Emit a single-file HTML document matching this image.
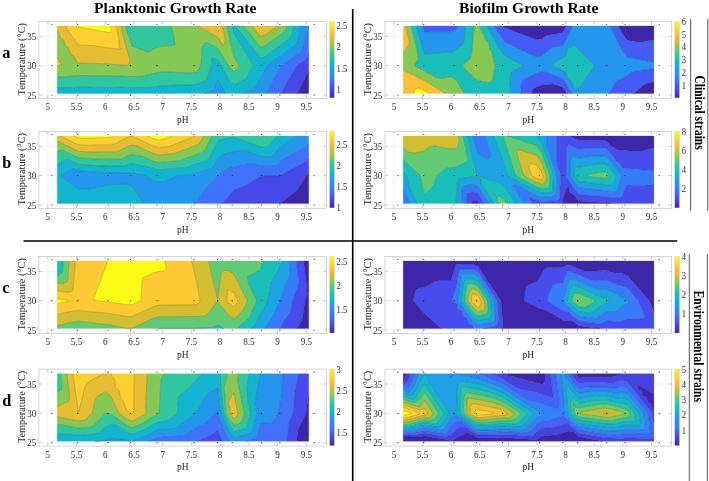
<!DOCTYPE html>
<html><head><meta charset="utf-8"><title>Growth rate contour figure</title>
<style>html,body{margin:0;padding:0;background:#fff}svg{display:block}</style></head>
<body>
<svg width="709" height="481" viewBox="0 0 709 481" font-family="'Liberation Serif', serif">
<rect width="709" height="481" fill="#fff"/>
<defs><linearGradient id="pg" x1="0" y1="1" x2="0" y2="0"><stop offset="0.0000" stop-color="#3e26a8"/><stop offset="0.0357" stop-color="#4131c1"/><stop offset="0.0714" stop-color="#453cd9"/><stop offset="0.1071" stop-color="#4647e7"/><stop offset="0.1429" stop-color="#4852f4"/><stop offset="0.1786" stop-color="#4460f9"/><stop offset="0.2143" stop-color="#416efe"/><stop offset="0.2500" stop-color="#377afa"/><stop offset="0.2857" stop-color="#2e87f7"/><stop offset="0.3214" stop-color="#2792ef"/><stop offset="0.3571" stop-color="#219de8"/><stop offset="0.3929" stop-color="#19a7df"/><stop offset="0.4286" stop-color="#12b1d6"/><stop offset="0.4643" stop-color="#16b8c8"/><stop offset="0.5000" stop-color="#1abeb9"/><stop offset="0.5357" stop-color="#28c3a8"/><stop offset="0.5714" stop-color="#37c897"/><stop offset="0.6071" stop-color="#54c97e"/><stop offset="0.6429" stop-color="#70cb66"/><stop offset="0.6786" stop-color="#91c74e"/><stop offset="0.7143" stop-color="#b3c437"/><stop offset="0.7500" stop-color="#d2bf31"/><stop offset="0.7857" stop-color="#eabb33"/><stop offset="0.8214" stop-color="#f7be36"/><stop offset="0.8571" stop-color="#fec338"/><stop offset="0.8929" stop-color="#fdd130"/><stop offset="0.9286" stop-color="#fbde29"/><stop offset="0.9643" stop-color="#faec1f"/><stop offset="1.0000" stop-color="#f9fb15"/></linearGradient></defs>
<path d="M47.8 21.6V97.9M76.5 21.6V97.9M105.3 21.6V97.9M134.0 21.6V97.9M162.7 21.6V97.9M191.4 21.6V97.9M220.1 21.6V97.9M248.9 21.6V97.9M277.6 21.6V97.9M306.3 21.6V97.9M39.2 95.0H326.4M39.2 65.6H326.4M39.2 36.3H326.4" stroke="#e6e6e6" stroke-width="0.5" fill="none"/>
<path fill="#3e26a8" stroke="#3e26a8" stroke-width="0.3" fill-rule="evenodd" d="M296.9 93.5L298.0 93.5L303.3 93.5L308.7 93.5L308.7 92.1L308.7 90.7L308.7 89.2L308.7 87.8L308.7 86.3L308.7 84.9L308.7 83.5L308.7 82.0L308.7 80.6L308.7 79.2L308.7 77.7L308.7 76.3L308.7 74.8L308.7 73.4L308.7 72.0L308.7 71.1L308.3 72.0L307.5 73.4L306.8 74.8L306.0 76.3L305.2 77.7L304.5 79.2L303.7 80.6L303.3 81.3L303.0 82.0L302.2 83.5L301.4 84.9L300.7 86.3L299.9 87.8L299.2 89.2L298.4 90.7L298.0 91.5L297.7 92.1Z"/>
<path fill="#4648e8" stroke="#4648e8" stroke-width="0.3" fill-rule="evenodd" d="M280.7 93.5L281.9 93.5L287.3 93.5L292.6 93.5L296.9 93.5L297.7 92.1L298.0 91.5L298.4 90.7L299.2 89.2L299.9 87.8L300.7 86.3L301.4 84.9L302.2 83.5L303.0 82.0L303.3 81.3L303.7 80.6L304.5 79.2L305.2 77.7L306.0 76.3L306.8 74.8L307.5 73.4L308.3 72.0L308.7 71.1L308.7 70.5L308.7 69.1L308.7 67.7L308.7 66.2L308.7 64.8L308.7 63.3L308.7 61.9L308.7 60.5L308.7 59.0L308.7 57.6L308.7 56.2L308.7 54.7L308.7 53.9L308.4 54.7L307.9 56.2L307.1 57.6L306.0 59.0L304.0 60.5L303.3 60.9L301.9 61.9L299.9 63.3L298.0 64.6L297.8 64.8L296.2 66.2L295.4 67.7L294.6 69.1L293.8 70.5L293.0 72.0L292.6 72.5L292.1 73.4L291.3 74.8L290.5 76.3L289.7 77.7L288.9 79.2L288.1 80.6L287.3 81.9L287.2 82.0L286.4 83.5L285.6 84.9L284.8 86.3L284.0 87.8L283.2 89.2L282.3 90.7L281.9 91.3L281.5 92.1Z"/>
<path fill="#3f71fd" stroke="#3f71fd" stroke-width="0.3" fill-rule="evenodd" d="M266.0 93.5L271.2 93.5L276.6 93.5L280.7 93.5L281.5 92.1L281.9 91.3L282.3 90.7L283.2 89.2L284.0 87.8L284.8 86.3L285.6 84.9L286.4 83.5L287.2 82.0L287.3 81.9L288.1 80.6L288.9 79.2L289.7 77.7L290.5 76.3L291.3 74.8L292.1 73.4L292.6 72.5L293.0 72.0L293.8 70.5L294.6 69.1L295.4 67.7L296.2 66.2L297.8 64.8L298.0 64.6L299.9 63.3L301.9 61.9L303.3 60.9L304.0 60.5L306.0 59.0L307.1 57.6L307.9 56.2L308.4 54.7L308.7 53.9L308.7 53.3L308.7 51.8L308.7 50.4L308.7 49.0L308.7 47.5L308.7 46.1L308.7 44.7L308.7 43.2L308.7 41.8L308.7 40.3L308.7 38.9L308.7 37.5L308.7 36.0L308.7 34.6L308.7 33.2L308.7 31.7L308.7 30.3L308.7 28.8L308.7 27.4L308.7 26.0L308.6 26.0L308.2 27.4L307.9 28.8L307.5 30.3L307.1 31.7L306.7 33.2L306.4 34.6L306.0 36.0L305.6 37.5L305.3 38.9L304.9 40.3L304.5 41.8L304.2 43.2L303.8 44.7L303.4 46.1L303.3 46.4L303.0 47.5L302.5 49.0L301.8 50.4L300.8 51.8L299.2 53.3L298.0 54.1L297.1 54.7L295.0 56.2L293.0 57.6L292.6 57.8L290.9 59.0L288.8 60.5L287.3 61.5L286.7 61.9L284.7 63.3L282.6 64.8L281.9 65.4L281.1 66.2L280.3 67.7L279.5 69.1L278.7 70.5L278.0 72.0L277.2 73.4L276.6 74.5L276.4 74.8L275.6 76.3L274.9 77.7L274.1 79.2L273.4 80.6L272.6 82.0L271.8 83.5L271.2 84.4L271.0 84.9L270.1 86.3L269.3 87.8L268.5 89.2L267.7 90.7L266.8 92.1Z"/>
<path fill="#2596ed" stroke="#2596ed" stroke-width="0.3" fill-rule="evenodd" d="M204.7 93.5L207.0 93.5L212.4 93.5L217.7 93.5L223.1 93.5L225.9 93.5L225.0 92.1L224.1 90.7L223.3 89.2L223.1 88.8L222.4 87.8L221.6 86.3L220.7 84.9L219.9 83.5L219.0 82.0L218.2 80.6L217.7 79.8L217.4 80.6L216.9 82.0L216.4 83.5L215.8 84.9L215.3 86.3L214.7 87.8L213.9 89.2L212.5 90.7L212.4 90.7L208.6 92.1L207.0 92.7ZM243.6 93.5L244.5 93.5L249.8 93.5L255.2 93.5L260.5 93.5L265.9 93.5L266.0 93.5L266.8 92.1L267.7 90.7L268.5 89.2L269.3 87.8L270.1 86.3L271.0 84.9L271.2 84.4L271.8 83.5L272.6 82.0L273.4 80.6L274.1 79.2L274.9 77.7L275.6 76.3L276.4 74.8L276.6 74.5L277.2 73.4L278.0 72.0L278.7 70.5L279.5 69.1L280.3 67.7L281.1 66.2L281.9 65.4L282.6 64.8L284.7 63.3L286.7 61.9L287.3 61.5L288.8 60.5L290.9 59.0L292.6 57.8L293.0 57.6L295.0 56.2L297.1 54.7L298.0 54.1L299.2 53.3L300.8 51.8L301.8 50.4L302.5 49.0L303.0 47.5L303.3 46.4L303.4 46.1L303.8 44.7L304.2 43.2L304.5 41.8L304.9 40.3L305.3 38.9L305.6 37.5L306.0 36.0L306.4 34.6L306.7 33.2L307.1 31.7L307.5 30.3L307.9 28.8L308.2 27.4L308.6 26.0L303.3 26.0L301.3 26.0L301.0 27.4L300.6 28.8L300.2 30.3L299.8 31.7L299.5 33.2L299.1 34.6L298.7 36.0L298.4 37.5L298.0 38.9L298.0 38.9L297.6 40.3L297.1 41.8L296.5 43.2L295.6 44.7L294.3 46.1L292.6 47.3L292.3 47.5L290.2 49.0L288.1 50.4L287.3 51.0L286.1 51.8L284.0 53.3L281.9 54.7L281.9 54.7L279.9 56.2L277.9 57.6L276.6 58.5L275.9 59.0L274.0 60.5L272.1 61.9L271.2 62.5L270.2 63.3L268.3 64.8L266.8 66.2L266.1 67.7L265.9 68.0L265.3 69.1L264.5 70.5L263.7 72.0L262.9 73.4L262.1 74.8L261.3 76.3L260.5 77.6L260.5 77.7L259.7 79.2L258.9 80.6L258.1 82.0L257.3 83.5L256.5 84.9L255.7 86.3L255.2 87.4L254.8 87.8L252.6 89.2L249.8 90.5L249.6 90.7L246.6 92.1L244.5 93.1Z"/>
<path fill="#13b4d0" stroke="#13b4d0" stroke-width="0.3" fill-rule="evenodd" d="M57.2 93.5L62.5 93.5L67.9 93.5L73.2 93.5L78.6 93.5L83.9 93.5L89.3 93.5L94.6 93.5L100.0 93.5L105.3 93.5L110.7 93.5L116.1 93.5L121.4 93.5L126.8 93.5L132.1 93.5L137.5 93.5L142.8 93.5L148.2 93.5L153.5 93.5L158.9 93.5L164.2 93.5L169.6 93.5L174.9 93.5L180.3 93.5L185.6 93.5L191.0 93.5L196.3 93.5L201.7 93.5L204.7 93.5L207.0 92.7L208.6 92.1L212.4 90.7L212.5 90.7L213.9 89.2L214.7 87.8L215.3 86.3L215.8 84.9L216.4 83.5L216.9 82.0L217.4 80.6L217.7 79.8L218.2 80.6L219.0 82.0L219.9 83.5L220.7 84.9L221.6 86.3L222.4 87.8L223.1 88.8L223.3 89.2L224.1 90.7L225.0 92.1L225.9 93.5L228.4 93.5L233.8 93.5L239.1 93.5L243.6 93.5L244.5 93.1L246.6 92.1L249.6 90.7L249.8 90.5L252.6 89.2L254.8 87.8L255.2 87.4L255.7 86.3L256.5 84.9L257.3 83.5L258.1 82.0L258.9 80.6L259.7 79.2L260.5 77.7L260.5 77.6L261.3 76.3L262.1 74.8L262.9 73.4L263.7 72.0L264.5 70.5L265.3 69.1L265.9 68.0L266.1 67.7L266.8 66.2L268.3 64.8L270.2 63.3L271.2 62.5L272.1 61.9L274.0 60.5L275.9 59.0L276.6 58.5L277.9 57.6L279.9 56.2L281.9 54.7L281.9 54.7L284.0 53.3L286.1 51.8L287.3 51.0L288.1 50.4L290.2 49.0L292.3 47.5L292.6 47.3L294.3 46.1L295.6 44.7L296.5 43.2L297.1 41.8L297.6 40.3L298.0 38.9L298.0 38.9L298.4 37.5L298.7 36.0L299.1 34.6L299.5 33.2L299.8 31.7L300.2 30.3L300.6 28.8L301.0 27.4L301.3 26.0L298.0 26.0L294.0 26.0L293.7 27.4L293.3 28.8L292.9 30.3L292.6 31.4L292.6 31.7L292.2 33.2L291.8 34.6L291.2 36.0L290.4 37.5L289.2 38.9L287.5 40.3L287.3 40.5L285.4 41.8L283.3 43.2L281.9 44.2L281.3 44.7L279.2 46.1L277.2 47.5L276.6 48.0L275.2 49.0L273.2 50.4L271.3 51.8L271.2 51.9L269.4 53.3L267.5 54.7L265.9 55.9L265.2 56.2L261.6 57.6L260.5 58.0L260.2 57.6L259.1 56.2L258.0 54.7L256.8 53.3L255.7 51.8L255.2 51.2L254.4 50.4L253.5 49.0L252.3 47.5L251.2 46.1L250.1 44.7L249.8 44.4L248.5 43.2L247.8 41.8L246.7 40.3L245.6 38.9L244.5 37.5L244.3 37.5L242.6 36.0L242.0 34.6L241.1 33.2L239.9 31.7L239.1 30.7L237.8 30.3L236.5 28.8L236.1 27.4L235.4 26.0L233.8 26.0L232.6 26.0L232.5 27.4L232.8 28.8L233.1 30.3L233.5 31.7L233.8 33.1L233.9 33.2L234.7 34.6L235.5 36.0L236.4 37.5L237.3 38.9L238.1 40.3L239.0 41.8L239.1 42.1L239.8 43.2L240.7 44.7L241.5 46.1L242.4 47.5L243.2 49.0L244.1 50.4L244.5 51.1L244.9 51.8L245.8 53.3L246.6 54.7L247.5 56.2L248.4 57.6L249.2 59.0L249.8 60.1L250.1 60.5L250.9 61.9L251.8 63.3L252.6 64.8L252.8 66.2L252.0 67.7L251.2 69.1L250.4 70.5L249.8 71.6L249.7 72.0L248.9 73.4L248.1 74.8L247.3 76.3L246.5 77.7L245.2 79.2L244.5 79.8L242.7 80.6L239.7 82.0L239.1 82.3L236.7 83.5L233.8 84.9L232.6 83.5L231.4 82.0L230.1 80.6L228.9 79.2L228.4 78.6L227.9 77.7L227.2 76.3L226.4 74.8L225.7 73.4L224.9 72.0L224.1 70.5L223.3 69.1L223.1 68.6L222.5 67.7L221.8 66.2L220.9 64.8L220.0 63.3L219.1 61.9L218.2 60.5L217.7 59.7L213.8 59.0L212.6 57.6L212.4 57.3L212.3 57.6L212.1 59.0L212.0 60.5L211.9 61.9L211.7 63.3L211.6 64.8L211.3 66.2L210.8 67.7L210.3 69.1L209.8 70.5L209.3 72.0L208.8 73.4L208.3 74.8L207.7 76.3L207.2 77.7L207.0 78.3L206.5 79.2L205.2 80.6L202.7 82.0L201.7 82.4L198.7 83.5L196.3 84.3L192.3 84.9L191.0 85.1L185.6 84.9L185.5 84.9L180.3 84.8L178.5 84.9L174.9 85.1L169.6 85.4L164.2 85.7L158.9 86.0L157.0 86.3L153.5 87.0L148.2 87.7L142.8 87.6L137.5 87.5L132.1 87.4L126.8 87.2L121.4 87.1L116.1 87.3L110.7 87.4L105.3 87.4L100.0 87.3L94.6 87.2L89.3 87.1L83.9 87.0L78.6 86.9L73.2 87.4L67.9 87.6L62.5 87.6L57.2 87.6L57.2 87.8L57.2 89.2L57.2 90.7L57.2 92.1Z"/>
<path fill="#31c69e" stroke="#31c69e" stroke-width="0.3" fill-rule="evenodd" d="M57.2 86.3L57.2 87.6L62.5 87.6L67.9 87.6L73.2 87.4L78.6 86.9L83.9 87.0L89.3 87.1L94.6 87.2L100.0 87.3L105.3 87.4L110.7 87.4L116.1 87.3L121.4 87.1L126.8 87.2L132.1 87.4L137.5 87.5L142.8 87.6L148.2 87.7L153.5 87.0L157.0 86.3L158.9 86.0L164.2 85.7L169.6 85.4L174.9 85.1L178.5 84.9L180.3 84.8L185.5 84.9L185.6 84.9L191.0 85.1L192.3 84.9L196.3 84.3L198.7 83.5L201.7 82.4L202.7 82.0L205.2 80.6L206.5 79.2L207.0 78.3L207.2 77.7L207.7 76.3L208.3 74.8L208.8 73.4L209.3 72.0L209.8 70.5L210.3 69.1L210.8 67.7L211.3 66.2L211.6 64.8L211.7 63.3L211.9 61.9L212.0 60.5L212.1 59.0L212.3 57.6L212.4 57.3L212.6 57.6L213.8 59.0L217.7 59.7L218.2 60.5L219.1 61.9L220.0 63.3L220.9 64.8L221.8 66.2L222.5 67.7L223.1 68.6L223.3 69.1L224.1 70.5L224.9 72.0L225.7 73.4L226.4 74.8L227.2 76.3L227.9 77.7L228.4 78.6L228.9 79.2L230.1 80.6L231.4 82.0L232.6 83.5L233.8 84.9L236.7 83.5L239.1 82.3L239.7 82.0L242.7 80.6L244.5 79.8L245.2 79.2L246.5 77.7L247.3 76.3L248.1 74.8L248.9 73.4L249.7 72.0L249.8 71.6L250.4 70.5L251.2 69.1L252.0 67.7L252.8 66.2L252.6 64.8L251.8 63.3L250.9 61.9L250.1 60.5L249.8 60.1L249.2 59.0L248.4 57.6L247.5 56.2L246.6 54.7L245.8 53.3L244.9 51.8L244.5 51.1L244.1 50.4L243.2 49.0L242.4 47.5L241.5 46.1L240.7 44.7L239.8 43.2L239.1 42.1L239.0 41.8L238.1 40.3L237.3 38.9L236.4 37.5L235.5 36.0L234.7 34.6L233.9 33.2L233.8 33.1L233.5 31.7L233.1 30.3L232.8 28.8L232.5 27.4L232.6 26.0L228.4 26.0L227.0 26.0L227.3 27.4L227.5 28.8L227.8 30.3L228.1 31.7L228.3 33.2L228.4 33.6L228.7 34.6L229.0 36.0L229.3 37.5L229.7 38.9L230.0 40.3L230.3 41.8L230.7 43.2L231.0 44.7L231.3 46.1L231.7 47.5L232.0 49.0L232.3 50.4L232.7 51.8L233.0 53.3L233.4 54.7L233.7 56.2L233.8 56.5L234.4 57.6L235.3 59.0L236.1 60.5L237.0 61.9L237.8 63.3L238.7 64.8L238.8 66.2L238.0 67.7L236.9 69.1L235.3 70.5L233.8 71.5L232.9 70.5L231.7 69.1L230.5 67.7L229.3 66.2L228.4 65.3L228.1 64.8L227.2 63.3L226.3 61.9L225.4 60.5L224.4 59.0L223.5 57.6L223.1 56.9L222.6 56.2L221.7 54.7L220.8 53.3L219.9 51.8L219.0 50.4L218.1 49.0L217.7 48.4L216.2 47.5L213.7 46.1L212.4 45.3L211.2 44.7L208.5 43.2L207.0 42.4L204.6 43.2L203.2 44.7L202.6 46.1L202.3 47.5L202.1 49.0L202.0 50.4L201.9 51.8L201.7 53.3L201.7 53.8L201.6 54.7L201.5 56.2L201.3 57.6L201.2 59.0L201.1 60.5L200.9 61.9L200.8 63.3L200.7 64.8L200.4 66.2L199.9 67.7L199.2 69.1L198.1 70.5L196.5 72.0L196.3 72.1L191.0 72.9L185.6 72.7L180.3 72.5L174.9 72.3L169.6 72.1L164.2 72.0L158.9 72.3L153.5 73.3L153.2 73.4L148.2 74.7L147.7 74.8L142.8 76.1L141.2 76.3L137.5 76.6L132.1 76.5L126.8 76.3L126.2 76.3L121.4 76.0L116.1 75.8L110.7 75.9L105.3 75.9L100.0 75.8L94.6 75.7L89.3 75.6L83.9 75.5L78.6 75.4L73.2 75.9L69.8 76.3L67.9 76.5L62.5 77.1L57.2 77.1L57.2 77.7L57.2 79.2L57.2 80.6L57.2 82.0L57.2 83.5L57.2 84.9ZM260.2 57.6L260.5 58.0L261.6 57.6L265.2 56.2L265.9 55.9L267.5 54.7L269.4 53.3L271.2 51.9L271.3 51.8L273.2 50.4L275.2 49.0L276.6 48.0L277.2 47.5L279.2 46.1L281.3 44.7L281.9 44.2L283.3 43.2L285.4 41.8L287.3 40.5L287.5 40.3L289.2 38.9L290.4 37.5L291.2 36.0L291.8 34.6L292.2 33.2L292.6 31.7L292.6 31.4L292.9 30.3L293.3 28.8L293.7 27.4L294.0 26.0L292.6 26.0L287.3 26.0L286.8 26.0L286.4 27.4L285.8 28.8L285.1 30.3L284.1 31.7L282.6 33.2L281.9 33.6L280.6 34.6L278.6 36.0L276.6 37.4L276.5 37.5L274.5 38.9L272.5 40.3L271.2 41.3L270.5 41.8L268.6 43.2L266.6 44.7L265.9 45.2L263.7 46.1L260.5 47.3L259.6 46.1L258.4 44.7L257.3 43.2L256.2 41.8L255.2 40.5L255.1 40.3L253.9 38.9L252.8 37.5L251.7 36.0L250.6 34.6L249.8 33.7L249.4 33.2L248.3 31.7L247.2 30.3L246.0 28.8L244.9 27.4L244.5 26.9L243.8 26.0L239.1 26.0L235.4 26.0L236.1 27.4L236.5 28.8L237.8 30.3L239.1 30.7L239.9 31.7L241.1 33.2L242.0 34.6L242.6 36.0L244.3 37.5L244.5 37.5L245.6 38.9L246.7 40.3L247.8 41.8L248.5 43.2L249.8 44.4L250.1 44.7L251.2 46.1L252.3 47.5L253.5 49.0L254.4 50.4L255.2 51.2L255.7 51.8L256.8 53.3L258.0 54.7L259.1 56.2ZM147.2 51.8L148.2 52.2L149.2 51.8L151.5 50.4L153.5 49.1L153.9 49.0L157.1 47.5L158.9 46.8L164.2 46.2L165.4 46.1L169.6 45.7L174.9 45.1L175.2 44.7L175.1 43.2L174.9 42.3L174.7 41.8L174.4 40.3L174.2 38.9L173.9 37.5L173.6 36.0L173.3 34.6L173.0 33.2L172.8 31.7L172.5 30.3L172.2 28.8L171.9 27.4L171.6 26.0L169.6 26.0L164.2 26.0L158.9 26.0L153.5 26.0L148.2 26.0L142.8 26.0L137.5 26.0L132.1 26.0L126.8 26.0L125.7 26.0L126.1 27.4L126.4 28.8L126.8 30.2L126.8 30.3L127.3 31.7L127.7 33.2L128.2 34.6L128.7 36.0L129.2 37.5L129.7 38.9L130.2 40.3L130.6 41.8L131.1 43.2L131.6 44.7L132.1 46.1L132.1 46.2L135.7 47.5L137.5 48.2L139.5 49.0L142.8 50.2L143.5 50.4Z"/>
<path fill="#86c856" stroke="#86c856" stroke-width="0.3" fill-rule="evenodd" d="M57.2 76.3L57.2 77.1L62.5 77.1L67.9 76.5L69.8 76.3L73.2 75.9L78.6 75.4L83.9 75.5L89.3 75.6L94.6 75.7L100.0 75.8L105.3 75.9L110.7 75.9L116.1 75.8L121.4 76.0L126.2 76.3L126.8 76.3L132.1 76.5L137.5 76.6L141.2 76.3L142.8 76.1L147.7 74.8L148.2 74.7L153.2 73.4L153.5 73.3L158.9 72.3L164.2 72.0L169.6 72.1L174.9 72.3L180.3 72.5L185.6 72.7L191.0 72.9L196.3 72.1L196.5 72.0L198.1 70.5L199.2 69.1L199.9 67.7L200.4 66.2L200.7 64.8L200.8 63.3L200.9 61.9L201.1 60.5L201.2 59.0L201.3 57.6L201.5 56.2L201.6 54.7L201.7 53.8L201.7 53.3L201.9 51.8L202.0 50.4L202.1 49.0L202.3 47.5L202.6 46.1L203.2 44.7L204.6 43.2L207.0 42.4L208.5 43.2L211.2 44.7L212.4 45.3L213.7 46.1L216.2 47.5L217.7 48.4L218.1 49.0L219.0 50.4L219.9 51.8L220.8 53.3L221.7 54.7L222.6 56.2L223.1 56.9L223.5 57.6L224.4 59.0L225.4 60.5L226.3 61.9L227.2 63.3L228.1 64.8L228.4 65.3L229.3 66.2L230.5 67.7L231.7 69.1L232.9 70.5L233.8 71.5L235.3 70.5L236.9 69.1L238.0 67.7L238.8 66.2L238.7 64.8L237.8 63.3L237.0 61.9L236.1 60.5L235.3 59.0L234.4 57.6L233.8 56.5L233.7 56.2L233.4 54.7L233.0 53.3L232.7 51.8L232.3 50.4L232.0 49.0L231.7 47.5L231.3 46.1L231.0 44.7L230.7 43.2L230.3 41.8L230.0 40.3L229.7 38.9L229.3 37.5L229.0 36.0L228.7 34.6L228.4 33.6L228.3 33.2L228.1 31.7L227.8 30.3L227.5 28.8L227.3 27.4L227.0 26.0L223.1 26.0L222.6 26.0L222.8 27.4L223.1 28.4L223.2 28.8L223.4 30.3L223.7 31.7L224.0 33.2L224.2 34.6L224.5 36.0L224.8 37.5L225.0 38.9L225.2 40.3L224.9 41.8L224.5 43.2L223.8 44.7L223.1 45.6L222.5 44.7L221.6 43.2L220.6 41.8L219.7 40.3L219.1 38.9L218.0 37.5L217.7 37.2L215.7 36.0L213.3 34.6L212.4 34.1L210.7 33.2L208.1 31.7L207.0 31.1L205.5 30.3L202.9 28.8L201.7 28.2L200.3 27.4L197.6 26.0L196.3 26.0L191.0 26.0L185.6 26.0L180.3 26.0L174.9 26.0L171.6 26.0L171.9 27.4L172.2 28.8L172.5 30.3L172.8 31.7L173.0 33.2L173.3 34.6L173.6 36.0L173.9 37.5L174.2 38.9L174.4 40.3L174.7 41.8L174.9 42.3L175.1 43.2L175.2 44.7L174.9 45.1L169.6 45.7L165.4 46.1L164.2 46.2L158.9 46.8L157.1 47.5L153.9 49.0L153.5 49.1L151.5 50.4L149.2 51.8L148.2 52.2L147.2 51.8L143.5 50.4L142.8 50.2L139.5 49.0L137.5 48.2L135.7 47.5L132.1 46.2L132.1 46.1L131.6 44.7L131.1 43.2L130.6 41.8L130.2 40.3L129.7 38.9L129.2 37.5L128.7 36.0L128.2 34.6L127.7 33.2L127.3 31.7L126.8 30.3L126.8 30.2L126.4 28.8L126.1 27.4L125.7 26.0L121.4 26.0L120.8 26.0L121.1 27.4L121.4 28.5L121.5 28.8L121.8 30.3L122.2 31.7L122.6 33.2L122.9 34.6L123.3 36.0L123.6 37.5L124.0 38.9L124.3 40.3L124.7 41.8L125.0 43.2L125.4 44.7L125.7 46.1L126.1 47.5L126.4 49.0L126.8 50.3L126.8 50.4L127.3 51.8L127.8 53.3L128.3 54.7L128.7 56.2L129.2 57.6L129.6 59.0L129.5 60.5L129.4 61.9L129.3 63.3L128.6 64.8L126.8 65.3L121.4 64.9L118.6 64.8L116.1 64.6L110.7 64.2L105.3 63.8L100.0 63.6L94.6 63.4L91.4 63.3L89.3 63.3L83.9 63.1L78.6 63.0L76.9 61.9L75.9 60.5L75.4 59.0L74.5 57.6L73.4 56.2L73.2 55.9L71.3 54.7L70.4 53.3L69.9 51.8L69.6 50.4L68.8 49.0L67.9 47.5L67.9 47.5L65.7 46.1L64.9 44.7L64.4 43.2L64.2 41.8L63.4 40.3L62.5 39.0L62.2 38.9L60.2 37.5L59.4 36.0L59.0 34.6L58.8 33.2L57.9 31.7L57.2 30.6L57.2 31.7L57.2 33.2L57.2 34.6L57.2 36.0L57.2 37.5L57.2 38.9L57.2 40.3L57.2 41.8L57.2 43.2L57.2 44.7L57.2 46.1L57.2 47.5L57.2 49.0L57.2 50.4L57.2 51.8L57.2 53.3L57.2 54.7L57.2 56.2L57.2 57.2L57.4 57.6L58.3 59.0L59.1 60.5L60.0 61.9L60.8 63.3L61.7 64.8L57.2 66.1L57.2 66.2L57.2 67.7L57.2 69.1L57.2 70.5L57.2 72.0L57.2 73.4L57.2 74.8ZM259.6 46.1L260.5 47.3L263.7 46.1L265.9 45.2L266.6 44.7L268.6 43.2L270.5 41.8L271.2 41.3L272.5 40.3L274.5 38.9L276.5 37.5L276.6 37.4L278.6 36.0L280.6 34.6L281.9 33.6L282.6 33.2L284.1 31.7L285.1 30.3L285.8 28.8L286.4 27.4L286.8 26.0L281.9 26.0L277.7 26.0L276.6 26.9L275.9 27.4L273.9 28.8L271.8 30.3L271.2 30.7L269.8 31.7L267.8 33.2L265.9 34.6L265.8 34.6L262.1 36.0L260.5 36.7L260.0 36.0L258.9 34.6L257.8 33.2L256.7 31.7L255.5 30.3L255.2 29.8L254.4 28.8L253.3 27.4L252.2 26.0L249.8 26.0L244.5 26.0L243.8 26.0L244.5 26.9L244.9 27.4L246.0 28.8L247.2 30.3L248.3 31.7L249.4 33.2L249.8 33.7L250.6 34.6L251.7 36.0L252.8 37.5L253.9 38.9L255.1 40.3L255.2 40.5L256.2 41.8L257.3 43.2L258.4 44.7Z"/>
<path fill="#e5bc32" stroke="#e5bc32" stroke-width="0.3" fill-rule="evenodd" d="M57.2 64.8L57.2 66.1L61.7 64.8L60.8 63.3L60.0 61.9L59.1 60.5L58.3 59.0L57.4 57.6L57.2 57.2L57.2 57.6L57.2 59.0L57.2 60.5L57.2 61.9L57.2 63.3ZM118.6 64.8L121.4 64.9L126.8 65.3L128.6 64.8L129.3 63.3L129.4 61.9L129.5 60.5L129.6 59.0L129.2 57.6L128.7 56.2L128.3 54.7L127.8 53.3L127.3 51.8L126.8 50.4L126.8 50.3L126.4 49.0L126.1 47.5L125.7 46.1L125.4 44.7L125.0 43.2L124.7 41.8L124.3 40.3L124.0 38.9L123.6 37.5L123.3 36.0L122.9 34.6L122.6 33.2L122.2 31.7L121.8 30.3L121.5 28.8L121.4 28.5L121.1 27.4L120.8 26.0L116.1 26.0L115.9 26.0L116.1 26.7L116.2 27.4L116.6 28.8L116.9 30.3L117.3 31.7L117.6 33.2L118.0 34.6L118.3 36.0L118.7 37.5L119.0 38.9L119.1 40.3L119.1 41.8L119.1 43.2L119.1 44.7L119.2 46.1L119.4 47.5L121.4 48.7L121.5 49.0L121.4 49.2L118.5 49.0L116.1 48.8L110.7 48.4L105.3 47.7L104.2 47.5L100.0 46.8L96.3 46.1L94.6 45.8L89.3 45.4L83.9 45.3L78.6 45.1L78.3 44.7L77.2 43.2L76.1 41.8L75.0 40.3L73.9 38.9L73.2 38.1L72.9 37.5L72.0 36.0L71.0 34.6L70.1 33.2L69.2 31.7L68.3 30.3L67.9 29.6L67.4 28.8L66.5 27.4L65.6 26.0L62.5 26.0L57.2 26.0L57.2 27.4L57.2 28.8L57.2 30.3L57.2 30.6L57.9 31.7L58.8 33.2L59.0 34.6L59.4 36.0L60.2 37.5L62.2 38.9L62.5 39.0L63.4 40.3L64.2 41.8L64.4 43.2L64.9 44.7L65.7 46.1L67.9 47.5L67.9 47.5L68.8 49.0L69.6 50.4L69.9 51.8L70.4 53.3L71.3 54.7L73.2 55.9L73.4 56.2L74.5 57.6L75.4 59.0L75.9 60.5L76.9 61.9L78.6 63.0L83.9 63.1L89.3 63.3L91.4 63.3L94.6 63.4L100.0 63.6L105.3 63.8L110.7 64.2L116.1 64.6ZM222.5 44.7L223.1 45.6L223.8 44.7L224.5 43.2L224.9 41.8L225.2 40.3L225.0 38.9L224.8 37.5L224.5 36.0L224.2 34.6L224.0 33.2L223.7 31.7L223.4 30.3L223.2 28.8L223.1 28.4L222.8 27.4L222.6 26.0L217.7 26.0L212.4 26.0L207.0 26.0L201.7 26.0L197.6 26.0L200.3 27.4L201.7 28.2L202.9 28.8L205.5 30.3L207.0 31.1L208.1 31.7L210.7 33.2L212.4 34.1L213.3 34.6L215.7 36.0L217.7 37.2L218.0 37.5L219.1 38.9L219.7 40.3L220.6 41.8L221.6 43.2ZM260.0 36.0L260.5 36.7L262.1 36.0L265.8 34.6L265.9 34.6L267.8 33.2L269.8 31.7L271.2 30.7L271.8 30.3L273.9 28.8L275.9 27.4L276.6 26.9L277.7 26.0L276.6 26.0L271.2 26.0L265.9 26.0L260.6 26.0L260.5 26.0L260.5 26.0L255.2 26.0L252.2 26.0L253.3 27.4L254.4 28.8L255.2 29.8L255.5 30.3L256.7 31.7L257.8 33.2L258.9 34.6Z"/>
<path fill="#fdcf31" stroke="#fdcf31" stroke-width="0.3" fill-rule="evenodd" d="M118.5 49.0L121.4 49.2L121.5 49.0L121.4 48.7L119.4 47.5L119.2 46.1L119.1 44.7L119.1 43.2L119.1 41.8L119.1 40.3L119.0 38.9L118.7 37.5L118.3 36.0L118.0 34.6L117.6 33.2L117.3 31.7L116.9 30.3L116.6 28.8L116.2 27.4L116.1 26.7L115.9 26.0L110.9 26.0L111.3 27.4L111.6 28.8L111.5 30.3L111.1 31.7L110.7 32.6L105.3 31.9L104.2 31.7L100.0 31.0L96.3 30.3L94.6 30.0L89.3 29.0L88.4 28.8L83.9 28.0L79.6 27.4L78.6 27.2L77.6 26.0L73.2 26.0L67.9 26.0L65.6 26.0L66.5 27.4L67.4 28.8L67.9 29.6L68.3 30.3L69.2 31.7L70.1 33.2L71.0 34.6L72.0 36.0L72.9 37.5L73.2 38.1L73.9 38.9L75.0 40.3L76.1 41.8L77.2 43.2L78.3 44.7L78.6 45.1L83.9 45.3L89.3 45.4L94.6 45.8L96.3 46.1L100.0 46.8L104.2 47.5L105.3 47.7L110.7 48.4L116.1 48.8ZM260.5 26.0L260.5 26.0L260.6 26.0L260.5 26.0Z"/>
<path fill="#f9fb15" stroke="#f9fb15" stroke-width="0.3" fill-rule="evenodd" d="M104.2 31.7L105.3 31.9L110.7 32.6L111.1 31.7L111.5 30.3L111.6 28.8L111.3 27.4L110.9 26.0L110.7 26.0L105.3 26.0L100.0 26.0L94.6 26.0L89.3 26.0L83.9 26.0L78.6 26.0L77.6 26.0L78.6 27.2L79.6 27.4L83.9 28.0L88.4 28.8L89.3 29.0L94.6 30.0L96.3 30.3L100.0 31.0Z"/>
<path fill="none" stroke="#1a1a1a" stroke-opacity="0.6" stroke-width="0.35" stroke-linejoin="round" d="M296.9 93.5L297.7 92.1L298.0 91.5L298.4 90.7L299.2 89.2L299.9 87.8L300.7 86.3L301.4 84.9L302.2 83.5L303.0 82.0L303.3 81.3L303.7 80.6L304.5 79.2L305.2 77.7L306.0 76.3L306.8 74.8L307.5 73.4L308.3 72.0L308.7 71.1M280.7 93.5L281.5 92.1L281.9 91.3L282.3 90.7L283.2 89.2L284.0 87.8L284.8 86.3L285.6 84.9L286.4 83.5L287.2 82.0L287.3 81.9L288.1 80.6L288.9 79.2L289.7 77.7L290.5 76.3L291.3 74.8L292.1 73.4L292.6 72.5L293.0 72.0L293.8 70.5L294.6 69.1L295.4 67.7L296.2 66.2L297.8 64.8L298.0 64.6L299.9 63.3L301.9 61.9L303.3 60.9L304.0 60.5L306.0 59.0L307.1 57.6L307.9 56.2L308.4 54.7L308.7 53.9M266.0 93.5L266.8 92.1L267.7 90.7L268.5 89.2L269.3 87.8L270.1 86.3L271.0 84.9L271.2 84.4L271.8 83.5L272.6 82.0L273.4 80.6L274.1 79.2L274.9 77.7L275.6 76.3L276.4 74.8L276.6 74.5L277.2 73.4L278.0 72.0L278.7 70.5L279.5 69.1L280.3 67.7L281.1 66.2L281.9 65.4L282.6 64.8L284.7 63.3L286.7 61.9L287.3 61.5L288.8 60.5L290.9 59.0L292.6 57.8L293.0 57.6L295.0 56.2L297.1 54.7L298.0 54.1L299.2 53.3L300.8 51.8L301.8 50.4L302.5 49.0L303.0 47.5L303.3 46.4L303.4 46.1L303.8 44.7L304.2 43.2L304.5 41.8L304.9 40.3L305.3 38.9L305.6 37.5L306.0 36.0L306.4 34.6L306.7 33.2L307.1 31.7L307.5 30.3L307.9 28.8L308.2 27.4L308.6 26.0M204.7 93.5L207.0 92.7L208.6 92.1L212.4 90.7L212.5 90.7L213.9 89.2L214.7 87.8L215.3 86.3L215.8 84.9L216.4 83.5L216.9 82.0L217.4 80.6L217.7 79.8L218.2 80.6L219.0 82.0L219.9 83.5L220.7 84.9L221.6 86.3L222.4 87.8L223.1 88.8L223.3 89.2L224.1 90.7L225.0 92.1L225.9 93.5M243.6 93.5L244.5 93.1L246.6 92.1L249.6 90.7L249.8 90.5L252.6 89.2L254.8 87.8L255.2 87.4L255.7 86.3L256.5 84.9L257.3 83.5L258.1 82.0L258.9 80.6L259.7 79.2L260.5 77.7L260.5 77.6L261.3 76.3L262.1 74.8L262.9 73.4L263.7 72.0L264.5 70.5L265.3 69.1L265.9 68.0L266.1 67.7L266.8 66.2L268.3 64.8L270.2 63.3L271.2 62.5L272.1 61.9L274.0 60.5L275.9 59.0L276.6 58.5L277.9 57.6L279.9 56.2L281.9 54.7L281.9 54.7L284.0 53.3L286.1 51.8L287.3 51.0L288.1 50.4L290.2 49.0L292.3 47.5L292.6 47.3L294.3 46.1L295.6 44.7L296.5 43.2L297.1 41.8L297.6 40.3L298.0 38.9L298.0 38.9L298.4 37.5L298.7 36.0L299.1 34.6L299.5 33.2L299.8 31.7L300.2 30.3L300.6 28.8L301.0 27.4L301.3 26.0M57.2 87.6L62.5 87.6L67.9 87.6L73.2 87.4L78.6 86.9L83.9 87.0L89.3 87.1L94.6 87.2L100.0 87.3L105.3 87.4L110.7 87.4L116.1 87.3L121.4 87.1L126.8 87.2L132.1 87.4L137.5 87.5L142.8 87.6L148.2 87.7L153.5 87.0L157.0 86.3L158.9 86.0L164.2 85.7L169.6 85.4L174.9 85.1L178.5 84.9L180.3 84.8L185.5 84.9L185.6 84.9L191.0 85.1L192.3 84.9L196.3 84.3L198.7 83.5L201.7 82.4L202.7 82.0L205.2 80.6L206.5 79.2L207.0 78.3L207.2 77.7L207.7 76.3L208.3 74.8L208.8 73.4L209.3 72.0L209.8 70.5L210.3 69.1L210.8 67.7L211.3 66.2L211.6 64.8L211.7 63.3L211.9 61.9L212.0 60.5L212.1 59.0L212.3 57.6L212.4 57.3L212.6 57.6L213.8 59.0L217.7 59.7L218.2 60.5L219.1 61.9L220.0 63.3L220.9 64.8L221.8 66.2L222.5 67.7L223.1 68.6L223.3 69.1L224.1 70.5L224.9 72.0L225.7 73.4L226.4 74.8L227.2 76.3L227.9 77.7L228.4 78.6L228.9 79.2L230.1 80.6L231.4 82.0L232.6 83.5L233.8 84.9L236.7 83.5L239.1 82.3L239.7 82.0L242.7 80.6L244.5 79.8L245.2 79.2L246.5 77.7L247.3 76.3L248.1 74.8L248.9 73.4L249.7 72.0L249.8 71.6L250.4 70.5L251.2 69.1L252.0 67.7L252.8 66.2L252.6 64.8L251.8 63.3L250.9 61.9L250.1 60.5L249.8 60.1L249.2 59.0L248.4 57.6L247.5 56.2L246.6 54.7L245.8 53.3L244.9 51.8L244.5 51.1L244.1 50.4L243.2 49.0L242.4 47.5L241.5 46.1L240.7 44.7L239.8 43.2L239.1 42.1L239.0 41.8L238.1 40.3L237.3 38.9L236.4 37.5L235.5 36.0L234.7 34.6L233.9 33.2L233.8 33.1L233.5 31.7L233.1 30.3L232.8 28.8L232.5 27.4L232.6 26.0M235.4 26.0L236.1 27.4L236.5 28.8L237.8 30.3L239.1 30.7L239.9 31.7L241.1 33.2L242.0 34.6L242.6 36.0L244.3 37.5L244.5 37.5L245.6 38.9L246.7 40.3L247.8 41.8L248.5 43.2L249.8 44.4L250.1 44.7L251.2 46.1L252.3 47.5L253.5 49.0L254.4 50.4L255.2 51.2L255.7 51.8L256.8 53.3L258.0 54.7L259.1 56.2L260.2 57.6L260.5 58.0L261.6 57.6L265.2 56.2L265.9 55.9L267.5 54.7L269.4 53.3L271.2 51.9L271.3 51.8L273.2 50.4L275.2 49.0L276.6 48.0L277.2 47.5L279.2 46.1L281.3 44.7L281.9 44.2L283.3 43.2L285.4 41.8L287.3 40.5L287.5 40.3L289.2 38.9L290.4 37.5L291.2 36.0L291.8 34.6L292.2 33.2L292.6 31.7L292.6 31.4L292.9 30.3L293.3 28.8L293.7 27.4L294.0 26.0M57.2 77.1L62.5 77.1L67.9 76.5L69.8 76.3L73.2 75.9L78.6 75.4L83.9 75.5L89.3 75.6L94.6 75.7L100.0 75.8L105.3 75.9L110.7 75.9L116.1 75.8L121.4 76.0L126.2 76.3L126.8 76.3L132.1 76.5L137.5 76.6L141.2 76.3L142.8 76.1L147.7 74.8L148.2 74.7L153.2 73.4L153.5 73.3L158.9 72.3L164.2 72.0L169.6 72.1L174.9 72.3L180.3 72.5L185.6 72.7L191.0 72.9L196.3 72.1L196.5 72.0L198.1 70.5L199.2 69.1L199.9 67.7L200.4 66.2L200.7 64.8L200.8 63.3L200.9 61.9L201.1 60.5L201.2 59.0L201.3 57.6L201.5 56.2L201.6 54.7L201.7 53.8L201.7 53.3L201.9 51.8L202.0 50.4L202.1 49.0L202.3 47.5L202.6 46.1L203.2 44.7L204.6 43.2L207.0 42.4L208.5 43.2L211.2 44.7L212.4 45.3L213.7 46.1L216.2 47.5L217.7 48.4L218.1 49.0L219.0 50.4L219.9 51.8L220.8 53.3L221.7 54.7L222.6 56.2L223.1 56.9L223.5 57.6L224.4 59.0L225.4 60.5L226.3 61.9L227.2 63.3L228.1 64.8L228.4 65.3L229.3 66.2L230.5 67.7L231.7 69.1L232.9 70.5L233.8 71.5L235.3 70.5L236.9 69.1L238.0 67.7L238.8 66.2L238.7 64.8L237.8 63.3L237.0 61.9L236.1 60.5L235.3 59.0L234.4 57.6L233.8 56.5L233.7 56.2L233.4 54.7L233.0 53.3L232.7 51.8L232.3 50.4L232.0 49.0L231.7 47.5L231.3 46.1L231.0 44.7L230.7 43.2L230.3 41.8L230.0 40.3L229.7 38.9L229.3 37.5L229.0 36.0L228.7 34.6L228.4 33.6L228.3 33.2L228.1 31.7L227.8 30.3L227.5 28.8L227.3 27.4L227.0 26.0M171.6 26.0L171.9 27.4L172.2 28.8L172.5 30.3L172.8 31.7L173.0 33.2L173.3 34.6L173.6 36.0L173.9 37.5L174.2 38.9L174.4 40.3L174.7 41.8L174.9 42.3L175.1 43.2L175.2 44.7L174.9 45.1L169.6 45.7L165.4 46.1L164.2 46.2L158.9 46.8L157.1 47.5L153.9 49.0L153.5 49.1L151.5 50.4L149.2 51.8L148.2 52.2L147.2 51.8L143.5 50.4L142.8 50.2L139.5 49.0L137.5 48.2L135.7 47.5L132.1 46.2L132.1 46.1L131.6 44.7L131.1 43.2L130.6 41.8L130.2 40.3L129.7 38.9L129.2 37.5L128.7 36.0L128.2 34.6L127.7 33.2L127.3 31.7L126.8 30.3L126.8 30.2L126.4 28.8L126.1 27.4L125.7 26.0M243.8 26.0L244.5 26.9L244.9 27.4L246.0 28.8L247.2 30.3L248.3 31.7L249.4 33.2L249.8 33.7L250.6 34.6L251.7 36.0L252.8 37.5L253.9 38.9L255.1 40.3L255.2 40.5L256.2 41.8L257.3 43.2L258.4 44.7L259.6 46.1L260.5 47.3L263.7 46.1L265.9 45.2L266.6 44.7L268.6 43.2L270.5 41.8L271.2 41.3L272.5 40.3L274.5 38.9L276.5 37.5L276.6 37.4L278.6 36.0L280.6 34.6L281.9 33.6L282.6 33.2L284.1 31.7L285.1 30.3L285.8 28.8L286.4 27.4L286.8 26.0M57.2 66.1L61.7 64.8L60.8 63.3L60.0 61.9L59.1 60.5L58.3 59.0L57.4 57.6L57.2 57.2M57.2 30.6L57.9 31.7L58.8 33.2L59.0 34.6L59.4 36.0L60.2 37.5L62.2 38.9L62.5 39.0L63.4 40.3L64.2 41.8L64.4 43.2L64.9 44.7L65.7 46.1L67.9 47.5L67.9 47.5L68.8 49.0L69.6 50.4L69.9 51.8L70.4 53.3L71.3 54.7L73.2 55.9L73.4 56.2L74.5 57.6L75.4 59.0L75.9 60.5L76.9 61.9L78.6 63.0L83.9 63.1L89.3 63.3L91.4 63.3L94.6 63.4L100.0 63.6L105.3 63.8L110.7 64.2L116.1 64.6L118.6 64.8L121.4 64.9L126.8 65.3L128.6 64.8L129.3 63.3L129.4 61.9L129.5 60.5L129.6 59.0L129.2 57.6L128.7 56.2L128.3 54.7L127.8 53.3L127.3 51.8L126.8 50.4L126.8 50.3L126.4 49.0L126.1 47.5L125.7 46.1L125.4 44.7L125.0 43.2L124.7 41.8L124.3 40.3L124.0 38.9L123.6 37.5L123.3 36.0L122.9 34.6L122.6 33.2L122.2 31.7L121.8 30.3L121.5 28.8L121.4 28.5L121.1 27.4L120.8 26.0M197.6 26.0L200.3 27.4L201.7 28.2L202.9 28.8L205.5 30.3L207.0 31.1L208.1 31.7L210.7 33.2L212.4 34.1L213.3 34.6L215.7 36.0L217.7 37.2L218.0 37.5L219.1 38.9L219.7 40.3L220.6 41.8L221.6 43.2L222.5 44.7L223.1 45.6L223.8 44.7L224.5 43.2L224.9 41.8L225.2 40.3L225.0 38.9L224.8 37.5L224.5 36.0L224.2 34.6L224.0 33.2L223.7 31.7L223.4 30.3L223.2 28.8L223.1 28.4L222.8 27.4L222.6 26.0M252.2 26.0L253.3 27.4L254.4 28.8L255.2 29.8L255.5 30.3L256.7 31.7L257.8 33.2L258.9 34.6L260.0 36.0L260.5 36.7L262.1 36.0L265.8 34.6L265.9 34.6L267.8 33.2L269.8 31.7L271.2 30.7L271.8 30.3L273.9 28.8L275.9 27.4L276.6 26.9L277.7 26.0M65.6 26.0L66.5 27.4L67.4 28.8L67.9 29.6L68.3 30.3L69.2 31.7L70.1 33.2L71.0 34.6L72.0 36.0L72.9 37.5L73.2 38.1L73.9 38.9L75.0 40.3L76.1 41.8L77.2 43.2L78.3 44.7L78.6 45.1L83.9 45.3L89.3 45.4L94.6 45.8L96.3 46.1L100.0 46.8L104.2 47.5L105.3 47.7L110.7 48.4L116.1 48.8L118.5 49.0L121.4 49.2L121.5 49.0L121.4 48.7L119.4 47.5L119.2 46.1L119.1 44.7L119.1 43.2L119.1 41.8L119.1 40.3L119.0 38.9L118.7 37.5L118.3 36.0L118.0 34.6L117.6 33.2L117.3 31.7L116.9 30.3L116.6 28.8L116.2 27.4L116.1 26.7L115.9 26.0M260.5 26.0L260.5 26.0L260.6 26.0M77.6 26.0L78.6 27.2L79.6 27.4L83.9 28.0L88.4 28.8L89.3 29.0L94.6 30.0L96.3 30.3L100.0 31.0L104.2 31.7L105.3 31.9L110.7 32.6L111.1 31.7L111.5 30.3L111.6 28.8L111.3 27.4L110.9 26.0"/>
<rect x="38.9" y="21.4" width="287.7" height="77.0" fill="none" stroke="#c4c4c4" stroke-width="0.7"/>
<path d="M47.8 97.9v-2.5M47.8 21.6v2.5M76.5 97.9v-2.5M76.5 21.6v2.5M105.3 97.9v-2.5M105.3 21.6v2.5M134.0 97.9v-2.5M134.0 21.6v2.5M162.7 97.9v-2.5M162.7 21.6v2.5M191.4 97.9v-2.5M191.4 21.6v2.5M220.1 97.9v-2.5M220.1 21.6v2.5M248.9 97.9v-2.5M248.9 21.6v2.5M277.6 97.9v-2.5M277.6 21.6v2.5M306.3 97.9v-2.5M306.3 21.6v2.5M39.2 95.0h2.5M326.4 95.0h-2.5M39.2 65.6h2.5M326.4 65.6h-2.5M39.2 36.3h2.5M326.4 36.3h-2.5" stroke="#9a9a9a" stroke-width="0.5" fill="none"/>
<g fill="#222"><circle cx="51.8" cy="95.0" r="0.6"/><circle cx="77.7" cy="95.0" r="0.6"/><circle cx="108.1" cy="95.0" r="0.6"/><circle cx="130.5" cy="95.0" r="0.6"/><circle cx="157.0" cy="95.0" r="0.6"/><circle cx="194.0" cy="95.0" r="0.6"/><circle cx="217.6" cy="95.0" r="0.6"/><circle cx="232.2" cy="95.0" r="0.6"/><circle cx="261.5" cy="95.0" r="0.6"/><circle cx="279.9" cy="95.0" r="0.6"/><circle cx="314.1" cy="95.0" r="0.6"/><circle cx="51.8" cy="65.6" r="0.6"/><circle cx="77.7" cy="65.6" r="0.6"/><circle cx="108.1" cy="65.6" r="0.6"/><circle cx="130.5" cy="65.6" r="0.6"/><circle cx="157.0" cy="65.6" r="0.6"/><circle cx="194.0" cy="65.6" r="0.6"/><circle cx="217.6" cy="65.6" r="0.6"/><circle cx="232.2" cy="65.6" r="0.6"/><circle cx="261.5" cy="65.6" r="0.6"/><circle cx="279.9" cy="65.6" r="0.6"/><circle cx="314.1" cy="65.6" r="0.6"/><circle cx="51.8" cy="24.5" r="0.6"/><circle cx="77.7" cy="24.5" r="0.6"/><circle cx="108.1" cy="24.5" r="0.6"/><circle cx="130.5" cy="24.5" r="0.6"/><circle cx="157.0" cy="24.5" r="0.6"/><circle cx="194.0" cy="24.5" r="0.6"/><circle cx="217.6" cy="24.5" r="0.6"/><circle cx="232.2" cy="24.5" r="0.6"/><circle cx="261.5" cy="24.5" r="0.6"/><circle cx="279.9" cy="24.5" r="0.6"/><circle cx="314.1" cy="24.5" r="0.6"/></g>
<g font-size="10.3" fill="#2b2b2b"><text transform="translate(47.8 110.2) scale(0.88 1)" text-anchor="middle">5</text><text transform="translate(76.5 110.2) scale(0.88 1)" text-anchor="middle">5.5</text><text transform="translate(105.3 110.2) scale(0.88 1)" text-anchor="middle">6</text><text transform="translate(134.0 110.2) scale(0.88 1)" text-anchor="middle">6.5</text><text transform="translate(162.7 110.2) scale(0.88 1)" text-anchor="middle">7</text><text transform="translate(191.4 110.2) scale(0.88 1)" text-anchor="middle">7.5</text><text transform="translate(220.1 110.2) scale(0.88 1)" text-anchor="middle">8</text><text transform="translate(248.9 110.2) scale(0.88 1)" text-anchor="middle">8.5</text><text transform="translate(277.6 110.2) scale(0.88 1)" text-anchor="middle">9</text><text transform="translate(306.3 110.2) scale(0.88 1)" text-anchor="middle">9.5</text><text transform="translate(36.3 98.7) scale(0.88 1)" text-anchor="end">25</text><text transform="translate(36.3 69.3) scale(0.88 1)" text-anchor="end">30</text><text transform="translate(36.3 40.0) scale(0.88 1)" text-anchor="end">35</text></g>
<text transform="translate(182.8 122.7) scale(0.86 1)" font-size="11" fill="#222" text-anchor="middle">pH</text>
<text font-size="11.4" fill="#222" text-anchor="middle" transform="translate(24.5 59.2) rotate(-90) scale(0.905 1)">Temperature (°C)</text>
<rect x="329.7" y="21.6" width="4.6" height="76.3" fill="url(#pg)" stroke="#bbb" stroke-width="0.3"/>
<g font-size="9.8" fill="#2b2b2b"><text transform="translate(336.6 92.7) scale(0.88 1)">1</text><text transform="translate(336.6 71.5) scale(0.88 1)">1.5</text><text transform="translate(336.6 50.3) scale(0.88 1)">2</text><text transform="translate(336.6 29.1) scale(0.88 1)">2.5</text></g>
<text x="2.2" y="58.3" font-size="16.3" font-weight="bold" fill="#000">a</text>
<path d="M393.9 21.6V97.9M422.5 21.6V97.9M451.1 21.6V97.9M479.7 21.6V97.9M508.4 21.6V97.9M537.0 21.6V97.9M565.6 21.6V97.9M594.2 21.6V97.9M622.8 21.6V97.9M651.5 21.6V97.9M385.3 95.0H671.5M385.3 65.6H671.5M385.3 36.3H671.5" stroke="#e6e6e6" stroke-width="0.5" fill="none"/>
<path fill="#3e26a8" stroke="#3e26a8" stroke-width="0.3" fill-rule="evenodd" d="M531.8 93.5L536.5 93.5L541.9 93.5L547.2 93.5L552.5 93.5L557.9 93.5L563.2 93.5L566.8 93.5L565.9 92.1L565.0 90.7L564.2 89.2L563.3 87.8L563.2 87.6L560.3 86.3L557.9 85.3L556.0 84.9L552.5 83.9L547.2 84.5L543.9 84.9L541.9 85.1L538.2 86.3L536.5 86.9L534.6 87.8L532.8 89.2L532.3 90.7L531.9 92.1ZM633.6 93.5L637.9 93.5L643.2 93.5L648.5 93.5L653.9 93.5L653.9 92.1L653.9 90.7L653.9 89.2L653.9 87.8L653.9 86.3L653.9 84.9L653.9 83.5L653.9 82.1L648.5 82.8L646.5 83.5L643.7 84.9L643.2 85.3L642.0 86.3L640.3 87.8L638.6 89.2L637.9 89.9L637.0 90.7L635.3 92.1ZM635.6 41.8L637.9 42.2L643.2 41.9L643.9 41.8L648.5 40.8L650.9 40.3L653.9 39.7L653.9 38.9L653.9 37.5L653.9 36.0L653.9 34.6L653.9 33.2L653.9 31.7L653.9 30.3L653.9 28.8L653.9 27.4L653.9 26.0L648.5 26.0L643.2 26.0L637.9 26.0L632.5 26.0L627.2 26.0L621.9 26.0L618.3 26.0L619.0 27.4L619.7 28.8L620.4 30.3L621.1 31.7L621.8 33.2L621.9 33.2L622.9 34.6L624.0 36.0L625.1 37.5L626.1 38.9L627.2 40.3L627.4 40.3L632.5 41.2ZM534.5 38.9L536.5 39.7L541.9 38.9L541.9 38.9L543.8 37.5L546.1 36.0L547.2 35.5L552.3 34.6L552.5 34.6L557.9 33.7L560.0 33.2L563.2 32.4L563.6 31.7L564.3 30.3L565.0 28.8L565.7 27.4L566.5 26.0L563.2 26.0L557.9 26.0L552.5 26.0L547.2 26.0L541.9 26.0L536.5 26.0L531.2 26.0L525.9 26.0L520.5 26.0L515.2 26.0L509.9 26.0L504.5 26.0L503.4 26.0L504.4 27.4L504.5 27.6L507.8 28.8L509.9 29.8L511.2 30.3L515.1 31.7L515.2 31.8L519.0 33.2L520.5 33.7L522.8 34.6L525.9 35.7L526.7 36.0L530.6 37.5L531.2 37.7Z"/>
<path fill="#455bf7" stroke="#455bf7" stroke-width="0.3" fill-rule="evenodd" d="M520.6 93.5L525.9 93.5L531.2 93.5L531.8 93.5L531.9 92.1L532.3 90.7L532.8 89.2L534.6 87.8L536.5 86.9L538.2 86.3L541.9 85.1L543.9 84.9L547.2 84.5L552.5 83.9L556.0 84.9L557.9 85.3L560.3 86.3L563.2 87.6L563.3 87.8L564.2 89.2L565.0 90.7L565.9 92.1L566.8 93.5L568.5 93.5L571.9 93.5L571.0 92.1L570.2 90.7L569.3 89.2L568.5 88.0L568.4 87.8L567.6 86.3L566.7 84.9L565.8 83.5L565.0 82.0L564.1 80.6L563.2 79.2L563.2 79.1L560.1 77.7L557.9 76.7L556.7 76.3L553.1 74.8L552.5 74.6L549.5 73.4L547.2 72.5L543.8 72.0L541.9 71.5L540.4 72.0L536.5 73.2L536.1 73.4L533.2 74.8L531.2 75.8L530.2 76.3L527.2 77.7L525.9 78.3L524.2 79.2L522.2 80.6L521.6 82.0L521.3 83.5L521.1 84.9L521.0 86.3L521.0 87.8L520.9 89.2L520.8 90.7L520.7 92.1ZM608.7 93.5L611.2 93.5L616.5 93.5L621.9 93.5L627.2 93.5L632.5 93.5L633.6 93.5L635.3 92.1L637.0 90.7L637.9 89.9L638.6 89.2L640.3 87.8L642.0 86.3L643.2 85.3L643.7 84.9L646.5 83.5L648.5 82.8L653.9 82.1L653.9 82.0L653.9 80.6L653.9 79.2L653.9 77.7L653.9 76.3L653.9 74.8L653.9 73.4L653.9 72.0L653.9 70.5L653.9 69.1L653.9 68.4L649.0 69.1L648.5 69.2L643.2 69.9L638.8 70.5L637.9 70.7L632.5 71.4L631.4 72.0L629.7 73.4L628.1 74.8L627.2 75.6L626.0 76.3L623.4 77.7L621.9 78.6L620.5 79.2L616.7 80.6L616.5 80.7L615.5 82.0L614.7 83.5L613.9 84.9L613.0 86.3L612.2 87.8L611.3 89.2L611.2 89.4L610.4 90.7L609.6 92.1ZM652.7 61.9L653.9 62.1L653.9 61.9L653.9 60.5L653.9 59.0L653.9 57.6L653.9 56.2L653.9 54.7L653.9 53.3L653.9 51.8L653.9 50.4L653.9 49.0L653.9 47.5L653.9 46.1L653.9 44.7L653.9 43.2L653.9 41.8L653.9 40.3L653.9 39.7L650.9 40.3L648.5 40.8L643.9 41.8L643.2 41.9L637.9 42.2L635.6 41.8L632.5 41.2L627.4 40.3L627.2 40.3L626.1 38.9L625.1 37.5L624.0 36.0L622.9 34.6L621.9 33.2L621.8 33.2L621.1 31.7L620.4 30.3L619.7 28.8L619.0 27.4L618.3 26.0L616.5 26.0L611.2 26.0L609.6 26.0L610.4 27.4L611.2 28.4L611.4 28.8L612.1 30.3L612.8 31.7L613.5 33.2L614.2 34.6L614.7 36.0L615.3 37.5L616.2 38.9L616.5 39.4L617.0 40.3L617.7 41.8L618.4 43.2L619.1 44.7L619.8 46.1L620.4 47.5L621.0 49.0L621.9 50.3L621.9 50.4L623.0 51.8L624.1 53.3L625.2 54.7L626.2 56.2L627.2 57.4L628.2 57.6L632.5 58.4L636.3 59.0L637.9 59.3L643.2 60.2L644.5 60.5L648.5 61.2ZM534.8 56.2L536.5 56.8L541.2 56.2L541.9 56.1L543.5 54.7L545.3 53.3L547.1 51.8L547.2 51.8L548.9 50.4L550.7 49.0L552.5 47.5L552.5 47.5L557.9 46.5L559.8 46.1L563.2 45.3L563.5 44.7L564.3 43.2L565.0 41.8L565.7 40.3L566.4 38.9L567.2 37.5L567.9 36.0L568.5 34.8L568.6 34.6L569.4 33.2L570.1 31.7L570.8 30.3L571.5 28.8L572.3 27.4L573.0 26.0L568.5 26.0L566.5 26.0L565.7 27.4L565.0 28.8L564.3 30.3L563.6 31.7L563.2 32.4L560.0 33.2L557.9 33.7L552.5 34.6L552.3 34.6L547.2 35.5L546.1 36.0L543.8 37.5L541.9 38.9L541.9 38.9L536.5 39.7L534.5 38.9L531.2 37.7L530.6 37.5L526.7 36.0L525.9 35.7L522.8 34.6L520.5 33.7L519.0 33.2L515.2 31.8L515.1 31.7L511.2 30.3L509.9 29.8L507.8 28.8L504.5 27.6L504.4 27.4L503.4 26.0L499.2 26.0L494.6 26.0L495.4 27.4L496.2 28.8L497.0 30.3L497.7 31.7L498.5 33.2L499.2 34.5L499.3 34.6L500.4 36.0L501.4 37.5L502.5 38.9L503.5 40.3L504.5 41.8L504.6 41.8L507.4 43.2L509.9 44.4L510.3 44.7L513.2 46.1L515.2 47.1L516.1 47.5L519.0 49.0L520.5 49.8L521.8 50.4L524.7 51.8L525.9 52.4L528.0 53.3L531.0 54.7L531.2 54.8ZM424.4 31.7L424.6 32.2L429.9 31.7L435.2 31.7L440.6 31.7L445.9 31.7L451.2 31.7L451.2 31.7L454.6 30.3L456.6 29.2L456.7 28.8L456.8 27.4L456.8 26.0L456.6 26.0L451.2 26.0L445.9 26.0L440.6 26.0L435.2 26.0L429.9 26.0L424.6 26.0L422.7 26.0L423.1 27.4L423.5 28.8L424.0 30.3Z"/>
<path fill="#2596ed" stroke="#2596ed" stroke-width="0.3" fill-rule="evenodd" d="M509.4 93.5L509.9 93.5L515.2 93.5L520.5 93.5L520.6 93.5L520.7 92.1L520.8 90.7L520.9 89.2L521.0 87.8L521.0 86.3L521.1 84.9L521.3 83.5L521.6 82.0L522.2 80.6L524.2 79.2L525.9 78.3L527.2 77.7L530.2 76.3L531.2 75.8L533.2 74.8L536.1 73.4L536.5 73.2L540.4 72.0L541.9 71.5L543.8 72.0L547.2 72.5L549.5 73.4L552.5 74.6L553.1 74.8L556.7 76.3L557.9 76.7L560.1 77.7L563.2 79.1L563.2 79.2L564.1 80.6L565.0 82.0L565.8 83.5L566.7 84.9L567.6 86.3L568.4 87.8L568.5 88.0L569.3 89.2L570.2 90.7L571.0 92.1L571.9 93.5L573.9 93.5L579.2 93.5L584.5 93.5L589.9 93.5L595.2 93.5L600.5 93.5L605.9 93.5L608.7 93.5L609.6 92.1L610.4 90.7L611.2 89.4L611.3 89.2L612.2 87.8L613.0 86.3L613.9 84.9L614.7 83.5L615.5 82.0L616.5 80.7L616.7 80.6L620.5 79.2L621.9 78.6L623.4 77.7L626.0 76.3L627.2 75.6L628.1 74.8L629.7 73.4L631.4 72.0L632.5 71.4L637.9 70.7L638.8 70.5L643.2 69.9L648.5 69.2L649.0 69.1L653.9 68.4L653.9 67.7L653.9 66.2L653.9 64.8L653.9 63.3L653.9 62.1L652.7 61.9L648.5 61.2L644.5 60.5L643.2 60.2L637.9 59.3L636.3 59.0L632.5 58.4L628.2 57.6L627.2 57.4L626.2 56.2L625.2 54.7L624.1 53.3L623.0 51.8L621.9 50.4L621.9 50.3L621.0 49.0L620.4 47.5L619.8 46.1L619.1 44.7L618.4 43.2L617.7 41.8L617.0 40.3L616.5 39.4L616.2 38.9L615.3 37.5L614.7 36.0L614.2 34.6L613.5 33.2L612.8 31.7L612.1 30.3L611.4 28.8L611.2 28.4L610.4 27.4L609.6 26.0L605.9 26.0L600.5 26.0L595.2 26.0L589.9 26.0L584.5 26.0L579.2 26.0L573.9 26.0L573.0 26.0L572.3 27.4L571.5 28.8L570.8 30.3L570.1 31.7L569.4 33.2L568.6 34.6L568.5 34.8L567.9 36.0L567.2 37.5L566.4 38.9L565.7 40.3L565.0 41.8L564.3 43.2L563.5 44.7L563.2 45.3L559.8 46.1L557.9 46.5L552.5 47.5L552.5 47.5L550.7 49.0L548.9 50.4L547.2 51.8L547.1 51.8L545.3 53.3L543.5 54.7L541.9 56.1L541.2 56.2L536.5 56.8L534.8 56.2L531.2 54.8L531.0 54.7L528.0 53.3L525.9 52.4L524.7 51.8L521.8 50.4L520.5 49.8L519.0 49.0L516.1 47.5L515.2 47.1L513.2 46.1L510.3 44.7L509.9 44.4L507.4 43.2L504.6 41.8L504.5 41.8L503.5 40.3L502.5 38.9L501.4 37.5L500.4 36.0L499.3 34.6L499.2 34.5L498.5 33.2L497.7 31.7L497.0 30.3L496.2 28.8L495.4 27.4L494.6 26.0L493.9 26.0L488.5 26.0L487.0 26.0L487.8 27.4L488.5 28.8L488.6 28.8L489.3 30.3L490.1 31.7L490.9 33.2L491.7 34.6L492.4 36.0L493.2 37.5L493.9 38.7L494.0 38.9L494.8 40.3L495.5 41.8L496.3 43.2L497.1 44.7L497.8 46.1L498.6 47.5L499.2 48.6L499.5 49.0L500.5 50.4L501.6 51.8L502.6 53.3L503.7 54.7L504.5 55.9L505.0 56.2L507.9 57.6L509.9 58.6L510.7 59.0L513.6 60.5L515.2 61.3L516.5 61.9L519.4 63.3L520.5 63.9L522.3 64.8L522.7 66.2L520.5 67.3L519.7 67.7L516.7 69.1L515.2 69.8L513.7 70.5L511.5 72.0L510.9 73.4L510.6 74.8L510.4 76.3L510.3 77.7L510.3 79.2L510.2 80.6L510.1 82.0L510.0 83.5L509.9 84.9L509.9 85.8L509.8 86.3L509.8 87.8L509.7 89.2L509.6 90.7L509.5 92.1ZM573.9 88.3L573.6 87.8L573.2 86.3L573.0 84.9L572.6 83.5L572.0 82.0L570.8 80.6L568.5 79.4L568.4 79.2L567.5 77.7L566.8 76.3L566.4 74.8L565.8 73.4L564.8 72.0L563.2 70.6L563.1 70.5L559.8 69.1L557.9 68.2L556.4 67.7L552.8 66.2L552.5 65.4L552.3 64.8L552.5 64.6L554.1 63.3L555.9 61.9L557.7 60.5L557.9 60.3L560.7 59.0L563.2 58.2L563.9 57.6L565.1 56.2L565.9 54.7L566.5 53.3L566.9 51.8L567.2 50.4L567.9 49.0L568.5 47.6L569.4 47.5L572.9 46.1L573.8 44.7L573.9 44.5L574.0 44.7L575.3 46.1L576.7 47.5L578.0 49.0L579.2 50.3L579.3 50.4L580.8 51.8L582.2 53.3L583.7 54.7L584.5 55.6L585.1 56.2L586.6 57.6L588.0 59.0L589.5 60.5L589.9 60.9L590.9 61.9L592.4 63.3L593.8 64.8L594.2 66.2L593.3 67.7L592.3 69.1L591.3 70.5L590.3 72.0L589.9 72.6L589.3 73.4L588.3 74.8L587.4 76.3L586.4 77.7L585.4 79.2L584.5 80.4L584.4 80.6L583.4 82.0L582.4 83.5L581.5 84.9L580.5 86.3L579.5 87.8L579.2 88.2ZM424.2 53.3L424.6 54.4L429.9 53.8L434.9 53.3L435.2 53.2L440.6 52.7L445.9 52.3L451.2 52.3L452.2 51.8L455.6 50.4L456.6 50.0L457.8 49.0L459.4 47.5L461.0 46.1L461.9 45.4L462.3 44.7L463.1 43.2L463.7 41.8L464.1 40.3L464.5 38.9L464.6 37.5L464.7 36.0L464.7 34.6L464.8 33.2L464.9 31.7L465.0 30.3L465.1 28.8L465.2 27.4L465.3 26.0L461.9 26.0L456.8 26.0L456.8 27.4L456.7 28.8L456.6 29.2L454.6 30.3L451.2 31.7L451.2 31.7L445.9 31.7L440.6 31.7L435.2 31.7L429.9 31.7L424.6 32.2L424.4 31.7L424.0 30.3L423.5 28.8L423.1 27.4L422.7 26.0L419.2 26.0L416.5 26.0L416.9 27.4L417.2 28.8L417.6 30.3L418.0 31.7L418.3 33.2L418.7 34.6L419.0 36.0L419.2 36.8L419.4 37.5L419.9 38.9L420.3 40.3L420.7 41.8L421.2 43.2L421.6 44.7L422.0 46.1L422.5 47.5L422.9 49.0L423.3 50.4L423.8 51.8Z"/>
<path fill="#1abeb9" stroke="#1abeb9" stroke-width="0.3" fill-rule="evenodd" d="M464.3 93.5L467.2 93.5L472.6 93.5L477.9 93.5L483.2 93.5L488.5 93.5L493.9 93.5L499.2 93.5L504.5 93.5L509.4 93.5L509.5 92.1L509.6 90.7L509.7 89.2L509.8 87.8L509.8 86.3L509.9 85.8L509.9 84.9L510.0 83.5L510.1 82.0L510.2 80.6L510.3 79.2L510.3 77.7L510.4 76.3L510.6 74.8L510.9 73.4L511.5 72.0L513.7 70.5L515.2 69.8L516.7 69.1L519.7 67.7L520.5 67.3L522.7 66.2L522.3 64.8L520.5 63.9L519.4 63.3L516.5 61.9L515.2 61.3L513.6 60.5L510.7 59.0L509.9 58.6L507.9 57.6L505.0 56.2L504.5 55.9L503.7 54.7L502.6 53.3L501.6 51.8L500.5 50.4L499.5 49.0L499.2 48.6L498.6 47.5L497.8 46.1L497.1 44.7L496.3 43.2L495.5 41.8L494.8 40.3L494.0 38.9L493.9 38.7L493.2 37.5L492.4 36.0L491.7 34.6L490.9 33.2L490.1 31.7L489.3 30.3L488.6 28.8L488.5 28.8L487.8 27.4L487.0 26.0L483.2 26.0L479.4 26.0L480.0 27.4L480.5 28.8L481.1 30.3L481.9 31.7L483.2 33.1L483.2 33.2L484.0 34.6L484.5 36.0L484.8 37.5L485.3 38.9L485.9 40.3L487.0 41.8L488.5 43.0L488.7 43.2L489.0 44.7L489.2 46.1L489.4 47.5L489.8 49.0L490.4 50.4L491.7 51.8L492.1 53.3L492.4 54.7L492.8 56.2L493.1 57.6L493.4 59.0L493.7 60.5L493.9 61.1L494.1 61.9L494.4 63.3L494.7 64.8L494.8 66.2L494.6 67.7L494.3 69.1L494.1 70.5L493.9 72.0L493.9 72.0L493.7 73.4L493.4 74.8L493.2 76.3L493.0 77.7L492.8 79.2L492.0 80.6L490.2 82.0L488.5 82.6L485.7 82.0L483.2 81.6L477.9 80.6L477.9 80.6L476.1 79.2L474.2 77.7L472.6 76.4L472.5 76.3L471.1 74.8L469.7 73.4L468.3 72.0L467.2 70.8L466.9 70.5L465.6 69.1L464.2 67.7L462.8 66.2L463.2 64.8L464.8 63.3L466.5 61.9L467.2 61.2L468.1 60.5L469.7 59.0L470.7 57.6L471.2 56.2L471.5 54.7L471.8 53.3L472.0 51.8L472.2 50.4L472.3 49.0L472.4 47.5L472.5 46.1L472.5 44.7L472.6 44.6L472.7 43.2L472.8 41.8L473.0 40.3L473.1 38.9L473.3 37.5L473.4 36.0L473.5 34.6L473.7 33.2L473.8 31.7L474.0 30.3L474.1 28.8L474.2 27.4L474.7 26.0L472.6 26.0L467.2 26.0L465.3 26.0L465.2 27.4L465.1 28.8L465.0 30.3L464.9 31.7L464.8 33.2L464.7 34.6L464.7 36.0L464.6 37.5L464.5 38.9L464.1 40.3L463.7 41.8L463.1 43.2L462.3 44.7L461.9 45.4L461.0 46.1L459.4 47.5L457.8 49.0L456.6 50.0L455.6 50.4L452.2 51.8L451.2 52.3L445.9 52.3L440.6 52.7L435.2 53.2L434.9 53.3L429.9 53.8L424.6 54.4L424.2 53.3L423.8 51.8L423.3 50.4L422.9 49.0L422.5 47.5L422.0 46.1L421.6 44.7L421.2 43.2L420.7 41.8L420.3 40.3L419.9 38.9L419.4 37.5L419.2 36.8L419.0 36.0L418.7 34.6L418.3 33.2L418.0 31.7L417.6 30.3L417.2 28.8L416.9 27.4L416.5 26.0L413.9 26.0L411.0 26.0L411.4 27.4L411.7 28.8L412.1 30.3L412.4 31.7L412.8 33.2L413.1 34.6L413.5 36.0L413.9 37.5L413.9 37.6L414.2 38.9L414.6 40.3L414.9 41.8L415.3 43.2L415.7 44.7L416.0 46.1L416.4 47.5L416.7 49.0L417.0 50.4L417.1 51.8L417.3 53.3L417.5 54.7L417.8 56.2L418.3 57.6L418.5 59.0L417.5 60.5L416.4 61.9L415.4 63.3L414.4 64.8L415.0 66.2L417.9 67.7L419.2 68.3L420.7 69.1L423.5 70.5L424.6 71.1L426.0 72.0L428.4 73.4L429.9 74.3L431.3 74.8L433.5 76.3L435.2 77.6L437.0 77.7L440.6 78.5L445.6 77.7L445.9 77.7L451.2 76.9L452.4 77.7L454.4 79.2L456.4 80.6L456.6 80.7L457.4 82.0L458.2 83.5L459.1 84.9L460.0 86.3L460.8 87.8L461.7 89.2L461.9 89.5L462.6 90.7L463.4 92.1ZM573.6 87.8L573.9 88.3L579.2 88.2L579.5 87.8L580.5 86.3L581.5 84.9L582.4 83.5L583.4 82.0L584.4 80.6L584.5 80.4L585.4 79.2L586.4 77.7L587.4 76.3L588.3 74.8L589.3 73.4L589.9 72.6L590.3 72.0L591.3 70.5L592.3 69.1L593.3 67.7L594.2 66.2L593.8 64.8L592.4 63.3L590.9 61.9L589.9 60.9L589.5 60.5L588.0 59.0L586.6 57.6L585.1 56.2L584.5 55.6L583.7 54.7L582.2 53.3L580.8 51.8L579.3 50.4L579.2 50.3L578.0 49.0L576.7 47.5L575.3 46.1L574.0 44.7L573.9 44.5L573.8 44.7L572.9 46.1L569.4 47.5L568.5 47.6L567.9 49.0L567.2 50.4L566.9 51.8L566.5 53.3L565.9 54.7L565.1 56.2L563.9 57.6L563.2 58.2L560.7 59.0L557.9 60.3L557.7 60.5L555.9 61.9L554.1 63.3L552.5 64.6L552.3 64.8L552.5 65.4L552.8 66.2L556.4 67.7L557.9 68.2L559.8 69.1L563.1 70.5L563.2 70.6L564.8 72.0L565.8 73.4L566.4 74.8L566.8 76.3L567.5 77.7L568.4 79.2L568.5 79.4L570.8 80.6L572.0 82.0L572.6 83.5L573.0 84.9L573.2 86.3Z"/>
<path fill="#86c856" stroke="#86c856" stroke-width="0.3" fill-rule="evenodd" d="M445.3 93.5L445.9 93.5L451.2 93.5L456.6 93.5L461.9 93.5L464.3 93.5L463.4 92.1L462.6 90.7L461.9 89.5L461.7 89.2L460.8 87.8L460.0 86.3L459.1 84.9L458.2 83.5L457.4 82.0L456.6 80.7L456.4 80.6L454.4 79.2L452.4 77.7L451.2 76.9L445.9 77.7L445.6 77.7L440.6 78.5L437.0 77.7L435.2 77.6L433.5 76.3L431.3 74.8L429.9 74.3L428.4 73.4L426.0 72.0L424.6 71.1L423.5 70.5L420.7 69.1L419.2 68.3L417.9 67.7L415.0 66.2L414.4 64.8L415.4 63.3L416.4 61.9L417.5 60.5L418.5 59.0L418.3 57.6L417.8 56.2L417.5 54.7L417.3 53.3L417.1 51.8L417.0 50.4L416.7 49.0L416.4 47.5L416.0 46.1L415.7 44.7L415.3 43.2L414.9 41.8L414.6 40.3L414.2 38.9L413.9 37.6L413.9 37.5L413.5 36.0L413.1 34.6L412.8 33.2L412.4 31.7L412.1 30.3L411.7 28.8L411.4 27.4L411.0 26.0L408.6 26.0L405.5 26.0L405.8 27.4L406.2 28.8L406.5 30.3L406.9 31.7L407.2 33.2L407.5 34.6L407.8 36.0L408.2 37.5L408.6 38.4L408.7 38.9L409.0 40.3L409.3 41.8L409.1 43.2L408.8 44.7L408.6 45.4L408.1 46.1L407.0 47.5L406.0 49.0L404.9 50.4L403.9 51.8L403.2 52.8L403.2 53.3L403.2 54.7L403.2 56.2L403.2 57.6L403.2 59.0L403.2 60.5L403.2 61.9L403.2 63.3L403.2 64.8L403.2 66.2L403.2 67.7L403.2 69.1L403.2 70.2L403.9 70.5L406.6 72.0L408.6 72.8L409.7 73.4L412.6 74.8L413.9 75.5L415.5 76.3L418.4 77.7L419.2 78.1L421.3 79.2L424.1 80.6L424.6 80.8L426.5 82.0L428.8 83.5L429.9 84.1L431.2 84.9L433.5 86.3L435.2 87.4L435.9 87.8L438.2 89.2L440.6 90.6L440.6 90.7L442.9 92.1ZM485.7 82.0L488.5 82.6L490.2 82.0L492.0 80.6L492.8 79.2L493.0 77.7L493.2 76.3L493.4 74.8L493.7 73.4L493.9 72.0L493.9 72.0L494.1 70.5L494.3 69.1L494.6 67.7L494.8 66.2L494.7 64.8L494.4 63.3L494.1 61.9L493.9 61.1L493.7 60.5L493.4 59.0L493.1 57.6L492.8 56.2L492.4 54.7L492.1 53.3L491.7 51.8L490.4 50.4L489.8 49.0L489.4 47.5L489.2 46.1L489.0 44.7L488.7 43.2L488.5 43.0L487.0 41.8L485.9 40.3L485.3 38.9L484.8 37.5L484.5 36.0L484.0 34.6L483.2 33.2L483.2 33.1L481.9 31.7L481.1 30.3L480.5 28.8L480.0 27.4L479.4 26.0L477.9 26.0L474.7 26.0L474.2 27.4L474.1 28.8L474.0 30.3L473.8 31.7L473.7 33.2L473.5 34.6L473.4 36.0L473.3 37.5L473.1 38.9L473.0 40.3L472.8 41.8L472.7 43.2L472.6 44.6L472.5 44.7L472.5 46.1L472.4 47.5L472.3 49.0L472.2 50.4L472.0 51.8L471.8 53.3L471.5 54.7L471.2 56.2L470.7 57.6L469.7 59.0L468.1 60.5L467.2 61.2L466.5 61.9L464.8 63.3L463.2 64.8L462.8 66.2L464.2 67.7L465.6 69.1L466.9 70.5L467.2 70.8L468.3 72.0L469.7 73.4L471.1 74.8L472.5 76.3L472.6 76.4L474.2 77.7L476.1 79.2L477.9 80.6L477.9 80.6L483.2 81.6Z"/>
<path fill="#f9c037" stroke="#f9c037" stroke-width="0.3" fill-rule="evenodd" d="M403.2 93.5L408.6 93.5L413.4 93.5L413.9 92.3L414.0 92.1L414.5 90.7L415.4 89.2L419.2 87.9L421.8 89.2L424.6 90.6L424.6 90.7L426.9 92.1L429.3 93.5L429.9 93.5L435.2 93.5L440.6 93.5L445.3 93.5L442.9 92.1L440.6 90.7L440.6 90.6L438.2 89.2L435.9 87.8L435.2 87.4L433.5 86.3L431.2 84.9L429.9 84.1L428.8 83.5L426.5 82.0L424.6 80.8L424.1 80.6L421.3 79.2L419.2 78.1L418.4 77.7L415.5 76.3L413.9 75.5L412.6 74.8L409.7 73.4L408.6 72.8L406.6 72.0L403.9 70.5L403.2 70.2L403.2 70.5L403.2 72.0L403.2 73.4L403.2 74.8L403.2 76.3L403.2 77.7L403.2 79.2L403.2 80.6L403.2 82.0L403.2 83.5L403.2 84.9L403.2 86.3L403.2 87.8L403.2 89.2L403.2 90.7L403.2 92.1ZM403.2 51.8L403.2 52.8L403.9 51.8L404.9 50.4L406.0 49.0L407.0 47.5L408.1 46.1L408.6 45.4L408.8 44.7L409.1 43.2L409.3 41.8L409.0 40.3L408.7 38.9L408.6 38.4L408.2 37.5L407.8 36.0L407.5 34.6L407.2 33.2L406.9 31.7L406.5 30.3L406.2 28.8L405.8 27.4L405.5 26.0L403.2 26.0L403.2 27.4L403.2 28.8L403.2 30.3L403.2 31.7L403.2 33.2L403.2 34.6L403.2 36.0L403.2 37.5L403.2 38.9L403.2 40.3L403.2 41.8L403.2 43.2L403.2 44.7L403.2 46.1L403.2 47.5L403.2 49.0L403.2 50.4Z"/>
<path fill="#f9fb15" stroke="#f9fb15" stroke-width="0.3" fill-rule="evenodd" d="M413.4 93.5L413.9 93.5L419.2 93.5L424.6 93.5L429.3 93.5L426.9 92.1L424.6 90.7L424.6 90.6L421.8 89.2L419.2 87.9L415.4 89.2L414.5 90.7L414.0 92.1L413.9 92.3Z"/>
<path fill="none" stroke="#1a1a1a" stroke-opacity="0.6" stroke-width="0.35" stroke-linejoin="round" d="M531.8 93.5L531.9 92.1L532.3 90.7L532.8 89.2L534.6 87.8L536.5 86.9L538.2 86.3L541.9 85.1L543.9 84.9L547.2 84.5L552.5 83.9L556.0 84.9L557.9 85.3L560.3 86.3L563.2 87.6L563.3 87.8L564.2 89.2L565.0 90.7L565.9 92.1L566.8 93.5M633.6 93.5L635.3 92.1L637.0 90.7L637.9 89.9L638.6 89.2L640.3 87.8L642.0 86.3L643.2 85.3L643.7 84.9L646.5 83.5L648.5 82.8L653.9 82.1M653.9 39.7L650.9 40.3L648.5 40.8L643.9 41.8L643.2 41.9L637.9 42.2L635.6 41.8L632.5 41.2L627.4 40.3L627.2 40.3L626.1 38.9L625.1 37.5L624.0 36.0L622.9 34.6L621.9 33.2L621.8 33.2L621.1 31.7L620.4 30.3L619.7 28.8L619.0 27.4L618.3 26.0M566.5 26.0L565.7 27.4L565.0 28.8L564.3 30.3L563.6 31.7L563.2 32.4L560.0 33.2L557.9 33.7L552.5 34.6L552.3 34.6L547.2 35.5L546.1 36.0L543.8 37.5L541.9 38.9L541.9 38.9L536.5 39.7L534.5 38.9L531.2 37.7L530.6 37.5L526.7 36.0L525.9 35.7L522.8 34.6L520.5 33.7L519.0 33.2L515.2 31.8L515.1 31.7L511.2 30.3L509.9 29.8L507.8 28.8L504.5 27.6L504.4 27.4L503.4 26.0M520.6 93.5L520.7 92.1L520.8 90.7L520.9 89.2L521.0 87.8L521.0 86.3L521.1 84.9L521.3 83.5L521.6 82.0L522.2 80.6L524.2 79.2L525.9 78.3L527.2 77.7L530.2 76.3L531.2 75.8L533.2 74.8L536.1 73.4L536.5 73.2L540.4 72.0L541.9 71.5L543.8 72.0L547.2 72.5L549.5 73.4L552.5 74.6L553.1 74.8L556.7 76.3L557.9 76.7L560.1 77.7L563.2 79.1L563.2 79.2L564.1 80.6L565.0 82.0L565.8 83.5L566.7 84.9L567.6 86.3L568.4 87.8L568.5 88.0L569.3 89.2L570.2 90.7L571.0 92.1L571.9 93.5M608.7 93.5L609.6 92.1L610.4 90.7L611.2 89.4L611.3 89.2L612.2 87.8L613.0 86.3L613.9 84.9L614.7 83.5L615.5 82.0L616.5 80.7L616.7 80.6L620.5 79.2L621.9 78.6L623.4 77.7L626.0 76.3L627.2 75.6L628.1 74.8L629.7 73.4L631.4 72.0L632.5 71.4L637.9 70.7L638.8 70.5L643.2 69.9L648.5 69.2L649.0 69.1L653.9 68.4M653.9 62.1L652.7 61.9L648.5 61.2L644.5 60.5L643.2 60.2L637.9 59.3L636.3 59.0L632.5 58.4L628.2 57.6L627.2 57.4L626.2 56.2L625.2 54.7L624.1 53.3L623.0 51.8L621.9 50.4L621.9 50.3L621.0 49.0L620.4 47.5L619.8 46.1L619.1 44.7L618.4 43.2L617.7 41.8L617.0 40.3L616.5 39.4L616.2 38.9L615.3 37.5L614.7 36.0L614.2 34.6L613.5 33.2L612.8 31.7L612.1 30.3L611.4 28.8L611.2 28.4L610.4 27.4L609.6 26.0M456.8 26.0L456.8 27.4L456.7 28.8L456.6 29.2L454.6 30.3L451.2 31.7L451.2 31.7L445.9 31.7L440.6 31.7L435.2 31.7L429.9 31.7L424.6 32.2L424.4 31.7L424.0 30.3L423.5 28.8L423.1 27.4L422.7 26.0M573.0 26.0L572.3 27.4L571.5 28.8L570.8 30.3L570.1 31.7L569.4 33.2L568.6 34.6L568.5 34.8L567.9 36.0L567.2 37.5L566.4 38.9L565.7 40.3L565.0 41.8L564.3 43.2L563.5 44.7L563.2 45.3L559.8 46.1L557.9 46.5L552.5 47.5L552.5 47.5L550.7 49.0L548.9 50.4L547.2 51.8L547.1 51.8L545.3 53.3L543.5 54.7L541.9 56.1L541.2 56.2L536.5 56.8L534.8 56.2L531.2 54.8L531.0 54.7L528.0 53.3L525.9 52.4L524.7 51.8L521.8 50.4L520.5 49.8L519.0 49.0L516.1 47.5L515.2 47.1L513.2 46.1L510.3 44.7L509.9 44.4L507.4 43.2L504.6 41.8L504.5 41.8L503.5 40.3L502.5 38.9L501.4 37.5L500.4 36.0L499.3 34.6L499.2 34.5L498.5 33.2L497.7 31.7L497.0 30.3L496.2 28.8L495.4 27.4L494.6 26.0M509.4 93.5L509.5 92.1L509.6 90.7L509.7 89.2L509.8 87.8L509.8 86.3L509.9 85.8L509.9 84.9L510.0 83.5L510.1 82.0L510.2 80.6L510.3 79.2L510.3 77.7L510.4 76.3L510.6 74.8L510.9 73.4L511.5 72.0L513.7 70.5L515.2 69.8L516.7 69.1L519.7 67.7L520.5 67.3L522.7 66.2L522.3 64.8L520.5 63.9L519.4 63.3L516.5 61.9L515.2 61.3L513.6 60.5L510.7 59.0L509.9 58.6L507.9 57.6L505.0 56.2L504.5 55.9L503.7 54.7L502.6 53.3L501.6 51.8L500.5 50.4L499.5 49.0L499.2 48.6L498.6 47.5L497.8 46.1L497.1 44.7L496.3 43.2L495.5 41.8L494.8 40.3L494.0 38.9L493.9 38.7L493.2 37.5L492.4 36.0L491.7 34.6L490.9 33.2L490.1 31.7L489.3 30.3L488.6 28.8L488.5 28.8L487.8 27.4L487.0 26.0M573.6 87.8L573.9 88.3L579.2 88.2L579.5 87.8L580.5 86.3L581.5 84.9L582.4 83.5L583.4 82.0L584.4 80.6L584.5 80.4L585.4 79.2L586.4 77.7L587.4 76.3L588.3 74.8L589.3 73.4L589.9 72.6L590.3 72.0L591.3 70.5L592.3 69.1L593.3 67.7L594.2 66.2L593.8 64.8L592.4 63.3L590.9 61.9L589.9 60.9L589.5 60.5L588.0 59.0L586.6 57.6L585.1 56.2L584.5 55.6L583.7 54.7L582.2 53.3L580.8 51.8L579.3 50.4L579.2 50.3L578.0 49.0L576.7 47.5L575.3 46.1L574.0 44.7L573.9 44.5L573.8 44.7L572.9 46.1L569.4 47.5L568.5 47.6L567.9 49.0L567.2 50.4L566.9 51.8L566.5 53.3L565.9 54.7L565.1 56.2L563.9 57.6L563.2 58.2L560.7 59.0L557.9 60.3L557.7 60.5L555.9 61.9L554.1 63.3L552.5 64.6L552.3 64.8L552.5 65.4L552.8 66.2L556.4 67.7L557.9 68.2L559.8 69.1L563.1 70.5L563.2 70.6L564.8 72.0L565.8 73.4L566.4 74.8L566.8 76.3L567.5 77.7L568.4 79.2L568.5 79.4L570.8 80.6L572.0 82.0L572.6 83.5L573.0 84.9L573.2 86.3L573.6 87.8M465.3 26.0L465.2 27.4L465.1 28.8L465.0 30.3L464.9 31.7L464.8 33.2L464.7 34.6L464.7 36.0L464.6 37.5L464.5 38.9L464.1 40.3L463.7 41.8L463.1 43.2L462.3 44.7L461.9 45.4L461.0 46.1L459.4 47.5L457.8 49.0L456.6 50.0L455.6 50.4L452.2 51.8L451.2 52.3L445.9 52.3L440.6 52.7L435.2 53.2L434.9 53.3L429.9 53.8L424.6 54.4L424.2 53.3L423.8 51.8L423.3 50.4L422.9 49.0L422.5 47.5L422.0 46.1L421.6 44.7L421.2 43.2L420.7 41.8L420.3 40.3L419.9 38.9L419.4 37.5L419.2 36.8L419.0 36.0L418.7 34.6L418.3 33.2L418.0 31.7L417.6 30.3L417.2 28.8L416.9 27.4L416.5 26.0M464.3 93.5L463.4 92.1L462.6 90.7L461.9 89.5L461.7 89.2L460.8 87.8L460.0 86.3L459.1 84.9L458.2 83.5L457.4 82.0L456.6 80.7L456.4 80.6L454.4 79.2L452.4 77.7L451.2 76.9L445.9 77.7L445.6 77.7L440.6 78.5L437.0 77.7L435.2 77.6L433.5 76.3L431.3 74.8L429.9 74.3L428.4 73.4L426.0 72.0L424.6 71.1L423.5 70.5L420.7 69.1L419.2 68.3L417.9 67.7L415.0 66.2L414.4 64.8L415.4 63.3L416.4 61.9L417.5 60.5L418.5 59.0L418.3 57.6L417.8 56.2L417.5 54.7L417.3 53.3L417.1 51.8L417.0 50.4L416.7 49.0L416.4 47.5L416.0 46.1L415.7 44.7L415.3 43.2L414.9 41.8L414.6 40.3L414.2 38.9L413.9 37.6L413.9 37.5L413.5 36.0L413.1 34.6L412.8 33.2L412.4 31.7L412.1 30.3L411.7 28.8L411.4 27.4L411.0 26.0M474.7 26.0L474.2 27.4L474.1 28.8L474.0 30.3L473.8 31.7L473.7 33.2L473.5 34.6L473.4 36.0L473.3 37.5L473.1 38.9L473.0 40.3L472.8 41.8L472.7 43.2L472.6 44.6L472.5 44.7L472.5 46.1L472.4 47.5L472.3 49.0L472.2 50.4L472.0 51.8L471.8 53.3L471.5 54.7L471.2 56.2L470.7 57.6L469.7 59.0L468.1 60.5L467.2 61.2L466.5 61.9L464.8 63.3L463.2 64.8L462.8 66.2L464.2 67.7L465.6 69.1L466.9 70.5L467.2 70.8L468.3 72.0L469.7 73.4L471.1 74.8L472.5 76.3L472.6 76.4L474.2 77.7L476.1 79.2L477.9 80.6L477.9 80.6L483.2 81.6L485.7 82.0L488.5 82.6L490.2 82.0L492.0 80.6L492.8 79.2L493.0 77.7L493.2 76.3L493.4 74.8L493.7 73.4L493.9 72.0L493.9 72.0L494.1 70.5L494.3 69.1L494.6 67.7L494.8 66.2L494.7 64.8L494.4 63.3L494.1 61.9L493.9 61.1L493.7 60.5L493.4 59.0L493.1 57.6L492.8 56.2L492.4 54.7L492.1 53.3L491.7 51.8L490.4 50.4L489.8 49.0L489.4 47.5L489.2 46.1L489.0 44.7L488.7 43.2L488.5 43.0L487.0 41.8L485.9 40.3L485.3 38.9L484.8 37.5L484.5 36.0L484.0 34.6L483.2 33.2L483.2 33.1L481.9 31.7L481.1 30.3L480.5 28.8L480.0 27.4L479.4 26.0M445.3 93.5L442.9 92.1L440.6 90.7L440.6 90.6L438.2 89.2L435.9 87.8L435.2 87.4L433.5 86.3L431.2 84.9L429.9 84.1L428.8 83.5L426.5 82.0L424.6 80.8L424.1 80.6L421.3 79.2L419.2 78.1L418.4 77.7L415.5 76.3L413.9 75.5L412.6 74.8L409.7 73.4L408.6 72.8L406.6 72.0L403.9 70.5L403.2 70.2M403.2 52.8L403.9 51.8L404.9 50.4L406.0 49.0L407.0 47.5L408.1 46.1L408.6 45.4L408.8 44.7L409.1 43.2L409.3 41.8L409.0 40.3L408.7 38.9L408.6 38.4L408.2 37.5L407.8 36.0L407.5 34.6L407.2 33.2L406.9 31.7L406.5 30.3L406.2 28.8L405.8 27.4L405.5 26.0M429.3 93.5L426.9 92.1L424.6 90.7L424.6 90.6L421.8 89.2L419.2 87.9L415.4 89.2L414.5 90.7L414.0 92.1L413.9 92.3L413.4 93.5"/>
<rect x="385.0" y="21.4" width="286.7" height="77.0" fill="none" stroke="#c4c4c4" stroke-width="0.7"/>
<path d="M393.9 97.9v-2.5M393.9 21.6v2.5M422.5 97.9v-2.5M422.5 21.6v2.5M451.1 97.9v-2.5M451.1 21.6v2.5M479.7 97.9v-2.5M479.7 21.6v2.5M508.4 97.9v-2.5M508.4 21.6v2.5M537.0 97.9v-2.5M537.0 21.6v2.5M565.6 97.9v-2.5M565.6 21.6v2.5M594.2 97.9v-2.5M594.2 21.6v2.5M622.8 97.9v-2.5M622.8 21.6v2.5M651.5 97.9v-2.5M651.5 21.6v2.5M385.3 95.0h2.5M671.5 95.0h-2.5M385.3 65.6h2.5M671.5 65.6h-2.5M385.3 36.3h2.5M671.5 36.3h-2.5" stroke="#9a9a9a" stroke-width="0.5" fill="none"/>
<g fill="#222"><circle cx="397.9" cy="95.0" r="0.6"/><circle cx="423.7" cy="95.0" r="0.6"/><circle cx="454.0" cy="95.0" r="0.6"/><circle cx="476.3" cy="95.0" r="0.6"/><circle cx="502.6" cy="95.0" r="0.6"/><circle cx="539.6" cy="95.0" r="0.6"/><circle cx="563.0" cy="95.0" r="0.6"/><circle cx="577.6" cy="95.0" r="0.6"/><circle cx="606.8" cy="95.0" r="0.6"/><circle cx="625.1" cy="95.0" r="0.6"/><circle cx="659.2" cy="95.0" r="0.6"/><circle cx="397.9" cy="65.6" r="0.6"/><circle cx="423.7" cy="65.6" r="0.6"/><circle cx="454.0" cy="65.6" r="0.6"/><circle cx="476.3" cy="65.6" r="0.6"/><circle cx="502.6" cy="65.6" r="0.6"/><circle cx="539.6" cy="65.6" r="0.6"/><circle cx="563.0" cy="65.6" r="0.6"/><circle cx="577.6" cy="65.6" r="0.6"/><circle cx="606.8" cy="65.6" r="0.6"/><circle cx="625.1" cy="65.6" r="0.6"/><circle cx="659.2" cy="65.6" r="0.6"/><circle cx="397.9" cy="24.5" r="0.6"/><circle cx="423.7" cy="24.5" r="0.6"/><circle cx="454.0" cy="24.5" r="0.6"/><circle cx="476.3" cy="24.5" r="0.6"/><circle cx="502.6" cy="24.5" r="0.6"/><circle cx="539.6" cy="24.5" r="0.6"/><circle cx="563.0" cy="24.5" r="0.6"/><circle cx="577.6" cy="24.5" r="0.6"/><circle cx="606.8" cy="24.5" r="0.6"/><circle cx="625.1" cy="24.5" r="0.6"/><circle cx="659.2" cy="24.5" r="0.6"/></g>
<g font-size="10.3" fill="#2b2b2b"><text transform="translate(393.9 110.2) scale(0.88 1)" text-anchor="middle">5</text><text transform="translate(422.5 110.2) scale(0.88 1)" text-anchor="middle">5.5</text><text transform="translate(451.1 110.2) scale(0.88 1)" text-anchor="middle">6</text><text transform="translate(479.7 110.2) scale(0.88 1)" text-anchor="middle">6.5</text><text transform="translate(508.4 110.2) scale(0.88 1)" text-anchor="middle">7</text><text transform="translate(537.0 110.2) scale(0.88 1)" text-anchor="middle">7.5</text><text transform="translate(565.6 110.2) scale(0.88 1)" text-anchor="middle">8</text><text transform="translate(594.2 110.2) scale(0.88 1)" text-anchor="middle">8.5</text><text transform="translate(622.8 110.2) scale(0.88 1)" text-anchor="middle">9</text><text transform="translate(651.5 110.2) scale(0.88 1)" text-anchor="middle">9.5</text><text transform="translate(382.4 98.7) scale(0.88 1)" text-anchor="end">25</text><text transform="translate(382.4 69.3) scale(0.88 1)" text-anchor="end">30</text><text transform="translate(382.4 40.0) scale(0.88 1)" text-anchor="end">35</text></g>
<text transform="translate(528.4 122.7) scale(0.86 1)" font-size="11" fill="#222" text-anchor="middle">pH</text>
<text font-size="11.4" fill="#222" text-anchor="middle" transform="translate(370.6 59.2) rotate(-90) scale(0.905 1)">Temperature (°C)</text>
<rect x="674.8" y="21.6" width="4.6" height="76.3" fill="url(#pg)" stroke="#bbb" stroke-width="0.3"/>
<g font-size="9.8" fill="#2b2b2b"><text transform="translate(681.7 88.5) scale(0.88 1)">1</text><text transform="translate(681.7 75.8) scale(0.88 1)">2</text><text transform="translate(681.7 63.0) scale(0.88 1)">3</text><text transform="translate(681.7 50.3) scale(0.88 1)">4</text><text transform="translate(681.7 37.6) scale(0.88 1)">5</text><text transform="translate(681.7 24.9) scale(0.88 1)">6</text></g>
<path d="M47.8 131.6V207.9M76.5 131.6V207.9M105.3 131.6V207.9M134.0 131.6V207.9M162.7 131.6V207.9M191.4 131.6V207.9M220.1 131.6V207.9M248.9 131.6V207.9M277.6 131.6V207.9M306.3 131.6V207.9M39.2 205.0H326.4M39.2 175.6H326.4M39.2 146.3H326.4" stroke="#e6e6e6" stroke-width="0.5" fill="none"/>
<path fill="#3e26a8" stroke="#3e26a8" stroke-width="0.3" fill-rule="evenodd" d="M279.2 203.5L281.9 203.5L287.3 203.5L292.6 203.5L298.0 203.5L303.3 203.5L308.7 203.5L308.7 202.1L308.7 200.7L308.7 199.2L308.7 197.8L308.7 196.3L308.7 194.9L308.7 193.5L308.7 192.0L308.7 190.6L308.7 189.2L308.7 187.7L308.7 186.3L308.7 184.8L308.7 183.4L308.7 182.0L308.7 180.5L308.7 179.1L308.7 177.7L308.7 176.2L308.7 174.8L308.7 174.2L307.7 174.8L305.8 176.2L304.9 177.7L304.0 179.1L303.3 180.1L303.1 180.5L302.2 182.0L301.3 183.4L300.4 184.8L299.5 186.3L298.6 187.7L298.0 188.6L297.6 189.2L296.4 190.6L294.7 192.0L292.9 193.5L292.6 193.6L291.0 194.9L289.2 196.3L287.3 197.8L287.3 197.8L285.5 199.2L283.6 200.7L281.9 202.0L281.7 202.1Z"/>
<path fill="#4648e8" stroke="#4648e8" stroke-width="0.3" fill-rule="evenodd" d="M221.8 203.5L223.1 203.5L228.4 203.5L233.8 203.5L239.1 203.5L244.5 203.5L249.8 203.5L255.2 203.5L260.5 203.5L265.9 203.5L271.2 203.5L276.6 203.5L279.2 203.5L281.7 202.1L281.9 202.0L283.6 200.7L285.5 199.2L287.3 197.8L287.3 197.8L289.2 196.3L291.0 194.9L292.6 193.6L292.9 193.5L294.7 192.0L296.4 190.6L297.6 189.2L298.0 188.6L298.6 187.7L299.5 186.3L300.4 184.8L301.3 183.4L302.2 182.0L303.1 180.5L303.3 180.1L304.0 179.1L304.9 177.7L305.8 176.2L307.7 174.8L308.7 174.2L308.7 173.3L308.7 171.9L308.7 170.5L308.7 169.0L308.7 167.6L308.7 166.2L308.7 164.7L308.7 163.3L308.7 161.8L308.7 160.4L308.7 159.3L307.0 160.4L304.7 161.8L303.3 162.7L302.4 163.3L299.8 164.7L298.0 165.7L297.1 166.2L294.5 167.6L292.6 168.6L291.9 169.0L289.3 170.5L287.3 171.6L286.6 171.9L284.0 173.3L281.9 174.5L280.9 174.8L276.6 175.9L271.2 175.9L265.9 175.9L260.5 176.2L260.5 176.2L258.2 177.7L255.9 179.1L255.2 179.5L253.5 180.5L251.2 182.0L249.8 182.8L248.9 183.4L246.5 184.8L244.5 186.1L244.1 186.3L240.4 187.7L239.1 188.1L235.8 189.2L233.8 189.8L233.1 190.6L231.8 192.0L230.6 193.5L229.3 194.9L228.4 196.0L228.1 196.3L226.9 197.8L225.6 199.2L224.4 200.7L223.1 202.1L223.1 202.1Z"/>
<path fill="#3f71fd" stroke="#3f71fd" stroke-width="0.3" fill-rule="evenodd" d="M194.1 203.5L196.3 203.5L201.7 203.5L207.0 203.5L212.4 203.5L217.7 203.5L221.8 203.5L223.1 202.1L223.1 202.1L224.4 200.7L225.6 199.2L226.9 197.8L228.1 196.3L228.4 196.0L229.3 194.9L230.6 193.5L231.8 192.0L233.1 190.6L233.8 189.8L235.8 189.2L239.1 188.1L240.4 187.7L244.1 186.3L244.5 186.1L246.5 184.8L248.9 183.4L249.8 182.8L251.2 182.0L253.5 180.5L255.2 179.5L255.9 179.1L258.2 177.7L260.5 176.2L260.5 176.2L265.9 175.9L271.2 175.9L276.6 175.9L280.9 174.8L281.9 174.5L284.0 173.3L286.6 171.9L287.3 171.6L289.3 170.5L291.9 169.0L292.6 168.6L294.5 167.6L297.1 166.2L298.0 165.7L299.8 164.7L302.4 163.3L303.3 162.7L304.7 161.8L307.0 160.4L308.7 159.3L308.7 159.0L308.7 157.5L308.7 156.1L308.7 154.7L308.7 153.2L308.7 151.8L308.7 150.3L308.7 148.9L308.7 147.5L308.7 146.0L308.7 144.6L308.7 144.1L307.9 144.6L305.7 146.0L303.4 147.5L303.3 147.5L301.2 148.9L299.0 150.3L298.0 151.0L296.7 151.8L294.3 153.2L292.6 154.2L291.8 154.7L289.2 156.1L287.3 157.1L286.6 157.5L283.9 159.0L281.9 160.1L281.6 160.4L280.0 161.8L278.5 163.3L277.0 164.7L276.6 165.1L271.4 166.2L271.2 166.2L265.9 166.2L265.6 166.2L260.5 165.8L257.6 164.7L255.2 163.8L249.8 163.3L249.8 163.3L249.8 163.3L244.5 164.4L242.7 164.7L239.1 165.4L235.5 166.2L233.8 166.5L229.7 167.6L228.4 168.0L226.9 169.0L224.9 170.5L223.1 171.7L222.8 171.9L220.8 173.3L218.7 174.8L217.7 175.7L217.0 176.2L215.7 177.7L214.4 179.1L213.1 180.5L212.4 181.4L211.8 182.0L210.5 183.4L209.2 184.8L207.9 186.3L207.0 187.3L206.6 187.7L205.4 189.2L204.3 190.6L203.2 192.0L202.2 193.5L201.7 194.2L201.2 194.9L200.2 196.3L199.1 197.8L198.1 199.2L197.1 200.7L196.3 201.7L195.9 202.1Z"/>
<path fill="#2596ed" stroke="#2596ed" stroke-width="0.3" fill-rule="evenodd" d="M142.6 202.1L142.8 202.4L143.6 203.5L148.2 203.5L153.5 203.5L158.9 203.5L164.2 203.5L169.6 203.5L174.9 203.5L180.3 203.5L185.6 203.5L191.0 203.5L194.1 203.5L195.9 202.1L196.3 201.7L197.1 200.7L198.1 199.2L199.1 197.8L200.2 196.3L201.2 194.9L201.7 194.2L202.2 193.5L203.2 192.0L204.3 190.6L205.4 189.2L206.6 187.7L207.0 187.3L207.9 186.3L209.2 184.8L210.5 183.4L211.8 182.0L212.4 181.4L213.1 180.5L214.4 179.1L215.7 177.7L217.0 176.2L217.7 175.7L218.7 174.8L220.8 173.3L222.8 171.9L223.1 171.7L224.9 170.5L226.9 169.0L228.4 168.0L229.7 167.6L233.8 166.5L235.5 166.2L239.1 165.4L242.7 164.7L244.5 164.4L249.8 163.3L249.8 163.3L249.8 163.3L255.2 163.8L257.6 164.7L260.5 165.8L265.6 166.2L265.9 166.2L271.2 166.2L271.4 166.2L276.6 165.1L277.0 164.7L278.5 163.3L280.0 161.8L281.6 160.4L281.9 160.1L283.9 159.0L286.6 157.5L287.3 157.1L289.2 156.1L291.8 154.7L292.6 154.2L294.3 153.2L296.7 151.8L298.0 151.0L299.0 150.3L301.2 148.9L303.3 147.5L303.4 147.5L305.7 146.0L307.9 144.6L308.7 144.1L308.7 143.2L308.7 141.7L308.7 140.3L308.7 138.8L308.7 137.4L308.7 136.0L303.3 136.0L298.0 136.0L297.7 136.0L295.5 137.4L293.2 138.8L292.6 139.2L291.0 140.3L288.8 141.7L287.3 142.7L286.5 143.2L283.9 144.6L281.9 145.7L281.5 146.0L280.0 147.5L278.5 148.9L276.9 150.3L276.6 150.6L275.6 151.8L274.4 153.2L273.2 154.7L272.0 156.1L271.2 156.7L265.9 156.7L260.5 156.4L259.8 156.1L255.9 154.7L255.2 154.4L252.0 153.2L249.8 152.4L248.1 151.8L244.5 150.4L239.1 150.8L234.0 151.8L233.8 151.8L228.4 152.9L227.3 153.2L223.1 154.6L223.0 154.7L221.0 156.1L218.9 157.5L217.7 158.4L217.4 159.0L216.7 160.4L216.0 161.8L215.3 163.3L214.6 164.7L213.9 166.2L212.8 167.6L212.4 168.0L209.1 169.0L207.0 169.7L204.5 170.5L201.7 171.4L200.0 171.9L196.3 173.0L195.3 173.3L191.0 174.4L186.9 174.8L185.6 174.9L180.3 175.7L176.2 176.2L174.9 176.8L173.0 177.7L169.7 179.1L169.6 179.2L166.5 180.5L164.2 181.4L161.2 182.0L158.9 182.3L157.9 182.0L153.8 180.5L153.5 180.4L151.4 179.1L149.2 177.7L148.2 177.0L146.9 176.2L142.8 175.0L141.9 174.8L137.5 173.8L135.1 173.3L132.1 172.7L126.8 173.1L121.4 173.0L116.1 172.9L110.7 172.9L105.3 172.8L100.0 172.4L94.6 172.0L93.4 171.9L89.3 171.6L83.9 171.2L78.6 170.8L77.3 170.5L74.0 169.0L73.2 168.7L72.2 169.0L69.6 170.5L67.9 171.4L67.0 171.9L64.5 173.3L62.5 174.4L61.9 174.8L61.2 176.2L62.5 177.3L63.0 177.7L64.8 179.1L66.6 180.5L67.9 181.6L68.4 182.0L70.2 183.4L72.0 184.8L73.2 185.8L73.9 186.3L76.1 187.7L78.3 189.2L78.6 189.3L83.9 189.2L85.0 189.2L89.3 189.0L94.6 188.1L96.3 187.7L100.0 186.8L101.8 186.3L105.3 185.4L109.3 184.8L110.7 184.6L116.1 184.6L121.4 184.3L126.8 184.0L128.7 184.8L132.1 186.2L132.1 186.3L133.1 187.7L134.1 189.2L135.0 190.6L136.0 192.0L136.9 193.5L137.5 194.3L137.9 194.9L138.8 196.3L139.8 197.8L140.7 199.2L141.7 200.7Z"/>
<path fill="#13b4d0" stroke="#13b4d0" stroke-width="0.3" fill-rule="evenodd" d="M57.2 203.5L62.5 203.5L67.9 203.5L73.2 203.5L78.6 203.5L83.9 203.5L89.3 203.5L94.6 203.5L100.0 203.5L105.3 203.5L110.7 203.5L116.1 203.5L121.4 203.5L126.8 203.5L132.1 203.5L137.5 203.5L142.8 203.5L143.6 203.5L142.8 202.4L142.6 202.1L141.7 200.7L140.7 199.2L139.8 197.8L138.8 196.3L137.9 194.9L137.5 194.3L136.9 193.5L136.0 192.0L135.0 190.6L134.1 189.2L133.1 187.7L132.1 186.3L132.1 186.2L128.7 184.8L126.8 184.0L121.4 184.3L116.1 184.6L110.7 184.6L109.3 184.8L105.3 185.4L101.8 186.3L100.0 186.8L96.3 187.7L94.6 188.1L89.3 189.0L85.0 189.2L83.9 189.2L78.6 189.3L78.3 189.2L76.1 187.7L73.9 186.3L73.2 185.8L72.0 184.8L70.2 183.4L68.4 182.0L67.9 181.6L66.6 180.5L64.8 179.1L63.0 177.7L62.5 177.3L61.2 176.2L61.9 174.8L62.5 174.4L64.5 173.3L67.0 171.9L67.9 171.4L69.6 170.5L72.2 169.0L73.2 168.7L74.0 169.0L77.3 170.5L78.6 170.8L83.9 171.2L89.3 171.6L93.4 171.9L94.6 172.0L100.0 172.4L105.3 172.8L110.7 172.9L116.1 172.9L121.4 173.0L126.8 173.1L132.1 172.7L135.1 173.3L137.5 173.8L141.9 174.8L142.8 175.0L146.9 176.2L148.2 177.0L149.2 177.7L151.4 179.1L153.5 180.4L153.8 180.5L157.9 182.0L158.9 182.3L161.2 182.0L164.2 181.4L166.5 180.5L169.6 179.2L169.7 179.1L173.0 177.7L174.9 176.8L176.2 176.2L180.3 175.7L185.6 174.9L186.9 174.8L191.0 174.4L195.3 173.3L196.3 173.0L200.0 171.9L201.7 171.4L204.5 170.5L207.0 169.7L209.1 169.0L212.4 168.0L212.8 167.6L213.9 166.2L214.6 164.7L215.3 163.3L216.0 161.8L216.7 160.4L217.4 159.0L217.7 158.4L218.9 157.5L221.0 156.1L223.0 154.7L223.1 154.6L227.3 153.2L228.4 152.9L233.8 151.8L234.0 151.8L239.1 150.8L244.5 150.4L248.1 151.8L249.8 152.4L252.0 153.2L255.2 154.4L255.9 154.7L259.8 156.1L260.5 156.4L265.9 156.7L271.2 156.7L272.0 156.1L273.2 154.7L274.4 153.2L275.6 151.8L276.6 150.6L276.9 150.3L278.5 148.9L280.0 147.5L281.5 146.0L281.9 145.7L283.9 144.6L286.5 143.2L287.3 142.7L288.8 141.7L291.0 140.3L292.6 139.2L293.2 138.8L295.5 137.4L297.7 136.0L292.6 136.0L287.3 136.0L281.9 136.0L276.9 136.0L276.6 136.2L275.6 137.4L274.4 138.8L273.1 140.3L271.9 141.7L271.2 142.5L270.7 143.2L269.4 144.6L267.8 146.0L265.9 147.3L260.5 146.9L258.1 146.0L255.2 144.9L254.2 144.6L250.4 143.2L249.8 143.0L246.5 141.7L244.5 141.0L242.6 140.3L239.1 139.0L238.5 138.8L234.3 137.4L233.8 137.2L232.5 137.4L228.4 138.2L225.3 138.8L223.1 139.3L220.2 140.3L217.7 141.3L217.5 141.7L216.8 143.2L216.1 144.6L215.4 146.0L214.7 147.5L214.0 148.9L213.2 150.3L212.5 151.8L212.4 152.1L211.8 153.2L211.1 154.7L210.4 156.1L209.7 157.5L208.6 159.0L207.1 160.4L207.0 160.5L202.6 161.8L201.7 162.1L198.0 163.3L196.3 163.8L193.8 164.7L191.0 165.7L189.8 166.2L185.6 167.5L184.5 167.6L180.3 168.0L174.9 168.5L169.6 168.9L168.5 169.0L164.2 169.4L158.9 169.9L155.7 169.0L153.5 168.4L150.4 167.6L148.2 166.9L144.8 166.2L142.8 165.7L138.0 164.7L137.5 164.6L132.1 163.5L128.4 164.7L126.8 165.3L121.4 166.0L116.1 165.9L110.7 165.8L105.3 165.9L100.0 165.9L94.6 165.5L89.3 165.1L84.5 164.7L83.9 164.7L78.6 164.3L76.3 163.3L73.2 162.0L72.9 161.8L69.9 160.4L67.9 159.3L64.5 160.4L62.5 161.5L61.9 161.8L59.4 163.3L57.2 164.5L57.2 164.7L57.2 166.2L57.2 167.6L57.2 169.0L57.2 170.5L57.2 171.9L57.2 173.3L57.2 174.8L57.2 176.2L57.2 177.7L57.2 179.1L57.2 180.5L57.2 182.0L57.2 183.4L57.2 184.8L57.2 186.3L57.2 187.7L57.2 189.2L57.2 190.6L57.2 192.0L57.2 193.5L57.2 194.9L57.2 196.3L57.2 197.8L57.2 199.2L57.2 200.7L57.2 202.1Z"/>
<path fill="#31c69e" stroke="#31c69e" stroke-width="0.3" fill-rule="evenodd" d="M155.7 169.0L158.9 169.9L164.2 169.4L168.5 169.0L169.6 168.9L174.9 168.5L180.3 168.0L184.5 167.6L185.6 167.5L189.8 166.2L191.0 165.7L193.8 164.7L196.3 163.8L198.0 163.3L201.7 162.1L202.6 161.8L207.0 160.5L207.1 160.4L208.6 159.0L209.7 157.5L210.4 156.1L211.1 154.7L211.8 153.2L212.4 152.1L212.5 151.8L213.2 150.3L214.0 148.9L214.7 147.5L215.4 146.0L216.1 144.6L216.8 143.2L217.5 141.7L217.7 141.3L220.2 140.3L223.1 139.3L225.3 138.8L228.4 138.2L232.5 137.4L233.8 137.2L234.3 137.4L238.5 138.8L239.1 139.0L242.6 140.3L244.5 141.0L246.5 141.7L249.8 143.0L250.4 143.2L254.2 144.6L255.2 144.9L258.1 146.0L260.5 146.9L265.9 147.3L267.8 146.0L269.4 144.6L270.7 143.2L271.2 142.5L271.9 141.7L273.1 140.3L274.4 138.8L275.6 137.4L276.6 136.2L276.9 136.0L276.6 136.0L271.2 136.0L265.9 136.0L263.7 136.0L260.7 137.4L260.5 137.5L260.3 137.4L256.5 136.0L255.2 136.0L249.8 136.0L244.5 136.0L239.1 136.0L233.8 136.0L228.4 136.0L223.1 136.0L217.7 136.0L212.4 136.0L211.9 136.0L211.2 137.4L210.5 138.8L209.8 140.3L209.1 141.7L208.4 143.2L207.7 144.6L207.0 146.0L207.0 146.1L206.3 147.5L205.5 148.9L204.5 150.3L203.1 151.8L201.7 152.9L200.7 153.2L196.3 154.6L196.1 154.7L192.1 156.1L191.0 156.5L188.2 157.5L185.6 158.5L184.5 159.0L180.8 160.4L180.3 160.6L174.9 161.0L169.6 161.5L166.1 161.8L164.2 162.0L158.9 162.5L156.5 161.8L153.5 161.0L152.2 160.4L149.2 159.0L148.2 158.5L145.3 157.5L142.8 156.5L140.9 156.1L137.5 155.4L134.0 154.7L132.1 154.3L130.9 154.7L126.8 156.0L126.6 156.1L124.0 157.5L121.4 159.0L121.4 159.0L121.3 159.0L116.1 158.9L110.7 158.8L105.3 158.8L100.0 159.0L94.6 159.0L89.3 158.6L83.9 158.2L78.6 157.8L78.1 157.5L74.8 156.1L73.2 155.4L71.7 154.7L68.8 153.2L67.9 152.7L65.9 151.8L63.1 150.3L62.5 150.0L60.8 150.3L57.2 151.6L57.2 151.8L57.2 153.2L57.2 154.7L57.2 156.1L57.2 157.5L57.2 159.0L57.2 160.4L57.2 161.8L57.2 163.3L57.2 164.5L59.4 163.3L61.9 161.8L62.5 161.5L64.5 160.4L67.9 159.3L69.9 160.4L72.9 161.8L73.2 162.0L76.3 163.3L78.6 164.3L83.9 164.7L84.5 164.7L89.3 165.1L94.6 165.5L100.0 165.9L105.3 165.9L110.7 165.8L116.1 165.9L121.4 166.0L126.8 165.3L128.4 164.7L132.1 163.5L137.5 164.6L138.0 164.7L142.8 165.7L144.8 166.2L148.2 166.9L150.4 167.6L153.5 168.4Z"/>
<path fill="#86c856" stroke="#86c856" stroke-width="0.3" fill-rule="evenodd" d="M156.5 161.8L158.9 162.5L164.2 162.0L166.1 161.8L169.6 161.5L174.9 161.0L180.3 160.6L180.8 160.4L184.5 159.0L185.6 158.5L188.2 157.5L191.0 156.5L192.1 156.1L196.1 154.7L196.3 154.6L200.7 153.2L201.7 152.9L203.1 151.8L204.5 150.3L205.5 148.9L206.3 147.5L207.0 146.1L207.0 146.0L207.7 144.6L208.4 143.2L209.1 141.7L209.8 140.3L210.5 138.8L211.2 137.4L211.9 136.0L207.0 136.0L203.6 136.0L202.9 137.4L202.2 138.8L201.7 140.0L201.5 140.3L200.6 141.7L199.3 143.2L197.6 144.6L196.3 145.3L194.4 146.0L191.0 147.2L190.4 147.5L186.7 148.9L185.6 149.3L182.9 150.3L180.3 151.4L179.2 151.8L175.5 153.2L174.9 153.4L169.6 154.1L164.2 154.6L163.7 154.7L158.9 155.1L157.3 154.7L153.5 153.6L152.7 153.2L149.6 151.8L148.2 151.1L146.6 150.3L143.6 148.9L142.8 148.5L140.1 147.5L137.5 146.1L136.9 146.0L132.1 145.0L129.0 146.0L126.8 146.8L125.5 147.5L122.9 148.9L121.4 149.8L120.2 150.3L116.3 151.8L116.1 151.9L110.8 151.8L110.7 151.8L110.3 151.8L105.3 151.8L100.0 151.9L94.6 152.1L89.3 152.0L85.9 151.8L83.9 151.6L78.6 151.2L76.5 150.3L73.2 148.9L73.2 148.9L70.4 147.5L67.9 146.2L67.5 146.0L64.7 144.6L62.5 143.5L61.8 143.2L59.0 141.7L57.2 140.8L57.2 141.7L57.2 143.2L57.2 144.6L57.2 146.0L57.2 147.5L57.2 148.9L57.2 150.3L57.2 151.6L60.8 150.3L62.5 150.0L63.1 150.3L65.9 151.8L67.9 152.7L68.8 153.2L71.7 154.7L73.2 155.4L74.8 156.1L78.1 157.5L78.6 157.8L83.9 158.2L89.3 158.6L94.6 159.0L100.0 159.0L105.3 158.8L110.7 158.8L116.1 158.9L121.3 159.0L121.4 159.0L121.4 159.0L124.0 157.5L126.6 156.1L126.8 156.0L130.9 154.7L132.1 154.3L134.0 154.7L137.5 155.4L140.9 156.1L142.8 156.5L145.3 157.5L148.2 158.5L149.2 159.0L152.2 160.4L153.5 161.0ZM260.3 137.4L260.5 137.5L260.7 137.4L263.7 136.0L260.5 136.0L256.5 136.0Z"/>
<path fill="#e5bc32" stroke="#e5bc32" stroke-width="0.3" fill-rule="evenodd" d="M157.3 154.7L158.9 155.1L163.7 154.7L164.2 154.6L169.6 154.1L174.9 153.4L175.5 153.2L179.2 151.8L180.3 151.4L182.9 150.3L185.6 149.3L186.7 148.9L190.4 147.5L191.0 147.2L194.4 146.0L196.3 145.3L197.6 144.6L199.3 143.2L200.6 141.7L201.5 140.3L201.7 140.0L202.2 138.8L202.9 137.4L203.6 136.0L201.7 136.0L196.3 136.0L194.5 136.0L192.3 137.4L191.0 138.0L188.8 138.8L185.6 140.1L185.1 140.3L181.4 141.7L180.3 142.1L177.6 143.2L174.9 144.2L173.9 144.6L170.2 146.0L169.6 146.3L164.2 147.2L161.3 147.5L158.9 147.7L158.1 147.5L153.5 146.2L153.1 146.0L150.1 144.6L148.2 143.7L147.1 143.2L144.1 141.7L142.8 141.1L141.0 140.3L138.0 138.8L137.5 138.6L134.9 137.4L132.1 136.0L127.2 137.4L126.8 137.6L124.4 138.8L121.9 140.3L121.4 140.5L119.3 141.7L116.7 143.2L116.1 143.5L111.6 144.6L110.7 144.8L105.3 144.8L100.0 144.9L94.6 145.0L89.3 145.2L83.9 145.1L78.6 144.7L78.3 144.6L75.0 143.2L73.2 142.4L71.9 141.7L69.0 140.3L67.9 139.7L66.2 138.8L63.3 137.4L62.5 137.0L60.5 136.0L57.2 136.0L57.2 137.4L57.2 138.8L57.2 140.3L57.2 140.8L59.0 141.7L61.8 143.2L62.5 143.5L64.7 144.6L67.5 146.0L67.9 146.2L70.4 147.5L73.2 148.9L73.2 148.9L76.5 150.3L78.6 151.2L83.9 151.6L85.9 151.8L89.3 152.0L94.6 152.1L100.0 151.9L105.3 151.8L110.3 151.8L110.7 151.8L110.8 151.8L116.1 151.9L116.3 151.8L120.2 150.3L121.4 149.8L122.9 148.9L125.5 147.5L126.8 146.8L129.0 146.0L132.1 145.0L136.9 146.0L137.5 146.1L140.1 147.5L142.8 148.5L143.6 148.9L146.6 150.3L148.2 151.1L149.6 151.8L152.7 153.2L153.5 153.6Z"/>
<path fill="#fdcf31" stroke="#fdcf31" stroke-width="0.3" fill-rule="evenodd" d="M158.1 147.5L158.9 147.7L161.3 147.5L164.2 147.2L169.6 146.3L170.2 146.0L173.9 144.6L174.9 144.2L177.6 143.2L180.3 142.1L181.4 141.7L185.1 140.3L185.6 140.1L188.8 138.8L191.0 138.0L192.3 137.4L194.5 136.0L191.0 136.0L185.6 136.0L180.3 136.0L174.9 136.0L172.4 136.0L169.6 137.0L168.6 137.4L164.9 138.8L164.2 139.1L158.9 140.3L158.9 140.3L158.9 140.3L153.6 138.8L153.5 138.8L150.6 137.4L148.2 136.3L147.5 136.0L142.8 136.0L137.5 136.0L132.1 136.0L126.8 136.0L121.4 136.0L116.1 136.0L113.0 136.0L110.7 137.3L109.4 137.4L105.3 137.8L100.0 137.9L94.6 138.0L89.3 138.1L83.9 138.3L78.6 138.2L76.8 137.4L73.5 136.0L73.2 136.0L67.9 136.0L62.5 136.0L60.5 136.0L62.5 137.0L63.3 137.4L66.2 138.8L67.9 139.7L69.0 140.3L71.9 141.7L73.2 142.4L75.0 143.2L78.3 144.6L78.6 144.7L83.9 145.1L89.3 145.2L94.6 145.0L100.0 144.9L105.3 144.8L110.7 144.8L111.6 144.6L116.1 143.5L116.7 143.2L119.3 141.7L121.4 140.5L121.9 140.3L124.4 138.8L126.8 137.6L127.2 137.4L132.1 136.0L134.9 137.4L137.5 138.6L138.0 138.8L141.0 140.3L142.8 141.1L144.1 141.7L147.1 143.2L148.2 143.7L150.1 144.6L153.1 146.0L153.5 146.2Z"/>
<path fill="#f9fb15" stroke="#f9fb15" stroke-width="0.3" fill-rule="evenodd" d="M158.9 140.3L158.9 140.3L158.9 140.3L164.2 139.1L164.9 138.8L168.6 137.4L169.6 137.0L172.4 136.0L169.6 136.0L164.2 136.0L158.9 136.0L153.5 136.0L148.2 136.0L147.5 136.0L148.2 136.3L150.6 137.4L153.5 138.8L153.6 138.8ZM76.8 137.4L78.6 138.2L83.9 138.3L89.3 138.1L94.6 138.0L100.0 137.9L105.3 137.8L109.4 137.4L110.7 137.3L113.0 136.0L110.7 136.0L105.3 136.0L100.0 136.0L94.6 136.0L89.3 136.0L83.9 136.0L78.6 136.0L73.5 136.0Z"/>
<path fill="none" stroke="#1a1a1a" stroke-opacity="0.6" stroke-width="0.35" stroke-linejoin="round" d="M279.2 203.5L281.7 202.1L281.9 202.0L283.6 200.7L285.5 199.2L287.3 197.8L287.3 197.8L289.2 196.3L291.0 194.9L292.6 193.6L292.9 193.5L294.7 192.0L296.4 190.6L297.6 189.2L298.0 188.6L298.6 187.7L299.5 186.3L300.4 184.8L301.3 183.4L302.2 182.0L303.1 180.5L303.3 180.1L304.0 179.1L304.9 177.7L305.8 176.2L307.7 174.8L308.7 174.2M221.8 203.5L223.1 202.1L223.1 202.1L224.4 200.7L225.6 199.2L226.9 197.8L228.1 196.3L228.4 196.0L229.3 194.9L230.6 193.5L231.8 192.0L233.1 190.6L233.8 189.8L235.8 189.2L239.1 188.1L240.4 187.7L244.1 186.3L244.5 186.1L246.5 184.8L248.9 183.4L249.8 182.8L251.2 182.0L253.5 180.5L255.2 179.5L255.9 179.1L258.2 177.7L260.5 176.2L260.5 176.2L265.9 175.9L271.2 175.9L276.6 175.9L280.9 174.8L281.9 174.5L284.0 173.3L286.6 171.9L287.3 171.6L289.3 170.5L291.9 169.0L292.6 168.6L294.5 167.6L297.1 166.2L298.0 165.7L299.8 164.7L302.4 163.3L303.3 162.7L304.7 161.8L307.0 160.4L308.7 159.3M194.1 203.5L195.9 202.1L196.3 201.7L197.1 200.7L198.1 199.2L199.1 197.8L200.2 196.3L201.2 194.9L201.7 194.2L202.2 193.5L203.2 192.0L204.3 190.6L205.4 189.2L206.6 187.7L207.0 187.3L207.9 186.3L209.2 184.8L210.5 183.4L211.8 182.0L212.4 181.4L213.1 180.5L214.4 179.1L215.7 177.7L217.0 176.2L217.7 175.7L218.7 174.8L220.8 173.3L222.8 171.9L223.1 171.7L224.9 170.5L226.9 169.0L228.4 168.0L229.7 167.6L233.8 166.5L235.5 166.2L239.1 165.4L242.7 164.7L244.5 164.4L249.8 163.3L249.8 163.3L249.8 163.3L255.2 163.8L257.6 164.7L260.5 165.8L265.6 166.2L265.9 166.2L271.2 166.2L271.4 166.2L276.6 165.1L277.0 164.7L278.5 163.3L280.0 161.8L281.6 160.4L281.9 160.1L283.9 159.0L286.6 157.5L287.3 157.1L289.2 156.1L291.8 154.7L292.6 154.2L294.3 153.2L296.7 151.8L298.0 151.0L299.0 150.3L301.2 148.9L303.3 147.5L303.4 147.5L305.7 146.0L307.9 144.6L308.7 144.1M143.6 203.5L142.8 202.4L142.6 202.1L141.7 200.7L140.7 199.2L139.8 197.8L138.8 196.3L137.9 194.9L137.5 194.3L136.9 193.5L136.0 192.0L135.0 190.6L134.1 189.2L133.1 187.7L132.1 186.3L132.1 186.2L128.7 184.8L126.8 184.0L121.4 184.3L116.1 184.6L110.7 184.6L109.3 184.8L105.3 185.4L101.8 186.3L100.0 186.8L96.3 187.7L94.6 188.1L89.3 189.0L85.0 189.2L83.9 189.2L78.6 189.3L78.3 189.2L76.1 187.7L73.9 186.3L73.2 185.8L72.0 184.8L70.2 183.4L68.4 182.0L67.9 181.6L66.6 180.5L64.8 179.1L63.0 177.7L62.5 177.3L61.2 176.2L61.9 174.8L62.5 174.4L64.5 173.3L67.0 171.9L67.9 171.4L69.6 170.5L72.2 169.0L73.2 168.7L74.0 169.0L77.3 170.5L78.6 170.8L83.9 171.2L89.3 171.6L93.4 171.9L94.6 172.0L100.0 172.4L105.3 172.8L110.7 172.9L116.1 172.9L121.4 173.0L126.8 173.1L132.1 172.7L135.1 173.3L137.5 173.8L141.9 174.8L142.8 175.0L146.9 176.2L148.2 177.0L149.2 177.7L151.4 179.1L153.5 180.4L153.8 180.5L157.9 182.0L158.9 182.3L161.2 182.0L164.2 181.4L166.5 180.5L169.6 179.2L169.7 179.1L173.0 177.7L174.9 176.8L176.2 176.2L180.3 175.7L185.6 174.9L186.9 174.8L191.0 174.4L195.3 173.3L196.3 173.0L200.0 171.9L201.7 171.4L204.5 170.5L207.0 169.7L209.1 169.0L212.4 168.0L212.8 167.6L213.9 166.2L214.6 164.7L215.3 163.3L216.0 161.8L216.7 160.4L217.4 159.0L217.7 158.4L218.9 157.5L221.0 156.1L223.0 154.7L223.1 154.6L227.3 153.2L228.4 152.9L233.8 151.8L234.0 151.8L239.1 150.8L244.5 150.4L248.1 151.8L249.8 152.4L252.0 153.2L255.2 154.4L255.9 154.7L259.8 156.1L260.5 156.4L265.9 156.7L271.2 156.7L272.0 156.1L273.2 154.7L274.4 153.2L275.6 151.8L276.6 150.6L276.9 150.3L278.5 148.9L280.0 147.5L281.5 146.0L281.9 145.7L283.9 144.6L286.5 143.2L287.3 142.7L288.8 141.7L291.0 140.3L292.6 139.2L293.2 138.8L295.5 137.4L297.7 136.0M57.2 164.5L59.4 163.3L61.9 161.8L62.5 161.5L64.5 160.4L67.9 159.3L69.9 160.4L72.9 161.8L73.2 162.0L76.3 163.3L78.6 164.3L83.9 164.7L84.5 164.7L89.3 165.1L94.6 165.5L100.0 165.9L105.3 165.9L110.7 165.8L116.1 165.9L121.4 166.0L126.8 165.3L128.4 164.7L132.1 163.5L137.5 164.6L138.0 164.7L142.8 165.7L144.8 166.2L148.2 166.9L150.4 167.6L153.5 168.4L155.7 169.0L158.9 169.9L164.2 169.4L168.5 169.0L169.6 168.9L174.9 168.5L180.3 168.0L184.5 167.6L185.6 167.5L189.8 166.2L191.0 165.7L193.8 164.7L196.3 163.8L198.0 163.3L201.7 162.1L202.6 161.8L207.0 160.5L207.1 160.4L208.6 159.0L209.7 157.5L210.4 156.1L211.1 154.7L211.8 153.2L212.4 152.1L212.5 151.8L213.2 150.3L214.0 148.9L214.7 147.5L215.4 146.0L216.1 144.6L216.8 143.2L217.5 141.7L217.7 141.3L220.2 140.3L223.1 139.3L225.3 138.8L228.4 138.2L232.5 137.4L233.8 137.2L234.3 137.4L238.5 138.8L239.1 139.0L242.6 140.3L244.5 141.0L246.5 141.7L249.8 143.0L250.4 143.2L254.2 144.6L255.2 144.9L258.1 146.0L260.5 146.9L265.9 147.3L267.8 146.0L269.4 144.6L270.7 143.2L271.2 142.5L271.9 141.7L273.1 140.3L274.4 138.8L275.6 137.4L276.6 136.2L276.9 136.0M57.2 151.6L60.8 150.3L62.5 150.0L63.1 150.3L65.9 151.8L67.9 152.7L68.8 153.2L71.7 154.7L73.2 155.4L74.8 156.1L78.1 157.5L78.6 157.8L83.9 158.2L89.3 158.6L94.6 159.0L100.0 159.0L105.3 158.8L110.7 158.8L116.1 158.9L121.3 159.0L121.4 159.0L121.4 159.0L124.0 157.5L126.6 156.1L126.8 156.0L130.9 154.7L132.1 154.3L134.0 154.7L137.5 155.4L140.9 156.1L142.8 156.5L145.3 157.5L148.2 158.5L149.2 159.0L152.2 160.4L153.5 161.0L156.5 161.8L158.9 162.5L164.2 162.0L166.1 161.8L169.6 161.5L174.9 161.0L180.3 160.6L180.8 160.4L184.5 159.0L185.6 158.5L188.2 157.5L191.0 156.5L192.1 156.1L196.1 154.7L196.3 154.6L200.7 153.2L201.7 152.9L203.1 151.8L204.5 150.3L205.5 148.9L206.3 147.5L207.0 146.1L207.0 146.0L207.7 144.6L208.4 143.2L209.1 141.7L209.8 140.3L210.5 138.8L211.2 137.4L211.9 136.0M256.5 136.0L260.3 137.4L260.5 137.5L260.7 137.4L263.7 136.0M57.2 140.8L59.0 141.7L61.8 143.2L62.5 143.5L64.7 144.6L67.5 146.0L67.9 146.2L70.4 147.5L73.2 148.9L73.2 148.9L76.5 150.3L78.6 151.2L83.9 151.6L85.9 151.8L89.3 152.0L94.6 152.1L100.0 151.9L105.3 151.8L110.3 151.8L110.7 151.8L110.8 151.8L116.1 151.9L116.3 151.8L120.2 150.3L121.4 149.8L122.9 148.9L125.5 147.5L126.8 146.8L129.0 146.0L132.1 145.0L136.9 146.0L137.5 146.1L140.1 147.5L142.8 148.5L143.6 148.9L146.6 150.3L148.2 151.1L149.6 151.8L152.7 153.2L153.5 153.6L157.3 154.7L158.9 155.1L163.7 154.7L164.2 154.6L169.6 154.1L174.9 153.4L175.5 153.2L179.2 151.8L180.3 151.4L182.9 150.3L185.6 149.3L186.7 148.9L190.4 147.5L191.0 147.2L194.4 146.0L196.3 145.3L197.6 144.6L199.3 143.2L200.6 141.7L201.5 140.3L201.7 140.0L202.2 138.8L202.9 137.4L203.6 136.0M60.5 136.0L62.5 137.0L63.3 137.4L66.2 138.8L67.9 139.7L69.0 140.3L71.9 141.7L73.2 142.4L75.0 143.2L78.3 144.6L78.6 144.7L83.9 145.1L89.3 145.2L94.6 145.0L100.0 144.9L105.3 144.8L110.7 144.8L111.6 144.6L116.1 143.5L116.7 143.2L119.3 141.7L121.4 140.5L121.9 140.3L124.4 138.8L126.8 137.6L127.2 137.4L132.1 136.0L134.9 137.4L137.5 138.6L138.0 138.8L141.0 140.3L142.8 141.1L144.1 141.7L147.1 143.2L148.2 143.7L150.1 144.6L153.1 146.0L153.5 146.2L158.1 147.5L158.9 147.7L161.3 147.5L164.2 147.2L169.6 146.3L170.2 146.0L173.9 144.6L174.9 144.2L177.6 143.2L180.3 142.1L181.4 141.7L185.1 140.3L185.6 140.1L188.8 138.8L191.0 138.0L192.3 137.4L194.5 136.0M73.5 136.0L76.8 137.4L78.6 138.2L83.9 138.3L89.3 138.1L94.6 138.0L100.0 137.9L105.3 137.8L109.4 137.4L110.7 137.3L113.0 136.0M147.5 136.0L148.2 136.3L150.6 137.4L153.5 138.8L153.6 138.8L158.9 140.3L158.9 140.3L158.9 140.3L164.2 139.1L164.9 138.8L168.6 137.4L169.6 137.0L172.4 136.0"/>
<rect x="38.9" y="131.4" width="287.7" height="77.0" fill="none" stroke="#c4c4c4" stroke-width="0.7"/>
<path d="M47.8 207.9v-2.5M47.8 131.6v2.5M76.5 207.9v-2.5M76.5 131.6v2.5M105.3 207.9v-2.5M105.3 131.6v2.5M134.0 207.9v-2.5M134.0 131.6v2.5M162.7 207.9v-2.5M162.7 131.6v2.5M191.4 207.9v-2.5M191.4 131.6v2.5M220.1 207.9v-2.5M220.1 131.6v2.5M248.9 207.9v-2.5M248.9 131.6v2.5M277.6 207.9v-2.5M277.6 131.6v2.5M306.3 207.9v-2.5M306.3 131.6v2.5M39.2 205.0h2.5M326.4 205.0h-2.5M39.2 175.6h2.5M326.4 175.6h-2.5M39.2 146.3h2.5M326.4 146.3h-2.5" stroke="#9a9a9a" stroke-width="0.5" fill="none"/>
<g fill="#222"><circle cx="51.8" cy="205.0" r="0.6"/><circle cx="77.7" cy="205.0" r="0.6"/><circle cx="108.1" cy="205.0" r="0.6"/><circle cx="130.5" cy="205.0" r="0.6"/><circle cx="157.0" cy="205.0" r="0.6"/><circle cx="194.0" cy="205.0" r="0.6"/><circle cx="217.6" cy="205.0" r="0.6"/><circle cx="232.2" cy="205.0" r="0.6"/><circle cx="261.5" cy="205.0" r="0.6"/><circle cx="279.9" cy="205.0" r="0.6"/><circle cx="314.1" cy="205.0" r="0.6"/><circle cx="51.8" cy="175.6" r="0.6"/><circle cx="77.7" cy="175.6" r="0.6"/><circle cx="108.1" cy="175.6" r="0.6"/><circle cx="130.5" cy="175.6" r="0.6"/><circle cx="157.0" cy="175.6" r="0.6"/><circle cx="194.0" cy="175.6" r="0.6"/><circle cx="217.6" cy="175.6" r="0.6"/><circle cx="232.2" cy="175.6" r="0.6"/><circle cx="261.5" cy="175.6" r="0.6"/><circle cx="279.9" cy="175.6" r="0.6"/><circle cx="314.1" cy="175.6" r="0.6"/><circle cx="51.8" cy="134.5" r="0.6"/><circle cx="77.7" cy="134.5" r="0.6"/><circle cx="108.1" cy="134.5" r="0.6"/><circle cx="130.5" cy="134.5" r="0.6"/><circle cx="157.0" cy="134.5" r="0.6"/><circle cx="194.0" cy="134.5" r="0.6"/><circle cx="217.6" cy="134.5" r="0.6"/><circle cx="232.2" cy="134.5" r="0.6"/><circle cx="261.5" cy="134.5" r="0.6"/><circle cx="279.9" cy="134.5" r="0.6"/><circle cx="314.1" cy="134.5" r="0.6"/></g>
<g font-size="10.3" fill="#2b2b2b"><text transform="translate(47.8 220.2) scale(0.88 1)" text-anchor="middle">5</text><text transform="translate(76.5 220.2) scale(0.88 1)" text-anchor="middle">5.5</text><text transform="translate(105.3 220.2) scale(0.88 1)" text-anchor="middle">6</text><text transform="translate(134.0 220.2) scale(0.88 1)" text-anchor="middle">6.5</text><text transform="translate(162.7 220.2) scale(0.88 1)" text-anchor="middle">7</text><text transform="translate(191.4 220.2) scale(0.88 1)" text-anchor="middle">7.5</text><text transform="translate(220.1 220.2) scale(0.88 1)" text-anchor="middle">8</text><text transform="translate(248.9 220.2) scale(0.88 1)" text-anchor="middle">8.5</text><text transform="translate(277.6 220.2) scale(0.88 1)" text-anchor="middle">9</text><text transform="translate(306.3 220.2) scale(0.88 1)" text-anchor="middle">9.5</text><text transform="translate(36.3 208.7) scale(0.88 1)" text-anchor="end">25</text><text transform="translate(36.3 179.3) scale(0.88 1)" text-anchor="end">30</text><text transform="translate(36.3 150.0) scale(0.88 1)" text-anchor="end">35</text></g>
<text transform="translate(182.8 232.7) scale(0.86 1)" font-size="11" fill="#222" text-anchor="middle">pH</text>
<text font-size="11.4" fill="#222" text-anchor="middle" transform="translate(24.5 169.2) rotate(-90) scale(0.905 1)">Temperature (°C)</text>
<rect x="329.7" y="131.6" width="4.6" height="76.3" fill="url(#pg)" stroke="#bbb" stroke-width="0.3"/>
<g font-size="9.8" fill="#2b2b2b"><text transform="translate(336.6 211.2) scale(0.88 1)">1</text><text transform="translate(336.6 190.0) scale(0.88 1)">1.5</text><text transform="translate(336.6 168.8) scale(0.88 1)">2</text><text transform="translate(336.6 147.6) scale(0.88 1)">2.5</text></g>
<text x="2.2" y="168.3" font-size="16.3" font-weight="bold" fill="#000">b</text>
<path d="M393.9 131.6V207.9M422.5 131.6V207.9M451.1 131.6V207.9M479.7 131.6V207.9M508.4 131.6V207.9M537.0 131.6V207.9M565.6 131.6V207.9M594.2 131.6V207.9M622.8 131.6V207.9M651.5 131.6V207.9M385.3 205.0H671.5M385.3 175.6H671.5M385.3 146.3H671.5" stroke="#e6e6e6" stroke-width="0.5" fill="none"/>
<path fill="#3e26a8" stroke="#3e26a8" stroke-width="0.3" fill-rule="evenodd" d="M472.1 203.5L472.6 203.5L477.9 203.5L479.3 203.5L478.4 202.1L477.9 201.3L474.9 200.7L472.6 199.8L472.2 200.7L472.2 202.1ZM562.0 203.5L563.2 203.5L568.5 203.5L573.9 203.5L579.2 203.5L584.5 203.5L589.9 203.5L595.2 203.5L600.5 203.5L605.9 203.5L610.2 203.5L605.9 203.0L600.5 202.5L595.2 202.1L594.7 202.1L589.9 201.7L584.5 201.3L579.2 200.9L578.8 200.7L577.2 199.2L576.3 197.8L575.2 196.3L574.0 194.9L573.9 194.8L570.8 193.5L569.8 192.0L569.3 190.6L569.0 189.2L568.9 187.7L568.5 186.4L566.6 187.7L566.1 189.2L565.6 190.6L565.1 192.0L564.5 193.5L564.0 194.9L563.5 196.3L563.2 197.1L563.2 197.8L563.1 199.2L563.0 200.7L562.7 202.1ZM622.5 150.3L627.2 150.8L632.5 151.2L637.9 151.6L643.2 150.7L644.4 150.3L648.5 149.2L649.6 148.9L653.9 147.7L653.9 147.5L653.9 146.0L653.9 144.6L653.9 143.2L653.9 141.7L653.9 140.3L653.9 138.8L653.9 137.4L653.9 136.0L648.5 136.0L643.2 136.0L637.9 136.0L632.5 136.0L627.2 136.0L621.9 136.0L616.5 136.0L611.2 136.0L605.9 136.0L600.5 136.0L595.2 136.0L589.9 136.0L584.5 136.0L579.2 136.0L573.9 136.0L569.8 136.0L572.1 137.4L573.9 138.5L574.8 138.8L578.6 140.3L579.2 140.5L582.2 140.3L584.5 140.1L589.8 140.3L589.9 140.3L595.2 140.4L600.5 140.6L605.9 140.7L607.1 141.7L608.4 143.2L609.5 144.6L610.8 146.0L611.2 146.5L613.9 147.5L615.8 148.9L616.5 149.8L621.9 150.3Z"/>
<path fill="#474ded" stroke="#474ded" stroke-width="0.3" fill-rule="evenodd" d="M466.8 203.5L467.2 203.5L472.1 203.5L472.2 202.1L472.2 200.7L472.6 199.8L474.9 200.7L477.9 201.3L478.4 202.1L479.3 203.5L483.2 203.5L484.2 203.5L483.3 202.1L483.2 202.0L482.4 200.7L481.5 199.2L480.6 197.8L479.6 196.3L478.7 194.9L477.9 193.6L477.6 193.5L473.1 192.0L472.6 191.8L471.7 192.0L467.2 193.3L467.2 193.5L467.1 194.9L467.1 196.3L467.0 197.8L467.0 199.2L466.9 200.7L466.8 202.1ZM532.6 203.5L536.5 203.5L541.9 203.5L547.2 203.5L552.5 203.5L557.9 203.5L562.0 203.5L562.7 202.1L563.0 200.7L563.1 199.2L563.2 197.8L563.2 197.1L563.5 196.3L564.0 194.9L564.5 193.5L565.1 192.0L565.6 190.6L566.1 189.2L566.6 187.7L568.5 186.4L568.9 187.7L569.0 189.2L569.3 190.6L569.8 192.0L570.8 193.5L573.9 194.8L574.0 194.9L575.2 196.3L576.3 197.8L577.2 199.2L578.8 200.7L579.2 200.9L584.5 201.3L589.9 201.7L594.7 202.1L595.2 202.1L600.5 202.5L605.9 203.0L610.2 203.5L611.2 203.5L616.5 203.5L621.9 203.5L627.2 203.5L632.5 203.5L637.9 203.5L643.2 203.5L648.5 203.5L653.9 203.5L653.9 202.1L653.9 200.7L653.9 199.2L653.9 197.8L653.9 196.3L653.9 194.9L653.9 193.5L653.9 192.0L653.9 190.6L653.9 189.2L653.9 187.7L653.9 186.3L653.9 184.8L653.9 184.1L648.5 184.8L648.2 184.8L643.2 185.5L637.9 186.2L632.5 185.5L628.4 184.8L627.2 184.6L627.1 184.8L626.5 186.3L625.8 187.7L625.1 189.2L624.5 190.6L623.8 192.0L623.2 193.5L622.5 194.9L621.9 196.3L621.9 196.3L619.1 197.8L616.5 198.2L613.3 197.8L611.2 197.5L605.9 196.9L601.4 196.3L600.5 196.2L595.2 195.7L589.9 195.3L585.1 194.9L584.5 194.9L579.2 194.4L578.3 193.5L577.1 192.0L575.8 190.6L574.6 189.2L573.9 188.3L573.4 187.7L572.6 186.3L571.7 184.8L570.8 183.4L569.9 182.0L569.0 180.5L568.5 179.9L567.8 179.1L566.8 177.7L566.2 176.2L565.9 174.8L565.9 173.3L565.9 171.9L565.9 170.5L565.9 169.0L565.9 167.6L565.9 166.2L565.9 164.7L565.9 163.3L565.9 161.8L565.9 160.4L565.9 159.0L565.9 157.5L565.9 156.1L565.9 154.7L565.9 153.2L565.9 151.8L565.9 150.3L566.2 148.9L566.6 147.5L567.2 146.0L568.2 144.6L568.5 144.2L569.3 144.6L571.6 146.0L573.9 147.4L574.0 147.5L577.8 148.9L579.2 149.4L582.0 148.9L584.5 148.4L589.9 148.0L595.2 148.2L600.5 148.3L605.9 148.5L606.3 148.9L607.6 150.3L608.9 151.8L610.3 153.2L611.2 154.2L611.6 154.7L612.6 156.1L613.7 157.5L614.8 159.0L615.9 160.4L616.5 161.2L617.5 161.8L619.2 163.3L620.3 164.7L621.1 166.2L621.7 167.6L621.9 167.9L627.2 168.6L632.2 169.0L632.5 169.1L637.9 169.5L643.2 169.9L648.5 170.3L650.5 170.5L653.9 170.7L653.9 170.5L653.9 169.0L653.9 167.6L653.9 166.2L653.9 164.7L653.9 163.3L653.9 161.8L653.9 160.4L653.9 159.0L653.9 157.5L653.9 156.1L653.9 154.7L653.9 153.2L653.9 151.8L653.9 150.3L653.9 148.9L653.9 147.7L649.6 148.9L648.5 149.2L644.4 150.3L643.2 150.7L637.9 151.6L632.5 151.2L627.2 150.8L622.5 150.3L621.9 150.3L616.5 149.8L615.8 148.9L613.9 147.5L611.2 146.5L610.8 146.0L609.5 144.6L608.4 143.2L607.1 141.7L605.9 140.7L600.5 140.6L595.2 140.4L589.9 140.3L589.8 140.3L584.5 140.1L582.2 140.3L579.2 140.5L578.6 140.3L574.8 138.8L573.9 138.5L572.1 137.4L569.8 136.0L568.5 136.0L563.2 136.0L557.9 136.0L556.5 136.0L556.5 137.4L556.5 138.8L556.5 140.3L556.5 141.7L556.5 143.2L556.5 144.6L556.5 146.0L556.5 147.5L556.5 148.9L556.5 150.3L556.5 151.8L556.5 153.2L556.5 154.7L556.5 156.1L556.5 157.5L556.8 159.0L557.0 160.4L557.1 161.8L557.2 163.3L557.3 164.7L557.3 166.2L557.7 167.6L557.9 168.1L558.6 169.0L559.3 170.5L559.8 171.9L560.3 173.3L560.6 174.8L560.6 176.2L560.5 177.7L560.5 179.1L560.4 180.5L560.3 182.0L560.3 183.4L560.2 184.8L560.1 186.3L560.0 187.7L560.0 189.2L559.9 190.6L559.8 192.0L559.8 193.5L559.7 194.9L559.6 196.3L559.5 197.8L559.0 199.2L557.9 200.5L555.8 200.7L552.5 200.9L547.2 201.3L541.9 201.7L538.1 200.7L536.5 200.2L533.4 199.2L532.0 197.8L531.2 197.3L530.0 197.8L529.9 199.2L530.8 200.7L531.2 201.3L531.8 202.1Z"/>
<path fill="#377afa" stroke="#377afa" stroke-width="0.3" fill-rule="evenodd" d="M403.2 203.5L408.6 203.5L409.9 203.5L409.1 202.1L408.6 200.9L408.4 200.7L407.7 199.2L407.0 197.8L406.2 196.3L405.5 194.9L404.8 193.5L404.1 192.0L403.3 190.6L403.2 190.4L403.2 190.6L403.2 192.0L403.2 193.5L403.2 194.9L403.2 196.3L403.2 197.8L403.2 199.2L403.2 200.7L403.2 202.1ZM461.5 203.5L461.9 203.5L466.8 203.5L466.8 202.1L466.9 200.7L467.0 199.2L467.0 197.8L467.1 196.3L467.1 194.9L467.2 193.5L467.2 193.3L471.7 192.0L472.6 191.8L473.1 192.0L477.6 193.5L477.9 193.6L478.7 194.9L479.6 196.3L480.6 197.8L481.5 199.2L482.4 200.7L483.2 202.0L483.3 202.1L484.2 203.5L488.5 203.5L489.1 203.5L488.5 202.7L488.1 202.1L487.2 200.7L486.3 199.2L485.4 197.8L484.5 196.3L483.6 194.9L483.2 194.3L482.7 193.5L481.8 192.0L480.9 190.6L480.0 189.2L479.1 187.7L478.2 186.3L477.9 185.8L474.8 184.8L472.6 184.1L469.1 184.8L467.2 185.2L463.1 186.3L462.4 187.7L462.1 189.2L462.0 190.6L461.9 192.0L461.9 192.4L461.8 193.5L461.8 194.9L461.7 196.3L461.7 197.8L461.6 199.2L461.6 200.7L461.5 202.1ZM524.0 203.5L525.9 203.5L531.2 203.5L532.6 203.5L531.8 202.1L531.2 201.3L530.8 200.7L529.9 199.2L530.0 197.8L531.2 197.3L532.0 197.8L533.4 199.2L536.5 200.2L538.1 200.7L541.9 201.7L547.2 201.3L552.5 200.9L555.8 200.7L557.9 200.5L559.0 199.2L559.5 197.8L559.6 196.3L559.7 194.9L559.8 193.5L559.8 192.0L559.9 190.6L560.0 189.2L560.0 187.7L560.1 186.3L560.2 184.8L560.3 183.4L560.3 182.0L560.4 180.5L560.5 179.1L560.5 177.7L560.6 176.2L560.6 174.8L560.3 173.3L559.8 171.9L559.3 170.5L558.6 169.0L557.9 168.1L557.7 167.6L557.3 166.2L557.3 164.7L557.2 163.3L557.1 161.8L557.0 160.4L556.8 159.0L556.5 157.5L556.5 156.1L556.5 154.7L556.5 153.2L556.5 151.8L556.5 150.3L556.5 148.9L556.5 147.5L556.5 146.0L556.5 144.6L556.5 143.2L556.5 141.7L556.5 140.3L556.5 138.8L556.5 137.4L556.5 136.0L552.5 136.0L547.2 136.0L547.1 136.0L547.1 137.4L547.1 138.8L547.1 140.3L547.1 141.7L547.1 143.2L547.1 144.6L547.1 146.0L547.2 147.5L547.2 147.7L547.9 148.9L548.7 150.3L549.3 151.8L549.7 153.2L550.1 154.7L550.3 156.1L550.6 157.5L551.1 159.0L551.6 160.4L552.1 161.8L552.5 163.0L552.7 163.3L553.2 164.7L553.7 166.2L554.2 167.6L554.7 169.0L555.2 170.5L555.7 171.9L556.2 173.3L556.7 174.8L557.0 176.2L556.9 177.7L556.9 179.1L556.8 180.5L556.7 182.0L556.7 183.4L556.6 184.8L556.5 186.3L556.4 187.7L556.4 189.2L556.3 190.6L556.2 192.0L555.7 193.5L554.8 194.9L552.9 196.3L552.5 196.5L547.2 196.9L541.9 197.3L538.4 196.3L536.5 195.8L534.9 194.9L532.2 193.5L531.2 192.9L529.6 192.0L526.9 190.6L525.9 190.0L524.3 189.2L521.6 187.7L520.5 187.1L518.3 186.3L516.4 184.8L515.2 184.2L513.3 184.8L512.9 186.3L513.9 187.7L514.8 189.2L515.2 189.8L515.7 190.6L516.6 192.0L517.6 193.5L518.5 194.9L519.4 196.3L520.3 197.8L520.5 198.1L521.3 199.2L522.2 200.7L523.1 202.1ZM613.3 197.8L616.5 198.2L619.1 197.8L621.9 196.3L621.9 196.3L622.5 194.9L623.2 193.5L623.8 192.0L624.5 190.6L625.1 189.2L625.8 187.7L626.5 186.3L627.1 184.8L627.2 184.6L628.4 184.8L632.5 185.5L637.9 186.2L643.2 185.5L648.2 184.8L648.5 184.8L653.9 184.1L653.9 183.4L653.9 182.0L653.9 180.5L653.9 179.1L653.9 177.7L653.9 176.2L653.9 174.8L653.9 173.3L653.9 171.9L653.9 170.7L650.5 170.5L648.5 170.3L643.2 169.9L637.9 169.5L632.5 169.1L632.2 169.0L627.2 168.6L621.9 167.9L621.7 167.6L621.1 166.2L620.3 164.7L619.2 163.3L617.5 161.8L616.5 161.2L615.9 160.4L614.8 159.0L613.7 157.5L612.6 156.1L611.6 154.7L611.2 154.2L610.3 153.2L608.9 151.8L607.6 150.3L606.3 148.9L605.9 148.5L600.5 148.3L595.2 148.2L589.9 148.0L584.5 148.4L582.0 148.9L579.2 149.4L577.8 148.9L574.0 147.5L573.9 147.4L571.6 146.0L569.3 144.6L568.5 144.2L568.2 144.6L567.2 146.0L566.6 147.5L566.2 148.9L565.9 150.3L565.9 151.8L565.9 153.2L565.9 154.7L565.9 156.1L565.9 157.5L565.9 159.0L565.9 160.4L565.9 161.8L565.9 163.3L565.9 164.7L565.9 166.2L565.9 167.6L565.9 169.0L565.9 170.5L565.9 171.9L565.9 173.3L565.9 174.8L566.2 176.2L566.8 177.7L567.8 179.1L568.5 179.9L569.0 180.5L569.9 182.0L570.8 183.4L571.7 184.8L572.6 186.3L573.4 187.7L573.9 188.3L574.6 189.2L575.8 190.6L577.1 192.0L578.3 193.5L579.2 194.4L584.5 194.9L585.1 194.9L589.9 195.3L595.2 195.7L600.5 196.2L601.4 196.3L605.9 196.9L611.2 197.5ZM616.5 192.0L616.5 192.0L611.2 191.4L605.9 190.8L604.3 190.6L600.5 190.1L595.2 189.4L592.7 189.2L589.9 188.8L584.5 188.4L579.2 188.0L579.0 187.7L577.7 186.3L576.4 184.8L575.2 183.4L573.9 182.0L573.9 181.9L573.0 180.5L572.1 179.1L571.2 177.7L570.3 176.2L569.9 174.8L569.9 173.3L569.9 171.9L569.9 170.5L569.9 169.0L569.9 167.6L569.9 166.2L570.0 164.7L570.2 163.3L570.4 161.8L570.8 160.4L571.4 159.0L572.4 157.5L573.9 156.4L577.0 157.5L579.2 158.4L583.7 157.5L584.5 157.4L589.9 156.4L593.2 156.1L595.2 155.9L600.5 156.1L601.4 156.1L605.9 156.2L607.1 157.5L608.4 159.0L609.7 160.4L611.1 161.8L611.2 162.0L612.2 163.3L613.3 164.7L614.4 166.2L615.5 167.6L616.5 169.0L616.6 169.0L617.7 170.5L618.8 171.9L619.9 173.3L621.0 174.8L621.4 176.2L621.0 177.7L620.6 179.1L620.3 180.5L619.9 182.0L619.5 183.4L619.1 184.8L618.7 186.3L618.3 187.7L617.9 189.2L617.5 190.6L616.5 192.0ZM488.2 159.0L488.5 159.2L488.9 159.0L490.1 157.5L490.5 156.1L490.7 154.7L490.7 153.2L490.2 151.8L489.6 150.3L489.1 148.9L488.6 147.5L488.5 147.4L488.0 146.0L487.5 144.6L487.0 143.2L486.5 141.7L485.9 140.3L485.4 138.8L484.9 137.4L484.4 136.0L483.2 136.0L477.9 136.0L472.8 136.0L473.2 137.4L473.6 138.8L474.0 140.3L474.5 141.7L474.9 143.2L475.3 144.6L475.7 146.0L476.1 147.5L476.5 148.9L476.9 150.3L477.4 151.8L477.8 153.2L477.9 153.6L479.9 154.7L482.7 156.1L483.2 156.4L485.4 157.5Z"/>
<path fill="#1da2e4" stroke="#1da2e4" stroke-width="0.3" fill-rule="evenodd" d="M409.9 203.5L413.9 203.5L416.9 203.5L416.2 202.1L415.5 200.7L414.8 199.2L414.0 197.8L413.9 197.5L413.3 196.3L412.6 194.9L411.9 193.5L411.5 192.0L411.0 190.6L410.3 189.2L409.3 187.7L409.0 186.3L408.7 184.8L408.6 184.0L408.5 183.4L408.2 182.0L407.9 180.5L407.6 179.1L407.3 177.7L407.0 176.2L406.0 174.8L404.6 173.3L403.2 172.1L403.2 173.3L403.2 174.8L403.2 176.2L403.2 177.7L403.2 179.1L403.2 180.5L403.2 182.0L403.2 183.4L403.2 184.8L403.2 186.3L403.2 187.7L403.2 189.2L403.2 190.4L403.3 190.6L404.1 192.0L404.8 193.5L405.5 194.9L406.2 196.3L407.0 197.8L407.7 199.2L408.4 200.7L408.6 200.9L409.1 202.1ZM455.8 203.5L456.6 203.5L461.5 203.5L461.5 202.1L461.6 200.7L461.6 199.2L461.7 197.8L461.7 196.3L461.8 194.9L461.8 193.5L461.9 192.4L461.9 192.0L462.0 190.6L462.1 189.2L462.4 187.7L463.1 186.3L467.2 185.2L469.1 184.8L472.6 184.1L474.8 184.8L477.9 185.8L478.2 186.3L479.1 187.7L480.0 189.2L480.9 190.6L481.8 192.0L482.7 193.5L483.2 194.3L483.6 194.9L484.5 196.3L485.4 197.8L486.3 199.2L487.2 200.7L488.1 202.1L488.5 202.7L489.1 203.5L493.9 203.5L493.9 203.5L493.9 203.4L493.0 202.1L492.1 200.7L491.2 199.2L490.3 197.8L489.4 196.3L488.5 195.0L488.5 194.9L487.6 193.5L486.7 192.0L485.8 190.6L484.9 189.2L484.2 187.7L483.2 186.6L483.0 186.3L482.1 184.8L481.2 183.4L481.1 182.0L481.1 180.5L480.8 179.1L477.9 178.1L476.5 177.7L472.6 176.4L467.2 177.5L466.5 177.7L461.9 178.6L459.8 179.1L457.9 180.5L457.3 182.0L457.1 183.4L456.9 184.8L456.8 186.3L456.7 187.7L456.7 189.2L456.6 190.6L456.6 192.0L456.6 192.9L456.5 193.5L456.4 194.9L456.3 196.3L456.2 197.8L456.1 199.2L456.0 200.7L455.9 202.1ZM514.5 202.1L515.2 203.2L515.5 203.5L520.5 203.5L524.0 203.5L523.1 202.1L522.2 200.7L521.3 199.2L520.5 198.1L520.3 197.8L519.4 196.3L518.5 194.9L517.6 193.5L516.6 192.0L515.7 190.6L515.2 189.8L514.8 189.2L513.9 187.7L512.9 186.3L513.3 184.8L515.2 184.2L516.4 184.8L518.3 186.3L520.5 187.1L521.6 187.7L524.3 189.2L525.9 190.0L526.9 190.6L529.6 192.0L531.2 192.9L532.2 193.5L534.9 194.9L536.5 195.8L538.4 196.3L541.9 197.3L547.2 196.9L552.5 196.5L552.9 196.3L554.8 194.9L555.7 193.5L556.2 192.0L556.3 190.6L556.4 189.2L556.4 187.7L556.5 186.3L556.6 184.8L556.7 183.4L556.7 182.0L556.8 180.5L556.9 179.1L556.9 177.7L557.0 176.2L556.7 174.8L556.2 173.3L555.7 171.9L555.2 170.5L554.7 169.0L554.2 167.6L553.7 166.2L553.2 164.7L552.7 163.3L552.5 163.0L552.1 161.8L551.6 160.4L551.1 159.0L550.6 157.5L550.3 156.1L550.1 154.7L549.7 153.2L549.3 151.8L548.7 150.3L547.9 148.9L547.2 147.7L547.2 147.5L547.1 146.0L547.1 144.6L547.1 143.2L547.1 141.7L547.1 140.3L547.1 138.8L547.1 137.4L547.1 136.0L541.9 136.0L537.0 136.0L538.1 137.4L538.9 138.8L539.9 140.3L541.0 141.7L541.9 143.0L542.0 143.2L542.6 144.6L543.1 146.0L543.5 147.5L544.0 148.9L544.5 150.3L545.0 151.8L545.5 153.2L546.0 154.7L546.5 156.1L547.1 157.5L547.2 158.0L547.6 159.0L548.1 160.4L548.6 161.8L549.1 163.3L549.6 164.7L550.1 166.2L550.6 167.6L551.2 169.0L551.7 170.5L552.2 171.9L552.5 172.9L552.7 173.3L553.2 174.8L553.5 176.2L553.4 177.7L553.3 179.1L553.3 180.5L553.2 182.0L553.1 183.4L553.1 184.8L553.0 186.3L552.9 187.7L552.9 189.2L552.8 190.6L552.6 192.0L552.5 192.1L547.2 192.5L541.9 192.9L538.8 192.0L536.5 191.4L535.0 190.6L532.4 189.2L531.2 188.5L529.8 187.7L527.1 186.3L525.9 185.6L524.5 184.8L521.8 183.4L520.5 182.7L519.2 182.0L516.5 180.5L515.2 179.8L513.9 179.1L511.3 177.7L509.9 176.9L508.6 176.2L507.2 174.8L506.8 173.3L506.3 171.9L505.9 170.5L505.4 169.0L505.0 167.6L504.5 166.2L504.5 166.2L504.0 164.7L503.5 163.3L503.0 161.8L502.5 160.4L502.0 159.0L501.5 157.5L501.0 156.1L500.5 154.7L500.0 153.2L499.5 151.8L499.2 150.9L499.0 150.3L498.5 148.9L498.0 147.5L497.4 146.0L496.9 144.6L496.4 143.2L495.9 141.7L495.3 140.3L494.8 138.8L494.3 137.4L493.9 136.3L493.8 136.0L488.5 136.0L484.4 136.0L484.9 137.4L485.4 138.8L485.9 140.3L486.5 141.7L487.0 143.2L487.5 144.6L488.0 146.0L488.5 147.4L488.6 147.5L489.1 148.9L489.6 150.3L490.2 151.8L490.7 153.2L490.7 154.7L490.5 156.1L490.1 157.5L488.9 159.0L488.5 159.2L488.2 159.0L485.4 157.5L483.2 156.4L482.7 156.1L479.9 154.7L477.9 153.6L477.8 153.2L477.4 151.8L476.9 150.3L476.5 148.9L476.1 147.5L475.7 146.0L475.3 144.6L474.9 143.2L474.5 141.7L474.0 140.3L473.6 138.8L473.2 137.4L472.8 136.0L472.6 136.0L467.9 136.0L468.2 137.4L468.5 138.8L468.8 140.3L469.1 141.7L469.4 143.2L469.7 144.6L470.0 146.0L470.3 147.5L470.6 148.9L470.9 150.3L471.2 151.8L471.5 153.2L471.9 154.7L472.2 156.1L472.5 157.5L472.6 157.9L472.9 159.0L473.3 160.4L473.7 161.8L474.1 163.3L474.5 164.7L474.9 166.2L475.3 167.6L475.7 169.0L475.7 170.5L475.8 171.9L475.9 173.3L476.1 174.8L477.9 176.1L478.3 176.2L482.8 177.7L483.2 177.7L487.7 179.1L488.5 179.3L492.5 180.5L493.9 181.0L497.2 182.0L499.2 182.6L500.3 183.4L502.2 184.8L504.1 186.3L504.5 186.6L505.3 187.7L506.2 189.2L507.1 190.6L508.1 192.0L509.0 193.5L509.9 194.9L509.9 194.9L510.8 196.3L511.8 197.8L512.7 199.2L513.6 200.7ZM616.5 192.0L616.5 192.0L616.5 192.0L617.5 190.6L617.9 189.2L618.3 187.7L618.7 186.3L619.1 184.8L619.5 183.4L619.9 182.0L620.3 180.5L620.6 179.1L621.0 177.7L621.4 176.2L621.0 174.8L619.9 173.3L618.8 171.9L617.7 170.5L616.6 169.0L616.5 169.0L615.5 167.6L614.4 166.2L613.3 164.7L612.2 163.3L611.2 162.0L611.1 161.8L609.7 160.4L608.4 159.0L607.1 157.5L605.9 156.2L601.4 156.1L600.5 156.1L595.2 155.9L593.2 156.1L589.9 156.4L584.5 157.4L583.7 157.5L579.2 158.4L577.0 157.5L573.9 156.4L572.4 157.5L571.4 159.0L570.8 160.4L570.4 161.8L570.2 163.3L570.0 164.7L569.9 166.2L569.9 167.6L569.9 169.0L569.9 170.5L569.9 171.9L569.9 173.3L569.9 174.8L570.3 176.2L571.2 177.7L572.1 179.1L573.0 180.5L573.9 181.9L573.9 182.0L575.2 183.4L576.4 184.8L577.7 186.3L579.0 187.7L579.2 188.0L584.5 188.4L589.9 188.8L592.7 189.2L595.2 189.4L600.5 190.1L604.3 190.6L605.9 190.8L611.2 191.4ZM611.2 185.3L607.3 184.8L605.9 184.7L600.5 184.0L595.8 183.4L595.2 183.3L589.9 182.7L584.5 182.0L584.3 182.0L579.2 181.5L578.3 180.5L577.1 179.1L575.8 177.7L574.5 176.2L574.0 174.8L574.1 173.3L574.1 171.9L574.2 170.5L574.5 169.0L576.2 167.6L579.2 167.3L584.5 166.3L585.4 166.2L589.9 165.3L593.2 164.7L595.2 164.4L600.5 163.8L605.9 164.0L606.6 164.7L607.9 166.2L609.2 167.6L610.5 169.0L611.2 169.7L611.8 170.5L612.9 171.9L613.9 173.3L615.0 174.8L615.5 176.2L615.1 177.7L614.7 179.1L614.3 180.5L614.0 182.0L613.2 183.4L611.8 184.8Z"/>
<path fill="#1abeb9" stroke="#1abeb9" stroke-width="0.3" fill-rule="evenodd" d="M416.9 203.5L419.2 203.5L424.6 203.5L429.9 203.5L435.2 203.5L440.6 203.5L445.9 203.5L451.2 203.5L455.8 203.5L455.9 202.1L456.0 200.7L456.1 199.2L456.2 197.8L456.3 196.3L456.4 194.9L456.5 193.5L456.6 192.9L456.6 192.0L456.6 190.6L456.7 189.2L456.7 187.7L456.8 186.3L456.9 184.8L457.1 183.4L457.3 182.0L457.9 180.5L459.8 179.1L461.9 178.6L466.5 177.7L467.2 177.5L472.6 176.4L476.5 177.7L477.9 178.1L480.8 179.1L481.1 180.5L481.1 182.0L481.2 183.4L482.1 184.8L483.0 186.3L483.2 186.6L484.2 187.7L484.9 189.2L485.8 190.6L486.7 192.0L487.6 193.5L488.5 194.9L488.5 195.0L489.4 196.3L490.3 197.8L491.2 199.2L492.1 200.7L493.0 202.1L493.9 203.4L493.9 203.5L498.8 203.5L497.9 202.1L497.3 200.7L497.3 199.2L497.4 197.8L497.7 196.3L499.2 195.9L499.8 196.3L501.7 197.8L503.6 199.2L504.5 199.9L505.0 200.7L505.9 202.1L506.9 203.5L509.9 203.5L515.2 203.5L515.5 203.5L515.2 203.2L514.5 202.1L513.6 200.7L512.7 199.2L511.8 197.8L510.8 196.3L509.9 194.9L509.9 194.9L509.0 193.5L508.1 192.0L507.1 190.6L506.2 189.2L505.3 187.7L504.5 186.6L504.1 186.3L502.2 184.8L500.3 183.4L499.2 182.6L497.2 182.0L493.9 181.0L492.5 180.5L488.5 179.3L487.7 179.1L483.2 177.7L482.8 177.7L478.3 176.2L477.9 176.1L476.1 174.8L475.9 173.3L475.8 171.9L475.7 170.5L475.7 169.0L475.3 167.6L474.9 166.2L474.5 164.7L474.1 163.3L473.7 161.8L473.3 160.4L472.9 159.0L472.6 157.9L472.5 157.5L472.2 156.1L471.9 154.7L471.5 153.2L471.2 151.8L470.9 150.3L470.6 148.9L470.3 147.5L470.0 146.0L469.7 144.6L469.4 143.2L469.1 141.7L468.8 140.3L468.5 138.8L468.2 137.4L467.9 136.0L467.2 136.0L463.0 136.0L463.3 137.4L463.6 138.8L463.9 140.3L464.3 141.7L464.6 143.2L464.9 144.6L465.2 146.0L465.5 147.5L465.8 148.9L465.9 150.3L466.1 151.8L466.4 153.2L466.8 154.7L467.2 155.7L467.3 156.1L467.6 157.5L467.9 159.0L467.5 160.4L467.2 161.5L466.5 161.8L463.7 163.3L461.9 164.2L460.8 164.7L458.0 166.2L456.6 166.9L451.5 167.6L451.2 167.6L445.9 168.3L445.0 169.0L443.2 170.5L441.4 171.9L440.6 172.5L439.5 173.3L437.7 174.8L436.5 176.2L436.1 177.7L435.6 179.1L435.2 180.5L435.2 180.5L434.8 182.0L434.2 183.4L433.6 184.8L432.7 186.3L431.4 187.7L429.9 189.1L429.9 189.2L428.4 190.6L426.9 192.0L425.4 193.5L424.6 194.3L424.3 193.5L424.0 192.0L423.6 190.6L423.3 189.2L422.9 187.7L422.6 186.3L422.2 184.8L421.9 183.4L421.5 182.0L421.1 180.5L420.8 179.1L420.4 177.7L420.1 176.2L419.2 175.2L418.9 174.8L417.4 173.3L415.9 171.9L414.5 170.5L413.9 169.9L413.0 169.0L411.5 167.6L410.0 166.2L408.6 164.8L408.5 164.7L407.0 163.3L405.5 161.8L404.1 160.4L403.2 159.6L403.2 160.4L403.2 161.8L403.2 163.3L403.2 164.7L403.2 166.2L403.2 167.6L403.2 169.0L403.2 170.5L403.2 171.9L403.2 172.1L404.6 173.3L406.0 174.8L407.0 176.2L407.3 177.7L407.6 179.1L407.9 180.5L408.2 182.0L408.5 183.4L408.6 184.0L408.7 184.8L409.0 186.3L409.3 187.7L410.3 189.2L411.0 190.6L411.5 192.0L411.9 193.5L412.6 194.9L413.3 196.3L413.9 197.5L414.0 197.8L414.8 199.2L415.5 200.7L416.2 202.1ZM493.9 195.4L493.6 194.9L493.9 194.3L495.9 194.9ZM538.8 192.0L541.9 192.9L547.2 192.5L552.5 192.1L552.6 192.0L552.8 190.6L552.9 189.2L552.9 187.7L553.0 186.3L553.1 184.8L553.1 183.4L553.2 182.0L553.3 180.5L553.3 179.1L553.4 177.7L553.5 176.2L553.2 174.8L552.7 173.3L552.5 172.9L552.2 171.9L551.7 170.5L551.2 169.0L550.6 167.6L550.1 166.2L549.6 164.7L549.1 163.3L548.6 161.8L548.1 160.4L547.6 159.0L547.2 158.0L547.1 157.5L546.5 156.1L546.0 154.7L545.5 153.2L545.0 151.8L544.5 150.3L544.0 148.9L543.5 147.5L543.1 146.0L542.6 144.6L542.0 143.2L541.9 143.0L541.0 141.7L539.9 140.3L538.9 138.8L538.1 137.4L537.0 136.0L536.5 136.0L531.2 136.0L525.9 136.0L520.5 136.0L515.2 136.0L509.9 136.0L507.1 136.0L509.9 136.9L511.6 137.4L515.2 138.6L516.0 138.8L520.5 140.3L520.5 140.3L525.0 141.7L525.9 142.0L529.4 143.2L531.2 143.7L533.9 144.6L536.5 145.4L537.0 146.0L538.0 147.5L539.0 148.9L540.0 150.3L541.1 151.8L541.9 152.9L542.0 153.2L542.5 154.7L543.0 156.1L543.5 157.5L544.0 159.0L544.5 160.4L545.1 161.8L545.6 163.3L546.1 164.7L546.6 166.2L547.1 167.6L547.2 167.9L547.6 169.0L548.1 170.5L548.6 171.9L549.2 173.3L549.7 174.8L549.9 176.2L549.9 177.7L549.8 179.1L549.7 180.5L549.7 182.0L549.6 183.4L549.5 184.8L548.9 186.3L547.6 187.7L547.2 188.1L541.9 188.5L539.2 187.7L536.5 187.0L535.2 186.3L532.6 184.8L531.2 184.1L529.9 183.4L527.3 182.0L525.9 181.2L524.7 180.5L522.0 179.1L520.5 178.3L519.4 177.7L516.7 176.2L515.4 174.8L515.2 174.3L514.9 173.3L514.5 171.9L514.0 170.5L513.5 169.0L513.1 167.6L512.6 166.2L512.2 164.7L511.7 163.3L511.3 161.8L510.8 160.4L510.4 159.0L509.9 157.5L509.9 157.4L509.5 156.1L509.0 154.7L508.5 153.2L508.1 151.8L507.6 150.3L507.2 148.9L506.7 147.5L506.3 146.0L505.8 144.6L505.4 143.2L505.0 141.7L504.5 140.6L504.5 140.3L504.0 138.8L503.5 137.4L503.7 136.0L499.2 136.0L493.9 136.0L493.8 136.0L493.9 136.3L494.3 137.4L494.8 138.8L495.3 140.3L495.9 141.7L496.4 143.2L496.9 144.6L497.4 146.0L498.0 147.5L498.5 148.9L499.0 150.3L499.2 150.9L499.5 151.8L500.0 153.2L500.5 154.7L501.0 156.1L501.5 157.5L502.0 159.0L502.5 160.4L503.0 161.8L503.5 163.3L504.0 164.7L504.5 166.2L504.5 166.2L505.0 167.6L505.4 169.0L505.9 170.5L506.3 171.9L506.8 173.3L507.2 174.8L508.6 176.2L509.9 176.9L511.3 177.7L513.9 179.1L515.2 179.8L516.5 180.5L519.2 182.0L520.5 182.7L521.8 183.4L524.5 184.8L525.9 185.6L527.1 186.3L529.8 187.7L531.2 188.5L532.4 189.2L535.0 190.6L536.5 191.4ZM607.3 184.8L611.2 185.3L611.8 184.8L613.2 183.4L614.0 182.0L614.3 180.5L614.7 179.1L615.1 177.7L615.5 176.2L615.0 174.8L613.9 173.3L612.9 171.9L611.8 170.5L611.2 169.7L610.5 169.0L609.2 167.6L607.9 166.2L606.6 164.7L605.9 164.0L600.5 163.8L595.2 164.4L593.2 164.7L589.9 165.3L585.4 166.2L584.5 166.3L579.2 167.3L576.2 167.6L574.5 169.0L574.2 170.5L574.1 171.9L574.1 173.3L574.0 174.8L574.5 176.2L575.8 177.7L577.1 179.1L578.3 180.5L579.2 181.5L584.3 182.0L584.5 182.0L589.9 182.7L595.2 183.3L595.8 183.4L600.5 184.0L605.9 184.7ZM600.5 177.9L598.7 177.7L595.2 177.2L589.9 176.5L587.3 176.2L587.1 174.8L589.9 174.3L594.9 173.3L595.2 173.3L600.5 172.3L604.0 171.9L605.9 171.7L606.0 171.9L607.4 173.3L608.7 174.8L609.0 176.2L607.5 177.7L605.9 178.6Z"/>
<path fill="#62ca72" stroke="#62ca72" stroke-width="0.3" fill-rule="evenodd" d="M498.8 203.5L499.2 203.5L504.5 203.5L506.9 203.5L505.9 202.1L505.0 200.7L504.5 199.9L503.6 199.2L501.7 197.8L499.8 196.3L499.2 195.9L497.7 196.3L497.4 197.8L497.3 199.2L497.3 200.7L497.9 202.1ZM493.6 194.9L493.9 195.4L495.9 194.9L493.9 194.3ZM424.3 193.5L424.6 194.3L425.4 193.5L426.9 192.0L428.4 190.6L429.9 189.2L429.9 189.1L431.4 187.7L432.7 186.3L433.6 184.8L434.2 183.4L434.8 182.0L435.2 180.5L435.2 180.5L435.6 179.1L436.1 177.7L436.5 176.2L437.7 174.8L439.5 173.3L440.6 172.5L441.4 171.9L443.2 170.5L445.0 169.0L445.9 168.3L451.2 167.6L451.5 167.6L456.6 166.9L458.0 166.2L460.8 164.7L461.9 164.2L463.7 163.3L466.5 161.8L467.2 161.5L467.5 160.4L467.9 159.0L467.6 157.5L467.3 156.1L467.2 155.7L466.8 154.7L466.4 153.2L466.1 151.8L465.9 150.3L465.8 148.9L465.5 147.5L465.2 146.0L464.9 144.6L464.6 143.2L464.3 141.7L463.9 140.3L463.6 138.8L463.3 137.4L463.0 136.0L461.9 136.0L458.2 136.0L458.5 137.4L458.8 138.8L458.8 140.3L458.7 141.7L458.6 143.2L458.3 144.6L458.0 146.0L457.2 147.5L456.6 148.2L451.6 148.9L451.2 149.0L450.9 148.9L445.9 148.0L443.1 147.5L440.6 147.0L435.4 146.0L435.2 146.0L434.9 146.0L429.9 146.7L428.9 147.5L427.1 148.9L425.3 150.3L424.6 150.9L421.1 151.8L419.2 152.2L413.9 153.0L408.6 152.3L408.0 151.8L407.1 150.3L405.9 148.9L403.9 147.5L403.2 147.2L403.2 147.5L403.2 148.9L403.2 150.3L403.2 151.8L403.2 153.2L403.2 154.7L403.2 156.1L403.2 157.5L403.2 159.0L403.2 159.6L404.1 160.4L405.5 161.8L407.0 163.3L408.5 164.7L408.6 164.8L410.0 166.2L411.5 167.6L413.0 169.0L413.9 169.9L414.5 170.5L415.9 171.9L417.4 173.3L418.9 174.8L419.2 175.2L420.1 176.2L420.4 177.7L420.8 179.1L421.1 180.5L421.5 182.0L421.9 183.4L422.2 184.8L422.6 186.3L422.9 187.7L423.3 189.2L423.6 190.6L424.0 192.0ZM539.2 187.7L541.9 188.5L547.2 188.1L547.6 187.7L548.9 186.3L549.5 184.8L549.6 183.4L549.7 182.0L549.7 180.5L549.8 179.1L549.9 177.7L549.9 176.2L549.7 174.8L549.2 173.3L548.6 171.9L548.1 170.5L547.6 169.0L547.2 167.9L547.1 167.6L546.6 166.2L546.1 164.7L545.6 163.3L545.1 161.8L544.5 160.4L544.0 159.0L543.5 157.5L543.0 156.1L542.5 154.7L542.0 153.2L541.9 152.9L541.1 151.8L540.0 150.3L539.0 148.9L538.0 147.5L537.0 146.0L536.5 145.4L533.9 144.6L531.2 143.7L529.4 143.2L525.9 142.0L525.0 141.7L520.5 140.3L520.5 140.3L516.0 138.8L515.2 138.6L511.6 137.4L509.9 136.9L507.1 136.0L504.5 136.0L503.7 136.0L503.5 137.4L504.0 138.8L504.5 140.3L504.5 140.6L505.0 141.7L505.4 143.2L505.8 144.6L506.3 146.0L506.7 147.5L507.2 148.9L507.6 150.3L508.1 151.8L508.5 153.2L509.0 154.7L509.5 156.1L509.9 157.4L509.9 157.5L510.4 159.0L510.8 160.4L511.3 161.8L511.7 163.3L512.2 164.7L512.6 166.2L513.1 167.6L513.5 169.0L514.0 170.5L514.5 171.9L514.9 173.3L515.2 174.3L515.4 174.8L516.7 176.2L519.4 177.7L520.5 178.3L522.0 179.1L524.7 180.5L525.9 181.2L527.3 182.0L529.9 183.4L531.2 184.1L532.6 184.8L535.2 186.3L536.5 187.0ZM541.9 184.1L539.5 183.4L536.5 182.6L535.4 182.0L532.8 180.5L531.2 179.7L530.1 179.1L527.5 177.7L525.9 176.8L524.8 176.2L523.5 174.8L523.0 173.3L522.6 171.9L522.1 170.5L521.7 169.0L521.2 167.6L520.7 166.2L520.5 165.5L520.3 164.7L519.8 163.3L519.4 161.8L518.9 160.4L518.5 159.0L518.0 157.5L517.6 156.1L517.1 154.7L517.2 153.2L517.5 151.8L519.6 150.3L520.5 150.2L521.0 150.3L525.5 151.8L525.9 151.9L529.9 153.2L531.2 153.6L534.4 154.7L536.5 155.3L537.1 156.1L538.1 157.5L539.1 159.0L540.2 160.4L541.2 161.8L541.9 162.8L542.0 163.3L542.6 164.7L543.1 166.2L543.6 167.6L544.1 169.0L544.6 170.5L545.1 171.9L545.6 173.3L546.1 174.8L546.4 176.2L546.3 177.7L546.2 179.1L545.8 180.5L545.1 182.0L543.5 183.4ZM598.7 177.7L600.5 177.9L605.9 178.6L607.5 177.7L609.0 176.2L608.7 174.8L607.4 173.3L606.0 171.9L605.9 171.7L604.0 171.9L600.5 172.3L595.2 173.3L594.9 173.3L589.9 174.3L587.1 174.8L587.3 176.2L589.9 176.5L595.2 177.2Z"/>
<path fill="#d2bf31" stroke="#d2bf31" stroke-width="0.3" fill-rule="evenodd" d="M539.5 183.4L541.9 184.1L543.5 183.4L545.1 182.0L545.8 180.5L546.2 179.1L546.3 177.7L546.4 176.2L546.1 174.8L545.6 173.3L545.1 171.9L544.6 170.5L544.1 169.0L543.6 167.6L543.1 166.2L542.6 164.7L542.0 163.3L541.9 162.8L541.2 161.8L540.2 160.4L539.1 159.0L538.1 157.5L537.1 156.1L536.5 155.3L534.4 154.7L531.2 153.6L529.9 153.2L525.9 151.9L525.5 151.8L521.0 150.3L520.5 150.2L519.6 150.3L517.5 151.8L517.2 153.2L517.1 154.7L517.6 156.1L518.0 157.5L518.5 159.0L518.9 160.4L519.4 161.8L519.8 163.3L520.3 164.7L520.5 165.5L520.7 166.2L521.2 167.6L521.7 169.0L522.1 170.5L522.6 171.9L523.0 173.3L523.5 174.8L524.8 176.2L525.9 176.8L527.5 177.7L530.1 179.1L531.2 179.7L532.8 180.5L535.4 182.0L536.5 182.6ZM541.9 179.6L539.9 179.1L536.5 178.2L535.6 177.7L533.0 176.2L531.6 174.8L531.2 173.6L531.1 173.3L530.7 171.9L530.2 170.5L529.8 169.0L529.3 167.6L529.0 166.2L529.7 164.7L531.2 163.5L534.9 164.7L536.5 165.2L537.2 166.2L538.2 167.6L539.3 169.0L540.3 170.5L541.3 171.9L541.9 172.7L542.1 173.3L542.6 174.8L542.9 176.2L542.8 177.7L542.3 179.1ZM408.0 151.8L408.6 152.3L413.9 153.0L419.2 152.2L421.1 151.8L424.6 150.9L425.3 150.3L427.1 148.9L428.9 147.5L429.9 146.7L434.9 146.0L435.2 146.0L435.4 146.0L440.6 147.0L443.1 147.5L445.9 148.0L450.9 148.9L451.2 149.0L451.6 148.9L456.6 148.2L457.2 147.5L458.0 146.0L458.3 144.6L458.6 143.2L458.7 141.7L458.8 140.3L458.8 138.8L458.5 137.4L458.2 136.0L456.6 136.0L451.2 136.0L445.9 136.0L440.6 136.0L435.2 136.0L429.9 136.0L424.6 136.0L419.2 136.0L413.9 136.0L408.6 136.0L403.2 136.0L403.2 137.4L403.2 138.8L403.2 140.3L403.2 141.7L403.2 143.2L403.2 144.6L403.2 146.0L403.2 147.2L403.9 147.5L405.9 148.9L407.1 150.3Z"/>
<path fill="#fdca34" stroke="#fdca34" stroke-width="0.3" fill-rule="evenodd" d="M539.9 179.1L541.9 179.6L542.3 179.1L542.8 177.7L542.9 176.2L542.6 174.8L542.1 173.3L541.9 172.7L541.3 171.9L540.3 170.5L539.3 169.0L538.2 167.6L537.2 166.2L536.5 165.2L534.9 164.7L531.2 163.5L529.7 164.7L529.0 166.2L529.3 167.6L529.8 169.0L530.2 170.5L530.7 171.9L531.1 173.3L531.2 173.6L531.6 174.8L533.0 176.2L535.6 177.7L536.5 178.2Z"/>
<path fill="none" stroke="#1a1a1a" stroke-opacity="0.6" stroke-width="0.35" stroke-linejoin="round" d="M472.1 203.5L472.2 202.1L472.2 200.7L472.6 199.8L474.9 200.7L477.9 201.3L478.4 202.1L479.3 203.5M562.0 203.5L562.7 202.1L563.0 200.7L563.1 199.2L563.2 197.8L563.2 197.1L563.5 196.3L564.0 194.9L564.5 193.5L565.1 192.0L565.6 190.6L566.1 189.2L566.6 187.7L568.5 186.4L568.9 187.7L569.0 189.2L569.3 190.6L569.8 192.0L570.8 193.5L573.9 194.8L574.0 194.9L575.2 196.3L576.3 197.8L577.2 199.2L578.8 200.7L579.2 200.9L584.5 201.3L589.9 201.7L594.7 202.1L595.2 202.1L600.5 202.5L605.9 203.0L610.2 203.5M653.9 147.7L649.6 148.9L648.5 149.2L644.4 150.3L643.2 150.7L637.9 151.6L632.5 151.2L627.2 150.8L622.5 150.3L621.9 150.3L616.5 149.8L615.8 148.9L613.9 147.5L611.2 146.5L610.8 146.0L609.5 144.6L608.4 143.2L607.1 141.7L605.9 140.7L600.5 140.6L595.2 140.4L589.9 140.3L589.8 140.3L584.5 140.1L582.2 140.3L579.2 140.5L578.6 140.3L574.8 138.8L573.9 138.5L572.1 137.4L569.8 136.0M466.8 203.5L466.8 202.1L466.9 200.7L467.0 199.2L467.0 197.8L467.1 196.3L467.1 194.9L467.2 193.5L467.2 193.3L471.7 192.0L472.6 191.8L473.1 192.0L477.6 193.5L477.9 193.6L478.7 194.9L479.6 196.3L480.6 197.8L481.5 199.2L482.4 200.7L483.2 202.0L483.3 202.1L484.2 203.5M532.6 203.5L531.8 202.1L531.2 201.3L530.8 200.7L529.9 199.2L530.0 197.8L531.2 197.3L532.0 197.8L533.4 199.2L536.5 200.2L538.1 200.7L541.9 201.7L547.2 201.3L552.5 200.9L555.8 200.7L557.9 200.5L559.0 199.2L559.5 197.8L559.6 196.3L559.7 194.9L559.8 193.5L559.8 192.0L559.9 190.6L560.0 189.2L560.0 187.7L560.1 186.3L560.2 184.8L560.3 183.4L560.3 182.0L560.4 180.5L560.5 179.1L560.5 177.7L560.6 176.2L560.6 174.8L560.3 173.3L559.8 171.9L559.3 170.5L558.6 169.0L557.9 168.1L557.7 167.6L557.3 166.2L557.3 164.7L557.2 163.3L557.1 161.8L557.0 160.4L556.8 159.0L556.5 157.5L556.5 156.1L556.5 154.7L556.5 153.2L556.5 151.8L556.5 150.3L556.5 148.9L556.5 147.5L556.5 146.0L556.5 144.6L556.5 143.2L556.5 141.7L556.5 140.3L556.5 138.8L556.5 137.4L556.5 136.0M653.9 170.7L650.5 170.5L648.5 170.3L643.2 169.9L637.9 169.5L632.5 169.1L632.2 169.0L627.2 168.6L621.9 167.9L621.7 167.6L621.1 166.2L620.3 164.7L619.2 163.3L617.5 161.8L616.5 161.2L615.9 160.4L614.8 159.0L613.7 157.5L612.6 156.1L611.6 154.7L611.2 154.2L610.3 153.2L608.9 151.8L607.6 150.3L606.3 148.9L605.9 148.5L600.5 148.3L595.2 148.2L589.9 148.0L584.5 148.4L582.0 148.9L579.2 149.4L577.8 148.9L574.0 147.5L573.9 147.4L571.6 146.0L569.3 144.6L568.5 144.2L568.2 144.6L567.2 146.0L566.6 147.5L566.2 148.9L565.9 150.3L565.9 151.8L565.9 153.2L565.9 154.7L565.9 156.1L565.9 157.5L565.9 159.0L565.9 160.4L565.9 161.8L565.9 163.3L565.9 164.7L565.9 166.2L565.9 167.6L565.9 169.0L565.9 170.5L565.9 171.9L565.9 173.3L565.9 174.8L566.2 176.2L566.8 177.7L567.8 179.1L568.5 179.9L569.0 180.5L569.9 182.0L570.8 183.4L571.7 184.8L572.6 186.3L573.4 187.7L573.9 188.3L574.6 189.2L575.8 190.6L577.1 192.0L578.3 193.5L579.2 194.4L584.5 194.9L585.1 194.9L589.9 195.3L595.2 195.7L600.5 196.2L601.4 196.3L605.9 196.9L611.2 197.5L613.3 197.8L616.5 198.2L619.1 197.8L621.9 196.3L621.9 196.3L622.5 194.9L623.2 193.5L623.8 192.0L624.5 190.6L625.1 189.2L625.8 187.7L626.5 186.3L627.1 184.8L627.2 184.6L628.4 184.8L632.5 185.5L637.9 186.2L643.2 185.5L648.2 184.8L648.5 184.8L653.9 184.1M461.5 203.5L461.5 202.1L461.6 200.7L461.6 199.2L461.7 197.8L461.7 196.3L461.8 194.9L461.8 193.5L461.9 192.4L461.9 192.0L462.0 190.6L462.1 189.2L462.4 187.7L463.1 186.3L467.2 185.2L469.1 184.8L472.6 184.1L474.8 184.8L477.9 185.8L478.2 186.3L479.1 187.7L480.0 189.2L480.9 190.6L481.8 192.0L482.7 193.5L483.2 194.3L483.6 194.9L484.5 196.3L485.4 197.8L486.3 199.2L487.2 200.7L488.1 202.1L488.5 202.7L489.1 203.5M524.0 203.5L523.1 202.1L522.2 200.7L521.3 199.2L520.5 198.1L520.3 197.8L519.4 196.3L518.5 194.9L517.6 193.5L516.6 192.0L515.7 190.6L515.2 189.8L514.8 189.2L513.9 187.7L512.9 186.3L513.3 184.8L515.2 184.2L516.4 184.8L518.3 186.3L520.5 187.1L521.6 187.7L524.3 189.2L525.9 190.0L526.9 190.6L529.6 192.0L531.2 192.9L532.2 193.5L534.9 194.9L536.5 195.8L538.4 196.3L541.9 197.3L547.2 196.9L552.5 196.5L552.9 196.3L554.8 194.9L555.7 193.5L556.2 192.0L556.3 190.6L556.4 189.2L556.4 187.7L556.5 186.3L556.6 184.8L556.7 183.4L556.7 182.0L556.8 180.5L556.9 179.1L556.9 177.7L557.0 176.2L556.7 174.8L556.2 173.3L555.7 171.9L555.2 170.5L554.7 169.0L554.2 167.6L553.7 166.2L553.2 164.7L552.7 163.3L552.5 163.0L552.1 161.8L551.6 160.4L551.1 159.0L550.6 157.5L550.3 156.1L550.1 154.7L549.7 153.2L549.3 151.8L548.7 150.3L547.9 148.9L547.2 147.7L547.2 147.5L547.1 146.0L547.1 144.6L547.1 143.2L547.1 141.7L547.1 140.3L547.1 138.8L547.1 137.4L547.1 136.0M616.5 192.0L616.5 192.0L616.5 192.0L617.5 190.6L617.9 189.2L618.3 187.7L618.7 186.3L619.1 184.8L619.5 183.4L619.9 182.0L620.3 180.5L620.6 179.1L621.0 177.7L621.4 176.2L621.0 174.8L619.9 173.3L618.8 171.9L617.7 170.5L616.6 169.0L616.5 169.0L615.5 167.6L614.4 166.2L613.3 164.7L612.2 163.3L611.2 162.0L611.1 161.8L609.7 160.4L608.4 159.0L607.1 157.5L605.9 156.2L601.4 156.1L600.5 156.1L595.2 155.9L593.2 156.1L589.9 156.4L584.5 157.4L583.7 157.5L579.2 158.4L577.0 157.5L573.9 156.4L572.4 157.5L571.4 159.0L570.8 160.4L570.4 161.8L570.2 163.3L570.0 164.7L569.9 166.2L569.9 167.6L569.9 169.0L569.9 170.5L569.9 171.9L569.9 173.3L569.9 174.8L570.3 176.2L571.2 177.7L572.1 179.1L573.0 180.5L573.9 181.9L573.9 182.0L575.2 183.4L576.4 184.8L577.7 186.3L579.0 187.7L579.2 188.0L584.5 188.4L589.9 188.8L592.7 189.2L595.2 189.4L600.5 190.1L604.3 190.6L605.9 190.8L611.2 191.4L616.5 192.0M403.2 190.4L403.3 190.6L404.1 192.0L404.8 193.5L405.5 194.9L406.2 196.3L407.0 197.8L407.7 199.2L408.4 200.7L408.6 200.9L409.1 202.1L409.9 203.5M484.4 136.0L484.9 137.4L485.4 138.8L485.9 140.3L486.5 141.7L487.0 143.2L487.5 144.6L488.0 146.0L488.5 147.4L488.6 147.5L489.1 148.9L489.6 150.3L490.2 151.8L490.7 153.2L490.7 154.7L490.5 156.1L490.1 157.5L488.9 159.0L488.5 159.2L488.2 159.0L485.4 157.5L483.2 156.4L482.7 156.1L479.9 154.7L477.9 153.6L477.8 153.2L477.4 151.8L476.9 150.3L476.5 148.9L476.1 147.5L475.7 146.0L475.3 144.6L474.9 143.2L474.5 141.7L474.0 140.3L473.6 138.8L473.2 137.4L472.8 136.0M455.8 203.5L455.9 202.1L456.0 200.7L456.1 199.2L456.2 197.8L456.3 196.3L456.4 194.9L456.5 193.5L456.6 192.9L456.6 192.0L456.6 190.6L456.7 189.2L456.7 187.7L456.8 186.3L456.9 184.8L457.1 183.4L457.3 182.0L457.9 180.5L459.8 179.1L461.9 178.6L466.5 177.7L467.2 177.5L472.6 176.4L476.5 177.7L477.9 178.1L480.8 179.1L481.1 180.5L481.1 182.0L481.2 183.4L482.1 184.8L483.0 186.3L483.2 186.6L484.2 187.7L484.9 189.2L485.8 190.6L486.7 192.0L487.6 193.5L488.5 194.9L488.5 195.0L489.4 196.3L490.3 197.8L491.2 199.2L492.1 200.7L493.0 202.1L493.9 203.4L493.9 203.5M515.5 203.5L515.2 203.2L514.5 202.1L513.6 200.7L512.7 199.2L511.8 197.8L510.8 196.3L509.9 194.9L509.9 194.9L509.0 193.5L508.1 192.0L507.1 190.6L506.2 189.2L505.3 187.7L504.5 186.6L504.1 186.3L502.2 184.8L500.3 183.4L499.2 182.6L497.2 182.0L493.9 181.0L492.5 180.5L488.5 179.3L487.7 179.1L483.2 177.7L482.8 177.7L478.3 176.2L477.9 176.1L476.1 174.8L475.9 173.3L475.8 171.9L475.7 170.5L475.7 169.0L475.3 167.6L474.9 166.2L474.5 164.7L474.1 163.3L473.7 161.8L473.3 160.4L472.9 159.0L472.6 157.9L472.5 157.5L472.2 156.1L471.9 154.7L471.5 153.2L471.2 151.8L470.9 150.3L470.6 148.9L470.3 147.5L470.0 146.0L469.7 144.6L469.4 143.2L469.1 141.7L468.8 140.3L468.5 138.8L468.2 137.4L467.9 136.0M607.3 184.8L611.2 185.3L611.8 184.8L613.2 183.4L614.0 182.0L614.3 180.5L614.7 179.1L615.1 177.7L615.5 176.2L615.0 174.8L613.9 173.3L612.9 171.9L611.8 170.5L611.2 169.7L610.5 169.0L609.2 167.6L607.9 166.2L606.6 164.7L605.9 164.0L600.5 163.8L595.2 164.4L593.2 164.7L589.9 165.3L585.4 166.2L584.5 166.3L579.2 167.3L576.2 167.6L574.5 169.0L574.2 170.5L574.1 171.9L574.1 173.3L574.0 174.8L574.5 176.2L575.8 177.7L577.1 179.1L578.3 180.5L579.2 181.5L584.3 182.0L584.5 182.0L589.9 182.7L595.2 183.3L595.8 183.4L600.5 184.0L605.9 184.7L607.3 184.8M403.2 172.1L404.6 173.3L406.0 174.8L407.0 176.2L407.3 177.7L407.6 179.1L407.9 180.5L408.2 182.0L408.5 183.4L408.6 184.0L408.7 184.8L409.0 186.3L409.3 187.7L410.3 189.2L411.0 190.6L411.5 192.0L411.9 193.5L412.6 194.9L413.3 196.3L413.9 197.5L414.0 197.8L414.8 199.2L415.5 200.7L416.2 202.1L416.9 203.5M493.8 136.0L493.9 136.3L494.3 137.4L494.8 138.8L495.3 140.3L495.9 141.7L496.4 143.2L496.9 144.6L497.4 146.0L498.0 147.5L498.5 148.9L499.0 150.3L499.2 150.9L499.5 151.8L500.0 153.2L500.5 154.7L501.0 156.1L501.5 157.5L502.0 159.0L502.5 160.4L503.0 161.8L503.5 163.3L504.0 164.7L504.5 166.2L504.5 166.2L505.0 167.6L505.4 169.0L505.9 170.5L506.3 171.9L506.8 173.3L507.2 174.8L508.6 176.2L509.9 176.9L511.3 177.7L513.9 179.1L515.2 179.8L516.5 180.5L519.2 182.0L520.5 182.7L521.8 183.4L524.5 184.8L525.9 185.6L527.1 186.3L529.8 187.7L531.2 188.5L532.4 189.2L535.0 190.6L536.5 191.4L538.8 192.0L541.9 192.9L547.2 192.5L552.5 192.1L552.6 192.0L552.8 190.6L552.9 189.2L552.9 187.7L553.0 186.3L553.1 184.8L553.1 183.4L553.2 182.0L553.3 180.5L553.3 179.1L553.4 177.7L553.5 176.2L553.2 174.8L552.7 173.3L552.5 172.9L552.2 171.9L551.7 170.5L551.2 169.0L550.6 167.6L550.1 166.2L549.6 164.7L549.1 163.3L548.6 161.8L548.1 160.4L547.6 159.0L547.2 158.0L547.1 157.5L546.5 156.1L546.0 154.7L545.5 153.2L545.0 151.8L544.5 150.3L544.0 148.9L543.5 147.5L543.1 146.0L542.6 144.6L542.0 143.2L541.9 143.0L541.0 141.7L539.9 140.3L538.9 138.8L538.1 137.4L537.0 136.0M506.9 203.5L505.9 202.1L505.0 200.7L504.5 199.9L503.6 199.2L501.7 197.8L499.8 196.3L499.2 195.9L497.7 196.3L497.4 197.8L497.3 199.2L497.3 200.7L497.9 202.1L498.8 203.5M493.6 194.9L493.9 195.4L495.9 194.9L493.9 194.3L493.6 194.9M598.7 177.7L600.5 177.9L605.9 178.6L607.5 177.7L609.0 176.2L608.7 174.8L607.4 173.3L606.0 171.9L605.9 171.7L604.0 171.9L600.5 172.3L595.2 173.3L594.9 173.3L589.9 174.3L587.1 174.8L587.3 176.2L589.9 176.5L595.2 177.2L598.7 177.7M403.2 159.6L404.1 160.4L405.5 161.8L407.0 163.3L408.5 164.7L408.6 164.8L410.0 166.2L411.5 167.6L413.0 169.0L413.9 169.9L414.5 170.5L415.9 171.9L417.4 173.3L418.9 174.8L419.2 175.2L420.1 176.2L420.4 177.7L420.8 179.1L421.1 180.5L421.5 182.0L421.9 183.4L422.2 184.8L422.6 186.3L422.9 187.7L423.3 189.2L423.6 190.6L424.0 192.0L424.3 193.5L424.6 194.3L425.4 193.5L426.9 192.0L428.4 190.6L429.9 189.2L429.9 189.1L431.4 187.7L432.7 186.3L433.6 184.8L434.2 183.4L434.8 182.0L435.2 180.5L435.2 180.5L435.6 179.1L436.1 177.7L436.5 176.2L437.7 174.8L439.5 173.3L440.6 172.5L441.4 171.9L443.2 170.5L445.0 169.0L445.9 168.3L451.2 167.6L451.5 167.6L456.6 166.9L458.0 166.2L460.8 164.7L461.9 164.2L463.7 163.3L466.5 161.8L467.2 161.5L467.5 160.4L467.9 159.0L467.6 157.5L467.3 156.1L467.2 155.7L466.8 154.7L466.4 153.2L466.1 151.8L465.9 150.3L465.8 148.9L465.5 147.5L465.2 146.0L464.9 144.6L464.6 143.2L464.3 141.7L463.9 140.3L463.6 138.8L463.3 137.4L463.0 136.0M503.7 136.0L503.5 137.4L504.0 138.8L504.5 140.3L504.5 140.6L505.0 141.7L505.4 143.2L505.8 144.6L506.3 146.0L506.7 147.5L507.2 148.9L507.6 150.3L508.1 151.8L508.5 153.2L509.0 154.7L509.5 156.1L509.9 157.4L509.9 157.5L510.4 159.0L510.8 160.4L511.3 161.8L511.7 163.3L512.2 164.7L512.6 166.2L513.1 167.6L513.5 169.0L514.0 170.5L514.5 171.9L514.9 173.3L515.2 174.3L515.4 174.8L516.7 176.2L519.4 177.7L520.5 178.3L522.0 179.1L524.7 180.5L525.9 181.2L527.3 182.0L529.9 183.4L531.2 184.1L532.6 184.8L535.2 186.3L536.5 187.0L539.2 187.7L541.9 188.5L547.2 188.1L547.6 187.7L548.9 186.3L549.5 184.8L549.6 183.4L549.7 182.0L549.7 180.5L549.8 179.1L549.9 177.7L549.9 176.2L549.7 174.8L549.2 173.3L548.6 171.9L548.1 170.5L547.6 169.0L547.2 167.9L547.1 167.6L546.6 166.2L546.1 164.7L545.6 163.3L545.1 161.8L544.5 160.4L544.0 159.0L543.5 157.5L543.0 156.1L542.5 154.7L542.0 153.2L541.9 152.9L541.1 151.8L540.0 150.3L539.0 148.9L538.0 147.5L537.0 146.0L536.5 145.4L533.9 144.6L531.2 143.7L529.4 143.2L525.9 142.0L525.0 141.7L520.5 140.3L520.5 140.3L516.0 138.8L515.2 138.6L511.6 137.4L509.9 136.9L507.1 136.0M539.5 183.4L541.9 184.1L543.5 183.4L545.1 182.0L545.8 180.5L546.2 179.1L546.3 177.7L546.4 176.2L546.1 174.8L545.6 173.3L545.1 171.9L544.6 170.5L544.1 169.0L543.6 167.6L543.1 166.2L542.6 164.7L542.0 163.3L541.9 162.8L541.2 161.8L540.2 160.4L539.1 159.0L538.1 157.5L537.1 156.1L536.5 155.3L534.4 154.7L531.2 153.6L529.9 153.2L525.9 151.9L525.5 151.8L521.0 150.3L520.5 150.2L519.6 150.3L517.5 151.8L517.2 153.2L517.1 154.7L517.6 156.1L518.0 157.5L518.5 159.0L518.9 160.4L519.4 161.8L519.8 163.3L520.3 164.7L520.5 165.5L520.7 166.2L521.2 167.6L521.7 169.0L522.1 170.5L522.6 171.9L523.0 173.3L523.5 174.8L524.8 176.2L525.9 176.8L527.5 177.7L530.1 179.1L531.2 179.7L532.8 180.5L535.4 182.0L536.5 182.6L539.5 183.4M403.2 147.2L403.9 147.5L405.9 148.9L407.1 150.3L408.0 151.8L408.6 152.3L413.9 153.0L419.2 152.2L421.1 151.8L424.6 150.9L425.3 150.3L427.1 148.9L428.9 147.5L429.9 146.7L434.9 146.0L435.2 146.0L435.4 146.0L440.6 147.0L443.1 147.5L445.9 148.0L450.9 148.9L451.2 149.0L451.6 148.9L456.6 148.2L457.2 147.5L458.0 146.0L458.3 144.6L458.6 143.2L458.7 141.7L458.8 140.3L458.8 138.8L458.5 137.4L458.2 136.0M539.9 179.1L541.9 179.6L542.3 179.1L542.8 177.7L542.9 176.2L542.6 174.8L542.1 173.3L541.9 172.7L541.3 171.9L540.3 170.5L539.3 169.0L538.2 167.6L537.2 166.2L536.5 165.2L534.9 164.7L531.2 163.5L529.7 164.7L529.0 166.2L529.3 167.6L529.8 169.0L530.2 170.5L530.7 171.9L531.1 173.3L531.2 173.6L531.6 174.8L533.0 176.2L535.6 177.7L536.5 178.2L539.9 179.1"/>
<rect x="385.0" y="131.4" width="286.7" height="77.0" fill="none" stroke="#c4c4c4" stroke-width="0.7"/>
<path d="M393.9 207.9v-2.5M393.9 131.6v2.5M422.5 207.9v-2.5M422.5 131.6v2.5M451.1 207.9v-2.5M451.1 131.6v2.5M479.7 207.9v-2.5M479.7 131.6v2.5M508.4 207.9v-2.5M508.4 131.6v2.5M537.0 207.9v-2.5M537.0 131.6v2.5M565.6 207.9v-2.5M565.6 131.6v2.5M594.2 207.9v-2.5M594.2 131.6v2.5M622.8 207.9v-2.5M622.8 131.6v2.5M651.5 207.9v-2.5M651.5 131.6v2.5M385.3 205.0h2.5M671.5 205.0h-2.5M385.3 175.6h2.5M671.5 175.6h-2.5M385.3 146.3h2.5M671.5 146.3h-2.5" stroke="#9a9a9a" stroke-width="0.5" fill="none"/>
<g fill="#222"><circle cx="397.9" cy="205.0" r="0.6"/><circle cx="423.7" cy="205.0" r="0.6"/><circle cx="454.0" cy="205.0" r="0.6"/><circle cx="476.3" cy="205.0" r="0.6"/><circle cx="502.6" cy="205.0" r="0.6"/><circle cx="539.6" cy="205.0" r="0.6"/><circle cx="563.0" cy="205.0" r="0.6"/><circle cx="577.6" cy="205.0" r="0.6"/><circle cx="606.8" cy="205.0" r="0.6"/><circle cx="625.1" cy="205.0" r="0.6"/><circle cx="659.2" cy="205.0" r="0.6"/><circle cx="397.9" cy="175.6" r="0.6"/><circle cx="423.7" cy="175.6" r="0.6"/><circle cx="454.0" cy="175.6" r="0.6"/><circle cx="476.3" cy="175.6" r="0.6"/><circle cx="502.6" cy="175.6" r="0.6"/><circle cx="539.6" cy="175.6" r="0.6"/><circle cx="563.0" cy="175.6" r="0.6"/><circle cx="577.6" cy="175.6" r="0.6"/><circle cx="606.8" cy="175.6" r="0.6"/><circle cx="625.1" cy="175.6" r="0.6"/><circle cx="659.2" cy="175.6" r="0.6"/><circle cx="397.9" cy="134.5" r="0.6"/><circle cx="423.7" cy="134.5" r="0.6"/><circle cx="454.0" cy="134.5" r="0.6"/><circle cx="476.3" cy="134.5" r="0.6"/><circle cx="502.6" cy="134.5" r="0.6"/><circle cx="539.6" cy="134.5" r="0.6"/><circle cx="563.0" cy="134.5" r="0.6"/><circle cx="577.6" cy="134.5" r="0.6"/><circle cx="606.8" cy="134.5" r="0.6"/><circle cx="625.1" cy="134.5" r="0.6"/><circle cx="659.2" cy="134.5" r="0.6"/></g>
<g font-size="10.3" fill="#2b2b2b"><text transform="translate(393.9 220.2) scale(0.88 1)" text-anchor="middle">5</text><text transform="translate(422.5 220.2) scale(0.88 1)" text-anchor="middle">5.5</text><text transform="translate(451.1 220.2) scale(0.88 1)" text-anchor="middle">6</text><text transform="translate(479.7 220.2) scale(0.88 1)" text-anchor="middle">6.5</text><text transform="translate(508.4 220.2) scale(0.88 1)" text-anchor="middle">7</text><text transform="translate(537.0 220.2) scale(0.88 1)" text-anchor="middle">7.5</text><text transform="translate(565.6 220.2) scale(0.88 1)" text-anchor="middle">8</text><text transform="translate(594.2 220.2) scale(0.88 1)" text-anchor="middle">8.5</text><text transform="translate(622.8 220.2) scale(0.88 1)" text-anchor="middle">9</text><text transform="translate(651.5 220.2) scale(0.88 1)" text-anchor="middle">9.5</text><text transform="translate(382.4 208.7) scale(0.88 1)" text-anchor="end">25</text><text transform="translate(382.4 179.3) scale(0.88 1)" text-anchor="end">30</text><text transform="translate(382.4 150.0) scale(0.88 1)" text-anchor="end">35</text></g>
<text transform="translate(528.4 232.7) scale(0.86 1)" font-size="11" fill="#222" text-anchor="middle">pH</text>
<text font-size="11.4" fill="#222" text-anchor="middle" transform="translate(370.6 169.2) rotate(-90) scale(0.905 1)">Temperature (°C)</text>
<rect x="674.8" y="131.6" width="4.6" height="76.3" fill="url(#pg)" stroke="#bbb" stroke-width="0.3"/>
<g font-size="9.8" fill="#2b2b2b"><text transform="translate(681.7 192.1) scale(0.88 1)">2</text><text transform="translate(681.7 173.1) scale(0.88 1)">4</text><text transform="translate(681.7 154.0) scale(0.88 1)">6</text><text transform="translate(681.7 134.9) scale(0.88 1)">8</text></g>
<path d="M47.8 256.7V333.0M76.5 256.7V333.0M105.3 256.7V333.0M134.0 256.7V333.0M162.7 256.7V333.0M191.4 256.7V333.0M220.1 256.7V333.0M248.9 256.7V333.0M277.6 256.7V333.0M306.3 256.7V333.0M39.2 330.1H326.4M39.2 300.7H326.4M39.2 271.4H326.4" stroke="#e6e6e6" stroke-width="0.5" fill="none"/>
<path fill="#3e26a8" stroke="#3e26a8" stroke-width="0.3" fill-rule="evenodd" d="M296.6 328.6L298.0 328.6L303.3 328.6L308.7 328.6L308.7 327.2L308.7 325.8L308.7 324.3L308.7 322.9L308.7 321.4L308.7 320.0L308.7 318.6L308.7 317.1L308.7 315.7L308.7 314.3L308.7 312.8L308.7 311.4L308.7 309.9L308.7 308.5L308.7 307.1L308.7 305.6L308.7 304.2L308.7 302.8L308.7 301.3L308.7 299.9L308.7 298.4L308.7 297.0L308.7 295.6L308.7 294.1L308.7 292.7L308.7 291.3L308.7 289.8L308.7 288.4L308.7 286.9L308.7 285.5L308.7 284.1L308.7 282.6L308.7 281.2L308.7 279.8L308.7 278.3L308.7 276.9L308.7 275.4L308.7 274.0L308.7 272.6L308.7 271.1L308.7 269.7L308.7 268.3L308.7 266.8L308.7 265.4L308.7 263.9L308.7 262.5L308.7 261.1L303.4 261.1L303.6 262.5L303.8 263.9L304.0 265.4L304.2 266.8L304.4 268.3L304.6 269.7L304.8 271.1L305.0 272.6L305.1 274.0L305.3 275.4L305.5 276.9L305.7 278.3L305.9 279.8L306.1 281.2L306.3 282.6L306.5 284.1L306.7 285.5L306.8 286.9L307.0 288.4L307.0 289.8L307.0 291.3L307.1 292.7L307.2 294.1L306.7 295.6L306.1 297.0L305.6 298.4L305.0 299.9L304.7 301.3L304.5 302.8L304.3 304.2L304.1 305.6L303.9 307.1L303.7 308.5L303.6 309.9L303.4 311.4L303.3 311.6L303.2 312.8L303.0 314.3L302.8 315.7L302.6 317.1L302.3 318.6L301.9 320.0L301.3 321.4L300.4 322.9L299.4 324.3L298.5 325.8L298.0 326.5L297.5 327.2Z"/>
<path fill="#474ded" stroke="#474ded" stroke-width="0.3" fill-rule="evenodd" d="M279.5 328.6L281.9 328.6L287.3 328.6L292.6 328.6L296.6 328.6L297.5 327.2L298.0 326.5L298.5 325.8L299.4 324.3L300.4 322.9L301.3 321.4L301.9 320.0L302.3 318.6L302.6 317.1L302.8 315.7L303.0 314.3L303.2 312.8L303.3 311.6L303.4 311.4L303.6 309.9L303.7 308.5L303.9 307.1L304.1 305.6L304.3 304.2L304.5 302.8L304.7 301.3L305.0 299.9L305.6 298.4L306.1 297.0L306.7 295.6L307.2 294.1L307.1 292.7L307.0 291.3L307.0 289.8L307.0 288.4L306.8 286.9L306.7 285.5L306.5 284.1L306.3 282.6L306.1 281.2L305.9 279.8L305.7 278.3L305.5 276.9L305.3 275.4L305.1 274.0L305.0 272.6L304.8 271.1L304.6 269.7L304.4 268.3L304.2 266.8L304.0 265.4L303.8 263.9L303.6 262.5L303.4 261.1L303.3 261.1L298.0 261.1L296.3 261.1L296.4 262.5L296.6 263.9L296.8 265.4L297.0 266.8L297.2 268.3L297.4 269.7L297.6 271.1L297.8 272.6L298.0 274.0L298.0 274.4L298.1 275.4L298.3 276.9L298.5 278.3L298.7 279.8L298.9 281.2L298.7 282.6L298.4 284.1L298.0 285.5L298.0 285.7L297.5 286.9L297.0 288.4L296.4 289.8L295.9 291.3L295.3 292.7L294.8 294.1L294.2 295.6L293.7 297.0L293.2 298.4L292.6 299.8L292.6 299.9L292.2 301.3L292.0 302.8L291.9 304.2L291.7 305.6L291.5 307.1L291.2 308.5L290.8 309.9L290.3 311.4L289.5 312.8L288.5 314.3L287.6 315.7L287.3 316.1L286.6 317.1L285.7 318.6L284.7 320.0L283.8 321.4L282.8 322.9L281.9 324.2L281.9 324.3L281.1 325.8L280.3 327.2Z"/>
<path fill="#377afa" stroke="#377afa" stroke-width="0.3" fill-rule="evenodd" d="M264.8 328.6L265.9 328.6L271.2 328.6L276.6 328.6L279.5 328.6L280.3 327.2L281.1 325.8L281.9 324.3L281.9 324.2L282.8 322.9L283.8 321.4L284.7 320.0L285.7 318.6L286.6 317.1L287.3 316.1L287.6 315.7L288.5 314.3L289.5 312.8L290.3 311.4L290.8 309.9L291.2 308.5L291.5 307.1L291.7 305.6L291.9 304.2L292.0 302.8L292.2 301.3L292.6 299.9L292.6 299.8L293.2 298.4L293.7 297.0L294.2 295.6L294.8 294.1L295.3 292.7L295.9 291.3L296.4 289.8L297.0 288.4L297.5 286.9L298.0 285.7L298.0 285.5L298.4 284.1L298.7 282.6L298.9 281.2L298.7 279.8L298.5 278.3L298.3 276.9L298.1 275.4L298.0 274.4L298.0 274.0L297.8 272.6L297.6 271.1L297.4 269.7L297.2 268.3L297.0 266.8L296.8 265.4L296.6 263.9L296.4 262.5L296.3 261.1L292.6 261.1L289.1 261.1L289.2 262.5L289.4 263.9L289.6 265.4L289.8 266.8L290.0 268.3L290.0 269.7L289.9 271.1L289.8 272.6L289.7 274.0L289.4 275.4L288.9 276.9L288.3 278.3L287.8 279.8L287.3 281.1L287.3 281.2L286.7 282.6L286.2 284.1L285.6 285.5L285.1 286.9L284.5 288.4L284.0 289.8L283.5 291.3L282.9 292.7L282.4 294.1L281.9 295.2L281.8 295.6L281.2 297.0L280.6 298.4L280.2 299.9L279.7 301.3L279.2 302.8L278.5 304.2L277.8 305.6L277.0 307.1L276.6 307.9L276.3 308.5L275.6 309.9L275.0 311.4L274.3 312.8L273.7 314.3L273.0 315.7L272.3 317.1L271.4 318.6L271.2 318.9L270.5 320.0L269.5 321.4L268.6 322.9L267.6 324.3L266.6 325.8L265.9 326.8L265.7 327.2Z"/>
<path fill="#1da2e4" stroke="#1da2e4" stroke-width="0.3" fill-rule="evenodd" d="M251.0 328.6L255.2 328.6L260.5 328.6L264.8 328.6L265.7 327.2L265.9 326.8L266.6 325.8L267.6 324.3L268.6 322.9L269.5 321.4L270.5 320.0L271.2 318.9L271.4 318.6L272.3 317.1L273.0 315.7L273.7 314.3L274.3 312.8L275.0 311.4L275.6 309.9L276.3 308.5L276.6 307.9L277.0 307.1L277.8 305.6L278.5 304.2L279.2 302.8L279.7 301.3L280.2 299.9L280.6 298.4L281.2 297.0L281.8 295.6L281.9 295.2L282.4 294.1L282.9 292.7L283.5 291.3L284.0 289.8L284.5 288.4L285.1 286.9L285.6 285.5L286.2 284.1L286.7 282.6L287.3 281.2L287.3 281.1L287.8 279.8L288.3 278.3L288.9 276.9L289.4 275.4L289.7 274.0L289.8 272.6L289.9 271.1L290.0 269.7L290.0 268.3L289.8 266.8L289.6 265.4L289.4 263.9L289.2 262.5L289.1 261.1L287.3 261.1L281.9 261.1L281.8 261.1L281.9 262.5L281.2 263.9L280.4 265.4L279.7 266.8L279.0 268.3L278.3 269.7L277.6 271.1L276.9 272.6L276.6 273.1L276.0 274.0L275.2 275.4L274.3 276.9L273.4 278.3L272.5 279.8L271.6 281.2L271.2 282.1L271.1 282.6L270.8 284.1L270.6 285.5L270.3 286.9L270.0 288.4L269.7 289.8L269.5 291.3L269.2 292.7L268.9 294.1L268.6 295.6L268.3 297.0L268.1 298.4L267.8 299.9L267.3 301.3L266.7 302.8L266.0 304.2L265.9 304.5L265.3 305.6L264.6 307.1L263.8 308.5L262.9 309.9L262.0 311.4L261.1 312.8L260.5 313.8L260.3 314.3L259.7 315.7L259.1 317.1L258.5 318.6L257.8 320.0L257.2 321.4L256.6 322.9L255.8 324.3L255.2 325.1L254.4 325.8L252.7 327.2Z"/>
<path fill="#19beb9" stroke="#19beb9" stroke-width="0.3" fill-rule="evenodd" d="M157.8 328.6L158.9 328.6L164.2 328.6L169.6 328.6L174.9 328.6L180.3 328.6L185.6 328.6L191.0 328.6L196.3 328.6L201.7 328.6L207.0 328.6L212.4 328.6L217.7 328.6L223.1 328.6L223.7 328.6L223.1 328.2L221.7 327.2L219.7 325.8L217.7 324.3L216.1 325.8L213.0 327.2L212.4 327.4L207.0 327.7L201.7 327.9L196.3 328.2L191.0 328.3L185.6 328.3L180.3 328.3L174.9 328.3L169.6 328.3L164.2 328.3L158.9 328.3ZM236.7 328.6L239.1 328.6L244.5 328.6L249.8 328.6L251.0 328.6L252.7 327.2L254.4 325.8L255.2 325.1L255.8 324.3L256.6 322.9L257.2 321.4L257.8 320.0L258.5 318.6L259.1 317.1L259.7 315.7L260.3 314.3L260.5 313.8L261.1 312.8L262.0 311.4L262.9 309.9L263.8 308.5L264.6 307.1L265.3 305.6L265.9 304.5L266.0 304.2L266.7 302.8L267.3 301.3L267.8 299.9L268.1 298.4L268.3 297.0L268.6 295.6L268.9 294.1L269.2 292.7L269.5 291.3L269.7 289.8L270.0 288.4L270.3 286.9L270.6 285.5L270.8 284.1L271.1 282.6L271.2 282.1L271.6 281.2L272.5 279.8L273.4 278.3L274.3 276.9L275.2 275.4L276.0 274.0L276.6 273.1L276.9 272.6L277.6 271.1L278.3 269.7L279.0 268.3L279.7 266.8L280.4 265.4L281.2 263.9L281.9 262.5L281.8 261.1L276.6 261.1L271.2 261.1L265.9 261.1L263.5 261.1L262.8 262.5L262.2 263.9L261.7 265.4L261.3 266.8L260.9 268.3L260.5 269.6L260.4 269.7L257.8 271.1L255.2 272.5L255.1 272.6L252.4 274.0L249.8 275.4L249.8 275.4L247.2 276.9L248.2 278.3L248.3 279.8L248.4 281.2L248.5 282.6L248.5 284.1L249.1 285.5L249.8 286.9L249.8 287.0L251.0 288.4L251.7 289.8L252.2 291.3L252.7 292.7L253.4 294.1L254.2 295.6L254.9 297.0L255.2 297.6L255.7 298.4L256.3 299.9L256.5 301.3L255.9 302.8L255.3 304.2L255.2 304.4L254.6 305.6L254.0 307.1L253.4 308.5L252.8 309.9L252.1 311.4L251.5 312.8L250.9 314.3L250.3 315.7L249.8 316.7L249.6 317.1L248.5 318.6L246.8 320.0L245.1 321.4L244.5 322.0L243.5 322.9L241.8 324.3L240.1 325.8L239.1 326.6L238.4 327.2ZM57.2 274.0L57.2 275.2L61.1 274.0L62.0 272.6L62.3 271.1L62.5 269.7L62.5 269.5L62.6 268.3L62.7 266.8L62.8 265.4L62.9 263.9L63.0 262.5L63.2 261.1L62.5 261.1L57.2 261.1L57.2 262.5L57.2 263.9L57.2 265.4L57.2 266.8L57.2 268.3L57.2 269.7L57.2 271.1L57.2 272.6Z"/>
<path fill="#62ca72" stroke="#62ca72" stroke-width="0.3" fill-rule="evenodd" d="M57.2 328.6L62.5 328.6L67.9 328.6L73.2 328.6L78.6 328.6L83.9 328.6L89.3 328.6L94.6 328.6L100.0 328.6L105.3 328.6L110.7 328.6L116.1 328.6L121.4 328.6L126.8 328.6L132.1 328.6L137.5 328.6L142.8 328.6L148.2 328.6L153.5 328.6L157.8 328.6L158.9 328.3L164.2 328.3L169.6 328.3L174.9 328.3L180.3 328.3L185.6 328.3L191.0 328.3L196.3 328.2L201.7 327.9L207.0 327.7L212.4 327.4L213.0 327.2L216.1 325.8L217.7 324.3L219.7 325.8L221.7 327.2L223.1 328.2L223.7 328.6L228.4 328.6L233.8 328.6L236.7 328.6L238.4 327.2L239.1 326.6L240.1 325.8L241.8 324.3L243.5 322.9L244.5 322.0L245.1 321.4L246.8 320.0L248.5 318.6L249.6 317.1L249.8 316.7L250.3 315.7L250.9 314.3L251.5 312.8L252.1 311.4L252.8 309.9L253.4 308.5L254.0 307.1L254.6 305.6L255.2 304.4L255.3 304.2L255.9 302.8L256.5 301.3L256.3 299.9L255.7 298.4L255.2 297.6L254.9 297.0L254.2 295.6L253.4 294.1L252.7 292.7L252.2 291.3L251.7 289.8L251.0 288.4L249.8 287.0L249.8 286.9L249.1 285.5L248.5 284.1L248.5 282.6L248.4 281.2L248.3 279.8L248.2 278.3L247.2 276.9L249.8 275.4L249.8 275.4L252.4 274.0L255.1 272.6L255.2 272.5L257.8 271.1L260.4 269.7L260.5 269.6L260.9 268.3L261.3 266.8L261.7 265.4L262.2 263.9L262.8 262.5L263.5 261.1L260.5 261.1L255.2 261.1L249.8 261.1L244.5 261.1L239.1 261.1L233.8 261.1L228.4 261.1L223.1 261.1L217.7 261.1L212.4 261.1L208.7 261.1L209.0 262.5L209.3 263.9L209.7 265.4L210.0 266.8L210.3 268.3L210.6 269.7L210.9 271.1L211.3 272.6L211.6 274.0L211.9 275.4L212.2 276.9L212.4 277.6L212.6 278.3L212.9 279.8L213.3 281.2L213.6 282.6L214.0 284.1L214.3 285.5L214.7 286.9L215.0 288.4L215.4 289.8L215.7 291.3L216.1 292.7L216.4 294.1L216.8 295.6L217.1 297.0L217.5 298.4L217.7 299.3L217.8 298.4L218.0 297.0L218.2 295.6L218.4 294.1L218.6 292.7L218.8 291.3L218.9 289.8L219.1 288.4L219.3 286.9L219.5 285.5L219.7 284.1L219.9 282.6L220.1 281.2L220.2 279.8L220.4 278.3L220.6 276.9L220.8 275.4L221.2 274.0L221.9 272.6L222.7 271.1L223.1 270.5L228.4 270.7L229.1 271.1L231.5 272.6L233.8 274.0L233.8 274.0L234.5 275.4L235.3 276.9L236.0 278.3L236.7 279.8L237.4 281.2L238.2 282.6L238.9 284.1L239.1 284.5L239.6 285.5L240.3 286.9L241.1 288.4L241.8 289.8L242.5 291.3L243.3 292.7L244.0 294.1L244.5 295.1L244.7 295.6L245.4 297.0L246.2 298.4L246.9 299.9L247.1 301.3L246.4 302.8L245.8 304.2L245.2 305.6L244.6 307.1L244.5 307.2L243.9 308.5L243.1 309.9L242.1 311.4L240.9 312.8L239.2 314.3L239.1 314.4L237.6 315.7L235.9 317.1L234.2 318.6L233.8 318.9L233.3 318.6L231.2 317.1L229.1 315.7L228.4 315.2L227.5 314.3L226.5 312.8L225.5 311.4L224.5 309.9L223.4 308.5L223.1 308.1L221.8 307.1L220.4 305.6L219.4 304.2L218.6 302.8L217.9 301.3L217.7 300.3L217.4 301.3L216.2 302.8L215.1 304.2L214.0 305.6L212.9 307.1L212.4 307.7L211.8 308.5L210.7 309.9L209.6 311.4L208.6 312.8L207.5 314.3L207.0 314.9L204.6 315.7L201.7 316.2L196.3 316.5L191.0 316.6L185.6 316.6L180.3 316.7L174.9 316.7L169.6 316.7L164.2 316.7L158.9 316.7L157.4 317.1L153.5 318.3L152.8 318.6L149.6 320.0L148.2 320.7L146.5 321.4L143.4 322.9L142.8 323.2L140.3 324.3L137.5 325.7L137.3 325.8L134.2 327.2L132.1 328.2L126.8 328.2L121.9 327.2L121.4 327.1L116.1 326.0L114.7 325.8L110.7 324.9L106.1 324.3L105.3 324.2L100.0 323.7L94.6 323.1L93.0 322.9L89.3 322.4L83.9 321.8L81.3 321.4L78.6 321.1L76.1 321.4L73.2 321.8L68.6 322.9L67.9 323.0L63.0 324.3L62.5 324.4L57.5 325.8L57.2 325.8L57.2 327.2ZM57.2 282.6L57.2 283.1L62.5 283.8L66.5 282.6L67.4 281.2L67.7 279.8L67.9 278.5L67.9 278.3L68.0 276.9L68.1 275.4L68.2 274.0L68.3 272.6L68.4 271.1L68.5 269.7L68.6 268.3L68.7 266.8L68.8 265.4L69.0 263.9L69.1 262.5L69.2 261.1L67.9 261.1L63.2 261.1L63.0 262.5L62.9 263.9L62.8 265.4L62.7 266.8L62.6 268.3L62.5 269.5L62.5 269.7L62.3 271.1L62.0 272.6L61.1 274.0L57.2 275.2L57.2 275.4L57.2 276.9L57.2 278.3L57.2 279.8L57.2 281.2Z"/>
<path fill="#d2bf31" stroke="#d2bf31" stroke-width="0.3" fill-rule="evenodd" d="M121.9 327.2L126.8 328.2L132.1 328.2L134.2 327.2L137.3 325.8L137.5 325.7L140.3 324.3L142.8 323.2L143.4 322.9L146.5 321.4L148.2 320.7L149.6 320.0L152.8 318.6L153.5 318.3L157.4 317.1L158.9 316.7L164.2 316.7L169.6 316.7L174.9 316.7L180.3 316.7L185.6 316.6L191.0 316.6L196.3 316.5L201.7 316.2L204.6 315.7L207.0 314.9L207.5 314.3L208.6 312.8L209.6 311.4L210.7 309.9L211.8 308.5L212.4 307.7L212.9 307.1L214.0 305.6L215.1 304.2L216.2 302.8L217.4 301.3L217.7 300.3L217.9 301.3L218.6 302.8L219.4 304.2L220.4 305.6L221.8 307.1L223.1 308.1L223.4 308.5L224.5 309.9L225.5 311.4L226.5 312.8L227.5 314.3L228.4 315.2L229.1 315.7L231.2 317.1L233.3 318.6L233.8 318.9L234.2 318.6L235.9 317.1L237.6 315.7L239.1 314.4L239.2 314.3L240.9 312.8L242.1 311.4L243.1 309.9L243.9 308.5L244.5 307.2L244.6 307.1L245.2 305.6L245.8 304.2L246.4 302.8L247.1 301.3L246.9 299.9L246.2 298.4L245.4 297.0L244.7 295.6L244.5 295.1L244.0 294.1L243.3 292.7L242.5 291.3L241.8 289.8L241.1 288.4L240.3 286.9L239.6 285.5L239.1 284.5L238.9 284.1L238.2 282.6L237.4 281.2L236.7 279.8L236.0 278.3L235.3 276.9L234.5 275.4L233.8 274.0L233.8 274.0L231.5 272.6L229.1 271.1L228.4 270.7L223.1 270.5L222.7 271.1L221.9 272.6L221.2 274.0L220.8 275.4L220.6 276.9L220.4 278.3L220.2 279.8L220.1 281.2L219.9 282.6L219.7 284.1L219.5 285.5L219.3 286.9L219.1 288.4L218.9 289.8L218.8 291.3L218.6 292.7L218.4 294.1L218.2 295.6L218.0 297.0L217.8 298.4L217.7 299.3L217.5 298.4L217.1 297.0L216.8 295.6L216.4 294.1L216.1 292.7L215.7 291.3L215.4 289.8L215.0 288.4L214.7 286.9L214.3 285.5L214.0 284.1L213.6 282.6L213.3 281.2L212.9 279.8L212.6 278.3L212.4 277.6L212.2 276.9L211.9 275.4L211.6 274.0L211.3 272.6L210.9 271.1L210.6 269.7L210.3 268.3L210.0 266.8L209.7 265.4L209.3 263.9L209.0 262.5L208.7 261.1L207.0 261.1L201.7 261.1L196.3 261.1L191.5 261.1L191.9 262.5L192.2 263.9L192.6 265.4L192.9 266.8L193.3 268.3L193.6 269.7L194.0 271.1L194.3 272.6L194.7 274.0L195.0 275.4L195.4 276.9L195.7 278.3L196.0 279.8L196.3 280.9L196.4 281.2L196.7 282.6L196.9 284.1L197.2 285.5L197.5 286.9L197.7 288.4L198.0 289.8L198.3 291.3L198.6 292.7L198.8 294.1L199.1 295.6L199.4 297.0L199.7 298.4L199.9 299.9L199.7 301.3L198.6 302.8L197.2 304.2L196.3 304.7L191.0 304.9L185.6 304.9L180.3 304.9L174.9 305.0L169.6 305.0L164.2 305.1L158.9 305.1L157.0 305.6L153.5 306.6L152.5 307.1L149.4 308.5L148.2 309.0L146.2 309.9L143.0 311.4L142.8 311.5L139.8 312.8L137.5 313.9L136.7 314.3L133.7 315.7L132.1 316.4L126.8 316.6L121.4 315.7L121.3 315.7L116.1 314.7L113.7 314.3L110.7 313.7L105.3 312.9L103.8 312.8L100.0 312.5L94.6 312.1L89.3 311.7L86.4 311.4L83.9 311.1L78.6 310.4L73.2 311.1L72.0 311.4L67.9 312.1L64.3 312.8L62.5 313.2L58.3 314.3L57.2 314.6L57.2 315.7L57.2 317.1L57.2 318.6L57.2 320.0L57.2 321.4L57.2 322.9L57.2 324.3L57.2 325.8L57.2 325.8L57.5 325.8L62.5 324.4L63.0 324.3L67.9 323.0L68.6 322.9L73.2 321.8L76.1 321.4L78.6 321.1L81.3 321.4L83.9 321.8L89.3 322.4L93.0 322.9L94.6 323.1L100.0 323.7L105.3 324.2L106.1 324.3L110.7 324.9L114.7 325.8L116.1 326.0L121.4 327.1ZM233.8 306.7L232.2 305.6L230.1 304.2L228.4 303.0L228.2 302.8L227.2 301.3L226.8 299.9L227.0 298.4L227.2 297.0L227.4 295.6L227.5 294.1L227.7 292.7L227.9 291.3L228.2 289.8L228.4 289.4L229.1 289.8L230.7 291.3L233.8 292.6L233.8 292.7L234.5 294.1L235.3 295.6L236.0 297.0L236.7 298.4L237.4 299.9L237.6 301.3L236.9 302.8L236.0 304.2L234.8 305.6ZM59.9 291.3L62.5 291.6L67.9 292.3L71.9 291.3L72.8 289.8L73.1 288.4L73.2 287.5L73.3 286.9L73.4 285.5L73.5 284.1L73.7 282.6L73.8 281.2L73.9 279.8L74.0 278.3L74.2 276.9L74.3 275.4L74.4 274.0L74.5 272.6L74.6 271.1L74.8 269.7L74.9 268.3L75.0 266.8L75.1 265.4L75.3 263.9L75.4 262.5L75.5 261.1L73.2 261.1L69.2 261.1L69.1 262.5L69.0 263.9L68.8 265.4L68.7 266.8L68.6 268.3L68.5 269.7L68.4 271.1L68.3 272.6L68.2 274.0L68.1 275.4L68.0 276.9L67.9 278.3L67.9 278.5L67.7 279.8L67.4 281.2L66.5 282.6L62.5 283.8L57.2 283.1L57.2 284.1L57.2 285.5L57.2 286.9L57.2 288.4L57.2 289.8L57.2 290.9Z"/>
<path fill="#fdca34" stroke="#fdca34" stroke-width="0.3" fill-rule="evenodd" d="M121.3 315.7L121.4 315.7L126.8 316.6L132.1 316.4L133.7 315.7L136.7 314.3L137.5 313.9L139.8 312.8L142.8 311.5L143.0 311.4L146.2 309.9L148.2 309.0L149.4 308.5L152.5 307.1L153.5 306.6L157.0 305.6L158.9 305.1L164.2 305.1L169.6 305.0L174.9 305.0L180.3 304.9L185.6 304.9L191.0 304.9L196.3 304.7L197.2 304.2L198.6 302.8L199.7 301.3L199.9 299.9L199.7 298.4L199.4 297.0L199.1 295.6L198.8 294.1L198.6 292.7L198.3 291.3L198.0 289.8L197.7 288.4L197.5 286.9L197.2 285.5L196.9 284.1L196.7 282.6L196.4 281.2L196.3 280.9L196.0 279.8L195.7 278.3L195.4 276.9L195.0 275.4L194.7 274.0L194.3 272.6L194.0 271.1L193.6 269.7L193.3 268.3L192.9 266.8L192.6 265.4L192.2 263.9L191.9 262.5L191.5 261.1L191.0 261.1L185.6 261.1L180.3 261.1L174.9 261.1L169.6 261.1L164.2 261.1L164.7 262.5L165.1 263.9L165.5 265.4L166.0 266.8L166.1 268.3L165.5 269.7L164.2 271.1L164.2 271.1L158.9 271.3L154.6 272.6L153.5 272.9L151.0 274.0L148.2 275.3L147.8 275.4L144.5 276.9L142.8 277.7L142.4 278.3L142.2 279.8L142.1 281.2L142.0 282.6L141.9 284.1L141.8 285.5L141.7 286.9L141.6 288.4L141.5 289.8L141.4 291.3L141.3 292.7L141.3 294.1L141.2 295.6L141.1 297.0L141.0 298.4L140.9 299.9L139.5 301.3L137.5 302.2L136.3 302.8L133.2 304.2L132.1 304.7L126.8 304.8L122.8 304.2L121.4 304.0L116.1 303.1L113.6 302.8L110.7 302.3L105.3 301.6L101.0 301.3L100.0 301.1L94.6 300.1L93.2 299.9L93.7 298.4L94.3 297.0L94.6 296.0L94.8 295.6L95.3 294.1L95.9 292.7L96.4 291.3L96.9 289.8L97.5 288.4L98.0 286.9L98.5 285.5L99.1 284.1L99.6 282.6L100.0 281.6L100.1 281.2L100.7 279.8L101.2 278.3L101.7 276.9L102.3 275.4L102.8 274.0L103.3 272.6L103.9 271.1L104.6 269.7L105.1 268.3L105.3 267.1L105.4 266.8L105.8 265.4L106.1 263.9L106.9 262.5L107.5 261.1L105.3 261.1L100.0 261.1L94.6 261.1L89.3 261.1L83.9 261.1L78.6 261.1L75.5 261.1L75.4 262.5L75.3 263.9L75.1 265.4L75.0 266.8L74.9 268.3L74.8 269.7L74.6 271.1L74.5 272.6L74.4 274.0L74.3 275.4L74.2 276.9L74.0 278.3L73.9 279.8L73.8 281.2L73.7 282.6L73.5 284.1L73.4 285.5L73.3 286.9L73.2 287.5L73.1 288.4L72.8 289.8L71.9 291.3L67.9 292.3L62.5 291.6L59.9 291.3L57.2 290.9L57.2 291.3L57.2 292.7L57.2 294.1L57.2 295.6L57.2 297.0L57.2 298.4L57.2 298.7L62.5 299.4L65.8 299.9L67.9 300.9L68.7 301.3L67.9 301.5L62.5 302.5L61.0 302.8L57.2 303.5L57.2 304.2L57.2 305.6L57.2 307.1L57.2 308.5L57.2 309.9L57.2 311.4L57.2 312.8L57.2 314.3L57.2 314.6L58.3 314.3L62.5 313.2L64.3 312.8L67.9 312.1L72.0 311.4L73.2 311.1L78.6 310.4L83.9 311.1L86.4 311.4L89.3 311.7L94.6 312.1L100.0 312.5L103.8 312.8L105.3 312.9L110.7 313.7L113.7 314.3L116.1 314.7ZM232.2 305.6L233.8 306.7L234.8 305.6L236.0 304.2L236.9 302.8L237.6 301.3L237.4 299.9L236.7 298.4L236.0 297.0L235.3 295.6L234.5 294.1L233.8 292.7L233.8 292.6L230.7 291.3L229.1 289.8L228.4 289.4L228.2 289.8L227.9 291.3L227.7 292.7L227.5 294.1L227.4 295.6L227.2 297.0L227.0 298.4L226.8 299.9L227.2 301.3L228.2 302.8L228.4 303.0L230.1 304.2Z"/>
<path fill="#f9fb15" stroke="#f9fb15" stroke-width="0.3" fill-rule="evenodd" d="M122.8 304.2L126.8 304.8L132.1 304.7L133.2 304.2L136.3 302.8L137.5 302.2L139.5 301.3L140.9 299.9L141.0 298.4L141.1 297.0L141.2 295.6L141.3 294.1L141.3 292.7L141.4 291.3L141.5 289.8L141.6 288.4L141.7 286.9L141.8 285.5L141.9 284.1L142.0 282.6L142.1 281.2L142.2 279.8L142.4 278.3L142.8 277.7L144.5 276.9L147.8 275.4L148.2 275.3L151.0 274.0L153.5 272.9L154.6 272.6L158.9 271.3L164.2 271.1L164.2 271.1L165.5 269.7L166.1 268.3L166.0 266.8L165.5 265.4L165.1 263.9L164.7 262.5L164.2 261.1L164.2 261.1L158.9 261.1L153.5 261.1L148.2 261.1L142.8 261.1L137.5 261.1L132.1 261.1L126.8 261.1L121.4 261.1L116.1 261.1L110.7 261.1L107.5 261.1L106.9 262.5L106.1 263.9L105.8 265.4L105.4 266.8L105.3 267.1L105.1 268.3L104.6 269.7L103.9 271.1L103.3 272.6L102.8 274.0L102.3 275.4L101.7 276.9L101.2 278.3L100.7 279.8L100.1 281.2L100.0 281.6L99.6 282.6L99.1 284.1L98.5 285.5L98.0 286.9L97.5 288.4L96.9 289.8L96.4 291.3L95.9 292.7L95.3 294.1L94.8 295.6L94.6 296.0L94.3 297.0L93.7 298.4L93.2 299.9L94.6 300.1L100.0 301.1L101.0 301.3L105.3 301.6L110.7 302.3L113.6 302.8L116.1 303.1L121.4 304.0ZM57.2 302.8L57.2 303.5L61.0 302.8L62.5 302.5L67.9 301.5L68.7 301.3L67.9 300.9L65.8 299.9L62.5 299.4L57.2 298.7L57.2 299.9L57.2 301.3Z"/>
<path fill="none" stroke="#1a1a1a" stroke-opacity="0.6" stroke-width="0.35" stroke-linejoin="round" d="M296.6 328.6L297.5 327.2L298.0 326.5L298.5 325.8L299.4 324.3L300.4 322.9L301.3 321.4L301.9 320.0L302.3 318.6L302.6 317.1L302.8 315.7L303.0 314.3L303.2 312.8L303.3 311.6L303.4 311.4L303.6 309.9L303.7 308.5L303.9 307.1L304.1 305.6L304.3 304.2L304.5 302.8L304.7 301.3L305.0 299.9L305.6 298.4L306.1 297.0L306.7 295.6L307.2 294.1L307.1 292.7L307.0 291.3L307.0 289.8L307.0 288.4L306.8 286.9L306.7 285.5L306.5 284.1L306.3 282.6L306.1 281.2L305.9 279.8L305.7 278.3L305.5 276.9L305.3 275.4L305.1 274.0L305.0 272.6L304.8 271.1L304.6 269.7L304.4 268.3L304.2 266.8L304.0 265.4L303.8 263.9L303.6 262.5L303.4 261.1M279.5 328.6L280.3 327.2L281.1 325.8L281.9 324.3L281.9 324.2L282.8 322.9L283.8 321.4L284.7 320.0L285.7 318.6L286.6 317.1L287.3 316.1L287.6 315.7L288.5 314.3L289.5 312.8L290.3 311.4L290.8 309.9L291.2 308.5L291.5 307.1L291.7 305.6L291.9 304.2L292.0 302.8L292.2 301.3L292.6 299.9L292.6 299.8L293.2 298.4L293.7 297.0L294.2 295.6L294.8 294.1L295.3 292.7L295.9 291.3L296.4 289.8L297.0 288.4L297.5 286.9L298.0 285.7L298.0 285.5L298.4 284.1L298.7 282.6L298.9 281.2L298.7 279.8L298.5 278.3L298.3 276.9L298.1 275.4L298.0 274.4L298.0 274.0L297.8 272.6L297.6 271.1L297.4 269.7L297.2 268.3L297.0 266.8L296.8 265.4L296.6 263.9L296.4 262.5L296.3 261.1M264.8 328.6L265.7 327.2L265.9 326.8L266.6 325.8L267.6 324.3L268.6 322.9L269.5 321.4L270.5 320.0L271.2 318.9L271.4 318.6L272.3 317.1L273.0 315.7L273.7 314.3L274.3 312.8L275.0 311.4L275.6 309.9L276.3 308.5L276.6 307.9L277.0 307.1L277.8 305.6L278.5 304.2L279.2 302.8L279.7 301.3L280.2 299.9L280.6 298.4L281.2 297.0L281.8 295.6L281.9 295.2L282.4 294.1L282.9 292.7L283.5 291.3L284.0 289.8L284.5 288.4L285.1 286.9L285.6 285.5L286.2 284.1L286.7 282.6L287.3 281.2L287.3 281.1L287.8 279.8L288.3 278.3L288.9 276.9L289.4 275.4L289.7 274.0L289.8 272.6L289.9 271.1L290.0 269.7L290.0 268.3L289.8 266.8L289.6 265.4L289.4 263.9L289.2 262.5L289.1 261.1M251.0 328.6L252.7 327.2L254.4 325.8L255.2 325.1L255.8 324.3L256.6 322.9L257.2 321.4L257.8 320.0L258.5 318.6L259.1 317.1L259.7 315.7L260.3 314.3L260.5 313.8L261.1 312.8L262.0 311.4L262.9 309.9L263.8 308.5L264.6 307.1L265.3 305.6L265.9 304.5L266.0 304.2L266.7 302.8L267.3 301.3L267.8 299.9L268.1 298.4L268.3 297.0L268.6 295.6L268.9 294.1L269.2 292.7L269.5 291.3L269.7 289.8L270.0 288.4L270.3 286.9L270.6 285.5L270.8 284.1L271.1 282.6L271.2 282.1L271.6 281.2L272.5 279.8L273.4 278.3L274.3 276.9L275.2 275.4L276.0 274.0L276.6 273.1L276.9 272.6L277.6 271.1L278.3 269.7L279.0 268.3L279.7 266.8L280.4 265.4L281.2 263.9L281.9 262.5L281.8 261.1M157.8 328.6L158.9 328.3L164.2 328.3L169.6 328.3L174.9 328.3L180.3 328.3L185.6 328.3L191.0 328.3L196.3 328.2L201.7 327.9L207.0 327.7L212.4 327.4L213.0 327.2L216.1 325.8L217.7 324.3L219.7 325.8L221.7 327.2L223.1 328.2L223.7 328.6M236.7 328.6L238.4 327.2L239.1 326.6L240.1 325.8L241.8 324.3L243.5 322.9L244.5 322.0L245.1 321.4L246.8 320.0L248.5 318.6L249.6 317.1L249.8 316.7L250.3 315.7L250.9 314.3L251.5 312.8L252.1 311.4L252.8 309.9L253.4 308.5L254.0 307.1L254.6 305.6L255.2 304.4L255.3 304.2L255.9 302.8L256.5 301.3L256.3 299.9L255.7 298.4L255.2 297.6L254.9 297.0L254.2 295.6L253.4 294.1L252.7 292.7L252.2 291.3L251.7 289.8L251.0 288.4L249.8 287.0L249.8 286.9L249.1 285.5L248.5 284.1L248.5 282.6L248.4 281.2L248.3 279.8L248.2 278.3L247.2 276.9L249.8 275.4L249.8 275.4L252.4 274.0L255.1 272.6L255.2 272.5L257.8 271.1L260.4 269.7L260.5 269.6L260.9 268.3L261.3 266.8L261.7 265.4L262.2 263.9L262.8 262.5L263.5 261.1M63.2 261.1L63.0 262.5L62.9 263.9L62.8 265.4L62.7 266.8L62.6 268.3L62.5 269.5L62.5 269.7L62.3 271.1L62.0 272.6L61.1 274.0L57.2 275.2M57.2 325.8L57.5 325.8L62.5 324.4L63.0 324.3L67.9 323.0L68.6 322.9L73.2 321.8L76.1 321.4L78.6 321.1L81.3 321.4L83.9 321.8L89.3 322.4L93.0 322.9L94.6 323.1L100.0 323.7L105.3 324.2L106.1 324.3L110.7 324.9L114.7 325.8L116.1 326.0L121.4 327.1L121.9 327.2L126.8 328.2L132.1 328.2L134.2 327.2L137.3 325.8L137.5 325.7L140.3 324.3L142.8 323.2L143.4 322.9L146.5 321.4L148.2 320.7L149.6 320.0L152.8 318.6L153.5 318.3L157.4 317.1L158.9 316.7L164.2 316.7L169.6 316.7L174.9 316.7L180.3 316.7L185.6 316.6L191.0 316.6L196.3 316.5L201.7 316.2L204.6 315.7L207.0 314.9L207.5 314.3L208.6 312.8L209.6 311.4L210.7 309.9L211.8 308.5L212.4 307.7L212.9 307.1L214.0 305.6L215.1 304.2L216.2 302.8L217.4 301.3L217.7 300.3L217.9 301.3L218.6 302.8L219.4 304.2L220.4 305.6L221.8 307.1L223.1 308.1L223.4 308.5L224.5 309.9L225.5 311.4L226.5 312.8L227.5 314.3L228.4 315.2L229.1 315.7L231.2 317.1L233.3 318.6L233.8 318.9L234.2 318.6L235.9 317.1L237.6 315.7L239.1 314.4L239.2 314.3L240.9 312.8L242.1 311.4L243.1 309.9L243.9 308.5L244.5 307.2L244.6 307.1L245.2 305.6L245.8 304.2L246.4 302.8L247.1 301.3L246.9 299.9L246.2 298.4L245.4 297.0L244.7 295.6L244.5 295.1L244.0 294.1L243.3 292.7L242.5 291.3L241.8 289.8L241.1 288.4L240.3 286.9L239.6 285.5L239.1 284.5L238.9 284.1L238.2 282.6L237.4 281.2L236.7 279.8L236.0 278.3L235.3 276.9L234.5 275.4L233.8 274.0L233.8 274.0L231.5 272.6L229.1 271.1L228.4 270.7L223.1 270.5L222.7 271.1L221.9 272.6L221.2 274.0L220.8 275.4L220.6 276.9L220.4 278.3L220.2 279.8L220.1 281.2L219.9 282.6L219.7 284.1L219.5 285.5L219.3 286.9L219.1 288.4L218.9 289.8L218.8 291.3L218.6 292.7L218.4 294.1L218.2 295.6L218.0 297.0L217.8 298.4L217.7 299.3L217.5 298.4L217.1 297.0L216.8 295.6L216.4 294.1L216.1 292.7L215.7 291.3L215.4 289.8L215.0 288.4L214.7 286.9L214.3 285.5L214.0 284.1L213.6 282.6L213.3 281.2L212.9 279.8L212.6 278.3L212.4 277.6L212.2 276.9L211.9 275.4L211.6 274.0L211.3 272.6L210.9 271.1L210.6 269.7L210.3 268.3L210.0 266.8L209.7 265.4L209.3 263.9L209.0 262.5L208.7 261.1M69.2 261.1L69.1 262.5L69.0 263.9L68.8 265.4L68.7 266.8L68.6 268.3L68.5 269.7L68.4 271.1L68.3 272.6L68.2 274.0L68.1 275.4L68.0 276.9L67.9 278.3L67.9 278.5L67.7 279.8L67.4 281.2L66.5 282.6L62.5 283.8L57.2 283.1M57.2 314.6L58.3 314.3L62.5 313.2L64.3 312.8L67.9 312.1L72.0 311.4L73.2 311.1L78.6 310.4L83.9 311.1L86.4 311.4L89.3 311.7L94.6 312.1L100.0 312.5L103.8 312.8L105.3 312.9L110.7 313.7L113.7 314.3L116.1 314.7L121.3 315.7L121.4 315.7L126.8 316.6L132.1 316.4L133.7 315.7L136.7 314.3L137.5 313.9L139.8 312.8L142.8 311.5L143.0 311.4L146.2 309.9L148.2 309.0L149.4 308.5L152.5 307.1L153.5 306.6L157.0 305.6L158.9 305.1L164.2 305.1L169.6 305.0L174.9 305.0L180.3 304.9L185.6 304.9L191.0 304.9L196.3 304.7L197.2 304.2L198.6 302.8L199.7 301.3L199.9 299.9L199.7 298.4L199.4 297.0L199.1 295.6L198.8 294.1L198.6 292.7L198.3 291.3L198.0 289.8L197.7 288.4L197.5 286.9L197.2 285.5L196.9 284.1L196.7 282.6L196.4 281.2L196.3 280.9L196.0 279.8L195.7 278.3L195.4 276.9L195.0 275.4L194.7 274.0L194.3 272.6L194.0 271.1L193.6 269.7L193.3 268.3L192.9 266.8L192.6 265.4L192.2 263.9L191.9 262.5L191.5 261.1M232.2 305.6L233.8 306.7L234.8 305.6L236.0 304.2L236.9 302.8L237.6 301.3L237.4 299.9L236.7 298.4L236.0 297.0L235.3 295.6L234.5 294.1L233.8 292.7L233.8 292.6L230.7 291.3L229.1 289.8L228.4 289.4L228.2 289.8L227.9 291.3L227.7 292.7L227.5 294.1L227.4 295.6L227.2 297.0L227.0 298.4L226.8 299.9L227.2 301.3L228.2 302.8L228.4 303.0L230.1 304.2L232.2 305.6M75.5 261.1L75.4 262.5L75.3 263.9L75.1 265.4L75.0 266.8L74.9 268.3L74.8 269.7L74.6 271.1L74.5 272.6L74.4 274.0L74.3 275.4L74.2 276.9L74.0 278.3L73.9 279.8L73.8 281.2L73.7 282.6L73.5 284.1L73.4 285.5L73.3 286.9L73.2 287.5L73.1 288.4L72.8 289.8L71.9 291.3L67.9 292.3L62.5 291.6L59.9 291.3L57.2 290.9M57.2 303.5L61.0 302.8L62.5 302.5L67.9 301.5L68.7 301.3L67.9 300.9L65.8 299.9L62.5 299.4L57.2 298.7M107.5 261.1L106.9 262.5L106.1 263.9L105.8 265.4L105.4 266.8L105.3 267.1L105.1 268.3L104.6 269.7L103.9 271.1L103.3 272.6L102.8 274.0L102.3 275.4L101.7 276.9L101.2 278.3L100.7 279.8L100.1 281.2L100.0 281.6L99.6 282.6L99.1 284.1L98.5 285.5L98.0 286.9L97.5 288.4L96.9 289.8L96.4 291.3L95.9 292.7L95.3 294.1L94.8 295.6L94.6 296.0L94.3 297.0L93.7 298.4L93.2 299.9L94.6 300.1L100.0 301.1L101.0 301.3L105.3 301.6L110.7 302.3L113.6 302.8L116.1 303.1L121.4 304.0L122.8 304.2L126.8 304.8L132.1 304.7L133.2 304.2L136.3 302.8L137.5 302.2L139.5 301.3L140.9 299.9L141.0 298.4L141.1 297.0L141.2 295.6L141.3 294.1L141.3 292.7L141.4 291.3L141.5 289.8L141.6 288.4L141.7 286.9L141.8 285.5L141.9 284.1L142.0 282.6L142.1 281.2L142.2 279.8L142.4 278.3L142.8 277.7L144.5 276.9L147.8 275.4L148.2 275.3L151.0 274.0L153.5 272.9L154.6 272.6L158.9 271.3L164.2 271.1L164.2 271.1L165.5 269.7L166.1 268.3L166.0 266.8L165.5 265.4L165.1 263.9L164.7 262.5L164.2 261.1"/>
<rect x="38.9" y="256.5" width="287.7" height="77.0" fill="none" stroke="#c4c4c4" stroke-width="0.7"/>
<path d="M47.8 333.0v-2.5M47.8 256.7v2.5M76.5 333.0v-2.5M76.5 256.7v2.5M105.3 333.0v-2.5M105.3 256.7v2.5M134.0 333.0v-2.5M134.0 256.7v2.5M162.7 333.0v-2.5M162.7 256.7v2.5M191.4 333.0v-2.5M191.4 256.7v2.5M220.1 333.0v-2.5M220.1 256.7v2.5M248.9 333.0v-2.5M248.9 256.7v2.5M277.6 333.0v-2.5M277.6 256.7v2.5M306.3 333.0v-2.5M306.3 256.7v2.5M39.2 330.1h2.5M326.4 330.1h-2.5M39.2 300.7h2.5M326.4 300.7h-2.5M39.2 271.4h2.5M326.4 271.4h-2.5" stroke="#9a9a9a" stroke-width="0.5" fill="none"/>
<g fill="#222"><circle cx="51.8" cy="330.1" r="0.6"/><circle cx="77.7" cy="330.1" r="0.6"/><circle cx="108.1" cy="330.1" r="0.6"/><circle cx="130.5" cy="330.1" r="0.6"/><circle cx="157.0" cy="330.1" r="0.6"/><circle cx="194.0" cy="330.1" r="0.6"/><circle cx="217.6" cy="330.1" r="0.6"/><circle cx="232.2" cy="330.1" r="0.6"/><circle cx="261.5" cy="330.1" r="0.6"/><circle cx="279.9" cy="330.1" r="0.6"/><circle cx="314.1" cy="330.1" r="0.6"/><circle cx="51.8" cy="300.7" r="0.6"/><circle cx="77.7" cy="300.7" r="0.6"/><circle cx="108.1" cy="300.7" r="0.6"/><circle cx="130.5" cy="300.7" r="0.6"/><circle cx="157.0" cy="300.7" r="0.6"/><circle cx="194.0" cy="300.7" r="0.6"/><circle cx="217.6" cy="300.7" r="0.6"/><circle cx="232.2" cy="300.7" r="0.6"/><circle cx="261.5" cy="300.7" r="0.6"/><circle cx="279.9" cy="300.7" r="0.6"/><circle cx="314.1" cy="300.7" r="0.6"/><circle cx="51.8" cy="259.6" r="0.6"/><circle cx="77.7" cy="259.6" r="0.6"/><circle cx="108.1" cy="259.6" r="0.6"/><circle cx="130.5" cy="259.6" r="0.6"/><circle cx="157.0" cy="259.6" r="0.6"/><circle cx="194.0" cy="259.6" r="0.6"/><circle cx="217.6" cy="259.6" r="0.6"/><circle cx="232.2" cy="259.6" r="0.6"/><circle cx="261.5" cy="259.6" r="0.6"/><circle cx="279.9" cy="259.6" r="0.6"/><circle cx="314.1" cy="259.6" r="0.6"/></g>
<g font-size="10.3" fill="#2b2b2b"><text transform="translate(47.8 345.3) scale(0.88 1)" text-anchor="middle">5</text><text transform="translate(76.5 345.3) scale(0.88 1)" text-anchor="middle">5.5</text><text transform="translate(105.3 345.3) scale(0.88 1)" text-anchor="middle">6</text><text transform="translate(134.0 345.3) scale(0.88 1)" text-anchor="middle">6.5</text><text transform="translate(162.7 345.3) scale(0.88 1)" text-anchor="middle">7</text><text transform="translate(191.4 345.3) scale(0.88 1)" text-anchor="middle">7.5</text><text transform="translate(220.1 345.3) scale(0.88 1)" text-anchor="middle">8</text><text transform="translate(248.9 345.3) scale(0.88 1)" text-anchor="middle">8.5</text><text transform="translate(277.6 345.3) scale(0.88 1)" text-anchor="middle">9</text><text transform="translate(306.3 345.3) scale(0.88 1)" text-anchor="middle">9.5</text><text transform="translate(36.3 333.8) scale(0.88 1)" text-anchor="end">25</text><text transform="translate(36.3 304.4) scale(0.88 1)" text-anchor="end">30</text><text transform="translate(36.3 275.1) scale(0.88 1)" text-anchor="end">35</text></g>
<text transform="translate(182.8 357.8) scale(0.86 1)" font-size="11" fill="#222" text-anchor="middle">pH</text>
<text font-size="11.4" fill="#222" text-anchor="middle" transform="translate(24.5 294.3) rotate(-90) scale(0.905 1)">Temperature (°C)</text>
<rect x="329.7" y="256.7" width="4.6" height="76.3" fill="url(#pg)" stroke="#bbb" stroke-width="0.3"/>
<g font-size="9.8" fill="#2b2b2b"><text transform="translate(336.6 312.5) scale(0.88 1)">1.5</text><text transform="translate(336.6 288.6) scale(0.88 1)">2</text><text transform="translate(336.6 264.8) scale(0.88 1)">2.5</text></g>
<text x="2.2" y="293.4" font-size="16.3" font-weight="bold" fill="#000">c</text>
<path d="M393.9 256.7V333.0M422.5 256.7V333.0M451.1 256.7V333.0M479.7 256.7V333.0M508.4 256.7V333.0M537.0 256.7V333.0M565.6 256.7V333.0M594.2 256.7V333.0M622.8 256.7V333.0M651.5 256.7V333.0M385.3 330.1H671.5M385.3 300.7H671.5M385.3 271.4H671.5" stroke="#e6e6e6" stroke-width="0.5" fill="none"/>
<path fill="#3e26a8" stroke="#3e26a8" stroke-width="0.3" fill-rule="evenodd" d="M403.2 328.6L408.6 328.6L413.9 328.6L419.2 328.6L424.6 328.6L429.9 328.6L435.2 328.6L440.6 328.6L441.4 328.6L440.6 327.8L439.9 327.2L438.3 325.8L436.7 324.3L435.2 323.0L435.1 322.9L433.5 321.4L431.9 320.0L430.4 318.6L429.9 318.1L428.8 317.1L427.2 315.7L425.6 314.3L424.6 313.3L424.1 312.8L422.8 311.4L421.5 309.9L420.2 308.5L419.2 307.4L418.9 307.1L417.7 305.6L416.4 304.2L415.1 302.8L413.9 301.3L413.9 301.3L413.5 299.9L413.8 298.4L413.9 297.8L414.0 297.0L414.3 295.6L414.6 294.1L415.0 292.7L415.6 291.3L416.6 289.8L418.4 288.4L419.2 288.0L424.6 287.4L425.4 286.9L428.1 285.5L429.9 284.6L430.9 284.1L433.6 282.6L435.2 281.8L436.5 281.2L440.6 280.0L445.9 280.1L451.2 280.1L451.3 279.8L451.8 278.3L452.2 276.9L452.7 275.4L453.1 274.0L453.6 272.6L454.0 271.1L454.4 269.7L454.9 268.3L455.3 266.8L455.8 265.4L456.6 264.2L461.9 264.0L467.2 264.0L472.6 264.0L475.6 265.4L477.9 266.4L478.3 266.8L479.5 268.3L480.2 269.7L481.0 271.1L481.9 272.6L482.9 274.0L483.2 274.6L484.2 275.4L485.2 276.9L485.8 278.3L486.6 279.8L487.6 281.2L488.5 282.6L488.5 282.7L490.0 284.1L490.8 285.5L491.4 286.9L492.3 288.4L493.2 289.8L493.9 290.8L494.5 291.3L495.7 292.7L496.5 294.1L497.0 295.6L498.0 297.0L498.9 298.4L499.2 298.9L500.5 299.9L501.1 301.3L501.1 302.8L501.2 304.2L501.3 305.6L501.5 307.1L501.6 308.5L501.7 309.9L501.8 311.4L501.9 312.8L502.0 314.3L502.2 315.7L502.3 317.1L502.4 318.6L502.5 320.0L502.6 321.4L502.7 322.9L502.9 324.3L503.0 325.8L502.7 327.2L501.8 328.6L504.5 328.6L509.9 328.6L515.2 328.6L520.5 328.6L525.9 328.6L531.2 328.6L536.5 328.6L541.9 328.6L547.2 328.6L552.5 328.6L557.9 328.6L563.2 328.6L568.5 328.6L573.9 328.6L579.2 328.6L584.5 328.6L589.9 328.6L595.2 328.6L600.1 328.6L595.2 327.9L590.0 327.2L589.9 327.2L584.5 326.4L580.0 325.8L579.2 325.6L577.0 324.3L575.4 322.9L573.9 321.6L572.7 321.4L568.5 320.5L563.2 320.4L562.6 320.0L560.3 318.6L558.0 317.1L557.9 317.1L555.7 315.7L553.5 314.3L552.5 313.7L550.6 312.8L548.4 311.4L547.2 310.4L545.1 309.9L541.9 309.1L540.3 308.5L536.6 307.1L536.5 307.1L533.8 305.6L531.2 304.3L531.0 304.2L528.1 302.8L525.9 301.6L525.3 301.3L524.3 299.9L524.5 298.4L524.7 297.0L524.9 295.6L525.2 294.1L525.4 292.7L525.6 291.3L525.8 289.8L525.9 289.4L526.1 288.4L526.6 286.9L527.7 285.5L531.1 284.1L531.2 284.0L534.6 282.6L536.5 281.8L537.0 281.2L538.0 279.8L539.0 278.3L540.0 276.9L541.0 275.4L541.9 274.2L542.0 274.0L542.5 272.6L543.3 271.1L544.4 269.7L546.3 268.3L547.2 267.8L552.5 267.8L557.9 267.8L563.2 267.2L563.6 266.8L566.3 265.4L568.5 264.9L570.0 265.4L573.8 266.8L573.9 266.8L577.5 268.3L579.2 268.9L581.0 269.7L584.2 271.1L584.5 271.3L589.9 271.8L595.2 271.3L596.7 271.1L600.5 270.8L605.9 270.2L608.0 271.1L611.2 272.4L612.3 272.6L616.5 273.3L621.9 273.2L623.7 274.0L627.0 275.4L627.2 275.5L628.4 276.9L629.7 278.3L630.9 279.8L632.2 281.2L632.5 281.6L633.4 282.6L634.7 284.1L636.0 285.5L637.2 286.9L637.9 287.7L638.5 288.4L639.7 289.8L641.0 291.3L642.3 292.7L643.2 293.8L643.5 294.1L644.8 295.6L646.0 297.0L647.3 298.4L648.5 299.8L648.6 299.9L649.6 301.3L650.1 302.8L650.7 304.2L651.3 305.6L651.9 307.1L652.5 308.5L653.1 309.9L653.7 311.4L653.9 311.8L653.9 311.4L653.9 309.9L653.9 308.5L653.9 307.1L653.9 305.6L653.9 304.2L653.9 302.8L653.9 301.3L653.9 299.9L653.9 298.4L653.9 297.0L653.9 295.6L653.9 294.1L653.9 292.7L653.9 291.3L653.9 289.8L653.9 288.4L653.9 286.9L653.9 285.5L653.9 284.1L653.9 282.6L653.9 281.2L653.9 279.8L653.9 278.3L653.9 276.9L653.9 275.4L653.9 274.0L653.9 272.6L653.9 271.1L653.9 269.7L653.9 268.3L653.9 266.8L653.9 265.4L653.9 263.9L653.9 262.5L653.9 261.1L648.5 261.1L643.2 261.1L637.9 261.1L632.5 261.1L627.2 261.1L621.9 261.1L616.5 261.1L611.2 261.1L605.9 261.1L600.5 261.1L595.2 261.1L589.9 261.1L584.5 261.1L579.2 261.1L573.9 261.1L568.5 261.1L563.2 261.1L557.9 261.1L552.5 261.1L547.2 261.1L541.9 261.1L536.5 261.1L531.2 261.1L525.9 261.1L520.5 261.1L515.2 261.1L509.9 261.1L504.5 261.1L499.2 261.1L493.9 261.1L488.5 261.1L483.2 261.1L477.9 261.1L472.6 261.1L467.2 261.1L461.9 261.1L456.6 261.1L451.2 261.1L445.9 261.1L440.6 261.1L435.2 261.1L429.9 261.1L424.6 261.1L419.2 261.1L413.9 261.1L408.6 261.1L403.2 261.1L403.2 262.5L403.2 263.9L403.2 265.4L403.2 266.8L403.2 268.3L403.2 269.7L403.2 271.1L403.2 272.6L403.2 274.0L403.2 275.4L403.2 276.9L403.2 278.3L403.2 279.8L403.2 281.2L403.2 282.6L403.2 284.1L403.2 285.5L403.2 286.9L403.2 288.4L403.2 289.8L403.2 291.3L403.2 292.7L403.2 294.1L403.2 295.6L403.2 297.0L403.2 298.4L403.2 299.9L403.2 301.3L403.2 302.8L403.2 304.2L403.2 305.6L403.2 307.1L403.2 308.5L403.2 309.9L403.2 311.4L403.2 312.8L403.2 314.3L403.2 315.7L403.2 317.1L403.2 318.6L403.2 320.0L403.2 321.4L403.2 322.9L403.2 324.3L403.2 325.8L403.2 327.2Z"/>
<path fill="#474ded" stroke="#474ded" stroke-width="0.3" fill-rule="evenodd" d="M439.9 327.2L440.6 327.8L441.4 328.6L445.9 328.6L451.2 328.6L456.6 328.6L461.9 328.6L467.2 328.6L472.6 328.6L473.9 328.6L473.0 327.2L472.7 325.8L472.6 325.5L469.9 324.3L468.4 322.9L467.8 321.4L467.6 320.0L467.4 318.6L467.2 318.3L464.6 317.1L463.1 315.7L462.6 314.3L462.3 312.8L462.1 311.4L461.9 311.0L459.3 309.9L457.9 308.5L457.3 307.1L457.0 305.6L456.9 304.2L456.6 303.8L453.7 302.8L452.4 301.3L452.4 299.9L452.7 298.4L453.1 297.0L453.5 295.6L453.9 294.1L454.4 292.7L454.8 291.3L455.3 289.8L455.7 288.4L456.2 286.9L456.6 285.7L456.6 285.5L456.8 284.1L457.0 282.6L457.2 281.2L457.4 279.8L457.6 278.3L457.9 276.9L458.1 275.4L458.3 274.0L458.9 272.6L459.7 271.1L460.9 269.7L461.9 268.9L467.2 268.9L472.6 268.9L474.3 269.7L477.5 271.1L477.9 271.3L478.7 272.6L479.6 274.0L480.6 275.4L481.5 276.9L482.5 278.3L483.2 279.4L483.4 279.8L484.4 281.2L485.3 282.6L486.3 284.1L487.2 285.5L488.1 286.9L488.5 287.6L489.1 288.4L490.0 289.8L491.0 291.3L491.9 292.7L492.9 294.1L493.8 295.6L493.9 295.7L494.7 297.0L495.7 298.4L496.6 299.9L497.2 301.3L497.3 302.8L497.4 304.2L497.5 305.6L497.5 307.1L497.6 308.5L497.7 309.9L497.8 311.4L497.8 312.8L497.9 314.3L498.0 315.7L498.1 317.1L498.2 318.6L498.2 320.0L498.1 321.4L497.9 322.9L497.5 324.3L496.2 325.8L493.9 326.5L490.3 327.2L488.5 327.5L483.3 328.6L488.5 328.6L493.9 328.6L499.2 328.6L501.8 328.6L502.7 327.2L503.0 325.8L502.9 324.3L502.7 322.9L502.6 321.4L502.5 320.0L502.4 318.6L502.3 317.1L502.2 315.7L502.0 314.3L501.9 312.8L501.8 311.4L501.7 309.9L501.6 308.5L501.5 307.1L501.3 305.6L501.2 304.2L501.1 302.8L501.1 301.3L500.5 299.9L499.2 298.9L498.9 298.4L498.0 297.0L497.0 295.6L496.5 294.1L495.7 292.7L494.5 291.3L493.9 290.8L493.2 289.8L492.3 288.4L491.4 286.9L490.8 285.5L490.0 284.1L488.5 282.7L488.5 282.6L487.6 281.2L486.6 279.8L485.8 278.3L485.2 276.9L484.2 275.4L483.2 274.6L482.9 274.0L481.9 272.6L481.0 271.1L480.2 269.7L479.5 268.3L478.3 266.8L477.9 266.4L475.6 265.4L472.6 264.0L467.2 264.0L461.9 264.0L456.6 264.2L455.8 265.4L455.3 266.8L454.9 268.3L454.4 269.7L454.0 271.1L453.6 272.6L453.1 274.0L452.7 275.4L452.2 276.9L451.8 278.3L451.3 279.8L451.2 280.1L445.9 280.1L440.6 280.0L436.5 281.2L435.2 281.8L433.6 282.6L430.9 284.1L429.9 284.6L428.1 285.5L425.4 286.9L424.6 287.4L419.2 288.0L418.4 288.4L416.6 289.8L415.6 291.3L415.0 292.7L414.6 294.1L414.3 295.6L414.0 297.0L413.9 297.8L413.8 298.4L413.5 299.9L413.9 301.3L413.9 301.3L415.1 302.8L416.4 304.2L417.7 305.6L418.9 307.1L419.2 307.4L420.2 308.5L421.5 309.9L422.8 311.4L424.1 312.8L424.6 313.3L425.6 314.3L427.2 315.7L428.8 317.1L429.9 318.1L430.4 318.6L431.9 320.0L433.5 321.4L435.1 322.9L435.2 323.0L436.7 324.3L438.3 325.8ZM590.0 327.2L595.2 327.9L600.1 328.6L600.5 328.6L605.9 328.6L611.2 328.6L616.5 328.6L621.9 328.6L627.2 328.6L632.5 328.6L637.9 328.6L643.2 328.6L648.5 328.6L653.9 328.6L653.9 327.2L653.9 325.8L653.9 324.3L653.9 322.9L653.9 321.4L653.9 320.0L653.9 318.6L653.9 317.1L653.9 315.7L653.9 314.3L653.9 312.8L653.9 311.8L653.7 311.4L653.1 309.9L652.5 308.5L651.9 307.1L651.3 305.6L650.7 304.2L650.1 302.8L649.6 301.3L648.6 299.9L648.5 299.8L647.3 298.4L646.0 297.0L644.8 295.6L643.5 294.1L643.2 293.8L642.3 292.7L641.0 291.3L639.7 289.8L638.5 288.4L637.9 287.7L637.2 286.9L636.0 285.5L634.7 284.1L633.4 282.6L632.5 281.6L632.2 281.2L630.9 279.8L629.7 278.3L628.4 276.9L627.2 275.5L627.0 275.4L623.7 274.0L621.9 273.2L616.5 273.3L612.3 272.6L611.2 272.4L608.0 271.1L605.9 270.2L600.5 270.8L596.7 271.1L595.2 271.3L589.9 271.8L584.5 271.3L584.2 271.1L581.0 269.7L579.2 268.9L577.5 268.3L573.9 266.8L573.8 266.8L570.0 265.4L568.5 264.9L566.3 265.4L563.6 266.8L563.2 267.2L557.9 267.8L552.5 267.8L547.2 267.8L546.3 268.3L544.4 269.7L543.3 271.1L542.5 272.6L542.0 274.0L541.9 274.2L541.0 275.4L540.0 276.9L539.0 278.3L538.0 279.8L537.0 281.2L536.5 281.8L534.6 282.6L531.2 284.0L531.1 284.1L527.7 285.5L526.6 286.9L526.1 288.4L525.9 289.4L525.8 289.8L525.6 291.3L525.4 292.7L525.2 294.1L524.9 295.6L524.7 297.0L524.5 298.4L524.3 299.9L525.3 301.3L525.9 301.6L528.1 302.8L531.0 304.2L531.2 304.3L533.8 305.6L536.5 307.1L536.6 307.1L540.3 308.5L541.9 309.1L545.1 309.9L547.2 310.4L548.4 311.4L550.6 312.8L552.5 313.7L553.5 314.3L555.7 315.7L557.9 317.1L558.0 317.1L560.3 318.6L562.6 320.0L563.2 320.4L568.5 320.5L572.7 321.4L573.9 321.6L575.4 322.9L577.0 324.3L579.2 325.6L580.0 325.8L584.5 326.4L589.9 327.2ZM595.2 323.3L592.5 322.9L589.9 322.5L584.5 321.7L582.4 321.4L579.2 321.0L577.9 320.0L576.0 318.6L574.2 317.1L573.9 316.9L572.0 315.7L570.5 314.3L569.4 312.8L568.5 311.5L566.8 311.4L563.2 311.0L561.5 309.9L559.2 308.5L557.9 307.7L556.9 307.1L554.6 305.6L552.5 304.3L552.3 304.2L550.1 302.8L547.8 301.3L547.2 299.9L547.2 299.9L547.2 299.9L547.7 298.4L548.2 297.0L548.8 295.6L549.3 294.1L549.8 292.7L550.3 291.3L550.9 289.8L551.4 288.4L551.9 286.9L552.4 285.5L552.5 285.2L554.8 284.1L557.9 283.5L563.2 282.9L563.3 282.6L563.7 281.2L564.1 279.8L564.5 278.3L564.9 276.9L565.4 275.4L566.1 274.0L567.0 272.6L568.4 271.1L568.5 271.0L568.9 271.1L572.8 272.6L573.9 273.0L576.5 274.0L579.2 275.0L580.1 275.4L583.4 276.9L584.5 277.4L586.6 278.3L589.9 279.8L589.9 279.8L595.2 280.8L600.5 280.3L605.9 279.8L609.3 281.2L611.2 282.0L612.4 282.6L615.2 284.1L616.5 284.8L620.9 285.5L621.9 285.7L624.7 286.9L627.2 288.0L627.5 288.4L628.8 289.8L630.0 291.3L631.3 292.7L632.5 294.1L632.5 294.1L633.8 295.6L635.1 297.0L636.3 298.4L637.6 299.9L637.9 300.3L638.6 301.3L639.2 302.8L639.7 304.2L640.3 305.6L640.9 307.1L641.5 308.5L642.1 309.9L642.7 311.4L643.2 312.6L643.3 312.8L643.9 314.3L644.5 315.7L644.3 317.1L643.2 318.4L637.9 318.5L636.6 318.6L632.5 318.7L627.2 318.8L624.9 320.0L622.1 321.4L621.9 321.6L616.5 322.0L613.4 321.4L611.2 321.0L605.9 320.9L605.0 321.4L602.8 322.9L600.5 323.9Z"/>
<path fill="#377afa" stroke="#377afa" stroke-width="0.3" fill-rule="evenodd" d="M473.9 328.6L477.9 328.6L483.2 328.6L483.3 328.6L488.5 327.5L490.3 327.2L493.9 326.5L496.2 325.8L497.5 324.3L497.9 322.9L498.1 321.4L498.2 320.0L498.2 318.6L498.1 317.1L498.0 315.7L497.9 314.3L497.8 312.8L497.8 311.4L497.7 309.9L497.6 308.5L497.5 307.1L497.5 305.6L497.4 304.2L497.3 302.8L497.2 301.3L496.6 299.9L495.7 298.4L494.7 297.0L493.9 295.7L493.8 295.6L492.9 294.1L491.9 292.7L491.0 291.3L490.0 289.8L489.1 288.4L488.5 287.6L488.1 286.9L487.2 285.5L486.3 284.1L485.3 282.6L484.4 281.2L483.4 279.8L483.2 279.4L482.5 278.3L481.5 276.9L480.6 275.4L479.6 274.0L478.7 272.6L477.9 271.3L477.5 271.1L474.3 269.7L472.6 268.9L467.2 268.9L461.9 268.9L460.9 269.7L459.7 271.1L458.9 272.6L458.3 274.0L458.1 275.4L457.9 276.9L457.6 278.3L457.4 279.8L457.2 281.2L457.0 282.6L456.8 284.1L456.6 285.5L456.6 285.7L456.2 286.9L455.7 288.4L455.3 289.8L454.8 291.3L454.4 292.7L453.9 294.1L453.5 295.6L453.1 297.0L452.7 298.4L452.4 299.9L452.4 301.3L453.7 302.8L456.6 303.8L456.9 304.2L457.0 305.6L457.3 307.1L457.9 308.5L459.3 309.9L461.9 311.0L462.1 311.4L462.3 312.8L462.6 314.3L463.1 315.7L464.6 317.1L467.2 318.3L467.4 318.6L467.6 320.0L467.8 321.4L468.4 322.9L469.9 324.3L472.6 325.5L472.7 325.8L473.0 327.2ZM477.9 325.2L476.8 324.3L475.2 322.9L473.6 321.4L472.6 320.5L472.0 320.0L471.0 318.6L470.0 317.1L468.9 315.7L467.8 314.3L467.2 313.4L466.6 312.8L465.6 311.4L464.6 309.9L463.5 308.5L462.5 307.1L461.9 306.3L461.3 305.6L460.3 304.2L459.2 302.8L458.2 301.3L457.8 299.9L458.0 298.4L458.3 297.0L458.5 295.6L458.7 294.1L458.9 292.7L459.1 291.3L459.3 289.8L459.5 288.4L459.7 286.9L460.0 285.5L460.2 284.1L460.4 282.6L460.6 281.2L460.8 279.8L461.0 278.3L461.2 276.9L461.5 275.4L461.8 274.0L461.9 273.8L467.2 273.8L472.6 273.8L473.0 274.0L476.2 275.4L477.9 276.2L478.3 276.9L479.3 278.3L480.2 279.8L481.2 281.2L482.1 282.6L483.0 284.1L483.2 284.3L484.0 285.5L484.9 286.9L485.9 288.4L486.8 289.8L487.8 291.3L488.5 292.5L488.7 292.7L489.6 294.1L490.6 295.6L491.5 297.0L492.5 298.4L493.4 299.9L493.9 301.0L494.0 301.3L494.1 302.8L494.2 304.2L494.2 305.6L494.3 307.1L494.4 308.5L494.5 309.9L494.6 311.4L494.6 312.8L494.7 314.3L494.8 315.7L494.9 317.1L494.9 318.6L495.0 320.0L494.3 321.4L493.9 321.9L489.3 322.9L488.5 323.0L483.2 324.1L482.3 324.3ZM592.5 322.9L595.2 323.3L600.5 323.9L602.8 322.9L605.0 321.4L605.9 320.9L611.2 321.0L613.4 321.4L616.5 322.0L621.9 321.6L622.1 321.4L624.9 320.0L627.2 318.8L632.5 318.7L636.6 318.6L637.9 318.5L643.2 318.4L644.3 317.1L644.5 315.7L643.9 314.3L643.3 312.8L643.2 312.6L642.7 311.4L642.1 309.9L641.5 308.5L640.9 307.1L640.3 305.6L639.7 304.2L639.2 302.8L638.6 301.3L637.9 300.3L637.6 299.9L636.3 298.4L635.1 297.0L633.8 295.6L632.5 294.1L632.5 294.1L631.3 292.7L630.0 291.3L628.8 289.8L627.5 288.4L627.2 288.0L624.7 286.9L621.9 285.7L620.9 285.5L616.5 284.8L615.2 284.1L612.4 282.6L611.2 282.0L609.3 281.2L605.9 279.8L600.5 280.3L595.2 280.8L589.9 279.8L589.9 279.8L586.6 278.3L584.5 277.4L583.4 276.9L580.1 275.4L579.2 275.0L576.5 274.0L573.9 273.0L572.8 272.6L568.9 271.1L568.5 271.0L568.4 271.1L567.0 272.6L566.1 274.0L565.4 275.4L564.9 276.9L564.5 278.3L564.1 279.8L563.7 281.2L563.3 282.6L563.2 282.9L557.9 283.5L554.8 284.1L552.5 285.2L552.4 285.5L551.9 286.9L551.4 288.4L550.9 289.8L550.3 291.3L549.8 292.7L549.3 294.1L548.8 295.6L548.2 297.0L547.7 298.4L547.2 299.9L547.2 299.9L547.2 299.9L547.8 301.3L550.1 302.8L552.3 304.2L552.5 304.3L554.6 305.6L556.9 307.1L557.9 307.7L559.2 308.5L561.5 309.9L563.2 311.0L566.8 311.4L568.5 311.5L569.4 312.8L570.5 314.3L572.0 315.7L573.9 316.9L574.2 317.1L576.0 318.6L577.9 320.0L579.2 321.0L582.4 321.4L584.5 321.7L589.9 322.5ZM595.2 318.6L594.9 318.6L589.9 317.8L584.9 317.1L584.5 317.1L579.2 316.3L578.4 315.7L576.5 314.3L574.6 312.8L573.9 312.3L573.0 311.4L571.6 309.9L570.2 308.5L568.8 307.1L568.5 306.8L566.5 305.6L564.9 304.2L563.8 302.8L563.2 301.7L562.7 301.3L561.9 299.9L563.2 298.5L563.2 298.4L563.7 297.0L564.1 295.6L564.5 294.1L564.9 292.7L565.3 291.3L565.7 289.8L566.2 288.4L566.6 286.9L567.0 285.5L567.4 284.1L567.8 282.6L568.3 281.2L568.5 280.2L569.7 279.8L573.9 279.1L575.6 279.8L579.2 281.2L579.2 281.2L582.5 282.6L584.5 283.5L585.8 284.1L589.0 285.5L589.9 285.9L592.3 286.9L595.2 288.2L595.9 288.4L600.4 289.8L600.5 289.9L601.1 289.8L605.9 289.3L607.0 289.8L610.5 291.3L611.2 291.5L613.4 292.7L616.2 294.1L616.5 294.3L618.9 295.6L621.7 297.0L621.9 297.1L624.3 298.4L626.4 299.9L627.2 300.8L627.6 301.3L627.9 302.8L627.2 303.7L626.2 304.2L623.4 305.6L621.9 306.4L621.1 307.1L619.4 308.5L617.6 309.9L616.5 310.8L615.0 311.4L611.2 312.2L605.9 312.0L604.6 312.8L602.3 314.3L600.5 315.4L600.1 315.7L597.8 317.1L595.4 318.6Z"/>
<path fill="#1da2e4" stroke="#1da2e4" stroke-width="0.3" fill-rule="evenodd" d="M476.8 324.3L477.9 325.2L482.3 324.3L483.2 324.1L488.5 323.0L489.3 322.9L493.9 321.9L494.3 321.4L495.0 320.0L494.9 318.6L494.9 317.1L494.8 315.7L494.7 314.3L494.6 312.8L494.6 311.4L494.5 309.9L494.4 308.5L494.3 307.1L494.2 305.6L494.2 304.2L494.1 302.8L494.0 301.3L493.9 301.0L493.4 299.9L492.5 298.4L491.5 297.0L490.6 295.6L489.6 294.1L488.7 292.7L488.5 292.5L487.8 291.3L486.8 289.8L485.9 288.4L484.9 286.9L484.0 285.5L483.2 284.3L483.0 284.1L482.1 282.6L481.2 281.2L480.2 279.8L479.3 278.3L478.3 276.9L477.9 276.2L476.2 275.4L473.0 274.0L472.6 273.8L467.2 273.8L461.9 273.8L461.8 274.0L461.5 275.4L461.2 276.9L461.0 278.3L460.8 279.8L460.6 281.2L460.4 282.6L460.2 284.1L460.0 285.5L459.7 286.9L459.5 288.4L459.3 289.8L459.1 291.3L458.9 292.7L458.7 294.1L458.5 295.6L458.3 297.0L458.0 298.4L457.8 299.9L458.2 301.3L459.2 302.8L460.3 304.2L461.3 305.6L461.9 306.3L462.5 307.1L463.5 308.5L464.6 309.9L465.6 311.4L466.6 312.8L467.2 313.4L467.8 314.3L468.9 315.7L470.0 317.1L471.0 318.6L472.0 320.0L472.6 320.5L473.6 321.4L475.2 322.9ZM477.9 320.7L477.1 320.0L475.4 318.6L473.8 317.1L472.6 316.0L472.3 315.7L471.2 314.3L470.2 312.8L469.1 311.4L468.0 309.9L467.2 308.9L466.9 308.5L465.8 307.1L464.8 305.6L463.7 304.2L462.6 302.8L461.9 301.8L461.5 301.3L461.2 299.9L461.4 298.4L461.6 297.0L461.9 295.6L461.9 295.4L462.1 294.1L462.3 292.7L462.5 291.3L462.7 289.8L462.9 288.4L463.1 286.9L463.3 285.5L463.6 284.1L464.1 282.6L464.8 281.2L465.9 279.8L467.2 278.7L472.6 278.7L474.9 279.8L477.9 281.1L477.9 281.2L478.9 282.6L479.8 284.1L480.8 285.5L481.7 286.9L482.7 288.4L483.2 289.2L483.6 289.8L484.5 291.3L485.5 292.7L486.4 294.1L487.4 295.6L488.3 297.0L488.5 297.3L489.3 298.4L490.2 299.9L490.8 301.3L490.9 302.8L491.0 304.2L491.0 305.6L491.1 307.1L491.2 308.5L491.3 309.9L491.3 311.4L491.4 312.8L491.5 314.3L491.0 315.7L490.2 317.1L488.5 318.5L488.3 318.6L483.2 319.6L481.3 320.0ZM594.9 318.6L595.2 318.6L595.4 318.6L597.8 317.1L600.1 315.7L600.5 315.4L602.3 314.3L604.6 312.8L605.9 312.0L611.2 312.2L615.0 311.4L616.5 310.8L617.6 309.9L619.4 308.5L621.1 307.1L621.9 306.4L623.4 305.6L626.2 304.2L627.2 303.7L627.9 302.8L627.6 301.3L627.2 300.8L626.4 299.9L624.3 298.4L621.9 297.1L621.7 297.0L618.9 295.6L616.5 294.3L616.2 294.1L613.4 292.7L611.2 291.5L610.5 291.3L607.0 289.8L605.9 289.3L601.1 289.8L600.5 289.9L600.4 289.8L595.9 288.4L595.2 288.2L592.3 286.9L589.9 285.9L589.0 285.5L585.8 284.1L584.5 283.5L582.5 282.6L579.2 281.2L579.2 281.2L575.6 279.8L573.9 279.1L569.7 279.8L568.5 280.2L568.3 281.2L567.8 282.6L567.4 284.1L567.0 285.5L566.6 286.9L566.2 288.4L565.7 289.8L565.3 291.3L564.9 292.7L564.5 294.1L564.1 295.6L563.7 297.0L563.2 298.4L563.2 298.5L561.9 299.9L562.7 301.3L563.2 301.7L563.8 302.8L564.9 304.2L566.5 305.6L568.5 306.8L568.8 307.1L570.2 308.5L571.6 309.9L573.0 311.4L573.9 312.3L574.6 312.8L576.5 314.3L578.4 315.7L579.2 316.3L584.5 317.1L584.9 317.1L589.9 317.8ZM589.9 313.1L587.7 312.8L584.5 312.4L579.2 311.7L578.8 311.4L576.9 309.9L575.1 308.5L573.9 307.6L573.4 307.1L571.9 305.6L570.5 304.2L569.1 302.8L568.5 302.2L567.7 301.3L567.4 299.9L567.8 298.4L568.2 297.0L568.5 295.9L568.6 295.6L569.1 294.1L569.5 292.7L569.9 291.3L570.4 289.8L571.1 288.4L572.1 286.9L573.5 285.5L573.9 285.2L574.6 285.5L578.3 286.9L579.2 287.3L581.6 288.4L584.5 289.7L584.9 289.8L588.1 291.3L589.9 292.0L591.4 292.7L594.7 294.1L595.2 294.4L597.9 295.6L600.5 296.7L601.5 297.0L605.1 298.4L605.9 298.8L608.6 299.9L609.7 301.3L606.9 302.8L605.9 303.1L604.2 304.2L601.9 305.6L600.5 306.5L599.7 307.1L597.4 308.5L595.2 309.9L595.2 309.9L592.9 311.4L590.7 312.8Z"/>
<path fill="#1abeb9" stroke="#1abeb9" stroke-width="0.3" fill-rule="evenodd" d="M477.1 320.0L477.9 320.7L481.3 320.0L483.2 319.6L488.3 318.6L488.5 318.5L490.2 317.1L491.0 315.7L491.5 314.3L491.4 312.8L491.3 311.4L491.3 309.9L491.2 308.5L491.1 307.1L491.0 305.6L491.0 304.2L490.9 302.8L490.8 301.3L490.2 299.9L489.3 298.4L488.5 297.3L488.3 297.0L487.4 295.6L486.4 294.1L485.5 292.7L484.5 291.3L483.6 289.8L483.2 289.2L482.7 288.4L481.7 286.9L480.8 285.5L479.8 284.1L478.9 282.6L477.9 281.2L477.9 281.1L474.9 279.8L472.6 278.7L467.2 278.7L465.9 279.8L464.8 281.2L464.1 282.6L463.6 284.1L463.3 285.5L463.1 286.9L462.9 288.4L462.7 289.8L462.5 291.3L462.3 292.7L462.1 294.1L461.9 295.4L461.9 295.6L461.6 297.0L461.4 298.4L461.2 299.9L461.5 301.3L461.9 301.8L462.6 302.8L463.7 304.2L464.8 305.6L465.8 307.1L466.9 308.5L467.2 308.9L468.0 309.9L469.1 311.4L470.2 312.8L471.2 314.3L472.3 315.7L472.6 316.0L473.8 317.1L475.4 318.6ZM477.9 316.2L477.3 315.7L475.7 314.3L474.0 312.8L472.6 311.5L472.5 311.4L471.4 309.9L470.3 308.5L469.2 307.1L468.2 305.6L467.2 304.4L467.1 304.2L466.0 302.8L464.9 301.3L464.6 299.9L464.8 298.4L465.0 297.0L465.2 295.6L465.4 294.1L465.7 292.7L465.9 291.3L466.1 289.8L466.3 288.4L466.5 286.9L466.7 285.5L466.9 284.1L467.2 283.6L472.6 283.6L473.6 284.1L476.8 285.5L477.9 286.0L478.5 286.9L479.5 288.4L480.4 289.8L481.3 291.3L482.3 292.7L483.2 294.1L483.2 294.1L484.2 295.6L485.1 297.0L486.1 298.4L487.0 299.9L487.6 301.3L487.7 302.8L487.7 304.2L487.8 305.6L487.9 307.1L488.0 308.5L487.9 309.9L487.8 311.4L487.6 312.8L487.0 314.3L483.2 315.1L480.3 315.7ZM587.7 312.8L589.9 313.1L590.7 312.8L592.9 311.4L595.2 309.9L595.2 309.9L597.4 308.5L599.7 307.1L600.5 306.5L601.9 305.6L604.2 304.2L605.9 303.1L606.9 302.8L609.7 301.3L608.6 299.9L605.9 298.8L605.1 298.4L601.5 297.0L600.5 296.7L597.9 295.6L595.2 294.4L594.7 294.1L591.4 292.7L589.9 292.0L588.1 291.3L584.9 289.8L584.5 289.7L581.6 288.4L579.2 287.3L578.3 286.9L574.6 285.5L573.9 285.2L573.5 285.5L572.1 286.9L571.1 288.4L570.4 289.8L569.9 291.3L569.5 292.7L569.1 294.1L568.6 295.6L568.5 295.9L568.2 297.0L567.8 298.4L567.4 299.9L567.7 301.3L568.5 302.2L569.1 302.8L570.5 304.2L571.9 305.6L573.4 307.1L573.9 307.6L575.1 308.5L576.9 309.9L578.8 311.4L579.2 311.7L584.5 312.4ZM584.5 307.6L579.9 307.1L579.2 307.0L577.4 305.6L575.5 304.2L573.9 302.9L573.7 302.8L572.3 301.3L571.9 299.9L572.4 298.4L572.8 297.0L573.2 295.6L573.6 294.1L573.9 293.2L579.2 293.4L580.8 294.1L584.0 295.6L584.5 295.8L587.3 297.0L589.9 298.1L590.5 298.4L593.8 299.9L594.8 301.3L592.5 302.8L590.3 304.2L589.9 304.4L588.0 305.6L585.8 307.1Z"/>
<path fill="#62ca72" stroke="#62ca72" stroke-width="0.3" fill-rule="evenodd" d="M477.3 315.7L477.9 316.2L480.3 315.7L483.2 315.1L487.0 314.3L487.6 312.8L487.8 311.4L487.9 309.9L488.0 308.5L487.9 307.1L487.8 305.6L487.7 304.2L487.7 302.8L487.6 301.3L487.0 299.9L486.1 298.4L485.1 297.0L484.2 295.6L483.2 294.1L483.2 294.1L482.3 292.7L481.3 291.3L480.4 289.8L479.5 288.4L478.5 286.9L477.9 286.0L476.8 285.5L473.6 284.1L472.6 283.6L467.2 283.6L466.9 284.1L466.7 285.5L466.5 286.9L466.3 288.4L466.1 289.8L465.9 291.3L465.7 292.7L465.4 294.1L465.2 295.6L465.0 297.0L464.8 298.4L464.6 299.9L464.9 301.3L466.0 302.8L467.1 304.2L467.2 304.4L468.2 305.6L469.2 307.1L470.3 308.5L471.4 309.9L472.5 311.4L472.6 311.5L474.0 312.8L475.7 314.3ZM477.9 311.7L477.5 311.4L475.9 309.9L474.3 308.5L472.6 307.1L472.6 307.0L471.5 305.6L470.5 304.2L469.4 302.8L468.3 301.3L468.0 299.9L468.2 298.4L468.4 297.0L468.6 295.6L468.8 294.1L469.3 292.7L470.0 291.3L471.0 289.8L472.6 288.5L475.5 289.8L477.9 290.9L478.1 291.3L479.1 292.7L480.0 294.1L481.0 295.6L481.9 297.0L482.8 298.4L483.2 299.0L483.8 299.9L484.4 301.3L484.5 302.8L484.5 304.2L484.6 305.6L484.7 307.1L484.7 308.5L483.8 309.9L483.2 310.6L479.4 311.4ZM579.9 307.1L584.5 307.6L585.8 307.1L588.0 305.6L589.9 304.4L590.3 304.2L592.5 302.8L594.8 301.3L593.8 299.9L590.5 298.4L589.9 298.1L587.3 297.0L584.5 295.8L584.0 295.6L580.8 294.1L579.2 293.4L573.9 293.2L573.6 294.1L573.2 295.6L572.8 297.0L572.4 298.4L571.9 299.9L572.3 301.3L573.7 302.8L573.9 302.9L575.5 304.2L577.4 305.6L579.2 307.0ZM579.2 302.1L578.4 301.3L578.8 299.9L579.2 299.6L579.9 299.9L580.9 301.3Z"/>
<path fill="#d2bf31" stroke="#d2bf31" stroke-width="0.3" fill-rule="evenodd" d="M477.5 311.4L477.9 311.7L479.4 311.4L483.2 310.6L483.8 309.9L484.7 308.5L484.7 307.1L484.6 305.6L484.5 304.2L484.5 302.8L484.4 301.3L483.8 299.9L483.2 299.0L482.8 298.4L481.9 297.0L481.0 295.6L480.0 294.1L479.1 292.7L478.1 291.3L477.9 290.9L475.5 289.8L472.6 288.5L471.0 289.8L470.0 291.3L469.3 292.7L468.8 294.1L468.6 295.6L468.4 297.0L468.2 298.4L468.0 299.9L468.3 301.3L469.4 302.8L470.5 304.2L471.5 305.6L472.6 307.0L472.6 307.1L474.3 308.5L475.9 309.9ZM477.9 307.2L477.8 307.1L476.1 305.6L474.5 304.2L472.9 302.8L472.6 302.5L471.7 301.3L471.4 299.9L471.6 298.4L471.8 297.0L472.0 295.6L472.2 294.1L472.6 293.5L473.8 294.1L476.8 295.6L477.9 295.8L478.7 297.0L479.6 298.4L480.6 299.9L481.2 301.3L481.2 302.8L480.7 304.2L479.9 305.6L478.1 307.1ZM578.4 301.3L579.2 302.1L580.9 301.3L579.9 299.9L579.2 299.6L578.8 299.9Z"/>
<path fill="#fdca34" stroke="#fdca34" stroke-width="0.3" fill-rule="evenodd" d="M477.8 307.1L477.9 307.2L478.1 307.1L479.9 305.6L480.7 304.2L481.2 302.8L481.2 301.3L480.6 299.9L479.6 298.4L478.7 297.0L477.9 295.8L476.8 295.6L473.8 294.1L472.6 293.5L472.2 294.1L472.0 295.6L471.8 297.0L471.6 298.4L471.4 299.9L471.7 301.3L472.6 302.5L472.9 302.8L474.5 304.2L476.1 305.6ZM477.9 302.0L477.7 301.3L477.9 301.2L477.9 301.3Z"/>
<path fill="#f9fb15" stroke="#f9fb15" stroke-width="0.3" fill-rule="evenodd" d="M477.7 301.3L477.9 302.0L477.9 301.3L477.9 301.2Z"/>
<path fill="none" stroke="#1a1a1a" stroke-opacity="0.6" stroke-width="0.35" stroke-linejoin="round" d="M501.8 328.6L502.7 327.2L503.0 325.8L502.9 324.3L502.7 322.9L502.6 321.4L502.5 320.0L502.4 318.6L502.3 317.1L502.2 315.7L502.0 314.3L501.9 312.8L501.8 311.4L501.7 309.9L501.6 308.5L501.5 307.1L501.3 305.6L501.2 304.2L501.1 302.8L501.1 301.3L500.5 299.9L499.2 298.9L498.9 298.4L498.0 297.0L497.0 295.6L496.5 294.1L495.7 292.7L494.5 291.3L493.9 290.8L493.2 289.8L492.3 288.4L491.4 286.9L490.8 285.5L490.0 284.1L488.5 282.7L488.5 282.6L487.6 281.2L486.6 279.8L485.8 278.3L485.2 276.9L484.2 275.4L483.2 274.6L482.9 274.0L481.9 272.6L481.0 271.1L480.2 269.7L479.5 268.3L478.3 266.8L477.9 266.4L475.6 265.4L472.6 264.0L467.2 264.0L461.9 264.0L456.6 264.2L455.8 265.4L455.3 266.8L454.9 268.3L454.4 269.7L454.0 271.1L453.6 272.6L453.1 274.0L452.7 275.4L452.2 276.9L451.8 278.3L451.3 279.8L451.2 280.1L445.9 280.1L440.6 280.0L436.5 281.2L435.2 281.8L433.6 282.6L430.9 284.1L429.9 284.6L428.1 285.5L425.4 286.9L424.6 287.4L419.2 288.0L418.4 288.4L416.6 289.8L415.6 291.3L415.0 292.7L414.6 294.1L414.3 295.6L414.0 297.0L413.9 297.8L413.8 298.4L413.5 299.9L413.9 301.3L413.9 301.3L415.1 302.8L416.4 304.2L417.7 305.6L418.9 307.1L419.2 307.4L420.2 308.5L421.5 309.9L422.8 311.4L424.1 312.8L424.6 313.3L425.6 314.3L427.2 315.7L428.8 317.1L429.9 318.1L430.4 318.6L431.9 320.0L433.5 321.4L435.1 322.9L435.2 323.0L436.7 324.3L438.3 325.8L439.9 327.2L440.6 327.8L441.4 328.6M653.9 311.8L653.7 311.4L653.1 309.9L652.5 308.5L651.9 307.1L651.3 305.6L650.7 304.2L650.1 302.8L649.6 301.3L648.6 299.9L648.5 299.8L647.3 298.4L646.0 297.0L644.8 295.6L643.5 294.1L643.2 293.8L642.3 292.7L641.0 291.3L639.7 289.8L638.5 288.4L637.9 287.7L637.2 286.9L636.0 285.5L634.7 284.1L633.4 282.6L632.5 281.6L632.2 281.2L630.9 279.8L629.7 278.3L628.4 276.9L627.2 275.5L627.0 275.4L623.7 274.0L621.9 273.2L616.5 273.3L612.3 272.6L611.2 272.4L608.0 271.1L605.9 270.2L600.5 270.8L596.7 271.1L595.2 271.3L589.9 271.8L584.5 271.3L584.2 271.1L581.0 269.7L579.2 268.9L577.5 268.3L573.9 266.8L573.8 266.8L570.0 265.4L568.5 264.9L566.3 265.4L563.6 266.8L563.2 267.2L557.9 267.8L552.5 267.8L547.2 267.8L546.3 268.3L544.4 269.7L543.3 271.1L542.5 272.6L542.0 274.0L541.9 274.2L541.0 275.4L540.0 276.9L539.0 278.3L538.0 279.8L537.0 281.2L536.5 281.8L534.6 282.6L531.2 284.0L531.1 284.1L527.7 285.5L526.6 286.9L526.1 288.4L525.9 289.4L525.8 289.8L525.6 291.3L525.4 292.7L525.2 294.1L524.9 295.6L524.7 297.0L524.5 298.4L524.3 299.9L525.3 301.3L525.9 301.6L528.1 302.8L531.0 304.2L531.2 304.3L533.8 305.6L536.5 307.1L536.6 307.1L540.3 308.5L541.9 309.1L545.1 309.9L547.2 310.4L548.4 311.4L550.6 312.8L552.5 313.7L553.5 314.3L555.7 315.7L557.9 317.1L558.0 317.1L560.3 318.6L562.6 320.0L563.2 320.4L568.5 320.5L572.7 321.4L573.9 321.6L575.4 322.9L577.0 324.3L579.2 325.6L580.0 325.8L584.5 326.4L589.9 327.2L590.0 327.2L595.2 327.9L600.1 328.6M483.3 328.6L488.5 327.5L490.3 327.2L493.9 326.5L496.2 325.8L497.5 324.3L497.9 322.9L498.1 321.4L498.2 320.0L498.2 318.6L498.1 317.1L498.0 315.7L497.9 314.3L497.8 312.8L497.8 311.4L497.7 309.9L497.6 308.5L497.5 307.1L497.5 305.6L497.4 304.2L497.3 302.8L497.2 301.3L496.6 299.9L495.7 298.4L494.7 297.0L493.9 295.7L493.8 295.6L492.9 294.1L491.9 292.7L491.0 291.3L490.0 289.8L489.1 288.4L488.5 287.6L488.1 286.9L487.2 285.5L486.3 284.1L485.3 282.6L484.4 281.2L483.4 279.8L483.2 279.4L482.5 278.3L481.5 276.9L480.6 275.4L479.6 274.0L478.7 272.6L477.9 271.3L477.5 271.1L474.3 269.7L472.6 268.9L467.2 268.9L461.9 268.9L460.9 269.7L459.7 271.1L458.9 272.6L458.3 274.0L458.1 275.4L457.9 276.9L457.6 278.3L457.4 279.8L457.2 281.2L457.0 282.6L456.8 284.1L456.6 285.5L456.6 285.7L456.2 286.9L455.7 288.4L455.3 289.8L454.8 291.3L454.4 292.7L453.9 294.1L453.5 295.6L453.1 297.0L452.7 298.4L452.4 299.9L452.4 301.3L453.7 302.8L456.6 303.8L456.9 304.2L457.0 305.6L457.3 307.1L457.9 308.5L459.3 309.9L461.9 311.0L462.1 311.4L462.3 312.8L462.6 314.3L463.1 315.7L464.6 317.1L467.2 318.3L467.4 318.6L467.6 320.0L467.8 321.4L468.4 322.9L469.9 324.3L472.6 325.5L472.7 325.8L473.0 327.2L473.9 328.6M592.5 322.9L595.2 323.3L600.5 323.9L602.8 322.9L605.0 321.4L605.9 320.9L611.2 321.0L613.4 321.4L616.5 322.0L621.9 321.6L622.1 321.4L624.9 320.0L627.2 318.8L632.5 318.7L636.6 318.6L637.9 318.5L643.2 318.4L644.3 317.1L644.5 315.7L643.9 314.3L643.3 312.8L643.2 312.6L642.7 311.4L642.1 309.9L641.5 308.5L640.9 307.1L640.3 305.6L639.7 304.2L639.2 302.8L638.6 301.3L637.9 300.3L637.6 299.9L636.3 298.4L635.1 297.0L633.8 295.6L632.5 294.1L632.5 294.1L631.3 292.7L630.0 291.3L628.8 289.8L627.5 288.4L627.2 288.0L624.7 286.9L621.9 285.7L620.9 285.5L616.5 284.8L615.2 284.1L612.4 282.6L611.2 282.0L609.3 281.2L605.9 279.8L600.5 280.3L595.2 280.8L589.9 279.8L589.9 279.8L586.6 278.3L584.5 277.4L583.4 276.9L580.1 275.4L579.2 275.0L576.5 274.0L573.9 273.0L572.8 272.6L568.9 271.1L568.5 271.0L568.4 271.1L567.0 272.6L566.1 274.0L565.4 275.4L564.9 276.9L564.5 278.3L564.1 279.8L563.7 281.2L563.3 282.6L563.2 282.9L557.9 283.5L554.8 284.1L552.5 285.2L552.4 285.5L551.9 286.9L551.4 288.4L550.9 289.8L550.3 291.3L549.8 292.7L549.3 294.1L548.8 295.6L548.2 297.0L547.7 298.4L547.2 299.9L547.2 299.9L547.2 299.9L547.8 301.3L550.1 302.8L552.3 304.2L552.5 304.3L554.6 305.6L556.9 307.1L557.9 307.7L559.2 308.5L561.5 309.9L563.2 311.0L566.8 311.4L568.5 311.5L569.4 312.8L570.5 314.3L572.0 315.7L573.9 316.9L574.2 317.1L576.0 318.6L577.9 320.0L579.2 321.0L582.4 321.4L584.5 321.7L589.9 322.5L592.5 322.9M476.8 324.3L477.9 325.2L482.3 324.3L483.2 324.1L488.5 323.0L489.3 322.9L493.9 321.9L494.3 321.4L495.0 320.0L494.9 318.6L494.9 317.1L494.8 315.7L494.7 314.3L494.6 312.8L494.6 311.4L494.5 309.9L494.4 308.5L494.3 307.1L494.2 305.6L494.2 304.2L494.1 302.8L494.0 301.3L493.9 301.0L493.4 299.9L492.5 298.4L491.5 297.0L490.6 295.6L489.6 294.1L488.7 292.7L488.5 292.5L487.8 291.3L486.8 289.8L485.9 288.4L484.9 286.9L484.0 285.5L483.2 284.3L483.0 284.1L482.1 282.6L481.2 281.2L480.2 279.8L479.3 278.3L478.3 276.9L477.9 276.2L476.2 275.4L473.0 274.0L472.6 273.8L467.2 273.8L461.9 273.8L461.8 274.0L461.5 275.4L461.2 276.9L461.0 278.3L460.8 279.8L460.6 281.2L460.4 282.6L460.2 284.1L460.0 285.5L459.7 286.9L459.5 288.4L459.3 289.8L459.1 291.3L458.9 292.7L458.7 294.1L458.5 295.6L458.3 297.0L458.0 298.4L457.8 299.9L458.2 301.3L459.2 302.8L460.3 304.2L461.3 305.6L461.9 306.3L462.5 307.1L463.5 308.5L464.6 309.9L465.6 311.4L466.6 312.8L467.2 313.4L467.8 314.3L468.9 315.7L470.0 317.1L471.0 318.6L472.0 320.0L472.6 320.5L473.6 321.4L475.2 322.9L476.8 324.3M594.9 318.6L595.2 318.6L595.4 318.6L597.8 317.1L600.1 315.7L600.5 315.4L602.3 314.3L604.6 312.8L605.9 312.0L611.2 312.2L615.0 311.4L616.5 310.8L617.6 309.9L619.4 308.5L621.1 307.1L621.9 306.4L623.4 305.6L626.2 304.2L627.2 303.7L627.9 302.8L627.6 301.3L627.2 300.8L626.4 299.9L624.3 298.4L621.9 297.1L621.7 297.0L618.9 295.6L616.5 294.3L616.2 294.1L613.4 292.7L611.2 291.5L610.5 291.3L607.0 289.8L605.9 289.3L601.1 289.8L600.5 289.9L600.4 289.8L595.9 288.4L595.2 288.2L592.3 286.9L589.9 285.9L589.0 285.5L585.8 284.1L584.5 283.5L582.5 282.6L579.2 281.2L579.2 281.2L575.6 279.8L573.9 279.1L569.7 279.8L568.5 280.2L568.3 281.2L567.8 282.6L567.4 284.1L567.0 285.5L566.6 286.9L566.2 288.4L565.7 289.8L565.3 291.3L564.9 292.7L564.5 294.1L564.1 295.6L563.7 297.0L563.2 298.4L563.2 298.5L561.9 299.9L562.7 301.3L563.2 301.7L563.8 302.8L564.9 304.2L566.5 305.6L568.5 306.8L568.8 307.1L570.2 308.5L571.6 309.9L573.0 311.4L573.9 312.3L574.6 312.8L576.5 314.3L578.4 315.7L579.2 316.3L584.5 317.1L584.9 317.1L589.9 317.8L594.9 318.6M477.1 320.0L477.9 320.7L481.3 320.0L483.2 319.6L488.3 318.6L488.5 318.5L490.2 317.1L491.0 315.7L491.5 314.3L491.4 312.8L491.3 311.4L491.3 309.9L491.2 308.5L491.1 307.1L491.0 305.6L491.0 304.2L490.9 302.8L490.8 301.3L490.2 299.9L489.3 298.4L488.5 297.3L488.3 297.0L487.4 295.6L486.4 294.1L485.5 292.7L484.5 291.3L483.6 289.8L483.2 289.2L482.7 288.4L481.7 286.9L480.8 285.5L479.8 284.1L478.9 282.6L477.9 281.2L477.9 281.1L474.9 279.8L472.6 278.7L467.2 278.7L465.9 279.8L464.8 281.2L464.1 282.6L463.6 284.1L463.3 285.5L463.1 286.9L462.9 288.4L462.7 289.8L462.5 291.3L462.3 292.7L462.1 294.1L461.9 295.4L461.9 295.6L461.6 297.0L461.4 298.4L461.2 299.9L461.5 301.3L461.9 301.8L462.6 302.8L463.7 304.2L464.8 305.6L465.8 307.1L466.9 308.5L467.2 308.9L468.0 309.9L469.1 311.4L470.2 312.8L471.2 314.3L472.3 315.7L472.6 316.0L473.8 317.1L475.4 318.6L477.1 320.0M587.7 312.8L589.9 313.1L590.7 312.8L592.9 311.4L595.2 309.9L595.2 309.9L597.4 308.5L599.7 307.1L600.5 306.5L601.9 305.6L604.2 304.2L605.9 303.1L606.9 302.8L609.7 301.3L608.6 299.9L605.9 298.8L605.1 298.4L601.5 297.0L600.5 296.7L597.9 295.6L595.2 294.4L594.7 294.1L591.4 292.7L589.9 292.0L588.1 291.3L584.9 289.8L584.5 289.7L581.6 288.4L579.2 287.3L578.3 286.9L574.6 285.5L573.9 285.2L573.5 285.5L572.1 286.9L571.1 288.4L570.4 289.8L569.9 291.3L569.5 292.7L569.1 294.1L568.6 295.6L568.5 295.9L568.2 297.0L567.8 298.4L567.4 299.9L567.7 301.3L568.5 302.2L569.1 302.8L570.5 304.2L571.9 305.6L573.4 307.1L573.9 307.6L575.1 308.5L576.9 309.9L578.8 311.4L579.2 311.7L584.5 312.4L587.7 312.8M477.3 315.7L477.9 316.2L480.3 315.7L483.2 315.1L487.0 314.3L487.6 312.8L487.8 311.4L487.9 309.9L488.0 308.5L487.9 307.1L487.8 305.6L487.7 304.2L487.7 302.8L487.6 301.3L487.0 299.9L486.1 298.4L485.1 297.0L484.2 295.6L483.2 294.1L483.2 294.1L482.3 292.7L481.3 291.3L480.4 289.8L479.5 288.4L478.5 286.9L477.9 286.0L476.8 285.5L473.6 284.1L472.6 283.6L467.2 283.6L466.9 284.1L466.7 285.5L466.5 286.9L466.3 288.4L466.1 289.8L465.9 291.3L465.7 292.7L465.4 294.1L465.2 295.6L465.0 297.0L464.8 298.4L464.6 299.9L464.9 301.3L466.0 302.8L467.1 304.2L467.2 304.4L468.2 305.6L469.2 307.1L470.3 308.5L471.4 309.9L472.5 311.4L472.6 311.5L474.0 312.8L475.7 314.3L477.3 315.7M579.9 307.1L584.5 307.6L585.8 307.1L588.0 305.6L589.9 304.4L590.3 304.2L592.5 302.8L594.8 301.3L593.8 299.9L590.5 298.4L589.9 298.1L587.3 297.0L584.5 295.8L584.0 295.6L580.8 294.1L579.2 293.4L573.9 293.2L573.6 294.1L573.2 295.6L572.8 297.0L572.4 298.4L571.9 299.9L572.3 301.3L573.7 302.8L573.9 302.9L575.5 304.2L577.4 305.6L579.2 307.0L579.9 307.1M477.5 311.4L477.9 311.7L479.4 311.4L483.2 310.6L483.8 309.9L484.7 308.5L484.7 307.1L484.6 305.6L484.5 304.2L484.5 302.8L484.4 301.3L483.8 299.9L483.2 299.0L482.8 298.4L481.9 297.0L481.0 295.6L480.0 294.1L479.1 292.7L478.1 291.3L477.9 290.9L475.5 289.8L472.6 288.5L471.0 289.8L470.0 291.3L469.3 292.7L468.8 294.1L468.6 295.6L468.4 297.0L468.2 298.4L468.0 299.9L468.3 301.3L469.4 302.8L470.5 304.2L471.5 305.6L472.6 307.0L472.6 307.1L474.3 308.5L475.9 309.9L477.5 311.4M578.4 301.3L579.2 302.1L580.9 301.3L579.9 299.9L579.2 299.6L578.8 299.9L578.4 301.3M477.8 307.1L477.9 307.2L478.1 307.1L479.9 305.6L480.7 304.2L481.2 302.8L481.2 301.3L480.6 299.9L479.6 298.4L478.7 297.0L477.9 295.8L476.8 295.6L473.8 294.1L472.6 293.5L472.2 294.1L472.0 295.6L471.8 297.0L471.6 298.4L471.4 299.9L471.7 301.3L472.6 302.5L472.9 302.8L474.5 304.2L476.1 305.6L477.8 307.1M477.7 301.3L477.9 302.0L477.9 301.3L477.9 301.2L477.7 301.3"/>
<rect x="385.0" y="256.5" width="286.7" height="77.0" fill="none" stroke="#c4c4c4" stroke-width="0.7"/>
<path d="M393.9 333.0v-2.5M393.9 256.7v2.5M422.5 333.0v-2.5M422.5 256.7v2.5M451.1 333.0v-2.5M451.1 256.7v2.5M479.7 333.0v-2.5M479.7 256.7v2.5M508.4 333.0v-2.5M508.4 256.7v2.5M537.0 333.0v-2.5M537.0 256.7v2.5M565.6 333.0v-2.5M565.6 256.7v2.5M594.2 333.0v-2.5M594.2 256.7v2.5M622.8 333.0v-2.5M622.8 256.7v2.5M651.5 333.0v-2.5M651.5 256.7v2.5M385.3 330.1h2.5M671.5 330.1h-2.5M385.3 300.7h2.5M671.5 300.7h-2.5M385.3 271.4h2.5M671.5 271.4h-2.5" stroke="#9a9a9a" stroke-width="0.5" fill="none"/>
<g fill="#222"><circle cx="397.9" cy="330.1" r="0.6"/><circle cx="423.7" cy="330.1" r="0.6"/><circle cx="454.0" cy="330.1" r="0.6"/><circle cx="476.3" cy="330.1" r="0.6"/><circle cx="502.6" cy="330.1" r="0.6"/><circle cx="539.6" cy="330.1" r="0.6"/><circle cx="563.0" cy="330.1" r="0.6"/><circle cx="577.6" cy="330.1" r="0.6"/><circle cx="606.8" cy="330.1" r="0.6"/><circle cx="625.1" cy="330.1" r="0.6"/><circle cx="659.2" cy="330.1" r="0.6"/><circle cx="397.9" cy="300.7" r="0.6"/><circle cx="423.7" cy="300.7" r="0.6"/><circle cx="454.0" cy="300.7" r="0.6"/><circle cx="476.3" cy="300.7" r="0.6"/><circle cx="502.6" cy="300.7" r="0.6"/><circle cx="539.6" cy="300.7" r="0.6"/><circle cx="563.0" cy="300.7" r="0.6"/><circle cx="577.6" cy="300.7" r="0.6"/><circle cx="606.8" cy="300.7" r="0.6"/><circle cx="625.1" cy="300.7" r="0.6"/><circle cx="659.2" cy="300.7" r="0.6"/><circle cx="397.9" cy="259.6" r="0.6"/><circle cx="423.7" cy="259.6" r="0.6"/><circle cx="454.0" cy="259.6" r="0.6"/><circle cx="476.3" cy="259.6" r="0.6"/><circle cx="502.6" cy="259.6" r="0.6"/><circle cx="539.6" cy="259.6" r="0.6"/><circle cx="563.0" cy="259.6" r="0.6"/><circle cx="577.6" cy="259.6" r="0.6"/><circle cx="606.8" cy="259.6" r="0.6"/><circle cx="625.1" cy="259.6" r="0.6"/><circle cx="659.2" cy="259.6" r="0.6"/></g>
<g font-size="10.3" fill="#2b2b2b"><text transform="translate(393.9 345.3) scale(0.88 1)" text-anchor="middle">5</text><text transform="translate(422.5 345.3) scale(0.88 1)" text-anchor="middle">5.5</text><text transform="translate(451.1 345.3) scale(0.88 1)" text-anchor="middle">6</text><text transform="translate(479.7 345.3) scale(0.88 1)" text-anchor="middle">6.5</text><text transform="translate(508.4 345.3) scale(0.88 1)" text-anchor="middle">7</text><text transform="translate(537.0 345.3) scale(0.88 1)" text-anchor="middle">7.5</text><text transform="translate(565.6 345.3) scale(0.88 1)" text-anchor="middle">8</text><text transform="translate(594.2 345.3) scale(0.88 1)" text-anchor="middle">8.5</text><text transform="translate(622.8 345.3) scale(0.88 1)" text-anchor="middle">9</text><text transform="translate(651.5 345.3) scale(0.88 1)" text-anchor="middle">9.5</text><text transform="translate(382.4 333.8) scale(0.88 1)" text-anchor="end">25</text><text transform="translate(382.4 304.4) scale(0.88 1)" text-anchor="end">30</text><text transform="translate(382.4 275.1) scale(0.88 1)" text-anchor="end">35</text></g>
<text transform="translate(528.4 357.8) scale(0.86 1)" font-size="11" fill="#222" text-anchor="middle">pH</text>
<text font-size="11.4" fill="#222" text-anchor="middle" transform="translate(370.6 294.3) rotate(-90) scale(0.905 1)">Temperature (°C)</text>
<rect x="674.8" y="256.7" width="4.6" height="76.3" fill="url(#pg)" stroke="#bbb" stroke-width="0.3"/>
<g font-size="9.8" fill="#2b2b2b"><text transform="translate(681.7 317.2) scale(0.88 1)">1</text><text transform="translate(681.7 298.1) scale(0.88 1)">2</text><text transform="translate(681.7 279.1) scale(0.88 1)">3</text><text transform="translate(681.7 260.0) scale(0.88 1)">4</text></g>
<path d="M47.8 369.3V445.6M76.5 369.3V445.6M105.3 369.3V445.6M134.0 369.3V445.6M162.7 369.3V445.6M191.4 369.3V445.6M220.1 369.3V445.6M248.9 369.3V445.6M277.6 369.3V445.6M306.3 369.3V445.6M39.2 442.7H326.4M39.2 413.3H326.4M39.2 384.0H326.4" stroke="#e6e6e6" stroke-width="0.5" fill="none"/>
<path fill="#3e26a8" stroke="#3e26a8" stroke-width="0.3" fill-rule="evenodd" d="M306.7 441.2L308.7 441.2L308.7 439.8L308.7 438.4L308.7 436.9L308.7 435.5L308.7 434.0L308.7 433.9L308.6 434.0L308.0 435.5L307.4 436.9L307.0 438.4L306.9 439.8Z"/>
<path fill="#3e26a8" stroke="#3e26a8" stroke-width="0.3" fill-rule="evenodd" d="M296.6 441.2L298.0 441.2L303.3 441.2L306.7 441.2L306.9 439.8L307.0 438.4L307.4 436.9L308.0 435.5L308.6 434.0L308.7 433.9L308.7 432.6L308.7 431.2L308.7 429.7L308.7 428.3L308.7 426.9L308.7 425.4L308.7 424.0L308.7 422.5L308.7 421.1L308.7 419.7L308.7 418.2L308.7 416.8L308.7 415.4L308.7 413.9L308.7 412.5L308.7 411.0L308.7 409.6L308.7 408.2L308.7 406.7L308.7 405.3L308.7 403.9L308.7 402.4L308.7 401.0L308.7 399.5L308.7 398.1L308.7 397.2L308.5 398.1L308.1 399.5L307.8 401.0L307.5 402.4L307.2 403.9L306.9 405.3L306.7 406.7L306.6 408.2L306.5 409.6L306.3 411.0L306.2 412.5L305.9 413.9L305.1 415.4L304.4 416.8L303.6 418.2L303.3 418.8L302.9 419.7L302.2 421.1L301.4 422.5L300.7 424.0L299.9 425.4L299.2 426.9L298.5 428.3L298.0 429.7L298.0 429.8L297.8 431.2L297.7 432.6L297.5 434.0L297.3 435.5L297.1 436.9L297.0 438.4L296.8 439.8Z"/>
<path fill="#4648e8" stroke="#4648e8" stroke-width="0.3" fill-rule="evenodd" d="M197.2 441.2L201.7 441.2L207.0 441.2L212.4 441.2L217.7 441.2L222.2 441.2L221.7 439.8L221.1 438.4L220.5 436.9L220.0 435.5L219.4 434.0L218.8 432.6L218.3 431.2L217.7 429.8L216.0 431.2L214.2 432.6L212.4 434.0L212.3 434.0L210.0 435.5L207.0 436.9L206.9 436.9L203.7 438.4L201.7 439.3L200.5 439.8ZM286.6 441.2L287.3 441.2L292.6 441.2L296.6 441.2L296.8 439.8L297.0 438.4L297.1 436.9L297.3 435.5L297.5 434.0L297.7 432.6L297.8 431.2L298.0 429.8L298.0 429.7L298.5 428.3L299.2 426.9L299.9 425.4L300.7 424.0L301.4 422.5L302.2 421.1L302.9 419.7L303.3 418.8L303.6 418.2L304.4 416.8L305.1 415.4L305.9 413.9L306.2 412.5L306.3 411.0L306.5 409.6L306.6 408.2L306.7 406.7L306.9 405.3L307.2 403.9L307.5 402.4L307.8 401.0L308.1 399.5L308.5 398.1L308.7 397.2L308.7 396.7L308.7 395.2L308.7 393.8L308.7 392.4L308.7 390.9L308.7 389.5L308.7 388.0L308.7 386.6L308.7 385.2L308.7 383.7L308.7 382.3L308.7 380.9L308.7 379.4L308.7 378.0L308.7 376.5L308.7 375.1L308.7 373.7L303.3 373.7L298.9 373.7L298.6 375.1L298.2 376.5L298.0 377.5L297.9 378.0L297.5 379.4L297.2 380.9L296.8 382.3L296.5 383.7L296.1 385.2L295.8 386.6L295.4 388.0L295.2 389.5L295.0 390.9L294.8 392.4L294.6 393.8L294.5 395.2L294.4 396.7L294.2 398.1L294.1 399.5L294.0 401.0L293.9 402.4L293.8 403.9L293.7 405.3L293.5 406.7L293.4 408.2L293.3 409.6L293.2 411.0L293.1 412.5L292.7 413.9L292.6 414.0L292.0 415.4L291.2 416.8L290.5 418.2L289.7 419.7L289.3 421.1L289.0 422.5L288.7 424.0L288.5 425.4L288.3 426.9L288.1 428.3L288.0 429.7L287.8 431.2L287.6 432.6L287.4 434.0L287.3 435.3L287.3 435.5L287.1 436.9L286.9 438.4L286.8 439.8Z"/>
<path fill="#3f71fd" stroke="#3f71fd" stroke-width="0.3" fill-rule="evenodd" d="M149.1 441.2L153.5 441.2L158.9 441.2L164.2 441.2L169.6 441.2L174.9 441.2L180.3 441.2L185.6 441.2L191.0 441.2L196.3 441.2L197.2 441.2L200.5 439.8L201.7 439.3L203.7 438.4L206.9 436.9L207.0 436.9L210.0 435.5L212.3 434.0L212.4 434.0L214.2 432.6L216.0 431.2L217.7 429.8L218.3 431.2L218.8 432.6L219.4 434.0L220.0 435.5L220.5 436.9L221.1 438.4L221.7 439.8L222.2 441.2L223.1 441.2L228.4 441.2L229.4 441.2L228.6 439.8L228.4 439.3L228.1 438.4L227.5 436.9L226.9 435.5L226.0 434.0L225.1 432.6L224.5 431.2L224.0 429.7L223.6 428.3L223.3 426.9L223.1 425.6L223.0 425.4L222.2 424.0L221.1 422.5L220.2 421.1L219.6 419.7L219.1 418.2L218.7 416.8L218.3 415.4L218.0 413.9L217.7 412.5L217.7 412.4L217.6 412.5L215.3 413.9L213.5 415.4L212.4 416.2L211.8 416.8L210.2 418.2L208.6 419.7L207.0 421.1L207.0 421.1L205.4 422.5L203.6 424.0L201.7 425.3L201.4 425.4L198.1 426.9L196.3 427.7L195.3 428.3L193.0 429.7L191.0 431.0L190.7 431.2L188.8 432.6L186.9 434.0L185.6 435.0L183.4 435.5L180.3 435.9L174.9 436.3L169.6 436.6L165.9 436.9L164.2 437.0L158.9 437.4L156.8 438.4L153.5 439.6L153.1 439.8ZM245.6 441.2L249.8 441.2L255.2 441.2L260.5 441.2L265.9 441.2L271.2 441.2L276.6 441.2L281.9 441.2L286.6 441.2L286.8 439.8L286.9 438.4L287.1 436.9L287.3 435.5L287.3 435.3L287.4 434.0L287.6 432.6L287.8 431.2L288.0 429.7L288.1 428.3L288.3 426.9L288.5 425.4L288.7 424.0L289.0 422.5L289.3 421.1L289.7 419.7L290.5 418.2L291.2 416.8L292.0 415.4L292.6 414.0L292.7 413.9L293.1 412.5L293.2 411.0L293.3 409.6L293.4 408.2L293.5 406.7L293.7 405.3L293.8 403.9L293.9 402.4L294.0 401.0L294.1 399.5L294.2 398.1L294.4 396.7L294.5 395.2L294.6 393.8L294.8 392.4L295.0 390.9L295.2 389.5L295.4 388.0L295.8 386.6L296.1 385.2L296.5 383.7L296.8 382.3L297.2 380.9L297.5 379.4L297.9 378.0L298.0 377.5L298.2 376.5L298.6 375.1L298.9 373.7L298.0 373.7L292.6 373.7L287.3 373.7L283.4 373.7L283.1 375.1L282.9 376.5L282.8 378.0L282.6 379.4L282.5 380.9L282.4 382.3L282.2 383.7L282.1 385.2L282.0 386.6L281.9 387.5L281.9 388.0L281.7 389.5L281.5 390.9L281.4 392.4L281.2 393.8L281.0 395.2L280.8 396.7L280.7 398.1L280.5 399.5L280.3 401.0L280.2 402.4L280.0 403.9L279.8 405.3L279.6 406.7L279.3 408.2L278.9 409.6L278.5 411.0L278.1 412.5L277.5 413.9L277.0 415.4L276.7 416.8L276.6 417.1L275.6 418.2L274.3 419.7L273.0 421.1L271.8 422.5L271.2 423.2L265.9 423.1L260.5 423.6L260.4 424.0L260.1 425.4L259.7 426.9L259.4 428.3L259.0 429.7L258.7 431.2L258.3 432.6L258.0 434.0L257.6 435.5L257.0 436.9L255.5 438.4L255.2 438.6L250.8 439.8L249.8 440.1Z"/>
<path fill="#2596ed" stroke="#2596ed" stroke-width="0.3" fill-rule="evenodd" d="M94.9 441.2L100.0 441.2L105.3 441.2L110.7 441.2L116.1 441.2L121.4 441.2L126.8 441.2L132.1 441.2L137.5 441.2L142.8 441.2L148.2 441.2L149.1 441.2L153.1 439.8L153.5 439.6L156.8 438.4L158.9 437.4L164.2 437.0L165.9 436.9L169.6 436.6L174.9 436.3L180.3 435.9L183.4 435.5L185.6 435.0L186.9 434.0L188.8 432.6L190.7 431.2L191.0 431.0L193.0 429.7L195.3 428.3L196.3 427.7L198.1 426.9L201.4 425.4L201.7 425.3L203.6 424.0L205.4 422.5L207.0 421.1L207.0 421.1L208.6 419.7L210.2 418.2L211.8 416.8L212.4 416.2L213.5 415.4L215.3 413.9L217.6 412.5L217.7 412.4L217.7 412.5L218.0 413.9L218.3 415.4L218.7 416.8L219.1 418.2L219.6 419.7L220.2 421.1L221.1 422.5L222.2 424.0L223.0 425.4L223.1 425.6L223.3 426.9L223.6 428.3L224.0 429.7L224.5 431.2L225.1 432.6L226.0 434.0L226.9 435.5L227.5 436.9L228.1 438.4L228.4 439.3L228.6 439.8L229.4 441.2L233.8 441.2L239.1 441.2L244.5 441.2L245.6 441.2L249.8 440.1L250.8 439.8L255.2 438.6L255.5 438.4L257.0 436.9L257.6 435.5L258.0 434.0L258.3 432.6L258.7 431.2L259.0 429.7L259.4 428.3L259.7 426.9L260.1 425.4L260.4 424.0L260.5 423.6L265.9 423.1L271.2 423.2L271.8 422.5L273.0 421.1L274.3 419.7L275.6 418.2L276.6 417.1L276.7 416.8L277.0 415.4L277.5 413.9L278.1 412.5L278.5 411.0L278.9 409.6L279.3 408.2L279.6 406.7L279.8 405.3L280.0 403.9L280.2 402.4L280.3 401.0L280.5 399.5L280.7 398.1L280.8 396.7L281.0 395.2L281.2 393.8L281.4 392.4L281.5 390.9L281.7 389.5L281.9 388.0L281.9 387.5L282.0 386.6L282.1 385.2L282.2 383.7L282.4 382.3L282.5 380.9L282.6 379.4L282.8 378.0L282.9 376.5L283.1 375.1L283.4 373.7L281.9 373.7L276.6 373.7L271.2 373.7L265.9 373.7L260.5 373.7L260.2 373.7L259.9 375.1L259.7 376.5L259.4 378.0L259.2 379.4L258.9 380.9L258.7 382.3L258.4 383.7L258.2 385.2L257.9 386.6L257.7 388.0L257.4 389.5L257.2 390.9L257.0 392.4L256.7 393.8L256.5 395.2L256.2 396.7L256.0 398.1L255.7 399.5L255.5 401.0L255.2 402.4L255.2 402.7L255.1 403.9L255.2 405.3L255.2 405.4L255.6 406.7L255.9 408.2L256.2 409.6L256.4 411.0L256.6 412.5L256.6 413.9L256.3 415.4L255.9 416.8L255.6 418.2L255.2 419.7L255.2 419.7L254.8 421.1L254.5 422.5L254.1 424.0L253.8 425.4L253.4 426.9L253.1 428.3L252.7 429.7L252.3 431.2L251.1 432.6L249.8 433.6L248.3 434.0L244.5 435.1L243.1 435.5L239.1 436.6L237.9 436.9L233.8 438.0L232.9 436.9L232.0 435.5L231.1 434.0L230.1 432.6L229.1 431.2L228.4 430.2L228.1 429.7L227.3 428.3L226.7 426.9L226.1 425.4L225.6 424.0L225.0 422.5L224.3 421.1L223.7 419.7L223.1 418.4L223.0 418.2L222.2 416.8L221.6 415.4L221.0 413.9L220.7 412.5L220.5 411.0L220.3 409.6L220.1 408.2L220.0 406.7L219.8 405.3L219.6 403.9L219.5 402.4L219.3 401.0L219.1 399.5L218.9 398.1L218.8 396.7L218.6 395.2L218.4 393.8L218.2 392.4L218.1 390.9L217.9 389.5L217.7 388.2L215.0 389.5L212.4 390.7L212.1 390.9L210.2 392.4L208.4 393.8L207.0 394.9L206.8 395.2L205.9 396.7L205.0 398.1L204.2 399.5L203.3 401.0L202.5 402.4L201.7 403.8L201.6 403.9L200.8 405.3L199.9 406.7L199.0 408.2L198.2 409.6L197.3 411.0L196.5 412.5L196.3 412.7L195.3 413.9L193.5 415.4L191.3 416.8L191.0 417.0L189.3 418.2L187.4 419.7L185.6 421.0L185.5 421.1L183.6 422.5L181.7 424.0L180.3 425.1L179.8 425.4L177.9 426.9L175.3 428.3L174.9 428.4L169.6 428.8L164.2 429.2L158.9 429.6L158.6 429.7L155.3 431.2L153.5 431.9L152.5 432.6L150.0 434.0L148.2 435.0L146.7 435.5L142.8 436.9L142.8 436.9L138.8 438.4L137.5 438.8L134.8 439.8L132.1 440.8L127.2 439.8L126.8 439.6L121.4 439.1L116.1 438.6L113.2 438.4L110.7 438.1L110.2 438.4L107.2 439.8L105.3 440.3L100.0 440.8Z"/>
<path fill="#13b4d0" stroke="#13b4d0" stroke-width="0.3" fill-rule="evenodd" d="M57.2 441.2L62.5 441.2L67.9 441.2L73.2 441.2L78.6 441.2L83.9 441.2L89.3 441.2L94.6 441.2L94.9 441.2L100.0 440.8L105.3 440.3L107.2 439.8L110.2 438.4L110.7 438.1L113.2 438.4L116.1 438.6L121.4 439.1L126.8 439.6L127.2 439.8L132.1 440.8L134.8 439.8L137.5 438.8L138.8 438.4L142.8 436.9L142.8 436.9L146.7 435.5L148.2 435.0L150.0 434.0L152.5 432.6L153.5 431.9L155.3 431.2L158.6 429.7L158.9 429.6L164.2 429.2L169.6 428.8L174.9 428.4L175.3 428.3L177.9 426.9L179.8 425.4L180.3 425.1L181.7 424.0L183.6 422.5L185.5 421.1L185.6 421.0L187.4 419.7L189.3 418.2L191.0 417.0L191.3 416.8L193.5 415.4L195.3 413.9L196.3 412.7L196.5 412.5L197.3 411.0L198.2 409.6L199.0 408.2L199.9 406.7L200.8 405.3L201.6 403.9L201.7 403.8L202.5 402.4L203.3 401.0L204.2 399.5L205.0 398.1L205.9 396.7L206.8 395.2L207.0 394.9L208.4 393.8L210.2 392.4L212.1 390.9L212.4 390.7L215.0 389.5L217.7 388.2L217.9 389.5L218.1 390.9L218.2 392.4L218.4 393.8L218.6 395.2L218.8 396.7L218.9 398.1L219.1 399.5L219.3 401.0L219.5 402.4L219.6 403.9L219.8 405.3L220.0 406.7L220.1 408.2L220.3 409.6L220.5 411.0L220.7 412.5L221.0 413.9L221.6 415.4L222.2 416.8L223.0 418.2L223.1 418.4L223.7 419.7L224.3 421.1L225.0 422.5L225.6 424.0L226.1 425.4L226.7 426.9L227.3 428.3L228.1 429.7L228.4 430.2L229.1 431.2L230.1 432.6L231.1 434.0L232.0 435.5L232.9 436.9L233.8 438.0L237.9 436.9L239.1 436.6L243.1 435.5L244.5 435.1L248.3 434.0L249.8 433.6L251.1 432.6L252.3 431.2L252.7 429.7L253.1 428.3L253.4 426.9L253.8 425.4L254.1 424.0L254.5 422.5L254.8 421.1L255.2 419.7L255.2 419.7L255.6 418.2L255.9 416.8L256.3 415.4L256.6 413.9L256.6 412.5L256.4 411.0L256.2 409.6L255.9 408.2L255.6 406.7L255.2 405.4L255.2 405.3L255.1 403.9L255.2 402.7L255.2 402.4L255.5 401.0L255.7 399.5L256.0 398.1L256.2 396.7L256.5 395.2L256.7 393.8L257.0 392.4L257.2 390.9L257.4 389.5L257.7 388.0L257.9 386.6L258.2 385.2L258.4 383.7L258.7 382.3L258.9 380.9L259.2 379.4L259.4 378.0L259.7 376.5L259.9 375.1L260.2 373.7L255.2 373.7L249.8 373.7L249.3 373.7L249.1 375.1L248.8 376.5L248.6 378.0L248.3 379.4L248.1 380.9L247.8 382.3L247.6 383.7L247.3 385.2L247.1 386.6L246.8 388.0L246.6 389.5L246.8 390.9L246.9 392.4L247.0 393.8L247.1 395.2L247.2 396.7L247.4 398.1L247.7 399.5L248.0 401.0L248.3 402.4L248.6 403.9L248.9 405.3L249.2 406.7L249.4 408.2L249.7 409.6L249.8 410.1L250.0 411.0L250.3 412.5L250.3 413.9L250.0 415.4L249.8 415.9L249.6 416.8L249.3 418.2L248.9 419.7L248.5 421.1L248.2 422.5L247.8 424.0L247.5 425.4L246.6 426.9L245.0 428.3L244.5 428.6L240.5 429.7L239.1 430.1L235.3 431.2L233.8 431.6L233.5 431.2L232.5 429.7L231.5 428.3L230.6 426.9L229.6 425.4L228.6 424.0L228.4 423.7L227.9 422.5L227.2 421.1L226.6 419.7L225.9 418.2L225.3 416.8L224.6 415.4L224.0 413.9L223.6 412.5L223.4 411.0L223.3 409.6L223.1 408.2L223.1 408.2L222.9 406.7L222.7 405.3L222.6 403.9L222.4 402.4L222.2 401.0L222.0 399.5L221.9 398.1L221.7 396.7L221.5 395.2L221.3 393.8L221.2 392.4L221.0 390.9L220.8 389.5L220.6 388.0L220.6 386.6L220.6 385.2L220.6 383.7L220.6 382.3L220.5 380.9L220.5 379.4L220.5 378.0L220.5 376.5L220.4 375.1L220.4 373.7L217.7 373.7L212.4 373.7L207.0 373.7L203.1 373.7L201.7 374.8L201.3 375.1L199.4 376.5L197.9 378.0L196.7 379.4L196.3 379.9L195.5 380.9L194.2 382.3L193.0 383.7L191.8 385.2L191.0 386.2L190.4 386.6L188.6 388.0L186.8 389.5L185.6 390.4L185.0 390.9L183.2 392.4L181.4 393.8L180.3 394.7L179.9 395.2L179.0 396.7L178.4 398.1L178.3 399.5L178.2 401.0L178.1 402.4L178.0 403.9L177.9 405.3L177.8 406.7L177.7 408.2L177.6 409.6L177.5 411.0L177.4 412.5L176.5 413.9L174.9 415.1L174.6 415.4L172.7 416.8L170.8 418.2L169.6 419.2L168.8 419.7L165.3 421.1L164.2 421.4L158.9 421.8L157.1 422.5L153.8 424.0L153.5 424.1L151.5 425.4L149.2 426.9L148.2 427.5L146.9 428.3L144.1 429.7L142.8 430.3L140.4 431.2L137.5 432.2L136.5 432.6L132.5 434.0L132.1 434.2L131.8 434.0L128.2 432.6L126.8 432.0L125.5 431.2L123.6 429.7L121.6 428.3L121.4 428.2L118.2 426.9L116.4 425.4L116.1 425.0L110.7 424.5L108.7 425.4L105.7 426.9L105.3 427.0L104.1 428.3L102.7 429.7L101.3 431.2L100.0 432.4L99.7 432.6L94.6 434.0L94.2 434.0L89.3 434.5L83.9 434.9L78.6 435.3L73.2 434.5L69.7 434.0L67.9 433.8L62.5 433.8L57.2 433.8L57.2 434.0L57.2 435.5L57.2 436.9L57.2 438.4L57.2 439.8Z"/>
<path fill="#31c69e" stroke="#31c69e" stroke-width="0.3" fill-rule="evenodd" d="M69.7 434.0L73.2 434.5L78.6 435.3L83.9 434.9L89.3 434.5L94.2 434.0L94.6 434.0L99.7 432.6L100.0 432.4L101.3 431.2L102.7 429.7L104.1 428.3L105.3 427.0L105.7 426.9L108.7 425.4L110.7 424.5L116.1 425.0L116.4 425.4L118.2 426.9L121.4 428.2L121.6 428.3L123.6 429.7L125.5 431.2L126.8 432.0L128.2 432.6L131.8 434.0L132.1 434.2L132.5 434.0L136.5 432.6L137.5 432.2L140.4 431.2L142.8 430.3L144.1 429.7L146.9 428.3L148.2 427.5L149.2 426.9L151.5 425.4L153.5 424.1L153.8 424.0L157.1 422.5L158.9 421.8L164.2 421.4L165.3 421.1L168.8 419.7L169.6 419.2L170.8 418.2L172.7 416.8L174.6 415.4L174.9 415.1L176.5 413.9L177.4 412.5L177.5 411.0L177.6 409.6L177.7 408.2L177.8 406.7L177.9 405.3L178.0 403.9L178.1 402.4L178.2 401.0L178.3 399.5L178.4 398.1L179.0 396.7L179.9 395.2L180.3 394.7L181.4 393.8L183.2 392.4L185.0 390.9L185.6 390.4L186.8 389.5L188.6 388.0L190.4 386.6L191.0 386.2L191.8 385.2L193.0 383.7L194.2 382.3L195.5 380.9L196.3 379.9L196.7 379.4L197.9 378.0L199.4 376.5L201.3 375.1L201.7 374.8L203.1 373.7L201.7 373.7L196.3 373.7L191.0 373.7L185.6 373.7L180.3 373.7L174.9 373.7L169.6 373.7L165.4 373.7L164.2 374.7L163.7 375.1L162.6 376.5L161.8 378.0L161.3 379.4L161.0 380.9L160.9 382.3L160.8 383.7L160.7 385.2L160.6 386.6L160.5 388.0L160.4 389.5L160.3 390.9L160.2 392.4L160.1 393.8L160.0 395.2L159.9 396.7L159.8 398.1L159.7 399.5L159.6 401.0L159.5 402.4L159.4 403.9L159.3 405.3L159.2 406.7L159.2 408.2L159.1 409.6L159.0 411.0L158.9 412.5L158.9 412.5L158.2 413.9L155.7 415.4L153.5 416.3L152.7 416.8L150.5 418.2L148.2 419.7L148.2 419.7L146.0 421.1L143.7 422.5L142.8 423.1L141.2 424.0L138.0 425.4L137.5 425.6L134.1 426.9L132.1 427.6L130.3 426.9L126.8 425.4L126.7 425.4L124.7 424.0L122.7 422.5L121.4 421.6L120.8 421.1L118.8 419.7L116.8 418.2L116.1 417.7L114.8 416.8L112.8 415.4L110.8 413.9L110.7 413.8L105.3 413.0L104.8 413.9L103.4 415.4L102.0 416.8L100.6 418.2L100.0 418.8L99.1 419.7L97.7 421.1L96.3 422.5L94.9 424.0L94.6 424.2L93.2 425.4L90.4 426.9L89.3 427.2L83.9 427.7L78.6 428.1L73.2 427.2L71.4 426.9L67.9 426.1L64.6 425.4L62.5 425.0L57.2 424.9L57.2 425.4L57.2 426.9L57.2 428.3L57.2 429.7L57.2 431.2L57.2 432.6L57.2 433.8L62.5 433.8L67.9 433.8ZM233.5 431.2L233.8 431.6L235.3 431.2L239.1 430.1L240.5 429.7L244.5 428.6L245.0 428.3L246.6 426.9L247.5 425.4L247.8 424.0L248.2 422.5L248.5 421.1L248.9 419.7L249.3 418.2L249.6 416.8L249.8 415.9L250.0 415.4L250.3 413.9L250.3 412.5L250.0 411.0L249.8 410.1L249.7 409.6L249.4 408.2L249.2 406.7L248.9 405.3L248.6 403.9L248.3 402.4L248.0 401.0L247.7 399.5L247.4 398.1L247.2 396.7L247.1 395.2L247.0 393.8L246.9 392.4L246.8 390.9L246.6 389.5L246.8 388.0L247.1 386.6L247.3 385.2L247.6 383.7L247.8 382.3L248.1 380.9L248.3 379.4L248.6 378.0L248.8 376.5L249.1 375.1L249.3 373.7L244.5 373.7L239.1 373.7L238.5 373.7L238.3 375.1L238.2 376.5L238.1 378.0L238.0 379.4L238.0 380.9L238.0 382.3L238.3 383.7L238.6 385.2L238.8 386.6L239.1 388.0L239.1 388.1L239.4 389.5L239.7 390.9L240.0 392.4L240.3 393.8L240.6 395.2L240.8 396.7L241.1 398.1L241.4 399.5L241.7 401.0L242.0 402.4L242.3 403.9L242.6 405.3L242.9 406.7L243.1 408.2L243.4 409.6L243.7 411.0L244.0 412.5L244.0 413.9L243.7 415.4L243.3 416.8L243.0 418.2L242.6 419.7L242.0 421.1L240.7 422.5L239.1 423.7L238.0 424.0L233.8 425.1L233.0 424.0L232.0 422.5L231.0 421.1L230.1 419.7L229.1 418.2L228.4 417.3L228.2 416.8L227.6 415.4L226.9 413.9L226.5 412.5L226.4 411.0L226.2 409.6L226.0 408.2L225.8 406.7L225.7 405.3L225.5 403.9L225.3 402.4L225.3 401.0L225.2 399.5L225.2 398.1L225.1 396.7L225.0 395.2L224.9 393.8L224.8 392.4L224.7 390.9L224.5 389.5L224.3 388.0L224.5 386.6L224.8 385.2L225.1 383.7L225.5 382.3L225.8 380.9L226.1 379.4L226.5 378.0L226.8 376.5L227.1 375.1L227.5 373.7L223.1 373.7L220.4 373.7L220.4 375.1L220.5 376.5L220.5 378.0L220.5 379.4L220.5 380.9L220.6 382.3L220.6 383.7L220.6 385.2L220.6 386.6L220.6 388.0L220.8 389.5L221.0 390.9L221.2 392.4L221.3 393.8L221.5 395.2L221.7 396.7L221.9 398.1L222.0 399.5L222.2 401.0L222.4 402.4L222.6 403.9L222.7 405.3L222.9 406.7L223.1 408.2L223.1 408.2L223.3 409.6L223.4 411.0L223.6 412.5L224.0 413.9L224.6 415.4L225.3 416.8L225.9 418.2L226.6 419.7L227.2 421.1L227.9 422.5L228.4 423.7L228.6 424.0L229.6 425.4L230.6 426.9L231.5 428.3L232.5 429.7ZM57.2 390.9L57.2 391.6L58.7 390.9L62.0 389.5L62.1 388.0L61.9 386.6L61.8 385.2L61.7 383.7L61.6 382.3L61.6 380.9L61.5 379.4L61.3 378.0L61.1 376.5L61.0 375.1L60.8 373.7L57.2 373.7L57.2 375.1L57.2 376.5L57.2 378.0L57.2 379.4L57.2 380.9L57.2 382.3L57.2 383.7L57.2 385.2L57.2 386.6L57.2 388.0L57.2 389.5Z"/>
<path fill="#86c856" stroke="#86c856" stroke-width="0.3" fill-rule="evenodd" d="M71.4 426.9L73.2 427.2L78.6 428.1L83.9 427.7L89.3 427.2L90.4 426.9L93.2 425.4L94.6 424.2L94.9 424.0L96.3 422.5L97.7 421.1L99.1 419.7L100.0 418.8L100.6 418.2L102.0 416.8L103.4 415.4L104.8 413.9L105.3 413.0L110.7 413.8L110.8 413.9L112.8 415.4L114.8 416.8L116.1 417.7L116.8 418.2L118.8 419.7L120.8 421.1L121.4 421.6L122.7 422.5L124.7 424.0L126.7 425.4L126.8 425.4L130.3 426.9L132.1 427.6L134.1 426.9L137.5 425.6L138.0 425.4L141.2 424.0L142.8 423.1L143.7 422.5L146.0 421.1L148.2 419.7L148.2 419.7L150.5 418.2L152.7 416.8L153.5 416.3L155.7 415.4L158.2 413.9L158.9 412.5L158.9 412.5L159.0 411.0L159.1 409.6L159.2 408.2L159.2 406.7L159.3 405.3L159.4 403.9L159.5 402.4L159.6 401.0L159.7 399.5L159.8 398.1L159.9 396.7L160.0 395.2L160.1 393.8L160.2 392.4L160.3 390.9L160.4 389.5L160.5 388.0L160.6 386.6L160.7 385.2L160.8 383.7L160.9 382.3L161.0 380.9L161.3 379.4L161.8 378.0L162.6 376.5L163.7 375.1L164.2 374.7L165.4 373.7L164.2 373.7L158.9 373.7L153.5 373.7L148.2 373.7L147.2 373.7L147.1 375.1L147.1 376.5L147.0 378.0L146.9 379.4L146.9 380.9L146.8 382.3L146.7 383.7L146.7 385.2L146.6 386.6L146.5 388.0L146.5 389.5L146.4 390.9L146.3 392.4L146.3 393.8L146.2 395.2L146.2 396.7L146.1 398.1L146.1 399.5L146.1 401.0L146.1 402.4L146.0 403.9L146.0 405.3L146.0 406.7L146.0 408.2L145.9 409.6L145.9 411.0L145.9 412.5L145.0 413.9L142.8 415.3L142.7 415.4L140.4 416.8L138.2 418.2L137.5 418.7L135.4 419.7L132.1 421.0L128.8 419.7L126.8 418.8L125.9 418.2L123.9 416.8L121.9 415.4L121.4 415.0L119.9 413.9L118.7 412.5L118.0 411.0L117.3 409.6L116.6 408.2L116.1 406.9L115.9 406.7L115.3 405.3L114.6 403.9L113.9 402.4L113.2 401.0L112.5 399.5L111.8 398.1L111.1 396.7L110.7 395.8L110.0 395.2L108.0 393.8L106.0 392.4L105.3 391.9L104.4 392.4L101.7 393.8L100.0 394.7L99.1 395.2L97.3 396.7L96.2 398.1L95.5 399.5L95.0 401.0L94.6 402.2L94.6 402.4L94.2 403.9L93.9 405.3L93.5 406.7L93.2 408.2L92.8 409.6L92.5 411.0L92.1 412.5L91.3 413.9L89.9 415.4L89.3 415.9L88.4 416.8L87.0 418.2L85.4 419.7L83.9 420.4L78.6 420.9L73.2 420.0L71.7 419.7L67.9 418.9L64.9 418.2L62.5 417.7L58.0 416.8L57.2 416.6L57.2 416.8L57.2 418.2L57.2 419.7L57.2 421.1L57.2 422.5L57.2 424.0L57.2 424.9L62.5 425.0L64.6 425.4L67.9 426.1ZM233.0 424.0L233.8 425.1L238.0 424.0L239.1 423.7L240.7 422.5L242.0 421.1L242.6 419.7L243.0 418.2L243.3 416.8L243.7 415.4L244.0 413.9L244.0 412.5L243.7 411.0L243.4 409.6L243.1 408.2L242.9 406.7L242.6 405.3L242.3 403.9L242.0 402.4L241.7 401.0L241.4 399.5L241.1 398.1L240.8 396.7L240.6 395.2L240.3 393.8L240.0 392.4L239.7 390.9L239.4 389.5L239.1 388.1L239.1 388.0L238.8 386.6L238.6 385.2L238.3 383.7L238.0 382.3L238.0 380.9L238.0 379.4L238.1 378.0L238.2 376.5L238.3 375.1L238.5 373.7L233.8 373.7L228.4 373.7L227.5 373.7L227.1 375.1L226.8 376.5L226.5 378.0L226.1 379.4L225.8 380.9L225.5 382.3L225.1 383.7L224.8 385.2L224.5 386.6L224.3 388.0L224.5 389.5L224.7 390.9L224.8 392.4L224.9 393.8L225.0 395.2L225.1 396.7L225.2 398.1L225.2 399.5L225.3 401.0L225.3 402.4L225.5 403.9L225.7 405.3L225.8 406.7L226.0 408.2L226.2 409.6L226.4 411.0L226.5 412.5L226.9 413.9L227.6 415.4L228.2 416.8L228.4 417.3L229.1 418.2L230.1 419.7L231.0 421.1L232.0 422.5ZM233.8 418.7L233.5 418.2L232.5 416.8L231.5 415.4L230.8 413.9L230.4 412.5L230.2 411.0L230.1 409.6L229.8 408.2L229.5 406.7L229.1 405.3L228.4 404.0L228.4 403.9L228.3 402.4L228.4 401.1L228.5 401.0L229.5 399.5L230.4 398.1L231.3 396.7L232.2 395.2L233.2 393.8L233.8 392.8L234.0 393.8L234.3 395.2L234.5 396.7L234.8 398.1L235.1 399.5L235.4 401.0L235.7 402.4L236.0 403.9L236.3 405.3L236.6 406.7L236.8 408.2L237.1 409.6L237.4 411.0L237.7 412.5L237.7 413.9L237.2 415.4L236.3 416.8L234.6 418.2ZM57.2 405.3L57.2 406.5L60.0 405.3L62.5 404.2L63.3 403.9L66.6 402.4L67.9 401.9L68.4 401.0L69.0 399.5L69.5 398.1L69.5 396.7L69.3 395.2L69.1 393.8L69.0 392.4L68.8 390.9L68.7 389.5L68.5 388.0L68.3 386.6L68.2 385.2L68.0 383.7L67.9 382.6L67.9 382.3L67.7 380.9L67.5 379.4L67.4 378.0L67.2 376.5L67.1 375.1L66.9 373.7L62.5 373.7L60.8 373.7L61.0 375.1L61.1 376.5L61.3 378.0L61.5 379.4L61.6 380.9L61.6 382.3L61.7 383.7L61.8 385.2L61.9 386.6L62.1 388.0L62.0 389.5L58.7 390.9L57.2 391.6L57.2 392.4L57.2 393.8L57.2 395.2L57.2 396.7L57.2 398.1L57.2 399.5L57.2 401.0L57.2 402.4L57.2 403.9Z"/>
<path fill="#e5bc32" stroke="#e5bc32" stroke-width="0.3" fill-rule="evenodd" d="M71.7 419.7L73.2 420.0L78.6 420.9L83.9 420.4L85.4 419.7L87.0 418.2L88.4 416.8L89.3 415.9L89.9 415.4L91.3 413.9L92.1 412.5L92.5 411.0L92.8 409.6L93.2 408.2L93.5 406.7L93.9 405.3L94.2 403.9L94.6 402.4L94.6 402.2L95.0 401.0L95.5 399.5L96.2 398.1L97.3 396.7L99.1 395.2L100.0 394.7L101.7 393.8L104.4 392.4L105.3 391.9L106.0 392.4L108.0 393.8L110.0 395.2L110.7 395.8L111.1 396.7L111.8 398.1L112.5 399.5L113.2 401.0L113.9 402.4L114.6 403.9L115.3 405.3L115.9 406.7L116.1 406.9L116.6 408.2L117.3 409.6L118.0 411.0L118.7 412.5L119.9 413.9L121.4 415.0L121.9 415.4L123.9 416.8L125.9 418.2L126.8 418.8L128.8 419.7L132.1 421.0L135.4 419.7L137.5 418.7L138.2 418.2L140.4 416.8L142.7 415.4L142.8 415.3L145.0 413.9L145.9 412.5L145.9 411.0L145.9 409.6L146.0 408.2L146.0 406.7L146.0 405.3L146.0 403.9L146.1 402.4L146.1 401.0L146.1 399.5L146.1 398.1L146.2 396.7L146.2 395.2L146.3 393.8L146.3 392.4L146.4 390.9L146.5 389.5L146.5 388.0L146.6 386.6L146.7 385.2L146.7 383.7L146.8 382.3L146.9 380.9L146.9 379.4L147.0 378.0L147.1 376.5L147.1 375.1L147.2 373.7L142.8 373.7L137.5 373.7L134.3 373.7L134.3 375.1L134.2 376.5L134.2 378.0L134.1 379.4L134.1 380.9L134.1 382.3L134.0 383.7L134.0 385.2L134.0 386.6L134.0 388.0L134.0 389.5L133.9 390.9L133.9 392.4L133.9 393.8L133.9 395.2L133.9 396.7L133.8 398.1L133.8 399.5L133.8 401.0L133.8 402.4L133.7 403.9L133.7 405.3L133.7 406.7L133.7 408.2L133.7 409.6L133.6 411.0L133.6 412.5L132.7 413.9L132.1 414.3L131.3 413.9L129.4 412.5L128.1 411.0L126.8 410.2L126.5 409.6L125.8 408.2L125.1 406.7L124.7 405.3L124.4 403.9L123.9 402.4L123.2 401.0L122.0 399.5L121.4 399.0L121.0 398.1L120.3 396.7L120.1 395.2L119.8 393.8L119.5 392.4L119.0 390.9L118.1 389.5L116.4 388.0L116.1 387.8L115.5 386.6L115.4 385.2L115.3 383.7L115.1 382.3L114.9 380.9L114.4 379.4L113.4 378.0L111.7 376.5L111.6 375.1L111.4 373.7L110.7 373.7L105.3 373.7L103.6 373.7L100.9 375.1L100.0 375.6L98.3 376.5L95.6 378.0L94.6 378.5L92.9 379.4L90.2 380.9L89.3 381.3L88.0 382.3L86.6 383.7L85.7 385.2L85.1 386.6L84.6 388.0L84.2 389.5L83.9 390.7L83.9 390.9L83.5 392.4L83.2 393.8L82.8 395.2L82.5 396.7L82.1 398.1L81.8 399.5L81.4 401.0L81.1 402.4L80.7 403.9L80.3 405.3L80.0 406.7L79.6 408.2L79.3 409.6L78.9 411.0L78.6 412.4L78.1 411.0L77.9 409.6L77.8 408.2L77.7 406.7L77.5 405.3L77.3 403.9L77.1 402.4L76.9 401.0L76.7 399.5L76.5 398.1L76.3 396.7L76.1 395.2L75.9 393.8L75.6 392.4L75.4 390.9L75.2 389.5L75.0 388.0L74.8 386.6L74.6 385.2L74.4 383.7L74.2 382.3L74.0 380.9L73.7 379.4L73.5 378.0L73.3 376.5L73.2 376.0L73.1 375.1L73.0 373.7L67.9 373.7L66.9 373.7L67.1 375.1L67.2 376.5L67.4 378.0L67.5 379.4L67.7 380.9L67.9 382.3L67.9 382.6L68.0 383.7L68.2 385.2L68.3 386.6L68.5 388.0L68.7 389.5L68.8 390.9L69.0 392.4L69.1 393.8L69.3 395.2L69.5 396.7L69.5 398.1L69.0 399.5L68.4 401.0L67.9 401.9L66.6 402.4L63.3 403.9L62.5 404.2L60.0 405.3L57.2 406.5L57.2 406.7L57.2 408.2L57.2 409.6L57.2 411.0L57.2 412.5L57.2 413.9L57.2 415.4L57.2 416.6L58.0 416.8L62.5 417.7L64.9 418.2L67.9 418.9ZM233.5 418.2L233.8 418.7L234.6 418.2L236.3 416.8L237.2 415.4L237.7 413.9L237.7 412.5L237.4 411.0L237.1 409.6L236.8 408.2L236.6 406.7L236.3 405.3L236.0 403.9L235.7 402.4L235.4 401.0L235.1 399.5L234.8 398.1L234.5 396.7L234.3 395.2L234.0 393.8L233.8 392.8L233.2 393.8L232.2 395.2L231.3 396.7L230.4 398.1L229.5 399.5L228.5 401.0L228.4 401.1L228.3 402.4L228.4 403.9L228.4 404.0L229.1 405.3L229.5 406.7L229.8 408.2L230.1 409.6L230.2 411.0L230.4 412.5L230.8 413.9L231.5 415.4L232.5 416.8Z"/>
<path fill="#fdcf31" stroke="#fdcf31" stroke-width="0.3" fill-rule="evenodd" d="M131.3 413.9L132.1 414.3L132.7 413.9L133.6 412.5L133.6 411.0L133.7 409.6L133.7 408.2L133.7 406.7L133.7 405.3L133.7 403.9L133.8 402.4L133.8 401.0L133.8 399.5L133.8 398.1L133.9 396.7L133.9 395.2L133.9 393.8L133.9 392.4L133.9 390.9L134.0 389.5L134.0 388.0L134.0 386.6L134.0 385.2L134.0 383.7L134.1 382.3L134.1 380.9L134.1 379.4L134.2 378.0L134.2 376.5L134.3 375.1L134.3 373.7L132.1 373.7L126.8 373.7L121.4 373.7L116.1 373.7L111.4 373.7L111.6 375.1L111.7 376.5L113.4 378.0L114.4 379.4L114.9 380.9L115.1 382.3L115.3 383.7L115.4 385.2L115.5 386.6L116.1 387.8L116.4 388.0L118.1 389.5L119.0 390.9L119.5 392.4L119.8 393.8L120.1 395.2L120.3 396.7L121.0 398.1L121.4 399.0L122.0 399.5L123.2 401.0L123.9 402.4L124.4 403.9L124.7 405.3L125.1 406.7L125.8 408.2L126.5 409.6L126.8 410.2L128.1 411.0L129.4 412.5ZM78.1 411.0L78.6 412.4L78.9 411.0L79.3 409.6L79.6 408.2L80.0 406.7L80.3 405.3L80.7 403.9L81.1 402.4L81.4 401.0L81.8 399.5L82.1 398.1L82.5 396.7L82.8 395.2L83.2 393.8L83.5 392.4L83.9 390.9L83.9 390.7L84.2 389.5L84.6 388.0L85.1 386.6L85.7 385.2L86.6 383.7L88.0 382.3L89.3 381.3L90.2 380.9L92.9 379.4L94.6 378.5L95.6 378.0L98.3 376.5L100.0 375.6L100.9 375.1L103.6 373.7L100.0 373.7L94.6 373.7L89.3 373.7L83.9 373.7L78.6 373.7L73.2 373.7L73.0 373.7L73.1 375.1L73.2 376.0L73.3 376.5L73.5 378.0L73.7 379.4L74.0 380.9L74.2 382.3L74.4 383.7L74.6 385.2L74.8 386.6L75.0 388.0L75.2 389.5L75.4 390.9L75.6 392.4L75.9 393.8L76.1 395.2L76.3 396.7L76.5 398.1L76.7 399.5L76.9 401.0L77.1 402.4L77.3 403.9L77.5 405.3L77.7 406.7L77.8 408.2L77.9 409.6Z"/>
<path fill="none" stroke="#1a1a1a" stroke-opacity="0.6" stroke-width="0.35" stroke-linejoin="round" d="M306.7 441.2L306.9 439.8L307.0 438.4L307.4 436.9L308.0 435.5L308.6 434.0L308.7 433.9M296.6 441.2L296.8 439.8L297.0 438.4L297.1 436.9L297.3 435.5L297.5 434.0L297.7 432.6L297.8 431.2L298.0 429.8L298.0 429.7L298.5 428.3L299.2 426.9L299.9 425.4L300.7 424.0L301.4 422.5L302.2 421.1L302.9 419.7L303.3 418.8L303.6 418.2L304.4 416.8L305.1 415.4L305.9 413.9L306.2 412.5L306.3 411.0L306.5 409.6L306.6 408.2L306.7 406.7L306.9 405.3L307.2 403.9L307.5 402.4L307.8 401.0L308.1 399.5L308.5 398.1L308.7 397.2M197.2 441.2L200.5 439.8L201.7 439.3L203.7 438.4L206.9 436.9L207.0 436.9L210.0 435.5L212.3 434.0L212.4 434.0L214.2 432.6L216.0 431.2L217.7 429.8L218.3 431.2L218.8 432.6L219.4 434.0L220.0 435.5L220.5 436.9L221.1 438.4L221.7 439.8L222.2 441.2M286.6 441.2L286.8 439.8L286.9 438.4L287.1 436.9L287.3 435.5L287.3 435.3L287.4 434.0L287.6 432.6L287.8 431.2L288.0 429.7L288.1 428.3L288.3 426.9L288.5 425.4L288.7 424.0L289.0 422.5L289.3 421.1L289.7 419.7L290.5 418.2L291.2 416.8L292.0 415.4L292.6 414.0L292.7 413.9L293.1 412.5L293.2 411.0L293.3 409.6L293.4 408.2L293.5 406.7L293.7 405.3L293.8 403.9L293.9 402.4L294.0 401.0L294.1 399.5L294.2 398.1L294.4 396.7L294.5 395.2L294.6 393.8L294.8 392.4L295.0 390.9L295.2 389.5L295.4 388.0L295.8 386.6L296.1 385.2L296.5 383.7L296.8 382.3L297.2 380.9L297.5 379.4L297.9 378.0L298.0 377.5L298.2 376.5L298.6 375.1L298.9 373.7M149.1 441.2L153.1 439.8L153.5 439.6L156.8 438.4L158.9 437.4L164.2 437.0L165.9 436.9L169.6 436.6L174.9 436.3L180.3 435.9L183.4 435.5L185.6 435.0L186.9 434.0L188.8 432.6L190.7 431.2L191.0 431.0L193.0 429.7L195.3 428.3L196.3 427.7L198.1 426.9L201.4 425.4L201.7 425.3L203.6 424.0L205.4 422.5L207.0 421.1L207.0 421.1L208.6 419.7L210.2 418.2L211.8 416.8L212.4 416.2L213.5 415.4L215.3 413.9L217.6 412.5L217.7 412.4L217.7 412.5L218.0 413.9L218.3 415.4L218.7 416.8L219.1 418.2L219.6 419.7L220.2 421.1L221.1 422.5L222.2 424.0L223.0 425.4L223.1 425.6L223.3 426.9L223.6 428.3L224.0 429.7L224.5 431.2L225.1 432.6L226.0 434.0L226.9 435.5L227.5 436.9L228.1 438.4L228.4 439.3L228.6 439.8L229.4 441.2M245.6 441.2L249.8 440.1L250.8 439.8L255.2 438.6L255.5 438.4L257.0 436.9L257.6 435.5L258.0 434.0L258.3 432.6L258.7 431.2L259.0 429.7L259.4 428.3L259.7 426.9L260.1 425.4L260.4 424.0L260.5 423.6L265.9 423.1L271.2 423.2L271.8 422.5L273.0 421.1L274.3 419.7L275.6 418.2L276.6 417.1L276.7 416.8L277.0 415.4L277.5 413.9L278.1 412.5L278.5 411.0L278.9 409.6L279.3 408.2L279.6 406.7L279.8 405.3L280.0 403.9L280.2 402.4L280.3 401.0L280.5 399.5L280.7 398.1L280.8 396.7L281.0 395.2L281.2 393.8L281.4 392.4L281.5 390.9L281.7 389.5L281.9 388.0L281.9 387.5L282.0 386.6L282.1 385.2L282.2 383.7L282.4 382.3L282.5 380.9L282.6 379.4L282.8 378.0L282.9 376.5L283.1 375.1L283.4 373.7M94.9 441.2L100.0 440.8L105.3 440.3L107.2 439.8L110.2 438.4L110.7 438.1L113.2 438.4L116.1 438.6L121.4 439.1L126.8 439.6L127.2 439.8L132.1 440.8L134.8 439.8L137.5 438.8L138.8 438.4L142.8 436.9L142.8 436.9L146.7 435.5L148.2 435.0L150.0 434.0L152.5 432.6L153.5 431.9L155.3 431.2L158.6 429.7L158.9 429.6L164.2 429.2L169.6 428.8L174.9 428.4L175.3 428.3L177.9 426.9L179.8 425.4L180.3 425.1L181.7 424.0L183.6 422.5L185.5 421.1L185.6 421.0L187.4 419.7L189.3 418.2L191.0 417.0L191.3 416.8L193.5 415.4L195.3 413.9L196.3 412.7L196.5 412.5L197.3 411.0L198.2 409.6L199.0 408.2L199.9 406.7L200.8 405.3L201.6 403.9L201.7 403.8L202.5 402.4L203.3 401.0L204.2 399.5L205.0 398.1L205.9 396.7L206.8 395.2L207.0 394.9L208.4 393.8L210.2 392.4L212.1 390.9L212.4 390.7L215.0 389.5L217.7 388.2L217.9 389.5L218.1 390.9L218.2 392.4L218.4 393.8L218.6 395.2L218.8 396.7L218.9 398.1L219.1 399.5L219.3 401.0L219.5 402.4L219.6 403.9L219.8 405.3L220.0 406.7L220.1 408.2L220.3 409.6L220.5 411.0L220.7 412.5L221.0 413.9L221.6 415.4L222.2 416.8L223.0 418.2L223.1 418.4L223.7 419.7L224.3 421.1L225.0 422.5L225.6 424.0L226.1 425.4L226.7 426.9L227.3 428.3L228.1 429.7L228.4 430.2L229.1 431.2L230.1 432.6L231.1 434.0L232.0 435.5L232.9 436.9L233.8 438.0L237.9 436.9L239.1 436.6L243.1 435.5L244.5 435.1L248.3 434.0L249.8 433.6L251.1 432.6L252.3 431.2L252.7 429.7L253.1 428.3L253.4 426.9L253.8 425.4L254.1 424.0L254.5 422.5L254.8 421.1L255.2 419.7L255.2 419.7L255.6 418.2L255.9 416.8L256.3 415.4L256.6 413.9L256.6 412.5L256.4 411.0L256.2 409.6L255.9 408.2L255.6 406.7L255.2 405.4L255.2 405.3L255.1 403.9L255.2 402.7L255.2 402.4L255.5 401.0L255.7 399.5L256.0 398.1L256.2 396.7L256.5 395.2L256.7 393.8L257.0 392.4L257.2 390.9L257.4 389.5L257.7 388.0L257.9 386.6L258.2 385.2L258.4 383.7L258.7 382.3L258.9 380.9L259.2 379.4L259.4 378.0L259.7 376.5L259.9 375.1L260.2 373.7M57.2 433.8L62.5 433.8L67.9 433.8L69.7 434.0L73.2 434.5L78.6 435.3L83.9 434.9L89.3 434.5L94.2 434.0L94.6 434.0L99.7 432.6L100.0 432.4L101.3 431.2L102.7 429.7L104.1 428.3L105.3 427.0L105.7 426.9L108.7 425.4L110.7 424.5L116.1 425.0L116.4 425.4L118.2 426.9L121.4 428.2L121.6 428.3L123.6 429.7L125.5 431.2L126.8 432.0L128.2 432.6L131.8 434.0L132.1 434.2L132.5 434.0L136.5 432.6L137.5 432.2L140.4 431.2L142.8 430.3L144.1 429.7L146.9 428.3L148.2 427.5L149.2 426.9L151.5 425.4L153.5 424.1L153.8 424.0L157.1 422.5L158.9 421.8L164.2 421.4L165.3 421.1L168.8 419.7L169.6 419.2L170.8 418.2L172.7 416.8L174.6 415.4L174.9 415.1L176.5 413.9L177.4 412.5L177.5 411.0L177.6 409.6L177.7 408.2L177.8 406.7L177.9 405.3L178.0 403.9L178.1 402.4L178.2 401.0L178.3 399.5L178.4 398.1L179.0 396.7L179.9 395.2L180.3 394.7L181.4 393.8L183.2 392.4L185.0 390.9L185.6 390.4L186.8 389.5L188.6 388.0L190.4 386.6L191.0 386.2L191.8 385.2L193.0 383.7L194.2 382.3L195.5 380.9L196.3 379.9L196.7 379.4L197.9 378.0L199.4 376.5L201.3 375.1L201.7 374.8L203.1 373.7M220.4 373.7L220.4 375.1L220.5 376.5L220.5 378.0L220.5 379.4L220.5 380.9L220.6 382.3L220.6 383.7L220.6 385.2L220.6 386.6L220.6 388.0L220.8 389.5L221.0 390.9L221.2 392.4L221.3 393.8L221.5 395.2L221.7 396.7L221.9 398.1L222.0 399.5L222.2 401.0L222.4 402.4L222.6 403.9L222.7 405.3L222.9 406.7L223.1 408.2L223.1 408.2L223.3 409.6L223.4 411.0L223.6 412.5L224.0 413.9L224.6 415.4L225.3 416.8L225.9 418.2L226.6 419.7L227.2 421.1L227.9 422.5L228.4 423.7L228.6 424.0L229.6 425.4L230.6 426.9L231.5 428.3L232.5 429.7L233.5 431.2L233.8 431.6L235.3 431.2L239.1 430.1L240.5 429.7L244.5 428.6L245.0 428.3L246.6 426.9L247.5 425.4L247.8 424.0L248.2 422.5L248.5 421.1L248.9 419.7L249.3 418.2L249.6 416.8L249.8 415.9L250.0 415.4L250.3 413.9L250.3 412.5L250.0 411.0L249.8 410.1L249.7 409.6L249.4 408.2L249.2 406.7L248.9 405.3L248.6 403.9L248.3 402.4L248.0 401.0L247.7 399.5L247.4 398.1L247.2 396.7L247.1 395.2L247.0 393.8L246.9 392.4L246.8 390.9L246.6 389.5L246.8 388.0L247.1 386.6L247.3 385.2L247.6 383.7L247.8 382.3L248.1 380.9L248.3 379.4L248.6 378.0L248.8 376.5L249.1 375.1L249.3 373.7M57.2 424.9L62.5 425.0L64.6 425.4L67.9 426.1L71.4 426.9L73.2 427.2L78.6 428.1L83.9 427.7L89.3 427.2L90.4 426.9L93.2 425.4L94.6 424.2L94.9 424.0L96.3 422.5L97.7 421.1L99.1 419.7L100.0 418.8L100.6 418.2L102.0 416.8L103.4 415.4L104.8 413.9L105.3 413.0L110.7 413.8L110.8 413.9L112.8 415.4L114.8 416.8L116.1 417.7L116.8 418.2L118.8 419.7L120.8 421.1L121.4 421.6L122.7 422.5L124.7 424.0L126.7 425.4L126.8 425.4L130.3 426.9L132.1 427.6L134.1 426.9L137.5 425.6L138.0 425.4L141.2 424.0L142.8 423.1L143.7 422.5L146.0 421.1L148.2 419.7L148.2 419.7L150.5 418.2L152.7 416.8L153.5 416.3L155.7 415.4L158.2 413.9L158.9 412.5L158.9 412.5L159.0 411.0L159.1 409.6L159.2 408.2L159.2 406.7L159.3 405.3L159.4 403.9L159.5 402.4L159.6 401.0L159.7 399.5L159.8 398.1L159.9 396.7L160.0 395.2L160.1 393.8L160.2 392.4L160.3 390.9L160.4 389.5L160.5 388.0L160.6 386.6L160.7 385.2L160.8 383.7L160.9 382.3L161.0 380.9L161.3 379.4L161.8 378.0L162.6 376.5L163.7 375.1L164.2 374.7L165.4 373.7M60.8 373.7L61.0 375.1L61.1 376.5L61.3 378.0L61.5 379.4L61.6 380.9L61.6 382.3L61.7 383.7L61.8 385.2L61.9 386.6L62.1 388.0L62.0 389.5L58.7 390.9L57.2 391.6M227.5 373.7L227.1 375.1L226.8 376.5L226.5 378.0L226.1 379.4L225.8 380.9L225.5 382.3L225.1 383.7L224.8 385.2L224.5 386.6L224.3 388.0L224.5 389.5L224.7 390.9L224.8 392.4L224.9 393.8L225.0 395.2L225.1 396.7L225.2 398.1L225.2 399.5L225.3 401.0L225.3 402.4L225.5 403.9L225.7 405.3L225.8 406.7L226.0 408.2L226.2 409.6L226.4 411.0L226.5 412.5L226.9 413.9L227.6 415.4L228.2 416.8L228.4 417.3L229.1 418.2L230.1 419.7L231.0 421.1L232.0 422.5L233.0 424.0L233.8 425.1L238.0 424.0L239.1 423.7L240.7 422.5L242.0 421.1L242.6 419.7L243.0 418.2L243.3 416.8L243.7 415.4L244.0 413.9L244.0 412.5L243.7 411.0L243.4 409.6L243.1 408.2L242.9 406.7L242.6 405.3L242.3 403.9L242.0 402.4L241.7 401.0L241.4 399.5L241.1 398.1L240.8 396.7L240.6 395.2L240.3 393.8L240.0 392.4L239.7 390.9L239.4 389.5L239.1 388.1L239.1 388.0L238.8 386.6L238.6 385.2L238.3 383.7L238.0 382.3L238.0 380.9L238.0 379.4L238.1 378.0L238.2 376.5L238.3 375.1L238.5 373.7M233.5 418.2L233.8 418.7L234.6 418.2L236.3 416.8L237.2 415.4L237.7 413.9L237.7 412.5L237.4 411.0L237.1 409.6L236.8 408.2L236.6 406.7L236.3 405.3L236.0 403.9L235.7 402.4L235.4 401.0L235.1 399.5L234.8 398.1L234.5 396.7L234.3 395.2L234.0 393.8L233.8 392.8L233.2 393.8L232.2 395.2L231.3 396.7L230.4 398.1L229.5 399.5L228.5 401.0L228.4 401.1L228.3 402.4L228.4 403.9L228.4 404.0L229.1 405.3L229.5 406.7L229.8 408.2L230.1 409.6L230.2 411.0L230.4 412.5L230.8 413.9L231.5 415.4L232.5 416.8L233.5 418.2M57.2 416.6L58.0 416.8L62.5 417.7L64.9 418.2L67.9 418.9L71.7 419.7L73.2 420.0L78.6 420.9L83.9 420.4L85.4 419.7L87.0 418.2L88.4 416.8L89.3 415.9L89.9 415.4L91.3 413.9L92.1 412.5L92.5 411.0L92.8 409.6L93.2 408.2L93.5 406.7L93.9 405.3L94.2 403.9L94.6 402.4L94.6 402.2L95.0 401.0L95.5 399.5L96.2 398.1L97.3 396.7L99.1 395.2L100.0 394.7L101.7 393.8L104.4 392.4L105.3 391.9L106.0 392.4L108.0 393.8L110.0 395.2L110.7 395.8L111.1 396.7L111.8 398.1L112.5 399.5L113.2 401.0L113.9 402.4L114.6 403.9L115.3 405.3L115.9 406.7L116.1 406.9L116.6 408.2L117.3 409.6L118.0 411.0L118.7 412.5L119.9 413.9L121.4 415.0L121.9 415.4L123.9 416.8L125.9 418.2L126.8 418.8L128.8 419.7L132.1 421.0L135.4 419.7L137.5 418.7L138.2 418.2L140.4 416.8L142.7 415.4L142.8 415.3L145.0 413.9L145.9 412.5L145.9 411.0L145.9 409.6L146.0 408.2L146.0 406.7L146.0 405.3L146.0 403.9L146.1 402.4L146.1 401.0L146.1 399.5L146.1 398.1L146.2 396.7L146.2 395.2L146.3 393.8L146.3 392.4L146.4 390.9L146.5 389.5L146.5 388.0L146.6 386.6L146.7 385.2L146.7 383.7L146.8 382.3L146.9 380.9L146.9 379.4L147.0 378.0L147.1 376.5L147.1 375.1L147.2 373.7M66.9 373.7L67.1 375.1L67.2 376.5L67.4 378.0L67.5 379.4L67.7 380.9L67.9 382.3L67.9 382.6L68.0 383.7L68.2 385.2L68.3 386.6L68.5 388.0L68.7 389.5L68.8 390.9L69.0 392.4L69.1 393.8L69.3 395.2L69.5 396.7L69.5 398.1L69.0 399.5L68.4 401.0L67.9 401.9L66.6 402.4L63.3 403.9L62.5 404.2L60.0 405.3L57.2 406.5M73.0 373.7L73.1 375.1L73.2 376.0L73.3 376.5L73.5 378.0L73.7 379.4L74.0 380.9L74.2 382.3L74.4 383.7L74.6 385.2L74.8 386.6L75.0 388.0L75.2 389.5L75.4 390.9L75.6 392.4L75.9 393.8L76.1 395.2L76.3 396.7L76.5 398.1L76.7 399.5L76.9 401.0L77.1 402.4L77.3 403.9L77.5 405.3L77.7 406.7L77.8 408.2L77.9 409.6L78.1 411.0L78.6 412.4L78.9 411.0L79.3 409.6L79.6 408.2L80.0 406.7L80.3 405.3L80.7 403.9L81.1 402.4L81.4 401.0L81.8 399.5L82.1 398.1L82.5 396.7L82.8 395.2L83.2 393.8L83.5 392.4L83.9 390.9L83.9 390.7L84.2 389.5L84.6 388.0L85.1 386.6L85.7 385.2L86.6 383.7L88.0 382.3L89.3 381.3L90.2 380.9L92.9 379.4L94.6 378.5L95.6 378.0L98.3 376.5L100.0 375.6L100.9 375.1L103.6 373.7M111.4 373.7L111.6 375.1L111.7 376.5L113.4 378.0L114.4 379.4L114.9 380.9L115.1 382.3L115.3 383.7L115.4 385.2L115.5 386.6L116.1 387.8L116.4 388.0L118.1 389.5L119.0 390.9L119.5 392.4L119.8 393.8L120.1 395.2L120.3 396.7L121.0 398.1L121.4 399.0L122.0 399.5L123.2 401.0L123.9 402.4L124.4 403.9L124.7 405.3L125.1 406.7L125.8 408.2L126.5 409.6L126.8 410.2L128.1 411.0L129.4 412.5L131.3 413.9L132.1 414.3L132.7 413.9L133.6 412.5L133.6 411.0L133.7 409.6L133.7 408.2L133.7 406.7L133.7 405.3L133.7 403.9L133.8 402.4L133.8 401.0L133.8 399.5L133.8 398.1L133.9 396.7L133.9 395.2L133.9 393.8L133.9 392.4L133.9 390.9L134.0 389.5L134.0 388.0L134.0 386.6L134.0 385.2L134.0 383.7L134.1 382.3L134.1 380.9L134.1 379.4L134.2 378.0L134.2 376.5L134.3 375.1L134.3 373.7"/>
<rect x="38.9" y="369.1" width="287.7" height="77.0" fill="none" stroke="#c4c4c4" stroke-width="0.7"/>
<path d="M47.8 445.6v-2.5M47.8 369.3v2.5M76.5 445.6v-2.5M76.5 369.3v2.5M105.3 445.6v-2.5M105.3 369.3v2.5M134.0 445.6v-2.5M134.0 369.3v2.5M162.7 445.6v-2.5M162.7 369.3v2.5M191.4 445.6v-2.5M191.4 369.3v2.5M220.1 445.6v-2.5M220.1 369.3v2.5M248.9 445.6v-2.5M248.9 369.3v2.5M277.6 445.6v-2.5M277.6 369.3v2.5M306.3 445.6v-2.5M306.3 369.3v2.5M39.2 442.7h2.5M326.4 442.7h-2.5M39.2 413.3h2.5M326.4 413.3h-2.5M39.2 384.0h2.5M326.4 384.0h-2.5" stroke="#9a9a9a" stroke-width="0.5" fill="none"/>
<g fill="#222"><circle cx="51.8" cy="442.7" r="0.6"/><circle cx="77.7" cy="442.7" r="0.6"/><circle cx="108.1" cy="442.7" r="0.6"/><circle cx="130.5" cy="442.7" r="0.6"/><circle cx="157.0" cy="442.7" r="0.6"/><circle cx="194.0" cy="442.7" r="0.6"/><circle cx="217.6" cy="442.7" r="0.6"/><circle cx="232.2" cy="442.7" r="0.6"/><circle cx="261.5" cy="442.7" r="0.6"/><circle cx="279.9" cy="442.7" r="0.6"/><circle cx="314.1" cy="442.7" r="0.6"/><circle cx="51.8" cy="413.3" r="0.6"/><circle cx="77.7" cy="413.3" r="0.6"/><circle cx="108.1" cy="413.3" r="0.6"/><circle cx="130.5" cy="413.3" r="0.6"/><circle cx="157.0" cy="413.3" r="0.6"/><circle cx="194.0" cy="413.3" r="0.6"/><circle cx="217.6" cy="413.3" r="0.6"/><circle cx="232.2" cy="413.3" r="0.6"/><circle cx="261.5" cy="413.3" r="0.6"/><circle cx="279.9" cy="413.3" r="0.6"/><circle cx="314.1" cy="413.3" r="0.6"/><circle cx="51.8" cy="372.2" r="0.6"/><circle cx="77.7" cy="372.2" r="0.6"/><circle cx="108.1" cy="372.2" r="0.6"/><circle cx="130.5" cy="372.2" r="0.6"/><circle cx="157.0" cy="372.2" r="0.6"/><circle cx="194.0" cy="372.2" r="0.6"/><circle cx="217.6" cy="372.2" r="0.6"/><circle cx="232.2" cy="372.2" r="0.6"/><circle cx="261.5" cy="372.2" r="0.6"/><circle cx="279.9" cy="372.2" r="0.6"/><circle cx="314.1" cy="372.2" r="0.6"/></g>
<g font-size="10.3" fill="#2b2b2b"><text transform="translate(47.8 457.9) scale(0.88 1)" text-anchor="middle">5</text><text transform="translate(76.5 457.9) scale(0.88 1)" text-anchor="middle">5.5</text><text transform="translate(105.3 457.9) scale(0.88 1)" text-anchor="middle">6</text><text transform="translate(134.0 457.9) scale(0.88 1)" text-anchor="middle">6.5</text><text transform="translate(162.7 457.9) scale(0.88 1)" text-anchor="middle">7</text><text transform="translate(191.4 457.9) scale(0.88 1)" text-anchor="middle">7.5</text><text transform="translate(220.1 457.9) scale(0.88 1)" text-anchor="middle">8</text><text transform="translate(248.9 457.9) scale(0.88 1)" text-anchor="middle">8.5</text><text transform="translate(277.6 457.9) scale(0.88 1)" text-anchor="middle">9</text><text transform="translate(306.3 457.9) scale(0.88 1)" text-anchor="middle">9.5</text><text transform="translate(36.3 446.4) scale(0.88 1)" text-anchor="end">25</text><text transform="translate(36.3 417.0) scale(0.88 1)" text-anchor="end">30</text><text transform="translate(36.3 387.7) scale(0.88 1)" text-anchor="end">35</text></g>
<text transform="translate(182.8 470.4) scale(0.86 1)" font-size="11" fill="#222" text-anchor="middle">pH</text>
<text font-size="11.4" fill="#222" text-anchor="middle" transform="translate(24.5 406.9) rotate(-90) scale(0.905 1)">Temperature (°C)</text>
<rect x="329.7" y="369.3" width="4.6" height="76.3" fill="url(#pg)" stroke="#bbb" stroke-width="0.3"/>
<g font-size="9.8" fill="#2b2b2b"><text transform="translate(336.6 436.2) scale(0.88 1)">1.5</text><text transform="translate(336.6 415.0) scale(0.88 1)">2</text><text transform="translate(336.6 393.8) scale(0.88 1)">2.5</text><text transform="translate(336.6 372.6) scale(0.88 1)">3</text></g>
<text x="2.2" y="406.0" font-size="16.3" font-weight="bold" fill="#000">d</text>
<path d="M393.9 369.3V445.6M422.5 369.3V445.6M451.1 369.3V445.6M479.7 369.3V445.6M508.4 369.3V445.6M537.0 369.3V445.6M565.6 369.3V445.6M594.2 369.3V445.6M622.8 369.3V445.6M651.5 369.3V445.6M385.3 442.7H671.5M385.3 413.3H671.5M385.3 384.0H671.5" stroke="#e6e6e6" stroke-width="0.5" fill="none"/>
<path fill="#3e26a8" stroke="#3e26a8" stroke-width="0.3" fill-rule="evenodd" d="M403.2 441.2L408.6 441.2L413.9 441.2L419.2 441.2L424.6 441.2L429.9 441.2L435.2 441.2L440.6 441.2L445.9 441.2L451.2 441.2L456.6 441.2L461.9 441.2L467.2 441.2L472.6 441.2L477.9 441.2L483.2 441.2L488.5 441.2L493.9 441.2L499.2 441.2L504.5 441.2L509.9 441.2L515.2 441.2L520.5 441.2L525.9 441.2L531.2 441.2L536.5 441.2L541.9 441.2L547.2 441.2L552.5 441.2L557.9 441.2L563.2 441.2L568.5 441.2L573.9 441.2L579.2 441.2L584.5 441.2L589.9 441.2L595.2 441.2L600.5 441.2L602.6 441.2L600.5 440.8L595.6 439.8L595.2 439.7L589.9 438.7L588.2 438.4L584.5 437.7L580.6 436.9L579.2 436.7L577.5 435.5L576.2 434.0L574.5 432.6L573.9 432.1L569.1 431.2L568.5 430.9L567.7 431.2L563.7 432.6L563.2 432.8L559.4 434.0L557.9 434.5L552.5 435.0L547.2 435.4L545.5 435.5L541.9 435.7L540.2 436.9L538.1 438.4L536.5 439.4L531.2 439.2L525.9 438.9L520.5 438.5L518.3 438.4L515.2 438.2L509.9 437.8L504.5 437.4L499.2 437.7L493.9 437.8L488.5 437.8L483.2 437.8L477.9 437.8L476.4 436.9L473.9 435.5L472.6 434.7L469.4 434.0L467.2 432.6L467.2 432.6L467.2 432.6L464.0 434.0L461.9 435.0L460.8 435.5L457.7 436.9L456.6 437.5L455.7 438.4L454.0 439.8L451.2 440.7L446.7 439.8L445.9 439.6L440.6 438.6L439.0 438.4L435.2 437.7L431.1 436.9L429.9 436.7L424.6 435.8L419.6 436.9L419.2 437.0L413.9 436.9L409.6 436.9L408.6 436.9L403.2 436.9L403.2 436.9L403.2 438.4L403.2 439.8ZM653.0 408.2L653.9 409.2L653.9 408.2L653.9 406.7L653.9 405.3L653.9 403.9L653.9 402.4L653.9 401.0L653.9 399.5L653.9 398.1L653.9 396.7L653.9 395.2L653.9 393.8L653.9 393.6L651.6 392.4L648.8 390.9L648.5 390.8L646.1 389.5L643.4 388.0L643.2 387.9L640.8 386.6L638.1 385.2L637.9 385.0L637.8 385.2L637.6 386.6L637.5 388.0L637.8 389.5L637.9 389.5L642.0 390.9L642.3 392.4L642.4 393.8L642.4 395.2L643.2 396.2L645.1 396.7L646.7 398.1L647.2 399.5L647.4 401.0L648.2 402.4L648.5 402.8L650.9 403.9L651.9 405.3L652.3 406.7ZM540.2 383.7L541.9 384.2L543.1 383.7L544.4 382.3L544.9 380.9L545.2 379.4L545.4 378.0L545.4 376.5L545.2 375.1L545.0 373.7L541.9 373.7L536.5 373.7L531.2 373.7L525.9 373.7L520.5 373.7L515.2 373.7L509.9 373.7L504.5 373.7L504.1 373.7L504.5 374.1L507.9 375.1L509.9 375.7L513.0 376.5L515.2 377.1L518.3 378.0L520.5 378.6L523.9 379.4L525.9 379.9L529.5 380.9L531.2 381.3L535.2 382.3L536.5 382.6ZM632.5 382.3L632.5 382.3L632.9 382.3L632.5 382.1ZM403.2 380.9L403.2 381.2L403.5 380.9L404.1 379.4L404.7 378.0L405.4 376.5L406.0 375.1L406.5 373.7L403.2 373.7L403.2 375.1L403.2 376.5L403.2 378.0L403.2 379.4ZM579.2 378.0L579.2 378.0L579.5 378.0L584.5 377.6L589.9 377.6L595.2 377.6L600.5 377.6L605.9 377.6L611.2 377.5L613.7 376.5L616.5 375.4L617.2 375.1L620.6 373.7L616.5 373.7L611.2 373.7L605.9 373.7L600.5 373.7L595.2 373.7L589.9 373.7L584.5 373.7L579.2 373.7L575.5 373.7L576.7 375.1L577.9 376.5Z"/>
<path fill="#4642e0" stroke="#4642e0" stroke-width="0.3" fill-rule="evenodd" d="M446.7 439.8L451.2 440.7L454.0 439.8L455.7 438.4L456.6 437.5L457.7 436.9L460.8 435.5L461.9 435.0L464.0 434.0L467.2 432.6L467.2 432.6L467.2 432.6L469.4 434.0L472.6 434.7L473.9 435.5L476.4 436.9L477.9 437.8L483.2 437.8L488.5 437.8L493.9 437.8L499.2 437.7L504.5 437.4L509.9 437.8L515.2 438.2L518.3 438.4L520.5 438.5L525.9 438.9L531.2 439.2L536.5 439.4L538.1 438.4L540.2 436.9L541.9 435.7L545.5 435.5L547.2 435.4L552.5 435.0L557.9 434.5L559.4 434.0L563.2 432.8L563.7 432.6L567.7 431.2L568.5 430.9L569.1 431.2L573.9 432.1L574.5 432.6L576.2 434.0L577.5 435.5L579.2 436.7L580.6 436.9L584.5 437.7L588.2 438.4L589.9 438.7L595.2 439.7L595.6 439.8L600.5 440.8L602.6 441.2L605.9 441.2L611.2 441.2L616.5 441.2L621.9 441.2L627.2 441.2L632.5 441.2L637.9 441.2L643.2 441.2L648.5 441.2L653.9 441.2L653.9 439.8L653.9 438.9L648.5 438.7L643.2 438.4L640.9 438.4L637.9 438.2L632.5 438.0L627.2 437.8L621.9 438.4L621.9 438.4L621.7 438.4L616.5 438.2L611.2 438.1L605.9 437.9L600.5 437.0L600.0 436.9L595.2 436.0L592.2 435.5L589.9 435.1L584.5 434.1L584.2 434.0L579.2 433.2L578.5 432.6L576.8 431.2L575.1 429.7L573.9 428.8L573.0 428.3L571.1 426.9L569.9 425.4L569.2 424.0L568.5 423.2L563.8 424.0L563.2 424.2L559.2 425.4L557.9 425.8L554.6 426.9L552.5 427.5L547.2 428.0L542.4 428.3L541.9 428.3L539.7 429.7L537.5 431.2L536.5 431.8L535.8 432.6L534.6 434.0L532.9 435.5L531.2 436.2L525.9 435.8L520.5 435.5L520.5 435.5L515.2 435.1L509.9 434.8L504.5 434.5L499.2 434.8L493.9 435.1L488.5 435.1L483.2 435.1L477.9 435.1L476.0 434.0L473.4 432.6L472.6 432.1L470.9 431.2L469.4 429.7L467.5 428.3L467.2 428.1L461.9 426.9L461.9 426.8L461.9 426.9L458.5 428.3L456.6 429.1L455.9 429.7L454.5 431.2L453.0 432.6L451.6 434.0L451.2 434.4L450.1 435.5L445.9 436.7L440.6 435.8L438.7 435.5L435.2 434.9L430.4 434.0L429.9 433.9L424.6 433.0L420.2 434.0L419.2 434.3L413.9 434.8L408.6 434.7L403.2 434.7L403.2 435.5L403.2 436.9L408.6 436.9L409.6 436.9L413.9 436.9L419.2 437.0L419.6 436.9L424.6 435.8L429.9 436.7L431.1 436.9L435.2 437.7L439.0 438.4L440.6 438.6L445.9 439.6ZM653.8 421.1L653.9 422.1L653.9 421.1L653.9 419.7L653.9 418.2L653.9 416.8L653.9 415.4L653.9 413.9L653.9 412.5L653.9 411.0L653.9 409.6L653.9 409.2L653.0 408.2L652.3 406.7L651.9 405.3L650.9 403.9L648.5 402.8L648.2 402.4L647.4 401.0L647.2 399.5L646.7 398.1L645.1 396.7L643.2 396.2L642.4 395.2L642.4 393.8L642.3 392.4L642.0 390.9L637.9 389.5L637.8 389.5L637.5 388.0L637.6 386.6L637.8 385.2L637.9 385.0L638.1 385.2L640.8 386.6L643.2 387.9L643.4 388.0L646.1 389.5L648.5 390.8L648.8 390.9L651.6 392.4L653.9 393.6L653.9 392.4L653.9 390.9L653.9 389.5L653.9 388.0L653.9 386.6L653.9 385.2L653.9 383.7L653.9 382.3L653.9 380.9L653.9 379.4L653.9 378.0L653.9 376.5L653.9 375.1L653.9 373.7L648.5 373.7L643.2 373.7L637.9 373.7L632.5 373.7L627.2 373.7L621.9 373.7L620.6 373.7L617.2 375.1L616.5 375.4L613.7 376.5L611.2 377.5L605.9 377.6L600.5 377.6L595.2 377.6L589.9 377.6L584.5 377.6L579.5 378.0L579.2 378.0L579.2 378.0L577.9 376.5L576.7 375.1L575.5 373.7L573.9 373.7L571.7 373.7L572.4 375.1L573.2 376.5L573.9 377.6L574.2 378.0L575.5 379.4L576.8 380.9L578.1 382.3L579.2 383.4L584.5 382.4L589.9 382.4L595.2 382.4L600.5 382.4L605.9 382.4L611.2 383.7L615.3 382.3L616.5 381.8L619.2 380.9L621.9 379.8L625.2 380.9L627.2 381.5L627.8 382.3L628.9 383.7L630.0 385.2L631.1 386.6L632.2 388.0L632.5 388.5L633.3 389.5L634.4 390.9L635.5 392.4L636.7 393.8L637.8 395.2L637.9 395.3L639.0 396.7L640.2 398.1L641.3 399.5L642.5 401.0L643.2 401.8L643.7 402.4L644.9 403.9L646.1 405.3L647.3 406.7L648.5 408.2L648.5 408.2L649.7 409.6L650.9 411.0L652.1 412.5L652.9 413.9L653.1 415.4L653.2 416.8L653.4 418.2L653.6 419.7ZM632.5 382.3L632.5 382.3L632.5 382.1L632.9 382.3ZM549.7 396.7L552.5 397.6L553.1 396.7L553.2 395.2L553.0 393.8L552.8 392.4L552.6 390.9L552.5 390.4L552.3 389.5L552.2 388.0L552.0 386.6L551.8 385.2L551.6 383.7L551.4 382.3L551.2 380.9L551.1 379.4L550.9 378.0L550.7 376.5L550.5 375.1L550.4 373.7L547.2 373.7L545.0 373.7L545.2 375.1L545.4 376.5L545.4 378.0L545.2 379.4L544.9 380.9L544.4 382.3L543.1 383.7L541.9 384.2L540.2 383.7L536.5 382.6L535.2 382.3L531.2 381.3L529.5 380.9L525.9 379.9L523.9 379.4L520.5 378.6L518.3 378.0L515.2 377.1L513.0 376.5L509.9 375.7L507.9 375.1L504.5 374.1L504.1 373.7L499.2 373.7L493.9 373.7L492.1 373.7L493.9 374.5L495.2 375.1L498.4 376.5L499.2 376.9L501.2 378.0L503.8 379.4L504.5 379.8L506.1 380.9L507.9 382.3L509.8 383.7L509.9 383.8L512.9 385.2L514.6 386.6L515.2 387.2L518.5 388.0L520.5 388.7L523.8 389.5L525.9 390.0L529.9 390.9L531.2 391.2L536.1 392.4L536.5 392.5L541.3 393.8L541.9 394.0L545.5 395.2L547.2 395.8ZM403.2 383.7L403.2 384.9L405.4 383.7L406.9 382.3L407.6 380.9L408.3 379.4L408.6 378.7L408.9 378.0L409.5 376.5L410.1 375.1L410.7 373.7L408.6 373.7L406.5 373.7L406.0 375.1L405.4 376.5L404.7 378.0L404.1 379.4L403.5 380.9L403.2 381.2L403.2 382.3Z"/>
<path fill="#4461f9" stroke="#4461f9" stroke-width="0.3" fill-rule="evenodd" d="M621.7 438.4L621.9 438.4L621.9 438.4L627.2 437.8L632.5 438.0L637.9 438.2L640.9 438.4L643.2 438.4L648.5 438.7L653.9 438.9L653.9 438.4L653.9 436.9L653.9 435.5L653.9 434.0L653.9 432.6L653.9 431.2L653.9 429.7L653.9 428.3L653.9 426.9L653.9 425.4L653.9 424.0L653.9 422.5L653.9 422.1L653.8 421.1L653.6 419.7L653.4 418.2L653.2 416.8L653.1 415.4L652.9 413.9L652.1 412.5L650.9 411.0L649.7 409.6L648.5 408.2L648.5 408.2L647.3 406.7L646.1 405.3L644.9 403.9L643.7 402.4L643.2 401.8L642.5 401.0L641.3 399.5L640.2 398.1L639.0 396.7L637.9 395.3L637.8 395.2L636.7 393.8L635.5 392.4L634.4 390.9L633.3 389.5L632.5 388.5L632.2 388.0L631.1 386.6L630.0 385.2L628.9 383.7L627.8 382.3L627.2 381.5L625.2 380.9L621.9 379.8L619.2 380.9L616.5 381.8L615.3 382.3L611.2 383.7L605.9 382.4L600.5 382.4L595.2 382.4L589.9 382.4L584.5 382.4L579.2 383.4L578.1 382.3L576.8 380.9L575.5 379.4L574.2 378.0L573.9 377.6L573.2 376.5L572.4 375.1L571.7 373.7L568.5 373.7L568.3 373.7L568.5 374.0L569.1 375.1L569.9 376.5L570.8 378.0L571.6 379.4L572.5 380.9L573.4 382.3L573.9 383.1L574.5 383.7L575.9 385.2L577.3 386.6L578.7 388.0L579.2 388.6L581.7 388.0L584.5 387.4L589.9 386.9L595.2 386.9L600.5 386.9L605.9 386.9L610.6 388.0L611.2 388.2L614.0 388.0L616.5 387.9L620.1 386.6L621.9 386.0L624.1 386.6L627.2 387.5L627.6 388.0L628.7 389.5L629.9 390.9L631.0 392.4L632.1 393.8L632.5 394.3L633.3 395.2L634.5 396.7L635.6 398.1L636.8 399.5L637.9 400.9L638.0 401.0L639.2 402.4L640.3 403.9L641.5 405.3L642.7 406.7L643.2 407.3L643.9 408.2L645.1 409.6L646.4 411.0L647.6 412.5L648.4 413.9L648.5 415.3L648.5 415.4L648.7 416.8L648.9 418.2L649.0 419.7L649.2 421.1L649.4 422.5L649.5 424.0L649.7 425.4L649.9 426.9L650.0 428.3L650.2 429.7L650.3 431.2L650.4 432.6L648.9 434.0L648.5 434.3L643.2 434.1L642.6 434.0L637.9 433.9L632.5 433.7L627.2 433.5L623.5 434.0L621.9 434.3L616.5 434.5L611.2 434.4L605.9 434.2L604.8 434.0L600.5 433.4L595.6 432.6L595.2 432.5L589.9 431.6L587.3 431.2L584.5 430.7L579.2 429.8L579.1 429.7L577.4 428.3L575.6 426.9L573.9 425.5L573.8 425.4L572.4 424.0L571.0 422.5L569.7 421.1L568.5 420.0L567.7 419.7L565.0 418.2L563.7 416.8L563.2 416.0L560.5 416.8L557.9 417.6L555.7 418.2L552.5 419.2L550.9 419.7L547.2 420.8L544.1 421.1L541.9 421.3L539.9 422.5L537.6 424.0L536.5 424.6L535.8 425.4L534.5 426.9L533.1 428.3L531.8 429.7L531.2 430.4L530.4 431.2L527.3 432.6L525.9 432.9L520.9 432.6L520.5 432.6L515.2 432.3L509.9 431.9L504.5 431.6L499.2 431.9L493.9 432.4L488.5 432.5L483.2 432.5L477.9 432.5L475.5 431.2L472.8 429.7L472.6 429.6L470.8 428.3L468.9 426.9L467.2 425.6L466.7 425.4L464.5 424.0L463.0 422.5L461.9 421.7L456.6 421.3L455.2 422.5L453.7 424.0L452.2 425.4L451.2 426.3L450.9 426.9L449.9 428.3L448.9 429.7L447.9 431.2L447.0 432.6L445.9 433.9L440.6 433.1L437.8 432.6L435.2 432.2L429.9 431.3L429.2 431.2L424.6 430.4L421.1 431.2L419.2 431.6L414.2 432.6L413.9 432.7L408.6 432.6L406.2 432.6L403.2 432.6L403.2 432.6L403.2 434.0L403.2 434.7L408.6 434.7L413.9 434.8L419.2 434.3L420.2 434.0L424.6 433.0L429.9 433.9L430.4 434.0L435.2 434.9L438.7 435.5L440.6 435.8L445.9 436.7L450.1 435.5L451.2 434.4L451.6 434.0L453.0 432.6L454.5 431.2L455.9 429.7L456.6 429.1L458.5 428.3L461.9 426.9L461.9 426.8L461.9 426.9L467.2 428.1L467.5 428.3L469.4 429.7L470.9 431.2L472.6 432.1L473.4 432.6L476.0 434.0L477.9 435.1L483.2 435.1L488.5 435.1L493.9 435.1L499.2 434.8L504.5 434.5L509.9 434.8L515.2 435.1L520.5 435.5L520.5 435.5L525.9 435.8L531.2 436.2L532.9 435.5L534.6 434.0L535.8 432.6L536.5 431.8L537.5 431.2L539.7 429.7L541.9 428.3L542.4 428.3L547.2 428.0L552.5 427.5L554.6 426.9L557.9 425.8L559.2 425.4L563.2 424.2L563.8 424.0L568.5 423.2L569.2 424.0L569.9 425.4L571.1 426.9L573.0 428.3L573.9 428.8L575.1 429.7L576.8 431.2L578.5 432.6L579.2 433.2L584.2 434.0L584.5 434.1L589.9 435.1L592.2 435.5L595.2 436.0L600.0 436.9L600.5 437.0L605.9 437.9L611.2 438.1L616.5 438.2ZM556.6 408.2L557.9 408.6L558.3 408.2L559.3 406.7L559.8 405.3L559.8 403.9L559.5 402.4L559.3 401.0L559.1 399.5L558.9 398.1L558.7 396.7L558.5 395.2L558.3 393.8L558.1 392.4L557.9 390.9L557.9 390.4L557.7 389.5L557.5 388.0L557.3 386.6L557.1 385.2L557.0 383.7L556.8 382.3L556.6 380.9L556.4 379.4L556.2 378.0L556.0 376.5L555.9 375.1L555.7 373.7L552.5 373.7L550.4 373.7L550.5 375.1L550.7 376.5L550.9 378.0L551.1 379.4L551.2 380.9L551.4 382.3L551.6 383.7L551.8 385.2L552.0 386.6L552.2 388.0L552.3 389.5L552.5 390.4L552.6 390.9L552.8 392.4L553.0 393.8L553.2 395.2L553.1 396.7L552.5 397.6L549.7 396.7L547.2 395.8L545.5 395.2L541.9 394.0L541.3 393.8L536.5 392.5L536.1 392.4L531.2 391.2L529.9 390.9L525.9 390.0L523.8 389.5L520.5 388.7L518.5 388.0L515.2 387.2L514.6 386.6L512.9 385.2L509.9 383.8L509.8 383.7L507.9 382.3L506.1 380.9L504.5 379.8L503.8 379.4L501.2 378.0L499.2 376.9L498.4 376.5L495.2 375.1L493.9 374.5L492.1 373.7L488.5 373.7L483.2 373.7L480.2 373.7L483.2 375.1L483.2 375.1L486.4 376.5L488.5 377.5L489.8 378.0L493.2 379.4L493.9 379.7L496.6 380.9L499.2 381.9L500.0 382.3L502.7 383.7L504.5 384.7L505.3 385.2L507.3 386.6L509.3 388.0L509.9 388.4L511.4 389.5L513.5 390.9L515.2 392.1L515.6 392.4L517.7 393.8L519.8 395.2L520.5 395.7L522.8 396.7L524.8 398.1L525.9 399.1L527.6 399.5L531.2 400.6L532.8 401.0L536.5 401.8L538.8 402.4L541.9 403.3L543.6 403.9L547.2 405.1L547.9 405.3L552.3 406.7L552.5 406.8ZM403.2 386.6L403.2 387.8L408.6 387.6L409.1 386.6L409.7 385.2L410.4 383.7L411.1 382.3L411.8 380.9L412.4 379.4L413.0 378.0L413.7 376.5L413.9 376.0L414.3 375.1L414.8 373.7L413.9 373.7L410.7 373.7L410.1 375.1L409.5 376.5L408.9 378.0L408.6 378.7L408.3 379.4L407.6 380.9L406.9 382.3L405.4 383.7L403.2 384.9L403.2 385.2Z"/>
<path fill="#3182f8" stroke="#3182f8" stroke-width="0.3" fill-rule="evenodd" d="M604.8 434.0L605.9 434.2L611.2 434.4L616.5 434.5L621.9 434.3L623.5 434.0L627.2 433.5L632.5 433.7L637.9 433.9L642.6 434.0L643.2 434.1L648.5 434.3L648.9 434.0L650.4 432.6L650.3 431.2L650.2 429.7L650.0 428.3L649.9 426.9L649.7 425.4L649.5 424.0L649.4 422.5L649.2 421.1L649.0 419.7L648.9 418.2L648.7 416.8L648.5 415.4L648.5 415.3L648.4 413.9L647.6 412.5L646.4 411.0L645.1 409.6L643.9 408.2L643.2 407.3L642.7 406.7L641.5 405.3L640.3 403.9L639.2 402.4L638.0 401.0L637.9 400.9L636.8 399.5L635.6 398.1L634.5 396.7L633.3 395.2L632.5 394.3L632.1 393.8L631.0 392.4L629.9 390.9L628.7 389.5L627.6 388.0L627.2 387.5L624.1 386.6L621.9 386.0L620.1 386.6L616.5 387.9L614.0 388.0L611.2 388.2L610.6 388.0L605.9 386.9L600.5 386.9L595.2 386.9L589.9 386.9L584.5 387.4L581.7 388.0L579.2 388.6L578.7 388.0L577.3 386.6L575.9 385.2L574.5 383.7L573.9 383.1L573.4 382.3L572.5 380.9L571.6 379.4L570.8 378.0L569.9 376.5L569.1 375.1L568.5 374.0L568.3 373.7L564.7 373.7L564.9 375.1L565.3 376.5L565.9 378.0L567.5 379.4L568.5 379.8L569.2 380.9L570.1 382.3L571.0 383.7L571.9 385.2L572.8 386.6L573.8 388.0L573.9 388.2L575.1 389.5L576.6 390.9L578.0 392.4L579.2 393.5L584.5 392.5L585.1 392.4L589.9 391.4L595.2 391.3L600.5 391.3L605.9 391.3L610.4 392.4L611.2 392.6L616.5 393.6L620.3 392.4L621.9 391.8L623.9 392.4L627.2 393.3L627.6 393.8L628.8 395.2L629.9 396.7L631.1 398.1L632.3 399.5L632.5 399.9L633.4 401.0L634.6 402.4L635.8 403.9L637.0 405.3L637.9 406.3L638.2 406.7L639.4 408.2L640.6 409.6L641.8 411.0L643.0 412.5L643.2 412.8L643.8 413.9L644.0 415.4L644.2 416.8L644.3 418.2L644.5 419.7L644.7 421.1L644.8 422.5L645.0 424.0L645.2 425.4L645.3 426.9L645.2 428.3L643.5 429.7L643.2 429.9L638.3 429.7L637.9 429.7L632.5 429.5L627.2 429.3L624.5 429.7L621.9 430.1L616.5 431.0L611.2 430.9L605.9 430.7L600.5 429.9L599.2 429.7L595.2 429.2L589.9 428.3L589.9 428.3L584.5 427.4L581.4 426.9L579.2 426.5L577.9 425.4L576.0 424.0L574.2 422.5L573.9 422.3L572.7 421.1L571.3 419.7L569.9 418.2L568.5 416.8L568.5 416.8L566.7 415.4L565.6 413.9L565.0 412.5L564.9 411.0L564.7 409.6L564.6 408.2L564.5 406.7L564.4 405.3L564.2 403.9L564.1 402.4L564.0 401.0L563.9 399.5L563.8 398.1L563.6 396.7L563.5 395.2L563.4 393.8L563.3 392.4L563.2 391.4L563.1 390.9L562.9 389.5L562.8 388.0L562.6 386.6L562.4 385.2L562.2 383.7L562.0 382.3L561.8 380.9L561.6 379.4L561.5 378.0L561.3 376.5L561.1 375.1L561.0 373.7L557.9 373.7L555.7 373.7L555.9 375.1L556.0 376.5L556.2 378.0L556.4 379.4L556.6 380.9L556.8 382.3L557.0 383.7L557.1 385.2L557.3 386.6L557.5 388.0L557.7 389.5L557.9 390.4L557.9 390.9L558.1 392.4L558.3 393.8L558.5 395.2L558.7 396.7L558.9 398.1L559.1 399.5L559.3 401.0L559.5 402.4L559.8 403.9L559.8 405.3L559.3 406.7L558.3 408.2L557.9 408.6L556.6 408.2L552.5 406.8L552.3 406.7L547.9 405.3L547.2 405.1L543.6 403.9L541.9 403.3L538.8 402.4L536.5 401.8L532.8 401.0L531.2 400.6L527.6 399.5L525.9 399.1L524.8 398.1L522.8 396.7L520.5 395.7L519.8 395.2L517.7 393.8L515.6 392.4L515.2 392.1L513.5 390.9L511.4 389.5L509.9 388.4L509.3 388.0L507.3 386.6L505.3 385.2L504.5 384.7L502.7 383.7L500.0 382.3L499.2 381.9L496.6 380.9L493.9 379.7L493.2 379.4L489.8 378.0L488.5 377.5L486.4 376.5L483.2 375.1L483.2 375.1L480.2 373.7L477.9 373.7L472.6 373.7L467.2 373.7L461.9 373.7L456.6 373.7L451.2 373.7L450.5 373.7L450.7 375.1L451.0 376.5L451.2 377.6L451.3 376.5L451.7 375.1L456.6 373.9L461.9 375.0L462.2 375.1L467.2 376.2L469.1 376.5L472.6 377.2L476.0 378.0L477.9 378.4L480.6 379.4L483.2 380.3L484.7 380.9L488.2 382.3L488.5 382.4L491.8 383.7L493.9 384.6L495.4 385.2L499.1 386.6L499.2 386.7L502.0 388.0L504.5 389.3L504.8 389.5L506.9 390.9L509.0 392.4L509.9 393.0L511.1 393.8L513.2 395.2L515.2 396.6L515.3 396.7L517.5 398.1L519.6 399.5L520.5 400.1L521.8 401.0L524.0 402.4L525.9 403.6L526.3 403.9L528.4 405.3L530.6 406.7L531.2 407.1L533.6 408.2L535.5 409.6L536.5 410.4L539.0 411.0L541.9 412.3L542.4 412.5L543.0 413.9L541.9 414.2L540.4 415.4L538.1 416.8L536.5 417.7L536.1 418.2L534.7 419.7L533.3 421.1L531.9 422.5L531.2 423.3L530.6 424.0L529.2 425.4L527.9 426.9L526.5 428.3L525.9 429.0L521.1 429.7L520.5 429.8L520.0 429.7L515.2 429.4L509.9 429.1L504.5 428.8L499.2 429.1L493.9 429.7L493.2 429.7L488.5 429.9L483.2 429.9L477.9 429.9L477.5 429.7L474.8 428.3L472.6 427.1L472.2 426.9L470.3 425.4L468.3 424.0L467.2 423.2L466.3 422.5L464.3 421.1L462.3 419.7L461.9 419.3L459.5 418.2L458.0 416.8L456.6 415.6L453.2 416.8L451.7 418.2L451.2 418.6L450.5 419.7L449.5 421.1L448.4 422.5L447.4 424.0L446.4 425.4L445.9 426.2L445.4 426.9L444.5 428.3L442.6 429.7L440.6 430.4L436.3 429.7L435.2 429.5L429.9 428.7L427.6 428.3L424.6 427.8L422.3 428.3L419.2 429.0L416.8 429.7L413.9 430.5L408.6 430.6L403.2 430.5L403.2 431.2L403.2 432.6L406.2 432.6L408.6 432.6L413.9 432.7L414.2 432.6L419.2 431.6L421.1 431.2L424.6 430.4L429.2 431.2L429.9 431.3L435.2 432.2L437.8 432.6L440.6 433.1L445.9 433.9L447.0 432.6L447.9 431.2L448.9 429.7L449.9 428.3L450.9 426.9L451.2 426.3L452.2 425.4L453.7 424.0L455.2 422.5L456.6 421.3L461.9 421.7L463.0 422.5L464.5 424.0L466.7 425.4L467.2 425.6L468.9 426.9L470.8 428.3L472.6 429.6L472.8 429.7L475.5 431.2L477.9 432.5L483.2 432.5L488.5 432.5L493.9 432.4L499.2 431.9L504.5 431.6L509.9 431.9L515.2 432.3L520.5 432.6L520.9 432.6L525.9 432.9L527.3 432.6L530.4 431.2L531.2 430.4L531.8 429.7L533.1 428.3L534.5 426.9L535.8 425.4L536.5 424.6L537.6 424.0L539.9 422.5L541.9 421.3L544.1 421.1L547.2 420.8L550.9 419.7L552.5 419.2L555.7 418.2L557.9 417.6L560.5 416.8L563.2 416.0L563.7 416.8L565.0 418.2L567.7 419.7L568.5 420.0L569.7 421.1L571.0 422.5L572.4 424.0L573.8 425.4L573.9 425.5L575.6 426.9L577.4 428.3L579.1 429.7L579.2 429.8L584.5 430.7L587.3 431.2L589.9 431.6L595.2 432.5L595.6 432.6L600.5 433.4ZM408.1 392.4L408.6 392.5L408.9 392.4L411.0 390.9L411.8 389.5L412.5 388.0L413.2 386.6L413.9 385.2L413.9 385.2L414.6 383.7L415.3 382.3L415.9 380.9L416.6 379.4L417.2 378.0L417.8 376.5L418.4 375.1L419.0 373.7L414.8 373.7L414.3 375.1L413.9 376.0L413.7 376.5L413.0 378.0L412.4 379.4L411.8 380.9L411.1 382.3L410.4 383.7L409.7 385.2L409.1 386.6L408.6 387.6L403.2 387.8L403.2 388.0L403.2 389.5L403.2 390.7L403.8 390.9Z"/>
<path fill="#209fe6" stroke="#209fe6" stroke-width="0.3" fill-rule="evenodd" d="M403.2 429.7L403.2 430.5L408.6 430.6L413.9 430.5L416.8 429.7L419.2 429.0L422.3 428.3L424.6 427.8L427.6 428.3L429.9 428.7L435.2 429.5L436.3 429.7L440.6 430.4L442.6 429.7L444.5 428.3L445.4 426.9L445.9 426.2L446.4 425.4L447.4 424.0L448.4 422.5L449.5 421.1L450.5 419.7L451.2 418.6L451.7 418.2L453.2 416.8L456.6 415.6L458.0 416.8L459.5 418.2L461.9 419.3L462.3 419.7L464.3 421.1L466.3 422.5L467.2 423.2L468.3 424.0L470.3 425.4L472.2 426.9L472.6 427.1L474.8 428.3L477.5 429.7L477.9 429.9L483.2 429.9L488.5 429.9L493.2 429.7L493.9 429.7L499.2 429.1L504.5 428.8L509.9 429.1L515.2 429.4L520.0 429.7L520.5 429.8L521.1 429.7L525.9 429.0L526.5 428.3L527.9 426.9L529.2 425.4L530.6 424.0L531.2 423.3L531.9 422.5L533.3 421.1L534.7 419.7L536.1 418.2L536.5 417.7L538.1 416.8L540.4 415.4L541.9 414.2L543.0 413.9L542.4 412.5L541.9 412.3L539.0 411.0L536.5 410.4L535.5 409.6L533.6 408.2L531.2 407.1L530.6 406.7L528.4 405.3L526.3 403.9L525.9 403.6L524.0 402.4L521.8 401.0L520.5 400.1L519.6 399.5L517.5 398.1L515.3 396.7L515.2 396.6L513.2 395.2L511.1 393.8L509.9 393.0L509.0 392.4L506.9 390.9L504.8 389.5L504.5 389.3L502.0 388.0L499.2 386.7L499.1 386.6L495.4 385.2L493.9 384.6L491.8 383.7L488.5 382.4L488.2 382.3L484.7 380.9L483.2 380.3L480.6 379.4L477.9 378.4L476.0 378.0L472.6 377.2L469.1 376.5L467.2 376.2L462.2 375.1L461.9 375.0L456.6 373.9L451.7 375.1L451.3 376.5L451.2 377.6L451.0 376.5L450.7 375.1L450.5 373.7L445.9 373.7L440.6 373.7L435.2 373.7L429.9 373.7L424.6 373.7L419.2 373.7L419.0 373.7L418.4 375.1L417.8 376.5L417.2 378.0L416.6 379.4L415.9 380.9L415.3 382.3L414.6 383.7L413.9 385.2L413.9 385.2L413.2 386.6L412.5 388.0L411.8 389.5L411.0 390.9L408.9 392.4L408.6 392.5L408.1 392.4L403.8 390.9L403.2 390.7L403.2 390.9L403.2 392.4L403.2 393.6L403.8 393.8L408.2 395.2L408.6 395.4L409.6 395.2L413.8 393.8L413.9 393.7L414.6 392.4L415.3 390.9L416.0 389.5L416.7 388.0L417.4 386.6L418.1 385.2L418.7 383.7L419.2 382.7L419.5 382.3L420.4 380.9L421.4 379.4L422.3 378.0L423.2 376.5L424.0 375.1L424.6 374.0L426.1 375.1L427.4 376.5L428.1 378.0L428.5 379.4L428.8 380.9L429.2 382.3L429.9 383.5L430.3 383.7L431.8 385.2L432.7 386.6L433.2 388.0L433.7 389.5L434.6 390.9L435.2 391.9L435.8 392.4L437.0 393.8L437.7 395.2L438.3 396.7L439.3 398.1L440.2 399.5L440.6 400.0L441.4 401.0L442.3 402.4L443.1 403.9L444.1 405.3L445.1 406.7L445.9 407.9L446.1 408.2L447.1 409.6L448.1 411.0L449.1 412.5L449.2 413.9L448.2 415.4L447.1 416.8L446.1 418.2L445.9 418.5L445.1 419.7L444.0 421.1L443.0 422.5L442.0 424.0L441.0 425.4L440.6 426.1L436.9 426.9L435.2 427.0L434.5 426.9L429.9 426.1L425.6 425.4L424.6 425.3L423.8 425.4L419.2 426.4L417.7 426.9L413.9 428.0L411.2 428.3L408.6 428.5L403.2 428.5ZM477.9 427.4L476.8 426.9L474.1 425.4L472.6 424.6L471.6 424.0L469.7 422.5L467.7 421.1L467.2 420.8L465.7 419.7L463.6 418.2L461.9 417.0L461.6 416.8L459.6 415.4L457.5 413.9L456.7 412.5L456.7 411.0L456.8 409.6L456.8 408.2L456.9 406.7L456.9 405.3L456.9 403.9L457.0 402.4L457.0 401.0L457.1 399.5L457.1 398.1L457.1 396.7L457.2 395.2L457.2 393.8L457.3 392.4L457.3 390.9L457.4 389.5L457.4 388.0L457.6 386.6L457.9 385.2L458.5 383.7L459.4 382.3L461.9 380.9L467.2 381.9L469.2 382.3L472.6 382.9L476.7 383.7L477.9 384.0L483.2 385.2L483.2 385.2L486.9 386.6L488.5 387.2L490.8 388.0L493.9 389.2L494.6 389.5L498.3 390.9L499.2 391.2L501.5 392.4L504.5 393.8L504.5 393.8L506.6 395.2L508.7 396.7L509.9 397.4L510.9 398.1L513.1 399.5L515.2 401.0L515.2 401.0L517.4 402.4L519.6 403.9L520.5 404.5L521.8 405.3L524.0 406.7L525.9 407.9L526.2 408.2L528.5 409.6L530.7 411.0L531.2 411.4L533.0 412.5L533.7 413.9L532.3 415.4L531.2 416.5L530.9 416.8L529.5 418.2L528.1 419.7L526.7 421.1L525.9 422.0L525.3 422.5L524.0 424.0L522.6 425.4L520.9 426.9L520.5 427.0L518.0 426.9L515.2 426.7L509.9 426.4L504.5 426.1L499.2 426.3L494.7 426.9L493.9 426.9L488.5 427.4L483.2 427.4ZM599.2 429.7L600.5 429.9L605.9 430.7L611.2 430.9L616.5 431.0L621.9 430.1L624.5 429.7L627.2 429.3L632.5 429.5L637.9 429.7L638.3 429.7L643.2 429.9L643.5 429.7L645.2 428.3L645.3 426.9L645.2 425.4L645.0 424.0L644.8 422.5L644.7 421.1L644.5 419.7L644.3 418.2L644.2 416.8L644.0 415.4L643.8 413.9L643.2 412.8L643.0 412.5L641.8 411.0L640.6 409.6L639.4 408.2L638.2 406.7L637.9 406.3L637.0 405.3L635.8 403.9L634.6 402.4L633.4 401.0L632.5 399.9L632.3 399.5L631.1 398.1L629.9 396.7L628.8 395.2L627.6 393.8L627.2 393.3L623.9 392.4L621.9 391.8L620.3 392.4L616.5 393.6L611.2 392.6L610.4 392.4L605.9 391.3L600.5 391.3L595.2 391.3L589.9 391.4L585.1 392.4L584.5 392.5L579.2 393.5L578.0 392.4L576.6 390.9L575.1 389.5L573.9 388.2L573.8 388.0L572.8 386.6L571.9 385.2L571.0 383.7L570.1 382.3L569.2 380.9L568.5 379.8L567.5 379.4L565.9 378.0L565.3 376.5L564.9 375.1L564.7 373.7L563.2 373.7L561.0 373.7L561.1 375.1L561.3 376.5L561.5 378.0L561.6 379.4L561.8 380.9L562.0 382.3L562.2 383.7L562.4 385.2L562.6 386.6L562.8 388.0L562.9 389.5L563.1 390.9L563.2 391.4L563.3 392.4L563.4 393.8L563.5 395.2L563.6 396.7L563.8 398.1L563.9 399.5L564.0 401.0L564.1 402.4L564.2 403.9L564.4 405.3L564.5 406.7L564.6 408.2L564.7 409.6L564.9 411.0L565.0 412.5L565.6 413.9L566.7 415.4L568.5 416.8L568.5 416.8L569.9 418.2L571.3 419.7L572.7 421.1L573.9 422.3L574.2 422.5L576.0 424.0L577.9 425.4L579.2 426.5L581.4 426.9L584.5 427.4L589.9 428.3L589.9 428.3L595.2 429.2ZM605.9 427.2L603.1 426.9L600.5 426.5L595.2 425.8L592.7 425.4L589.9 425.0L584.5 424.1L583.6 424.0L579.2 423.3L578.3 422.5L576.4 421.1L574.6 419.7L573.9 419.1L573.0 418.2L571.6 416.8L570.1 415.4L568.7 413.9L568.5 413.5L568.0 412.5L567.9 411.0L567.8 409.6L567.7 408.2L567.6 406.7L567.4 405.3L567.3 403.9L567.2 402.4L567.1 401.0L566.9 399.5L566.8 398.1L566.7 396.7L566.6 395.2L566.5 393.8L566.4 392.4L566.2 390.9L566.1 389.5L566.5 388.0L567.2 386.6L568.5 385.2L568.5 385.1L568.6 385.2L569.5 386.6L570.4 388.0L571.3 389.5L571.8 390.9L572.8 392.4L573.9 393.2L574.5 393.8L575.9 395.2L577.4 396.7L578.9 398.1L579.2 398.4L580.8 398.1L584.5 397.4L588.0 396.7L589.9 396.3L595.2 395.6L600.5 395.6L605.9 395.6L610.5 396.7L611.2 396.8L615.9 398.1L616.5 398.3L618.0 398.1L621.9 397.5L624.2 398.1L627.2 398.9L627.7 399.5L628.9 401.0L630.1 402.4L631.3 403.9L632.5 405.3L632.5 405.4L633.7 406.7L634.9 408.2L636.1 409.6L637.3 411.0L637.9 411.7L638.5 412.5L639.3 413.9L639.5 415.4L639.6 416.8L639.8 418.2L640.0 419.7L640.1 421.1L640.3 422.5L640.1 424.0L638.4 425.4L637.9 425.7L632.5 425.5L630.0 425.4L627.2 425.3L626.5 425.4L621.9 426.1L619.0 426.9L616.5 427.5L611.2 427.5Z"/>
<path fill="#14b6cc" stroke="#14b6cc" stroke-width="0.3" fill-rule="evenodd" d="M403.2 428.3L403.2 428.5L408.6 428.5L411.2 428.3L413.9 428.0L417.7 426.9L419.2 426.4L423.8 425.4L424.6 425.3L425.6 425.4L429.9 426.1L434.5 426.9L435.2 427.0L436.9 426.9L440.6 426.1L441.0 425.4L442.0 424.0L443.0 422.5L444.0 421.1L445.1 419.7L445.9 418.5L446.1 418.2L447.1 416.8L448.2 415.4L449.2 413.9L449.1 412.5L448.1 411.0L447.1 409.6L446.1 408.2L445.9 407.9L445.1 406.7L444.1 405.3L443.1 403.9L442.3 402.4L441.4 401.0L440.6 400.0L440.2 399.5L439.3 398.1L438.3 396.7L437.7 395.2L437.0 393.8L435.8 392.4L435.2 391.9L434.6 390.9L433.7 389.5L433.2 388.0L432.7 386.6L431.8 385.2L430.3 383.7L429.9 383.5L429.2 382.3L428.8 380.9L428.5 379.4L428.1 378.0L427.4 376.5L426.1 375.1L424.6 374.0L424.0 375.1L423.2 376.5L422.3 378.0L421.4 379.4L420.4 380.9L419.5 382.3L419.2 382.7L418.7 383.7L418.1 385.2L417.4 386.6L416.7 388.0L416.0 389.5L415.3 390.9L414.6 392.4L413.9 393.7L413.8 393.8L409.6 395.2L408.6 395.4L408.2 395.2L403.8 393.8L403.2 393.6L403.2 393.8L403.2 395.2L403.2 396.4L403.9 396.7L408.3 398.1L408.6 398.2L412.8 399.5L413.9 399.9L414.5 399.5L415.8 398.1L416.5 396.7L417.3 395.2L418.0 393.8L418.7 392.4L419.2 391.3L419.5 390.9L420.5 389.5L421.5 388.0L422.5 386.6L423.5 385.2L424.5 383.7L424.6 383.6L424.6 383.7L425.5 385.2L426.4 386.6L427.3 388.0L428.2 389.5L429.2 390.9L429.9 392.0L430.1 392.4L431.0 393.8L432.0 395.2L432.9 396.7L433.9 398.1L434.8 399.5L435.2 400.1L435.8 401.0L436.8 402.4L437.7 403.9L438.7 405.3L439.7 406.7L440.6 408.0L440.7 408.2L441.7 409.6L442.7 411.0L443.7 412.5L443.8 413.9L442.8 415.4L441.7 416.8L440.7 418.2L440.6 418.4L439.6 419.7L438.6 421.1L437.6 422.5L436.3 424.0L435.2 424.4L432.4 424.0L429.9 423.6L424.6 422.7L419.2 423.9L418.9 424.0L414.0 425.4L413.9 425.5L408.6 426.5L403.2 426.5L403.2 426.9ZM476.8 426.9L477.9 427.4L483.2 427.4L488.5 427.4L493.9 426.9L494.7 426.9L499.2 426.3L504.5 426.1L509.9 426.4L515.2 426.7L518.0 426.9L520.5 427.0L520.9 426.9L522.6 425.4L524.0 424.0L525.3 422.5L525.9 422.0L526.7 421.1L528.1 419.7L529.5 418.2L530.9 416.8L531.2 416.5L532.3 415.4L533.7 413.9L533.0 412.5L531.2 411.4L530.7 411.0L528.5 409.6L526.2 408.2L525.9 407.9L524.0 406.7L521.8 405.3L520.5 404.5L519.6 403.9L517.4 402.4L515.2 401.0L515.2 401.0L513.1 399.5L510.9 398.1L509.9 397.4L508.7 396.7L506.6 395.2L504.5 393.8L504.5 393.8L501.5 392.4L499.2 391.2L498.3 390.9L494.6 389.5L493.9 389.2L490.8 388.0L488.5 387.2L486.9 386.6L483.2 385.2L483.2 385.2L477.9 384.0L476.7 383.7L472.6 382.9L469.2 382.3L467.2 381.9L461.9 380.9L459.4 382.3L458.5 383.7L457.9 385.2L457.6 386.6L457.4 388.0L457.4 389.5L457.3 390.9L457.3 392.4L457.2 393.8L457.2 395.2L457.1 396.7L457.1 398.1L457.1 399.5L457.0 401.0L457.0 402.4L456.9 403.9L456.9 405.3L456.9 406.7L456.8 408.2L456.8 409.6L456.7 411.0L456.7 412.5L457.5 413.9L459.6 415.4L461.6 416.8L461.9 417.0L463.6 418.2L465.7 419.7L467.2 420.8L467.7 421.1L469.7 422.5L471.6 424.0L472.6 424.6L474.1 425.4ZM477.9 425.0L476.0 424.0L473.2 422.5L472.6 422.2L471.0 421.1L469.0 419.7L467.2 418.4L467.0 418.2L464.9 416.8L462.9 415.4L461.9 414.6L460.8 413.9L460.0 412.5L460.1 411.0L460.1 409.6L460.1 408.2L460.2 406.7L460.2 405.3L460.3 403.9L460.3 402.4L460.4 401.0L460.4 399.5L460.4 398.1L460.5 396.7L460.5 395.2L460.6 393.8L460.6 392.4L460.6 390.9L460.7 389.5L460.8 388.0L461.7 386.6L461.9 386.4L463.3 386.6L467.2 387.3L471.3 388.0L472.6 388.3L477.9 389.3L478.8 389.5L483.2 390.5L485.0 390.9L488.5 391.7L490.2 392.4L493.9 393.7L494.0 393.8L497.9 395.2L499.2 395.7L501.2 396.7L504.2 398.1L504.5 398.3L506.5 399.5L508.6 401.0L509.9 401.8L510.8 402.4L513.0 403.9L515.2 405.3L515.2 405.3L517.4 406.7L519.7 408.2L520.5 408.7L521.9 409.6L524.1 411.0L525.9 412.2L526.4 412.5L527.1 413.9L525.9 415.2L525.7 415.4L524.3 416.8L522.9 418.2L521.5 419.7L520.5 420.7L520.1 421.1L518.7 422.5L515.2 424.0L515.2 424.0L515.1 424.0L509.9 423.7L504.5 423.4L499.2 423.6L496.2 424.0L493.9 424.2L488.5 424.8L483.2 425.0ZM603.1 426.9L605.9 427.2L611.2 427.5L616.5 427.5L619.0 426.9L621.9 426.1L626.5 425.4L627.2 425.3L630.0 425.4L632.5 425.5L637.9 425.7L638.4 425.4L640.1 424.0L640.3 422.5L640.1 421.1L640.0 419.7L639.8 418.2L639.6 416.8L639.5 415.4L639.3 413.9L638.5 412.5L637.9 411.7L637.3 411.0L636.1 409.6L634.9 408.2L633.7 406.7L632.5 405.4L632.5 405.3L631.3 403.9L630.1 402.4L628.9 401.0L627.7 399.5L627.2 398.9L624.2 398.1L621.9 397.5L618.0 398.1L616.5 398.3L615.9 398.1L611.2 396.8L610.5 396.7L605.9 395.6L600.5 395.6L595.2 395.6L589.9 396.3L588.0 396.7L584.5 397.4L580.8 398.1L579.2 398.4L578.9 398.1L577.4 396.7L575.9 395.2L574.5 393.8L573.9 393.2L572.8 392.4L571.8 390.9L571.3 389.5L570.4 388.0L569.5 386.6L568.6 385.2L568.5 385.1L568.5 385.2L567.2 386.6L566.5 388.0L566.1 389.5L566.2 390.9L566.4 392.4L566.5 393.8L566.6 395.2L566.7 396.7L566.8 398.1L566.9 399.5L567.1 401.0L567.2 402.4L567.3 403.9L567.4 405.3L567.6 406.7L567.7 408.2L567.8 409.6L567.9 411.0L568.0 412.5L568.5 413.5L568.7 413.9L570.1 415.4L571.6 416.8L573.0 418.2L573.9 419.1L574.6 419.7L576.4 421.1L578.3 422.5L579.2 423.3L583.6 424.0L584.5 424.1L589.9 425.0L592.7 425.4L595.2 425.8L600.5 426.5ZM611.2 424.1L608.1 424.0L605.9 423.9L600.5 423.2L596.0 422.5L595.2 422.4L589.9 421.7L585.6 421.1L584.5 421.0L579.2 420.1L578.7 419.7L576.8 418.2L574.9 416.8L573.9 416.0L573.2 415.4L571.8 413.9L571.1 412.5L571.0 411.0L570.9 409.6L570.7 408.2L570.6 406.7L570.5 405.3L570.4 403.9L570.6 402.4L571.0 401.0L571.8 399.5L573.8 398.1L573.9 398.1L573.9 398.1L575.4 399.5L576.9 401.0L578.4 402.4L579.2 403.2L583.2 402.4L584.5 402.2L589.9 401.1L590.5 401.0L595.2 400.1L600.5 399.8L605.9 399.8L611.1 401.0L611.2 401.0L616.4 402.4L616.5 402.5L621.9 403.0L625.0 403.9L627.2 404.4L627.9 405.3L629.1 406.7L630.3 408.2L631.5 409.6L632.5 410.8L632.7 411.0L634.0 412.5L634.7 413.9L634.9 415.4L635.1 416.8L635.3 418.2L635.1 419.7L633.6 421.1L632.5 421.6L627.2 421.4L621.9 422.2L620.4 422.5L616.5 423.5L612.5 424.0Z"/>
<path fill="#2cc4a3" stroke="#2cc4a3" stroke-width="0.3" fill-rule="evenodd" d="M403.2 425.4L403.2 426.5L408.6 426.5L413.9 425.5L414.0 425.4L418.9 424.0L419.2 423.9L424.6 422.7L429.9 423.6L432.4 424.0L435.2 424.4L436.3 424.0L437.6 422.5L438.6 421.1L439.6 419.7L440.6 418.4L440.7 418.2L441.7 416.8L442.8 415.4L443.8 413.9L443.7 412.5L442.7 411.0L441.7 409.6L440.7 408.2L440.6 408.0L439.7 406.7L438.7 405.3L437.7 403.9L436.8 402.4L435.8 401.0L435.2 400.1L434.8 399.5L433.9 398.1L432.9 396.7L432.0 395.2L431.0 393.8L430.1 392.4L429.9 392.0L429.2 390.9L428.2 389.5L427.3 388.0L426.4 386.6L425.5 385.2L424.6 383.7L424.6 383.6L424.5 383.7L423.5 385.2L422.5 386.6L421.5 388.0L420.5 389.5L419.5 390.9L419.2 391.3L418.7 392.4L418.0 393.8L417.3 395.2L416.5 396.7L415.8 398.1L414.5 399.5L413.9 399.9L412.8 399.5L408.6 398.2L408.3 398.1L403.9 396.7L403.2 396.4L403.2 396.7L403.2 398.1L403.2 399.2L404.2 399.5L408.6 401.0L408.6 401.0L413.1 402.4L413.9 402.7L415.0 402.4L418.0 401.0L419.2 399.6L419.2 399.5L420.3 398.1L421.3 396.7L422.4 395.2L423.4 393.8L424.4 392.4L424.6 392.2L424.7 392.4L425.6 393.8L426.6 395.2L427.5 396.7L428.5 398.1L429.4 399.5L429.9 400.3L430.4 401.0L431.3 402.4L432.3 403.9L433.3 405.3L434.3 406.7L435.2 408.1L435.3 408.2L436.2 409.6L437.2 411.0L438.2 412.5L438.4 413.9L437.3 415.4L436.3 416.8L435.3 418.2L435.2 418.3L433.9 419.7L429.9 421.1L424.6 420.3L420.6 421.1L419.2 421.4L415.3 422.5L413.9 422.9L410.3 424.0L408.6 424.4L403.2 424.5ZM476.0 424.0L477.9 425.0L483.2 425.0L488.5 424.8L493.9 424.2L496.2 424.0L499.2 423.6L504.5 423.4L509.9 423.7L515.1 424.0L515.2 424.0L515.2 424.0L518.7 422.5L520.1 421.1L520.5 420.7L521.5 419.7L522.9 418.2L524.3 416.8L525.7 415.4L525.9 415.2L527.1 413.9L526.4 412.5L525.9 412.2L524.1 411.0L521.9 409.6L520.5 408.7L519.7 408.2L517.4 406.7L515.2 405.3L515.2 405.3L513.0 403.9L510.8 402.4L509.9 401.8L508.6 401.0L506.5 399.5L504.5 398.3L504.2 398.1L501.2 396.7L499.2 395.7L497.9 395.2L494.0 393.8L493.9 393.7L490.2 392.4L488.5 391.7L485.0 390.9L483.2 390.5L478.8 389.5L477.9 389.3L472.6 388.3L471.3 388.0L467.2 387.3L463.3 386.6L461.9 386.4L461.7 386.6L460.8 388.0L460.7 389.5L460.6 390.9L460.6 392.4L460.6 393.8L460.5 395.2L460.5 396.7L460.4 398.1L460.4 399.5L460.4 401.0L460.3 402.4L460.3 403.9L460.2 405.3L460.2 406.7L460.1 408.2L460.1 409.6L460.1 411.0L460.0 412.5L460.8 413.9L461.9 414.6L462.9 415.4L464.9 416.8L467.0 418.2L467.2 418.4L469.0 419.7L471.0 421.1L472.6 422.2L473.2 422.5ZM477.9 422.5L475.1 421.1L472.6 419.8L472.3 419.7L470.3 418.2L468.3 416.8L467.2 416.0L466.2 415.4L464.2 413.9L463.3 412.5L463.4 411.0L463.4 409.6L463.5 408.2L463.5 406.7L463.6 405.3L463.6 403.9L463.6 402.4L463.7 401.0L463.7 399.5L463.8 398.1L464.1 396.7L464.7 395.2L465.7 393.8L467.2 392.5L472.6 393.5L474.4 393.8L477.9 394.4L481.6 395.2L483.2 395.6L488.4 396.7L488.5 396.7L493.6 398.1L493.9 398.2L497.6 399.5L499.2 400.1L501.0 401.0L504.1 402.4L504.5 402.6L506.4 403.9L508.6 405.3L509.9 406.1L510.8 406.7L513.1 408.2L515.2 409.6L515.3 409.6L517.5 411.0L519.8 412.5L520.5 413.9L519.1 415.4L517.7 416.8L516.3 418.2L515.2 419.3L514.8 419.7L509.9 421.0L504.5 420.7L499.2 421.0L498.1 421.1L493.9 421.6L488.5 422.2L483.2 422.5ZM608.1 424.0L611.2 424.1L612.5 424.0L616.5 423.5L620.4 422.5L621.9 422.2L627.2 421.4L632.5 421.6L633.6 421.1L635.1 419.7L635.3 418.2L635.1 416.8L634.9 415.4L634.7 413.9L634.0 412.5L632.7 411.0L632.5 410.8L631.5 409.6L630.3 408.2L629.1 406.7L627.9 405.3L627.2 404.4L625.0 403.9L621.9 403.0L616.5 402.5L616.4 402.4L611.2 401.0L611.1 401.0L605.9 399.8L600.5 399.8L595.2 400.1L590.5 401.0L589.9 401.1L584.5 402.2L583.2 402.4L579.2 403.2L578.4 402.4L576.9 401.0L575.4 399.5L573.9 398.1L573.9 398.1L573.8 398.1L571.8 399.5L571.0 401.0L570.6 402.4L570.4 403.9L570.5 405.3L570.6 406.7L570.7 408.2L570.9 409.6L571.0 411.0L571.1 412.5L571.8 413.9L573.2 415.4L573.9 416.0L574.9 416.8L576.8 418.2L578.7 419.7L579.2 420.1L584.5 421.0L585.6 421.1L589.9 421.7L595.2 422.4L596.0 422.5L600.5 423.2L605.9 423.9ZM600.5 419.9L598.9 419.7L595.2 419.2L589.9 418.5L588.2 418.2L584.5 417.8L579.2 417.0L579.0 416.8L577.1 415.4L575.2 413.9L574.4 412.5L574.3 411.0L574.1 409.6L573.9 408.9L573.8 408.2L573.7 406.7L573.6 405.3L573.4 403.9L573.9 403.0L574.6 403.9L574.7 405.3L574.9 406.7L579.2 407.9L584.5 406.9L585.3 406.7L589.9 405.9L592.8 405.3L595.2 404.8L600.5 404.0L605.9 404.0L611.2 405.1L611.7 405.3L616.5 406.6L617.1 406.7L621.9 408.0L622.5 408.2L626.6 409.6L627.2 409.9L628.2 411.0L629.4 412.5L630.2 413.9L630.1 415.4L628.9 416.8L627.2 417.6L622.4 418.2L621.9 418.3L616.5 419.6L616.4 419.7L611.2 420.8L605.9 420.6Z"/>
<path fill="#6bca6b" stroke="#6bca6b" stroke-width="0.3" fill-rule="evenodd" d="M403.2 424.0L403.2 424.5L408.6 424.4L410.3 424.0L413.9 422.9L415.3 422.5L419.2 421.4L420.6 421.1L424.6 420.3L429.9 421.1L433.9 419.7L435.2 418.3L435.3 418.2L436.3 416.8L437.3 415.4L438.4 413.9L438.2 412.5L437.2 411.0L436.2 409.6L435.3 408.2L435.2 408.1L434.3 406.7L433.3 405.3L432.3 403.9L431.3 402.4L430.4 401.0L429.9 400.3L429.4 399.5L428.5 398.1L427.5 396.7L426.6 395.2L425.6 393.8L424.7 392.4L424.6 392.2L424.4 392.4L423.4 393.8L422.4 395.2L421.3 396.7L420.3 398.1L419.2 399.5L419.2 399.6L418.0 401.0L415.0 402.4L413.9 402.7L413.1 402.4L408.6 401.0L408.6 401.0L404.2 399.5L403.2 399.2L403.2 399.5L403.2 401.0L403.2 402.0L404.5 402.4L408.6 403.7L409.0 403.9L413.5 405.3L413.9 405.4L418.3 406.7L419.2 407.0L419.8 406.7L420.9 405.3L422.0 403.9L423.1 402.4L424.1 401.0L424.6 400.4L425.0 401.0L425.9 402.4L426.9 403.9L427.9 405.3L428.9 406.7L429.8 408.2L429.9 408.2L430.8 409.6L431.8 411.0L432.8 412.5L433.0 413.9L431.9 415.4L430.9 416.8L429.9 418.2L424.6 417.8L422.6 418.2L419.2 418.9L416.6 419.7L413.9 420.5L411.6 421.1L408.6 422.0L403.2 422.5L403.2 422.5ZM475.1 421.1L477.9 422.5L483.2 422.5L488.5 422.2L493.9 421.6L498.1 421.1L499.2 421.0L504.5 420.7L509.9 421.0L514.8 419.7L515.2 419.3L516.3 418.2L517.7 416.8L519.1 415.4L520.5 413.9L519.8 412.5L517.5 411.0L515.3 409.6L515.2 409.6L513.1 408.2L510.8 406.7L509.9 406.1L508.6 405.3L506.4 403.9L504.5 402.6L504.1 402.4L501.0 401.0L499.2 400.1L497.6 399.5L493.9 398.2L493.6 398.1L488.5 396.7L488.4 396.7L483.2 395.6L481.6 395.2L477.9 394.4L474.4 393.8L472.6 393.5L467.2 392.5L465.7 393.8L464.7 395.2L464.1 396.7L463.8 398.1L463.7 399.5L463.7 401.0L463.6 402.4L463.6 403.9L463.6 405.3L463.5 406.7L463.5 408.2L463.4 409.6L463.4 411.0L463.3 412.5L464.2 413.9L466.2 415.4L467.2 416.0L468.3 416.8L470.3 418.2L472.3 419.7L472.6 419.8ZM477.9 420.1L477.0 419.7L474.1 418.2L472.6 417.5L471.6 416.8L469.6 415.4L467.5 413.9L467.2 413.4L466.7 412.5L466.7 411.0L466.8 409.6L466.8 408.2L466.8 406.7L466.9 405.3L466.9 403.9L467.0 402.4L467.0 401.0L467.1 399.5L467.1 398.1L467.2 397.9L468.8 398.1L472.6 398.5L477.9 399.5L478.2 399.5L483.2 400.6L485.1 401.0L488.5 401.7L492.0 402.4L493.9 402.8L497.1 403.9L499.2 404.5L501.0 405.3L504.1 406.7L504.5 406.9L506.5 408.2L508.7 409.6L509.9 410.4L510.9 411.0L513.2 412.5L513.9 413.9L512.5 415.4L511.1 416.8L509.9 418.0L504.5 418.1L501.6 418.2L499.2 418.3L493.9 418.9L488.5 419.5L487.2 419.7L483.2 420.1ZM598.9 419.7L600.5 419.9L605.9 420.6L611.2 420.8L616.4 419.7L616.5 419.6L621.9 418.3L622.4 418.2L627.2 417.6L628.9 416.8L630.1 415.4L630.2 413.9L629.4 412.5L628.2 411.0L627.2 409.9L626.6 409.6L622.5 408.2L621.9 408.0L617.1 406.7L616.5 406.6L611.7 405.3L611.2 405.1L605.9 404.0L600.5 404.0L595.2 404.8L592.8 405.3L589.9 405.9L585.3 406.7L584.5 406.9L579.2 407.9L574.9 406.7L574.7 405.3L574.6 403.9L573.9 403.0L573.4 403.9L573.6 405.3L573.7 406.7L573.8 408.2L573.9 408.9L574.1 409.6L574.3 411.0L574.4 412.5L575.2 413.9L577.1 415.4L579.0 416.8L579.2 417.0L584.5 417.8L588.2 418.2L589.9 418.5L595.2 419.2ZM605.9 417.4L601.6 416.8L600.5 416.6L595.2 415.9L590.7 415.4L589.9 415.2L584.5 414.5L579.8 413.9L579.6 412.5L584.5 411.5L587.2 411.0L589.9 410.5L594.7 409.6L595.2 409.5L600.5 408.5L604.4 408.2L605.9 408.1L606.3 408.2L611.2 409.2L612.6 409.6L616.5 410.6L618.0 411.0L621.9 412.1L622.8 412.5L623.5 413.9L621.9 414.5L618.4 415.4L616.5 415.8L612.6 416.8L611.2 417.2Z"/>
<path fill="#bec235" stroke="#bec235" stroke-width="0.3" fill-rule="evenodd" d="M403.2 421.1L403.2 422.5L408.6 422.0L411.6 421.1L413.9 420.5L416.6 419.7L419.2 418.9L422.6 418.2L424.6 417.8L429.9 418.2L430.9 416.8L431.9 415.4L433.0 413.9L432.8 412.5L431.8 411.0L430.8 409.6L429.9 408.2L429.8 408.2L428.9 406.7L427.9 405.3L426.9 403.9L425.9 402.4L425.0 401.0L424.6 400.4L424.1 401.0L423.1 402.4L422.0 403.9L420.9 405.3L419.8 406.7L419.2 407.0L418.3 406.7L413.9 405.4L413.5 405.3L409.0 403.9L408.6 403.7L404.5 402.4L403.2 402.0L403.2 402.4L403.2 403.9L403.2 404.7L405.0 405.3L408.6 406.4L409.5 406.7L413.9 408.1L414.1 408.2L418.6 409.6L419.2 409.8L420.9 409.6L424.6 408.4L425.4 409.6L426.4 411.0L427.4 412.5L427.5 413.9L424.7 415.4L424.6 415.4L419.2 416.5L418.2 416.8L413.9 418.0L413.1 418.2L408.6 419.5L408.0 419.7L403.2 420.6ZM477.0 419.7L477.9 420.1L483.2 420.1L487.2 419.7L488.5 419.5L493.9 418.9L499.2 418.3L501.6 418.2L504.5 418.1L509.9 418.0L511.1 416.8L512.5 415.4L513.9 413.9L513.2 412.5L510.9 411.0L509.9 410.4L508.7 409.6L506.5 408.2L504.5 406.9L504.1 406.7L501.0 405.3L499.2 404.5L497.1 403.9L493.9 402.8L492.0 402.4L488.5 401.7L485.1 401.0L483.2 400.6L478.2 399.5L477.9 399.5L472.6 398.5L468.8 398.1L467.2 397.9L467.1 398.1L467.1 399.5L467.0 401.0L467.0 402.4L466.9 403.9L466.9 405.3L466.8 406.7L466.8 408.2L466.8 409.6L466.7 411.0L466.7 412.5L467.2 413.4L467.5 413.9L469.6 415.4L471.6 416.8L472.6 417.5L474.1 418.2ZM477.9 417.8L475.9 416.8L473.0 415.4L472.6 415.1L470.8 413.9L470.0 412.5L470.0 411.0L470.1 409.6L470.1 408.2L470.3 406.7L471.0 405.3L472.1 403.9L472.6 403.5L474.7 403.9L477.9 404.4L482.1 405.3L483.2 405.5L488.5 406.6L489.1 406.7L493.9 407.7L496.1 408.2L499.2 408.8L500.9 409.6L504.2 411.0L504.5 411.2L506.6 412.5L507.3 413.9L505.0 415.4L504.5 415.5L499.2 415.7L493.9 416.3L489.6 416.8L488.5 416.9L483.2 417.5ZM601.6 416.8L605.9 417.4L611.2 417.2L612.6 416.8L616.5 415.8L618.4 415.4L621.9 414.5L623.5 413.9L622.8 412.5L621.9 412.1L618.0 411.0L616.5 410.6L612.6 409.6L611.2 409.2L606.3 408.2L605.9 408.1L604.4 408.2L600.5 408.5L595.2 409.5L594.7 409.6L589.9 410.5L587.2 411.0L584.5 411.5L579.6 412.5L579.8 413.9L584.5 414.5L589.9 415.2L590.7 415.4L595.2 415.9L600.5 416.6ZM605.9 414.1L604.1 413.9L603.9 412.5L605.9 412.2L607.4 412.5L607.6 413.9Z"/>
<path fill="#f6bd36" stroke="#f6bd36" stroke-width="0.3" fill-rule="evenodd" d="M403.2 419.7L403.2 420.6L408.0 419.7L408.6 419.5L413.1 418.2L413.9 418.0L418.2 416.8L419.2 416.5L424.6 415.4L424.7 415.4L427.5 413.9L427.4 412.5L426.4 411.0L425.4 409.6L424.6 408.4L420.9 409.6L419.2 409.8L418.6 409.6L414.1 408.2L413.9 408.1L409.5 406.7L408.6 406.4L405.0 405.3L403.2 404.7L403.2 405.3L403.2 406.7L403.2 407.5L405.5 408.2L408.6 409.1L410.0 409.6L413.9 410.8L414.6 411.0L419.2 412.5L419.2 412.5L419.9 413.9L419.2 414.1L414.7 415.4L413.9 415.6L409.6 416.8L408.6 417.1L404.5 418.2L403.2 418.6ZM475.9 416.8L477.9 417.8L483.2 417.5L488.5 416.9L489.6 416.8L493.9 416.3L499.2 415.7L504.5 415.5L505.0 415.4L507.3 413.9L506.6 412.5L504.5 411.2L504.2 411.0L500.9 409.6L499.2 408.8L496.1 408.2L493.9 407.7L489.1 406.7L488.5 406.6L483.2 405.5L482.1 405.3L477.9 404.4L474.7 403.9L472.6 403.5L472.1 403.9L471.0 405.3L470.3 406.7L470.1 408.2L470.1 409.6L470.0 411.0L470.0 412.5L470.8 413.9L472.6 415.1L473.0 415.4ZM477.9 415.4L477.8 415.4L474.9 413.9L474.0 412.5L474.7 411.0L476.9 409.6L477.9 409.3L479.4 409.6L483.2 410.4L486.5 411.0L488.5 411.5L493.7 412.5L492.3 413.9L488.5 414.3L483.2 414.9L478.5 415.4ZM604.1 413.9L605.9 414.1L607.6 413.9L607.4 412.5L605.9 412.2L603.9 412.5Z"/>
<path fill="#fcd72d" stroke="#fcd72d" stroke-width="0.3" fill-rule="evenodd" d="M403.2 418.2L403.2 418.6L404.5 418.2L408.6 417.1L409.6 416.8L413.9 415.6L414.7 415.4L419.2 414.1L419.9 413.9L419.2 412.5L419.2 412.5L414.6 411.0L413.9 410.8L410.0 409.6L408.6 409.1L405.5 408.2L403.2 407.5L403.2 408.2L403.2 409.6L403.2 410.2L406.0 411.0L408.6 411.8L410.7 412.5L411.2 413.9L408.6 414.7L406.1 415.4L403.2 416.2L403.2 416.8ZM477.8 415.4L477.9 415.4L478.5 415.4L483.2 414.9L488.5 414.3L492.3 413.9L493.7 412.5L488.5 411.5L486.5 411.0L483.2 410.4L479.4 409.6L477.9 409.3L476.9 409.6L474.7 411.0L474.0 412.5L474.9 413.9Z"/>
<path fill="#f9fb15" stroke="#f9fb15" stroke-width="0.3" fill-rule="evenodd" d="M403.2 415.4L403.2 416.2L406.1 415.4L408.6 414.7L411.2 413.9L410.7 412.5L408.6 411.8L406.0 411.0L403.2 410.2L403.2 411.0L403.2 412.5L403.2 413.9Z"/>
<path fill="none" stroke="#1a1a1a" stroke-opacity="0.6" stroke-width="0.35" stroke-linejoin="round" d="M403.2 436.9L408.6 436.9L409.6 436.9L413.9 436.9L419.2 437.0L419.6 436.9L424.6 435.8L429.9 436.7L431.1 436.9L435.2 437.7L439.0 438.4L440.6 438.6L445.9 439.6L446.7 439.8L451.2 440.7L454.0 439.8L455.7 438.4L456.6 437.5L457.7 436.9L460.8 435.5L461.9 435.0L464.0 434.0L467.2 432.6L467.2 432.6L467.2 432.6L469.4 434.0L472.6 434.7L473.9 435.5L476.4 436.9L477.9 437.8L483.2 437.8L488.5 437.8L493.9 437.8L499.2 437.7L504.5 437.4L509.9 437.8L515.2 438.2L518.3 438.4L520.5 438.5L525.9 438.9L531.2 439.2L536.5 439.4L538.1 438.4L540.2 436.9L541.9 435.7L545.5 435.5L547.2 435.4L552.5 435.0L557.9 434.5L559.4 434.0L563.2 432.8L563.7 432.6L567.7 431.2L568.5 430.9L569.1 431.2L573.9 432.1L574.5 432.6L576.2 434.0L577.5 435.5L579.2 436.7L580.6 436.9L584.5 437.7L588.2 438.4L589.9 438.7L595.2 439.7L595.6 439.8L600.5 440.8L602.6 441.2M653.9 409.2L653.0 408.2L652.3 406.7L651.9 405.3L650.9 403.9L648.5 402.8L648.2 402.4L647.4 401.0L647.2 399.5L646.7 398.1L645.1 396.7L643.2 396.2L642.4 395.2L642.4 393.8L642.3 392.4L642.0 390.9L637.9 389.5L637.8 389.5L637.5 388.0L637.6 386.6L637.8 385.2L637.9 385.0L638.1 385.2L640.8 386.6L643.2 387.9L643.4 388.0L646.1 389.5L648.5 390.8L648.8 390.9L651.6 392.4L653.9 393.6M632.5 382.3L632.5 382.3L632.5 382.1L632.9 382.3L632.5 382.3M406.5 373.7L406.0 375.1L405.4 376.5L404.7 378.0L404.1 379.4L403.5 380.9L403.2 381.2M545.0 373.7L545.2 375.1L545.4 376.5L545.4 378.0L545.2 379.4L544.9 380.9L544.4 382.3L543.1 383.7L541.9 384.2L540.2 383.7L536.5 382.6L535.2 382.3L531.2 381.3L529.5 380.9L525.9 379.9L523.9 379.4L520.5 378.6L518.3 378.0L515.2 377.1L513.0 376.5L509.9 375.7L507.9 375.1L504.5 374.1L504.1 373.7M620.6 373.7L617.2 375.1L616.5 375.4L613.7 376.5L611.2 377.5L605.9 377.6L600.5 377.6L595.2 377.6L589.9 377.6L584.5 377.6L579.5 378.0L579.2 378.0L579.2 378.0L577.9 376.5L576.7 375.1L575.5 373.7M403.2 434.7L408.6 434.7L413.9 434.8L419.2 434.3L420.2 434.0L424.6 433.0L429.9 433.9L430.4 434.0L435.2 434.9L438.7 435.5L440.6 435.8L445.9 436.7L450.1 435.5L451.2 434.4L451.6 434.0L453.0 432.6L454.5 431.2L455.9 429.7L456.6 429.1L458.5 428.3L461.9 426.9L461.9 426.8L461.9 426.9L467.2 428.1L467.5 428.3L469.4 429.7L470.9 431.2L472.6 432.1L473.4 432.6L476.0 434.0L477.9 435.1L483.2 435.1L488.5 435.1L493.9 435.1L499.2 434.8L504.5 434.5L509.9 434.8L515.2 435.1L520.5 435.5L520.5 435.5L525.9 435.8L531.2 436.2L532.9 435.5L534.6 434.0L535.8 432.6L536.5 431.8L537.5 431.2L539.7 429.7L541.9 428.3L542.4 428.3L547.2 428.0L552.5 427.5L554.6 426.9L557.9 425.8L559.2 425.4L563.2 424.2L563.8 424.0L568.5 423.2L569.2 424.0L569.9 425.4L571.1 426.9L573.0 428.3L573.9 428.8L575.1 429.7L576.8 431.2L578.5 432.6L579.2 433.2L584.2 434.0L584.5 434.1L589.9 435.1L592.2 435.5L595.2 436.0L600.0 436.9L600.5 437.0L605.9 437.9L611.2 438.1L616.5 438.2L621.7 438.4L621.9 438.4L621.9 438.4L627.2 437.8L632.5 438.0L637.9 438.2L640.9 438.4L643.2 438.4L648.5 438.7L653.9 438.9M653.9 422.1L653.8 421.1L653.6 419.7L653.4 418.2L653.2 416.8L653.1 415.4L652.9 413.9L652.1 412.5L650.9 411.0L649.7 409.6L648.5 408.2L648.5 408.2L647.3 406.7L646.1 405.3L644.9 403.9L643.7 402.4L643.2 401.8L642.5 401.0L641.3 399.5L640.2 398.1L639.0 396.7L637.9 395.3L637.8 395.2L636.7 393.8L635.5 392.4L634.4 390.9L633.3 389.5L632.5 388.5L632.2 388.0L631.1 386.6L630.0 385.2L628.9 383.7L627.8 382.3L627.2 381.5L625.2 380.9L621.9 379.8L619.2 380.9L616.5 381.8L615.3 382.3L611.2 383.7L605.9 382.4L600.5 382.4L595.2 382.4L589.9 382.4L584.5 382.4L579.2 383.4L578.1 382.3L576.8 380.9L575.5 379.4L574.2 378.0L573.9 377.6L573.2 376.5L572.4 375.1L571.7 373.7M410.7 373.7L410.1 375.1L409.5 376.5L408.9 378.0L408.6 378.7L408.3 379.4L407.6 380.9L406.9 382.3L405.4 383.7L403.2 384.9M550.4 373.7L550.5 375.1L550.7 376.5L550.9 378.0L551.1 379.4L551.2 380.9L551.4 382.3L551.6 383.7L551.8 385.2L552.0 386.6L552.2 388.0L552.3 389.5L552.5 390.4L552.6 390.9L552.8 392.4L553.0 393.8L553.2 395.2L553.1 396.7L552.5 397.6L549.7 396.7L547.2 395.8L545.5 395.2L541.9 394.0L541.3 393.8L536.5 392.5L536.1 392.4L531.2 391.2L529.9 390.9L525.9 390.0L523.8 389.5L520.5 388.7L518.5 388.0L515.2 387.2L514.6 386.6L512.9 385.2L509.9 383.8L509.8 383.7L507.9 382.3L506.1 380.9L504.5 379.8L503.8 379.4L501.2 378.0L499.2 376.9L498.4 376.5L495.2 375.1L493.9 374.5L492.1 373.7M403.2 432.6L406.2 432.6L408.6 432.6L413.9 432.7L414.2 432.6L419.2 431.6L421.1 431.2L424.6 430.4L429.2 431.2L429.9 431.3L435.2 432.2L437.8 432.6L440.6 433.1L445.9 433.9L447.0 432.6L447.9 431.2L448.9 429.7L449.9 428.3L450.9 426.9L451.2 426.3L452.2 425.4L453.7 424.0L455.2 422.5L456.6 421.3L461.9 421.7L463.0 422.5L464.5 424.0L466.7 425.4L467.2 425.6L468.9 426.9L470.8 428.3L472.6 429.6L472.8 429.7L475.5 431.2L477.9 432.5L483.2 432.5L488.5 432.5L493.9 432.4L499.2 431.9L504.5 431.6L509.9 431.9L515.2 432.3L520.5 432.6L520.9 432.6L525.9 432.9L527.3 432.6L530.4 431.2L531.2 430.4L531.8 429.7L533.1 428.3L534.5 426.9L535.8 425.4L536.5 424.6L537.6 424.0L539.9 422.5L541.9 421.3L544.1 421.1L547.2 420.8L550.9 419.7L552.5 419.2L555.7 418.2L557.9 417.6L560.5 416.8L563.2 416.0L563.7 416.8L565.0 418.2L567.7 419.7L568.5 420.0L569.7 421.1L571.0 422.5L572.4 424.0L573.8 425.4L573.9 425.5L575.6 426.9L577.4 428.3L579.1 429.7L579.2 429.8L584.5 430.7L587.3 431.2L589.9 431.6L595.2 432.5L595.6 432.6L600.5 433.4L604.8 434.0L605.9 434.2L611.2 434.4L616.5 434.5L621.9 434.3L623.5 434.0L627.2 433.5L632.5 433.7L637.9 433.9L642.6 434.0L643.2 434.1L648.5 434.3L648.9 434.0L650.4 432.6L650.3 431.2L650.2 429.7L650.0 428.3L649.9 426.9L649.7 425.4L649.5 424.0L649.4 422.5L649.2 421.1L649.0 419.7L648.9 418.2L648.7 416.8L648.5 415.4L648.5 415.3L648.4 413.9L647.6 412.5L646.4 411.0L645.1 409.6L643.9 408.2L643.2 407.3L642.7 406.7L641.5 405.3L640.3 403.9L639.2 402.4L638.0 401.0L637.9 400.9L636.8 399.5L635.6 398.1L634.5 396.7L633.3 395.2L632.5 394.3L632.1 393.8L631.0 392.4L629.9 390.9L628.7 389.5L627.6 388.0L627.2 387.5L624.1 386.6L621.9 386.0L620.1 386.6L616.5 387.9L614.0 388.0L611.2 388.2L610.6 388.0L605.9 386.9L600.5 386.9L595.2 386.9L589.9 386.9L584.5 387.4L581.7 388.0L579.2 388.6L578.7 388.0L577.3 386.6L575.9 385.2L574.5 383.7L573.9 383.1L573.4 382.3L572.5 380.9L571.6 379.4L570.8 378.0L569.9 376.5L569.1 375.1L568.5 374.0L568.3 373.7M414.8 373.7L414.3 375.1L413.9 376.0L413.7 376.5L413.0 378.0L412.4 379.4L411.8 380.9L411.1 382.3L410.4 383.7L409.7 385.2L409.1 386.6L408.6 387.6L403.2 387.8M555.7 373.7L555.9 375.1L556.0 376.5L556.2 378.0L556.4 379.4L556.6 380.9L556.8 382.3L557.0 383.7L557.1 385.2L557.3 386.6L557.5 388.0L557.7 389.5L557.9 390.4L557.9 390.9L558.1 392.4L558.3 393.8L558.5 395.2L558.7 396.7L558.9 398.1L559.1 399.5L559.3 401.0L559.5 402.4L559.8 403.9L559.8 405.3L559.3 406.7L558.3 408.2L557.9 408.6L556.6 408.2L552.5 406.8L552.3 406.7L547.9 405.3L547.2 405.1L543.6 403.9L541.9 403.3L538.8 402.4L536.5 401.8L532.8 401.0L531.2 400.6L527.6 399.5L525.9 399.1L524.8 398.1L522.8 396.7L520.5 395.7L519.8 395.2L517.7 393.8L515.6 392.4L515.2 392.1L513.5 390.9L511.4 389.5L509.9 388.4L509.3 388.0L507.3 386.6L505.3 385.2L504.5 384.7L502.7 383.7L500.0 382.3L499.2 381.9L496.6 380.9L493.9 379.7L493.2 379.4L489.8 378.0L488.5 377.5L486.4 376.5L483.2 375.1L483.2 375.1L480.2 373.7M403.2 430.5L408.6 430.6L413.9 430.5L416.8 429.7L419.2 429.0L422.3 428.3L424.6 427.8L427.6 428.3L429.9 428.7L435.2 429.5L436.3 429.7L440.6 430.4L442.6 429.7L444.5 428.3L445.4 426.9L445.9 426.2L446.4 425.4L447.4 424.0L448.4 422.5L449.5 421.1L450.5 419.7L451.2 418.6L451.7 418.2L453.2 416.8L456.6 415.6L458.0 416.8L459.5 418.2L461.9 419.3L462.3 419.7L464.3 421.1L466.3 422.5L467.2 423.2L468.3 424.0L470.3 425.4L472.2 426.9L472.6 427.1L474.8 428.3L477.5 429.7L477.9 429.9L483.2 429.9L488.5 429.9L493.2 429.7L493.9 429.7L499.2 429.1L504.5 428.8L509.9 429.1L515.2 429.4L520.0 429.7L520.5 429.8L521.1 429.7L525.9 429.0L526.5 428.3L527.9 426.9L529.2 425.4L530.6 424.0L531.2 423.3L531.9 422.5L533.3 421.1L534.7 419.7L536.1 418.2L536.5 417.7L538.1 416.8L540.4 415.4L541.9 414.2L543.0 413.9L542.4 412.5L541.9 412.3L539.0 411.0L536.5 410.4L535.5 409.6L533.6 408.2L531.2 407.1L530.6 406.7L528.4 405.3L526.3 403.9L525.9 403.6L524.0 402.4L521.8 401.0L520.5 400.1L519.6 399.5L517.5 398.1L515.3 396.7L515.2 396.6L513.2 395.2L511.1 393.8L509.9 393.0L509.0 392.4L506.9 390.9L504.8 389.5L504.5 389.3L502.0 388.0L499.2 386.7L499.1 386.6L495.4 385.2L493.9 384.6L491.8 383.7L488.5 382.4L488.2 382.3L484.7 380.9L483.2 380.3L480.6 379.4L477.9 378.4L476.0 378.0L472.6 377.2L469.1 376.5L467.2 376.2L462.2 375.1L461.9 375.0L456.6 373.9L451.7 375.1L451.3 376.5L451.2 377.6L451.0 376.5L450.7 375.1L450.5 373.7M419.0 373.7L418.4 375.1L417.8 376.5L417.2 378.0L416.6 379.4L415.9 380.9L415.3 382.3L414.6 383.7L413.9 385.2L413.9 385.2L413.2 386.6L412.5 388.0L411.8 389.5L411.0 390.9L408.9 392.4L408.6 392.5L408.1 392.4L403.8 390.9L403.2 390.7M561.0 373.7L561.1 375.1L561.3 376.5L561.5 378.0L561.6 379.4L561.8 380.9L562.0 382.3L562.2 383.7L562.4 385.2L562.6 386.6L562.8 388.0L562.9 389.5L563.1 390.9L563.2 391.4L563.3 392.4L563.4 393.8L563.5 395.2L563.6 396.7L563.8 398.1L563.9 399.5L564.0 401.0L564.1 402.4L564.2 403.9L564.4 405.3L564.5 406.7L564.6 408.2L564.7 409.6L564.9 411.0L565.0 412.5L565.6 413.9L566.7 415.4L568.5 416.8L568.5 416.8L569.9 418.2L571.3 419.7L572.7 421.1L573.9 422.3L574.2 422.5L576.0 424.0L577.9 425.4L579.2 426.5L581.4 426.9L584.5 427.4L589.9 428.3L589.9 428.3L595.2 429.2L599.2 429.7L600.5 429.9L605.9 430.7L611.2 430.9L616.5 431.0L621.9 430.1L624.5 429.7L627.2 429.3L632.5 429.5L637.9 429.7L638.3 429.7L643.2 429.9L643.5 429.7L645.2 428.3L645.3 426.9L645.2 425.4L645.0 424.0L644.8 422.5L644.7 421.1L644.5 419.7L644.3 418.2L644.2 416.8L644.0 415.4L643.8 413.9L643.2 412.8L643.0 412.5L641.8 411.0L640.6 409.6L639.4 408.2L638.2 406.7L637.9 406.3L637.0 405.3L635.8 403.9L634.6 402.4L633.4 401.0L632.5 399.9L632.3 399.5L631.1 398.1L629.9 396.7L628.8 395.2L627.6 393.8L627.2 393.3L623.9 392.4L621.9 391.8L620.3 392.4L616.5 393.6L611.2 392.6L610.4 392.4L605.9 391.3L600.5 391.3L595.2 391.3L589.9 391.4L585.1 392.4L584.5 392.5L579.2 393.5L578.0 392.4L576.6 390.9L575.1 389.5L573.9 388.2L573.8 388.0L572.8 386.6L571.9 385.2L571.0 383.7L570.1 382.3L569.2 380.9L568.5 379.8L567.5 379.4L565.9 378.0L565.3 376.5L564.9 375.1L564.7 373.7M403.2 428.5L408.6 428.5L411.2 428.3L413.9 428.0L417.7 426.9L419.2 426.4L423.8 425.4L424.6 425.3L425.6 425.4L429.9 426.1L434.5 426.9L435.2 427.0L436.9 426.9L440.6 426.1L441.0 425.4L442.0 424.0L443.0 422.5L444.0 421.1L445.1 419.7L445.9 418.5L446.1 418.2L447.1 416.8L448.2 415.4L449.2 413.9L449.1 412.5L448.1 411.0L447.1 409.6L446.1 408.2L445.9 407.9L445.1 406.7L444.1 405.3L443.1 403.9L442.3 402.4L441.4 401.0L440.6 400.0L440.2 399.5L439.3 398.1L438.3 396.7L437.7 395.2L437.0 393.8L435.8 392.4L435.2 391.9L434.6 390.9L433.7 389.5L433.2 388.0L432.7 386.6L431.8 385.2L430.3 383.7L429.9 383.5L429.2 382.3L428.8 380.9L428.5 379.4L428.1 378.0L427.4 376.5L426.1 375.1L424.6 374.0L424.0 375.1L423.2 376.5L422.3 378.0L421.4 379.4L420.4 380.9L419.5 382.3L419.2 382.7L418.7 383.7L418.1 385.2L417.4 386.6L416.7 388.0L416.0 389.5L415.3 390.9L414.6 392.4L413.9 393.7L413.8 393.8L409.6 395.2L408.6 395.4L408.2 395.2L403.8 393.8L403.2 393.6M476.8 426.9L477.9 427.4L483.2 427.4L488.5 427.4L493.9 426.9L494.7 426.9L499.2 426.3L504.5 426.1L509.9 426.4L515.2 426.7L518.0 426.9L520.5 427.0L520.9 426.9L522.6 425.4L524.0 424.0L525.3 422.5L525.9 422.0L526.7 421.1L528.1 419.7L529.5 418.2L530.9 416.8L531.2 416.5L532.3 415.4L533.7 413.9L533.0 412.5L531.2 411.4L530.7 411.0L528.5 409.6L526.2 408.2L525.9 407.9L524.0 406.7L521.8 405.3L520.5 404.5L519.6 403.9L517.4 402.4L515.2 401.0L515.2 401.0L513.1 399.5L510.9 398.1L509.9 397.4L508.7 396.7L506.6 395.2L504.5 393.8L504.5 393.8L501.5 392.4L499.2 391.2L498.3 390.9L494.6 389.5L493.9 389.2L490.8 388.0L488.5 387.2L486.9 386.6L483.2 385.2L483.2 385.2L477.9 384.0L476.7 383.7L472.6 382.9L469.2 382.3L467.2 381.9L461.9 380.9L459.4 382.3L458.5 383.7L457.9 385.2L457.6 386.6L457.4 388.0L457.4 389.5L457.3 390.9L457.3 392.4L457.2 393.8L457.2 395.2L457.1 396.7L457.1 398.1L457.1 399.5L457.0 401.0L457.0 402.4L456.9 403.9L456.9 405.3L456.9 406.7L456.8 408.2L456.8 409.6L456.7 411.0L456.7 412.5L457.5 413.9L459.6 415.4L461.6 416.8L461.9 417.0L463.6 418.2L465.7 419.7L467.2 420.8L467.7 421.1L469.7 422.5L471.6 424.0L472.6 424.6L474.1 425.4L476.8 426.9M603.1 426.9L605.9 427.2L611.2 427.5L616.5 427.5L619.0 426.9L621.9 426.1L626.5 425.4L627.2 425.3L630.0 425.4L632.5 425.5L637.9 425.7L638.4 425.4L640.1 424.0L640.3 422.5L640.1 421.1L640.0 419.7L639.8 418.2L639.6 416.8L639.5 415.4L639.3 413.9L638.5 412.5L637.9 411.7L637.3 411.0L636.1 409.6L634.9 408.2L633.7 406.7L632.5 405.4L632.5 405.3L631.3 403.9L630.1 402.4L628.9 401.0L627.7 399.5L627.2 398.9L624.2 398.1L621.9 397.5L618.0 398.1L616.5 398.3L615.9 398.1L611.2 396.8L610.5 396.7L605.9 395.6L600.5 395.6L595.2 395.6L589.9 396.3L588.0 396.7L584.5 397.4L580.8 398.1L579.2 398.4L578.9 398.1L577.4 396.7L575.9 395.2L574.5 393.8L573.9 393.2L572.8 392.4L571.8 390.9L571.3 389.5L570.4 388.0L569.5 386.6L568.6 385.2L568.5 385.1L568.5 385.2L567.2 386.6L566.5 388.0L566.1 389.5L566.2 390.9L566.4 392.4L566.5 393.8L566.6 395.2L566.7 396.7L566.8 398.1L566.9 399.5L567.1 401.0L567.2 402.4L567.3 403.9L567.4 405.3L567.6 406.7L567.7 408.2L567.8 409.6L567.9 411.0L568.0 412.5L568.5 413.5L568.7 413.9L570.1 415.4L571.6 416.8L573.0 418.2L573.9 419.1L574.6 419.7L576.4 421.1L578.3 422.5L579.2 423.3L583.6 424.0L584.5 424.1L589.9 425.0L592.7 425.4L595.2 425.8L600.5 426.5L603.1 426.9M403.2 426.5L408.6 426.5L413.9 425.5L414.0 425.4L418.9 424.0L419.2 423.9L424.6 422.7L429.9 423.6L432.4 424.0L435.2 424.4L436.3 424.0L437.6 422.5L438.6 421.1L439.6 419.7L440.6 418.4L440.7 418.2L441.7 416.8L442.8 415.4L443.8 413.9L443.7 412.5L442.7 411.0L441.7 409.6L440.7 408.2L440.6 408.0L439.7 406.7L438.7 405.3L437.7 403.9L436.8 402.4L435.8 401.0L435.2 400.1L434.8 399.5L433.9 398.1L432.9 396.7L432.0 395.2L431.0 393.8L430.1 392.4L429.9 392.0L429.2 390.9L428.2 389.5L427.3 388.0L426.4 386.6L425.5 385.2L424.6 383.7L424.6 383.6L424.5 383.7L423.5 385.2L422.5 386.6L421.5 388.0L420.5 389.5L419.5 390.9L419.2 391.3L418.7 392.4L418.0 393.8L417.3 395.2L416.5 396.7L415.8 398.1L414.5 399.5L413.9 399.9L412.8 399.5L408.6 398.2L408.3 398.1L403.9 396.7L403.2 396.4M476.0 424.0L477.9 425.0L483.2 425.0L488.5 424.8L493.9 424.2L496.2 424.0L499.2 423.6L504.5 423.4L509.9 423.7L515.1 424.0L515.2 424.0L515.2 424.0L518.7 422.5L520.1 421.1L520.5 420.7L521.5 419.7L522.9 418.2L524.3 416.8L525.7 415.4L525.9 415.2L527.1 413.9L526.4 412.5L525.9 412.2L524.1 411.0L521.9 409.6L520.5 408.7L519.7 408.2L517.4 406.7L515.2 405.3L515.2 405.3L513.0 403.9L510.8 402.4L509.9 401.8L508.6 401.0L506.5 399.5L504.5 398.3L504.2 398.1L501.2 396.7L499.2 395.7L497.9 395.2L494.0 393.8L493.9 393.7L490.2 392.4L488.5 391.7L485.0 390.9L483.2 390.5L478.8 389.5L477.9 389.3L472.6 388.3L471.3 388.0L467.2 387.3L463.3 386.6L461.9 386.4L461.7 386.6L460.8 388.0L460.7 389.5L460.6 390.9L460.6 392.4L460.6 393.8L460.5 395.2L460.5 396.7L460.4 398.1L460.4 399.5L460.4 401.0L460.3 402.4L460.3 403.9L460.2 405.3L460.2 406.7L460.1 408.2L460.1 409.6L460.1 411.0L460.0 412.5L460.8 413.9L461.9 414.6L462.9 415.4L464.9 416.8L467.0 418.2L467.2 418.4L469.0 419.7L471.0 421.1L472.6 422.2L473.2 422.5L476.0 424.0M608.1 424.0L611.2 424.1L612.5 424.0L616.5 423.5L620.4 422.5L621.9 422.2L627.2 421.4L632.5 421.6L633.6 421.1L635.1 419.7L635.3 418.2L635.1 416.8L634.9 415.4L634.7 413.9L634.0 412.5L632.7 411.0L632.5 410.8L631.5 409.6L630.3 408.2L629.1 406.7L627.9 405.3L627.2 404.4L625.0 403.9L621.9 403.0L616.5 402.5L616.4 402.4L611.2 401.0L611.1 401.0L605.9 399.8L600.5 399.8L595.2 400.1L590.5 401.0L589.9 401.1L584.5 402.2L583.2 402.4L579.2 403.2L578.4 402.4L576.9 401.0L575.4 399.5L573.9 398.1L573.9 398.1L573.8 398.1L571.8 399.5L571.0 401.0L570.6 402.4L570.4 403.9L570.5 405.3L570.6 406.7L570.7 408.2L570.9 409.6L571.0 411.0L571.1 412.5L571.8 413.9L573.2 415.4L573.9 416.0L574.9 416.8L576.8 418.2L578.7 419.7L579.2 420.1L584.5 421.0L585.6 421.1L589.9 421.7L595.2 422.4L596.0 422.5L600.5 423.2L605.9 423.9L608.1 424.0M403.2 424.5L408.6 424.4L410.3 424.0L413.9 422.9L415.3 422.5L419.2 421.4L420.6 421.1L424.6 420.3L429.9 421.1L433.9 419.7L435.2 418.3L435.3 418.2L436.3 416.8L437.3 415.4L438.4 413.9L438.2 412.5L437.2 411.0L436.2 409.6L435.3 408.2L435.2 408.1L434.3 406.7L433.3 405.3L432.3 403.9L431.3 402.4L430.4 401.0L429.9 400.3L429.4 399.5L428.5 398.1L427.5 396.7L426.6 395.2L425.6 393.8L424.7 392.4L424.6 392.2L424.4 392.4L423.4 393.8L422.4 395.2L421.3 396.7L420.3 398.1L419.2 399.5L419.2 399.6L418.0 401.0L415.0 402.4L413.9 402.7L413.1 402.4L408.6 401.0L408.6 401.0L404.2 399.5L403.2 399.2M475.1 421.1L477.9 422.5L483.2 422.5L488.5 422.2L493.9 421.6L498.1 421.1L499.2 421.0L504.5 420.7L509.9 421.0L514.8 419.7L515.2 419.3L516.3 418.2L517.7 416.8L519.1 415.4L520.5 413.9L519.8 412.5L517.5 411.0L515.3 409.6L515.2 409.6L513.1 408.2L510.8 406.7L509.9 406.1L508.6 405.3L506.4 403.9L504.5 402.6L504.1 402.4L501.0 401.0L499.2 400.1L497.6 399.5L493.9 398.2L493.6 398.1L488.5 396.7L488.4 396.7L483.2 395.6L481.6 395.2L477.9 394.4L474.4 393.8L472.6 393.5L467.2 392.5L465.7 393.8L464.7 395.2L464.1 396.7L463.8 398.1L463.7 399.5L463.7 401.0L463.6 402.4L463.6 403.9L463.6 405.3L463.5 406.7L463.5 408.2L463.4 409.6L463.4 411.0L463.3 412.5L464.2 413.9L466.2 415.4L467.2 416.0L468.3 416.8L470.3 418.2L472.3 419.7L472.6 419.8L475.1 421.1M598.9 419.7L600.5 419.9L605.9 420.6L611.2 420.8L616.4 419.7L616.5 419.6L621.9 418.3L622.4 418.2L627.2 417.6L628.9 416.8L630.1 415.4L630.2 413.9L629.4 412.5L628.2 411.0L627.2 409.9L626.6 409.6L622.5 408.2L621.9 408.0L617.1 406.7L616.5 406.6L611.7 405.3L611.2 405.1L605.9 404.0L600.5 404.0L595.2 404.8L592.8 405.3L589.9 405.9L585.3 406.7L584.5 406.9L579.2 407.9L574.9 406.7L574.7 405.3L574.6 403.9L573.9 403.0L573.4 403.9L573.6 405.3L573.7 406.7L573.8 408.2L573.9 408.9L574.1 409.6L574.3 411.0L574.4 412.5L575.2 413.9L577.1 415.4L579.0 416.8L579.2 417.0L584.5 417.8L588.2 418.2L589.9 418.5L595.2 419.2L598.9 419.7M403.2 422.5L408.6 422.0L411.6 421.1L413.9 420.5L416.6 419.7L419.2 418.9L422.6 418.2L424.6 417.8L429.9 418.2L430.9 416.8L431.9 415.4L433.0 413.9L432.8 412.5L431.8 411.0L430.8 409.6L429.9 408.2L429.8 408.2L428.9 406.7L427.9 405.3L426.9 403.9L425.9 402.4L425.0 401.0L424.6 400.4L424.1 401.0L423.1 402.4L422.0 403.9L420.9 405.3L419.8 406.7L419.2 407.0L418.3 406.7L413.9 405.4L413.5 405.3L409.0 403.9L408.6 403.7L404.5 402.4L403.2 402.0M477.0 419.7L477.9 420.1L483.2 420.1L487.2 419.7L488.5 419.5L493.9 418.9L499.2 418.3L501.6 418.2L504.5 418.1L509.9 418.0L511.1 416.8L512.5 415.4L513.9 413.9L513.2 412.5L510.9 411.0L509.9 410.4L508.7 409.6L506.5 408.2L504.5 406.9L504.1 406.7L501.0 405.3L499.2 404.5L497.1 403.9L493.9 402.8L492.0 402.4L488.5 401.7L485.1 401.0L483.2 400.6L478.2 399.5L477.9 399.5L472.6 398.5L468.8 398.1L467.2 397.9L467.1 398.1L467.1 399.5L467.0 401.0L467.0 402.4L466.9 403.9L466.9 405.3L466.8 406.7L466.8 408.2L466.8 409.6L466.7 411.0L466.7 412.5L467.2 413.4L467.5 413.9L469.6 415.4L471.6 416.8L472.6 417.5L474.1 418.2L477.0 419.7M601.6 416.8L605.9 417.4L611.2 417.2L612.6 416.8L616.5 415.8L618.4 415.4L621.9 414.5L623.5 413.9L622.8 412.5L621.9 412.1L618.0 411.0L616.5 410.6L612.6 409.6L611.2 409.2L606.3 408.2L605.9 408.1L604.4 408.2L600.5 408.5L595.2 409.5L594.7 409.6L589.9 410.5L587.2 411.0L584.5 411.5L579.6 412.5L579.8 413.9L584.5 414.5L589.9 415.2L590.7 415.4L595.2 415.9L600.5 416.6L601.6 416.8M403.2 420.6L408.0 419.7L408.6 419.5L413.1 418.2L413.9 418.0L418.2 416.8L419.2 416.5L424.6 415.4L424.7 415.4L427.5 413.9L427.4 412.5L426.4 411.0L425.4 409.6L424.6 408.4L420.9 409.6L419.2 409.8L418.6 409.6L414.1 408.2L413.9 408.1L409.5 406.7L408.6 406.4L405.0 405.3L403.2 404.7M475.9 416.8L477.9 417.8L483.2 417.5L488.5 416.9L489.6 416.8L493.9 416.3L499.2 415.7L504.5 415.5L505.0 415.4L507.3 413.9L506.6 412.5L504.5 411.2L504.2 411.0L500.9 409.6L499.2 408.8L496.1 408.2L493.9 407.7L489.1 406.7L488.5 406.6L483.2 405.5L482.1 405.3L477.9 404.4L474.7 403.9L472.6 403.5L472.1 403.9L471.0 405.3L470.3 406.7L470.1 408.2L470.1 409.6L470.0 411.0L470.0 412.5L470.8 413.9L472.6 415.1L473.0 415.4L475.9 416.8M604.1 413.9L605.9 414.1L607.6 413.9L607.4 412.5L605.9 412.2L603.9 412.5L604.1 413.9M403.2 418.6L404.5 418.2L408.6 417.1L409.6 416.8L413.9 415.6L414.7 415.4L419.2 414.1L419.9 413.9L419.2 412.5L419.2 412.5L414.6 411.0L413.9 410.8L410.0 409.6L408.6 409.1L405.5 408.2L403.2 407.5M477.8 415.4L477.9 415.4L478.5 415.4L483.2 414.9L488.5 414.3L492.3 413.9L493.7 412.5L488.5 411.5L486.5 411.0L483.2 410.4L479.4 409.6L477.9 409.3L476.9 409.6L474.7 411.0L474.0 412.5L474.9 413.9L477.8 415.4M403.2 416.2L406.1 415.4L408.6 414.7L411.2 413.9L410.7 412.5L408.6 411.8L406.0 411.0L403.2 410.2"/>
<rect x="385.0" y="369.1" width="286.7" height="77.0" fill="none" stroke="#c4c4c4" stroke-width="0.7"/>
<path d="M393.9 445.6v-2.5M393.9 369.3v2.5M422.5 445.6v-2.5M422.5 369.3v2.5M451.1 445.6v-2.5M451.1 369.3v2.5M479.7 445.6v-2.5M479.7 369.3v2.5M508.4 445.6v-2.5M508.4 369.3v2.5M537.0 445.6v-2.5M537.0 369.3v2.5M565.6 445.6v-2.5M565.6 369.3v2.5M594.2 445.6v-2.5M594.2 369.3v2.5M622.8 445.6v-2.5M622.8 369.3v2.5M651.5 445.6v-2.5M651.5 369.3v2.5M385.3 442.7h2.5M671.5 442.7h-2.5M385.3 413.3h2.5M671.5 413.3h-2.5M385.3 384.0h2.5M671.5 384.0h-2.5" stroke="#9a9a9a" stroke-width="0.5" fill="none"/>
<g fill="#222"><circle cx="397.9" cy="442.7" r="0.6"/><circle cx="423.7" cy="442.7" r="0.6"/><circle cx="454.0" cy="442.7" r="0.6"/><circle cx="476.3" cy="442.7" r="0.6"/><circle cx="502.6" cy="442.7" r="0.6"/><circle cx="539.6" cy="442.7" r="0.6"/><circle cx="563.0" cy="442.7" r="0.6"/><circle cx="577.6" cy="442.7" r="0.6"/><circle cx="606.8" cy="442.7" r="0.6"/><circle cx="625.1" cy="442.7" r="0.6"/><circle cx="659.2" cy="442.7" r="0.6"/><circle cx="397.9" cy="413.3" r="0.6"/><circle cx="423.7" cy="413.3" r="0.6"/><circle cx="454.0" cy="413.3" r="0.6"/><circle cx="476.3" cy="413.3" r="0.6"/><circle cx="502.6" cy="413.3" r="0.6"/><circle cx="539.6" cy="413.3" r="0.6"/><circle cx="563.0" cy="413.3" r="0.6"/><circle cx="577.6" cy="413.3" r="0.6"/><circle cx="606.8" cy="413.3" r="0.6"/><circle cx="625.1" cy="413.3" r="0.6"/><circle cx="659.2" cy="413.3" r="0.6"/><circle cx="397.9" cy="372.2" r="0.6"/><circle cx="423.7" cy="372.2" r="0.6"/><circle cx="454.0" cy="372.2" r="0.6"/><circle cx="476.3" cy="372.2" r="0.6"/><circle cx="502.6" cy="372.2" r="0.6"/><circle cx="539.6" cy="372.2" r="0.6"/><circle cx="563.0" cy="372.2" r="0.6"/><circle cx="577.6" cy="372.2" r="0.6"/><circle cx="606.8" cy="372.2" r="0.6"/><circle cx="625.1" cy="372.2" r="0.6"/><circle cx="659.2" cy="372.2" r="0.6"/></g>
<g font-size="10.3" fill="#2b2b2b"><text transform="translate(393.9 457.9) scale(0.88 1)" text-anchor="middle">5</text><text transform="translate(422.5 457.9) scale(0.88 1)" text-anchor="middle">5.5</text><text transform="translate(451.1 457.9) scale(0.88 1)" text-anchor="middle">6</text><text transform="translate(479.7 457.9) scale(0.88 1)" text-anchor="middle">6.5</text><text transform="translate(508.4 457.9) scale(0.88 1)" text-anchor="middle">7</text><text transform="translate(537.0 457.9) scale(0.88 1)" text-anchor="middle">7.5</text><text transform="translate(565.6 457.9) scale(0.88 1)" text-anchor="middle">8</text><text transform="translate(594.2 457.9) scale(0.88 1)" text-anchor="middle">8.5</text><text transform="translate(622.8 457.9) scale(0.88 1)" text-anchor="middle">9</text><text transform="translate(651.5 457.9) scale(0.88 1)" text-anchor="middle">9.5</text><text transform="translate(382.4 446.4) scale(0.88 1)" text-anchor="end">25</text><text transform="translate(382.4 417.0) scale(0.88 1)" text-anchor="end">30</text><text transform="translate(382.4 387.7) scale(0.88 1)" text-anchor="end">35</text></g>
<text transform="translate(528.4 470.4) scale(0.86 1)" font-size="11" fill="#222" text-anchor="middle">pH</text>
<text font-size="11.4" fill="#222" text-anchor="middle" transform="translate(370.6 406.9) rotate(-90) scale(0.905 1)">Temperature (°C)</text>
<rect x="674.8" y="369.3" width="4.6" height="76.3" fill="url(#pg)" stroke="#bbb" stroke-width="0.3"/>
<g font-size="9.8" fill="#2b2b2b"><text transform="translate(681.7 433.6) scale(0.88 1)">1</text><text transform="translate(681.7 418.4) scale(0.88 1)">2</text><text transform="translate(681.7 403.1) scale(0.88 1)">3</text><text transform="translate(681.7 387.9) scale(0.88 1)">4</text><text transform="translate(681.7 372.6) scale(0.88 1)">5</text></g>
<text x="94.1" y="13.4" font-size="15.3" font-weight="bold" fill="#000" textLength="162.2" lengthAdjust="spacingAndGlyphs">Planktonic Growth Rate</text>
<text x="459.1" y="13.4" font-size="15.3" font-weight="bold" fill="#000" textLength="139.3" lengthAdjust="spacingAndGlyphs">Biofilm Growth Rate</text>
<path d="M352.7 9V481" stroke="#000" stroke-width="1.6"/>
<path d="M23.5 240.9H677.3" stroke="#000" stroke-width="1.5"/>
<path d="M690.7 19V210.8M707.8 19V210.8" stroke="#444" stroke-width="0.9"/>
<path d="M689.3 254.4V481M707.4 254.4V481" stroke="#444" stroke-width="0.9"/>
<text font-size="14" font-weight="bold" fill="#000" textLength="74.1" lengthAdjust="spacingAndGlyphs" transform="translate(694.6 75.6) rotate(90)">Clinical strains</text>
<text font-size="14" font-weight="bold" fill="#000" textLength="111.5" lengthAdjust="spacingAndGlyphs" transform="translate(694.2 290.6) rotate(90)">Environmental strains</text>
</svg>
</body></html>
